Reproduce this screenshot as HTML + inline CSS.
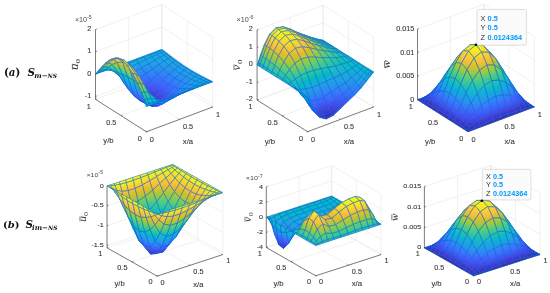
<!DOCTYPE html>
<html><head><meta charset="utf-8"><title>Displacement plots</title>
<style>html,body{margin:0;padding:0;background:#fff;width:550px;height:293px;overflow:hidden}svg{display:block;filter:blur(0.4px)}</style>
</head><body>
<svg width="550" height="293" viewBox="0 0 550 293" font-family="&apos;Liberation Sans&apos;, Arial, sans-serif">
<line x1="95.50" y1="96.50" x2="161.80" y2="71.70" stroke="#e2e2e2" stroke-width="0.5"/>
<line x1="161.80" y1="71.70" x2="212.70" y2="104.10" stroke="#e2e2e2" stroke-width="0.5"/>
<line x1="95.50" y1="74.16" x2="161.80" y2="49.36" stroke="#e2e2e2" stroke-width="0.5"/>
<line x1="161.80" y1="49.36" x2="212.70" y2="81.76" stroke="#e2e2e2" stroke-width="0.5"/>
<line x1="95.50" y1="51.83" x2="161.80" y2="27.03" stroke="#e2e2e2" stroke-width="0.5"/>
<line x1="161.80" y1="27.03" x2="212.70" y2="59.43" stroke="#e2e2e2" stroke-width="0.5"/>
<line x1="95.50" y1="29.50" x2="161.80" y2="4.70" stroke="#e2e2e2" stroke-width="0.5"/>
<line x1="161.80" y1="4.70" x2="212.70" y2="37.10" stroke="#e2e2e2" stroke-width="0.5"/>
<line x1="95.50" y1="99.40" x2="95.50" y2="29.50" stroke="#e2e2e2" stroke-width="0.5"/>
<line x1="212.70" y1="107.00" x2="212.70" y2="37.10" stroke="#e2e2e2" stroke-width="0.5"/>
<line x1="146.40" y1="131.80" x2="95.50" y2="99.40" stroke="#e2e2e2" stroke-width="0.5"/>
<line x1="146.40" y1="131.80" x2="212.70" y2="107.00" stroke="#e2e2e2" stroke-width="0.5"/>
<line x1="128.65" y1="87.00" x2="128.65" y2="17.10" stroke="#e2e2e2" stroke-width="0.5"/>
<line x1="187.25" y1="90.80" x2="187.25" y2="20.90" stroke="#e2e2e2" stroke-width="0.5"/>
<line x1="179.55" y1="119.40" x2="128.65" y2="87.00" stroke="#e2e2e2" stroke-width="0.5"/>
<line x1="120.95" y1="115.60" x2="187.25" y2="90.80" stroke="#e2e2e2" stroke-width="0.5"/>
<line x1="161.80" y1="74.60" x2="161.80" y2="4.70" stroke="#e2e2e2" stroke-width="0.5"/>
<line x1="161.80" y1="74.60" x2="161.80" y2="4.70" stroke="#e2e2e2" stroke-width="0.5"/>
<line x1="212.70" y1="107.00" x2="161.80" y2="74.60" stroke="#e2e2e2" stroke-width="0.5"/>
<line x1="95.50" y1="99.40" x2="161.80" y2="74.60" stroke="#e2e2e2" stroke-width="0.5"/>
<line x1="146.40" y1="131.80" x2="212.70" y2="107.00" stroke="#4a4a4a" stroke-width="0.7"/>
<line x1="146.40" y1="131.80" x2="95.50" y2="99.40" stroke="#4a4a4a" stroke-width="0.7"/>
<line x1="95.50" y1="99.40" x2="95.50" y2="29.50" stroke="#4a4a4a" stroke-width="0.7"/>
<line x1="146.40" y1="131.80" x2="145.38" y2="131.15" stroke="#4a4a4a" stroke-width="0.7"/>
<line x1="146.40" y1="131.80" x2="147.73" y2="131.30" stroke="#4a4a4a" stroke-width="0.7"/>
<line x1="179.55" y1="119.40" x2="178.53" y2="118.75" stroke="#4a4a4a" stroke-width="0.7"/>
<line x1="120.95" y1="115.60" x2="122.28" y2="115.10" stroke="#4a4a4a" stroke-width="0.7"/>
<line x1="212.70" y1="107.00" x2="211.68" y2="106.35" stroke="#4a4a4a" stroke-width="0.7"/>
<line x1="95.50" y1="99.40" x2="96.83" y2="98.90" stroke="#4a4a4a" stroke-width="0.7"/>
<line x1="95.50" y1="96.50" x2="96.83" y2="96.00" stroke="#4a4a4a" stroke-width="0.7"/>
<line x1="95.50" y1="74.16" x2="96.83" y2="73.67" stroke="#4a4a4a" stroke-width="0.7"/>
<line x1="95.50" y1="51.83" x2="96.83" y2="51.34" stroke="#4a4a4a" stroke-width="0.7"/>
<line x1="95.50" y1="29.50" x2="96.83" y2="29.00" stroke="#4a4a4a" stroke-width="0.7"/>
<defs><linearGradient id="a13" gradientUnits="userSpaceOnUse" x1="156.4" y1="60.4" x2="155.7" y2="54.9"><stop stop-color="#20a5e3"/><stop offset="1" stop-color="#18addb"/></linearGradient><linearGradient id="a15" gradientUnits="userSpaceOnUse" x1="163.9" y1="61.3" x2="164.3" y2="55.6"><stop stop-color="#20a5e3"/><stop offset="1" stop-color="#18addb"/></linearGradient><linearGradient id="a16" gradientUnits="userSpaceOnUse" x1="148.3" y1="59.1" x2="147.3" y2="55.7"><stop stop-color="#1ca9df"/><stop offset="1" stop-color="#12b1d6"/></linearGradient><linearGradient id="a18" gradientUnits="userSpaceOnUse" x1="159.4" y1="65" x2="159.6" y2="57.7"><stop stop-color="#259be8"/><stop offset="1" stop-color="#1ca9df"/></linearGradient><linearGradient id="a19" gradientUnits="userSpaceOnUse" x1="150.8" y1="63.6" x2="149.7" y2="57.5"><stop stop-color="#23a0e5"/><stop offset="1" stop-color="#18addb"/></linearGradient><linearGradient id="a20" gradientUnits="userSpaceOnUse" x1="171.1" y1="62.1" x2="172.3" y2="57.9"><stop stop-color="#20a5e3"/><stop offset="1" stop-color="#18addb"/></linearGradient><linearGradient id="a22" gradientUnits="userSpaceOnUse" x1="167.8" y1="65.3" x2="169.2" y2="59.1"><stop stop-color="#23a0e5"/><stop offset="1" stop-color="#1ca9df"/></linearGradient><linearGradient id="a23" gradientUnits="userSpaceOnUse" x1="141.8" y1="62.2" x2="140.6" y2="58.4"><stop stop-color="#20a5e3"/><stop offset="1" stop-color="#12b1d6"/></linearGradient><linearGradient id="a24" gradientUnits="userSpaceOnUse" x1="154" y1="69.2" x2="153.5" y2="60.7"><stop stop-color="#2b91ef"/><stop offset="1" stop-color="#20a5e3"/></linearGradient><linearGradient id="a25" gradientUnits="userSpaceOnUse" x1="144.4" y1="67.5" x2="142.9" y2="60.6"><stop stop-color="#2797eb"/><stop offset="1" stop-color="#1ca9df"/></linearGradient><linearGradient id="a26" gradientUnits="userSpaceOnUse" x1="163.2" y1="69.7" x2="164.6" y2="61.5"><stop stop-color="#2b91ef"/><stop offset="1" stop-color="#20a5e3"/></linearGradient><linearGradient id="a28" gradientUnits="userSpaceOnUse" x1="176" y1="65.7" x2="177.6" y2="61.9"><stop stop-color="#23a0e5"/><stop offset="1" stop-color="#1ca9df"/></linearGradient><linearGradient id="a29" gradientUnits="userSpaceOnUse" x1="147.7" y1="74.1" x2="146.6" y2="64.3"><stop stop-color="#2f81fa"/><stop offset="1" stop-color="#23a0e5"/></linearGradient><linearGradient id="a31" gradientUnits="userSpaceOnUse" x1="157.7" y1="74.9" x2="158.6" y2="64.9"><stop stop-color="#2f81fa"/><stop offset="1" stop-color="#259be8"/></linearGradient><linearGradient id="a32" gradientUnits="userSpaceOnUse" x1="134.7" y1="65.5" x2="133.3" y2="61.3"><stop stop-color="#20a5e3"/><stop offset="1" stop-color="#12b1d6"/></linearGradient><linearGradient id="a33" gradientUnits="userSpaceOnUse" x1="172.5" y1="69.1" x2="174.6" y2="63.3"><stop stop-color="#2797eb"/><stop offset="1" stop-color="#20a5e3"/></linearGradient><linearGradient id="a34" gradientUnits="userSpaceOnUse" x1="137.4" y1="71.5" x2="135.5" y2="64"><stop stop-color="#2d8cf3"/><stop offset="1" stop-color="#20a5e3"/></linearGradient><linearGradient id="a35" gradientUnits="userSpaceOnUse" x1="167.6" y1="74" x2="170.3" y2="66"><stop stop-color="#2e87f7"/><stop offset="1" stop-color="#23a0e5"/></linearGradient><linearGradient id="a36" gradientUnits="userSpaceOnUse" x1="151.4" y1="80.9" x2="151.7" y2="69.2"><stop stop-color="#4269fe"/><stop offset="1" stop-color="#2b91ef"/></linearGradient><linearGradient id="a37" gradientUnits="userSpaceOnUse" x1="140.8" y1="79.1" x2="139.1" y2="68.5"><stop stop-color="#3e6fff"/><stop offset="1" stop-color="#2797eb"/></linearGradient><linearGradient id="a39" gradientUnits="userSpaceOnUse" x1="162" y1="80" x2="164.4" y2="69.9"><stop stop-color="#3e6fff"/><stop offset="1" stop-color="#2b91ef"/></linearGradient><linearGradient id="a41" gradientUnits="userSpaceOnUse" x1="127.3" y1="68.6" x2="125.8" y2="64.2"><stop stop-color="#23a0e5"/><stop offset="1" stop-color="#18addb"/></linearGradient><linearGradient id="a43" gradientUnits="userSpaceOnUse" x1="144.6" y1="87" x2="144.1" y2="74.3"><stop stop-color="#4852f4"/><stop offset=".50" stop-color="#4269fe"/><stop offset="1" stop-color="#2f81fa"/></linearGradient><linearGradient id="a44" gradientUnits="userSpaceOnUse" x1="130.2" y1="75" x2="127.9" y2="67.6"><stop stop-color="#2e87f7"/><stop offset="1" stop-color="#20a5e3"/></linearGradient><linearGradient id="a45" gradientUnits="userSpaceOnUse" x1="177.9" y1="72.5" x2="180.4" y2="67.7"><stop stop-color="#2797eb"/><stop offset="1" stop-color="#23a0e5"/></linearGradient><linearGradient id="a46" gradientUnits="userSpaceOnUse" x1="155.4" y1="86.8" x2="157.7" y2="74.9"><stop stop-color="#4758f8"/><stop offset="1" stop-color="#2f81fa"/></linearGradient><linearGradient id="a47" gradientUnits="userSpaceOnUse" x1="133.8" y1="83.1" x2="131.4" y2="73"><stop stop-color="#4563fd"/><stop offset="1" stop-color="#2d8cf3"/></linearGradient><linearGradient id="a48" gradientUnits="userSpaceOnUse" x1="172.8" y1="77.5" x2="176.3" y2="70.7"><stop stop-color="#2e87f7"/><stop offset="1" stop-color="#2797eb"/></linearGradient><linearGradient id="a49" gradientUnits="userSpaceOnUse" x1="138" y1="91.6" x2="136" y2="79.8"><stop stop-color="#4741e5"/><stop offset="1" stop-color="#3e6fff"/></linearGradient><linearGradient id="a50" gradientUnits="userSpaceOnUse" x1="148.6" y1="93.8" x2="150.1" y2="80.8"><stop stop-color="#463cde"/><stop offset=".50" stop-color="#4852f4"/><stop offset="1" stop-color="#4269fe"/></linearGradient><linearGradient id="a52" gradientUnits="userSpaceOnUse" x1="120.5" y1="71.4" x2="118.5" y2="66.8"><stop stop-color="#23a0e5"/><stop offset="1" stop-color="#12b1d6"/></linearGradient><linearGradient id="a53" gradientUnits="userSpaceOnUse" x1="166.8" y1="83.6" x2="170.7" y2="75.2"><stop stop-color="#3e6fff"/><stop offset="1" stop-color="#2e87f7"/></linearGradient><linearGradient id="a55" gradientUnits="userSpaceOnUse" x1="124.3" y1="77.7" x2="119.8" y2="69.9"><stop stop-color="#2e87f7"/><stop offset="1" stop-color="#20a5e3"/></linearGradient><linearGradient id="a57" gradientUnits="userSpaceOnUse" x1="159.9" y1="90.7" x2="164.3" y2="80.7"><stop stop-color="#4852f4"/><stop offset="1" stop-color="#3e6fff"/></linearGradient><linearGradient id="a58" gradientUnits="userSpaceOnUse" x1="130" y1="84.9" x2="121.4" y2="75.5"><stop stop-color="#4563fd"/><stop offset=".50" stop-color="#327cfc"/><stop offset="1" stop-color="#2797eb"/></linearGradient><linearGradient id="a59" gradientUnits="userSpaceOnUse" x1="142.3" y1="99.2" x2="141.9" y2="87.1"><stop stop-color="#422ec0"/><stop offset="1" stop-color="#4852f4"/></linearGradient><linearGradient id="a60" gradientUnits="userSpaceOnUse" x1="183" y1="76" x2="186.5" y2="71.5"><stop stop-color="#2797eb"/><stop offset="1" stop-color="#23a0e5"/></linearGradient><linearGradient id="a62" gradientUnits="userSpaceOnUse" x1="152.8" y1="98.1" x2="157" y2="87.2"><stop stop-color="#4332cb"/><stop offset="1" stop-color="#4758f8"/></linearGradient><linearGradient id="a63" gradientUnits="userSpaceOnUse" x1="177.7" y1="80.8" x2="182.6" y2="74.6"><stop stop-color="#2e87f7"/><stop offset="1" stop-color="#2797eb"/></linearGradient><linearGradient id="a64" gradientUnits="userSpaceOnUse" x1="136.9" y1="90.4" x2="123.7" y2="84.1"><stop stop-color="#4741e5"/><stop offset=".50" stop-color="#465efb"/><stop offset="1" stop-color="#327cfc"/></linearGradient><linearGradient id="a65" gradientUnits="userSpaceOnUse" x1="115.8" y1="73.1" x2="110.6" y2="67.7"><stop stop-color="#20a5e3"/><stop offset="1" stop-color="#08b5d0"/></linearGradient><linearGradient id="a66" gradientUnits="userSpaceOnUse" x1="171.1" y1="86.7" x2="177.7" y2="79.2"><stop stop-color="#3e6fff"/><stop offset="1" stop-color="#2e87f7"/></linearGradient><linearGradient id="a67" gradientUnits="userSpaceOnUse" x1="146.3" y1="104.1" x2="148.8" y2="93.8"><stop stop-color="#3e26a8"/><stop offset="1" stop-color="#463cde"/></linearGradient><linearGradient id="a69" gradientUnits="userSpaceOnUse" x1="120.4" y1="76.1" x2="111.2" y2="69.5"><stop stop-color="#2797eb"/><stop offset=".50" stop-color="#1ca9df"/><stop offset="1" stop-color="#01b8ca"/></linearGradient><linearGradient id="a70" gradientUnits="userSpaceOnUse" x1="191.8" y1="76.1" x2="195.1" y2="72.7"><stop stop-color="#23a0e5"/><stop offset="1" stop-color="#1ca9df"/></linearGradient><linearGradient id="a71" gradientUnits="userSpaceOnUse" x1="140.3" y1="93.1" x2="130.1" y2="95.1"><stop stop-color="#422ec0"/><stop offset=".50" stop-color="#4747eb"/><stop offset="1" stop-color="#4563fd"/></linearGradient><linearGradient id="a73" gradientUnits="userSpaceOnUse" x1="163.6" y1="93.5" x2="171.8" y2="85.1"><stop stop-color="#4852f4"/><stop offset="1" stop-color="#3e6fff"/></linearGradient><linearGradient id="a74" gradientUnits="userSpaceOnUse" x1="187.4" y1="79.2" x2="193" y2="74.5"><stop stop-color="#2797eb"/><stop offset="1" stop-color="#20a5e3"/></linearGradient><linearGradient id="a75" gradientUnits="userSpaceOnUse" x1="107.1" y1="70.8" x2="106.7" y2="68.7"><stop stop-color="#08b5d0"/><stop offset="1" stop-color="#19bfb6"/></linearGradient><linearGradient id="a76" gradientUnits="userSpaceOnUse" x1="117.3" y1="80.1" x2="119.8" y2="72.2"><stop stop-color="#327cfc"/><stop offset=".50" stop-color="#20a5e3"/><stop offset="1" stop-color="#0bbdbd"/></linearGradient><linearGradient id="a77" gradientUnits="userSpaceOnUse" x1="155.7" y1="100.5" x2="165.3" y2="92"><stop stop-color="#4332cb"/><stop offset="1" stop-color="#4758f8"/></linearGradient><linearGradient id="a78" gradientUnits="userSpaceOnUse" x1="181.5" y1="83.4" x2="189.5" y2="77.7"><stop stop-color="#2e87f7"/><stop offset="1" stop-color="#23a0e5"/></linearGradient><linearGradient id="a80" gradientUnits="userSpaceOnUse" x1="141.5" y1="98.8" x2="139.4" y2="101"><stop stop-color="#3e26a8"/><stop offset=".50" stop-color="#4537d5"/><stop offset="1" stop-color="#4852f4"/></linearGradient><linearGradient id="a82" gradientUnits="userSpaceOnUse" x1="174.1" y1="87.9" x2="185.2" y2="83"><stop stop-color="#3e6fff"/><stop offset="1" stop-color="#2b91ef"/></linearGradient><linearGradient id="a84" gradientUnits="userSpaceOnUse" x1="147.1" y1="105.2" x2="159.2" y2="99.8"><stop stop-color="#3e26a8"/><stop offset="1" stop-color="#463cde"/></linearGradient><linearGradient id="a85" gradientUnits="userSpaceOnUse" x1="102.5" y1="71.3" x2="102.1" y2="69.9"><stop stop-color="#08b5d0"/><stop offset="1" stop-color="#24c1ae"/></linearGradient><linearGradient id="a86" gradientUnits="userSpaceOnUse" x1="196" y1="78.6" x2="200.9" y2="75.6"><stop stop-color="#20a5e3"/><stop offset="1" stop-color="#18addb"/></linearGradient><linearGradient id="a87" gradientUnits="userSpaceOnUse" x1="109.3" y1="71" x2="109.5" y2="67.1"><stop stop-color="#08b5d0"/><stop offset=".50" stop-color="#19bfb6"/><stop offset="1" stop-color="#3fca8e"/></linearGradient><linearGradient id="a89" gradientUnits="userSpaceOnUse" x1="120.5" y1="83.8" x2="125.4" y2="76.4"><stop stop-color="#4563fd"/><stop offset=".33" stop-color="#2d8cf3"/><stop offset=".67" stop-color="#1ca9df"/><stop offset="1" stop-color="#19bfb6"/></linearGradient><linearGradient id="a90" gradientUnits="userSpaceOnUse" x1="191.1" y1="80.6" x2="199.1" y2="77.8"><stop stop-color="#23a0e5"/><stop offset="1" stop-color="#1ca9df"/></linearGradient><linearGradient id="a91" gradientUnits="userSpaceOnUse" x1="166.5" y1="92.7" x2="179.4" y2="89.7"><stop stop-color="#4758f8"/><stop offset="1" stop-color="#2f81fa"/></linearGradient><linearGradient id="a92" gradientUnits="userSpaceOnUse" x1="99.4" y1="72.2" x2="98.9" y2="70.8"><stop stop-color="#01b8ca"/><stop offset="1" stop-color="#24c1ae"/></linearGradient><linearGradient id="a93" gradientUnits="userSpaceOnUse" x1="97.8" y1="72.8" x2="97.2" y2="71.3"><stop stop-color="#01b8ca"/><stop offset="1" stop-color="#24c1ae"/></linearGradient><linearGradient id="a94" gradientUnits="userSpaceOnUse" x1="185.3" y1="83.4" x2="195.5" y2="81.5"><stop stop-color="#2b91ef"/><stop offset="1" stop-color="#20a5e3"/></linearGradient><linearGradient id="a95" gradientUnits="userSpaceOnUse" x1="159.6" y1="97.3" x2="172" y2="97.9"><stop stop-color="#463cde"/><stop offset=".50" stop-color="#4852f4"/><stop offset="1" stop-color="#4269fe"/></linearGradient><linearGradient id="a97" gradientUnits="userSpaceOnUse" x1="105" y1="69.6" x2="104.5" y2="66.8"><stop stop-color="#19bfb6"/><stop offset="1" stop-color="#57cc7a"/></linearGradient><linearGradient id="a98" gradientUnits="userSpaceOnUse" x1="145.9" y1="103.8" x2="146.2" y2="103.3"><stop stop-color="#3e26a8"/><stop offset=".50" stop-color="#4537d5"/><stop offset="1" stop-color="#4852f4"/></linearGradient><linearGradient id="a100" gradientUnits="userSpaceOnUse" x1="124.8" y1="89.3" x2="131.4" y2="79.5"><stop stop-color="#4852f4"/><stop offset=".25" stop-color="#3875fe"/><stop offset=".50" stop-color="#2797eb"/><stop offset=".75" stop-color="#12b1d6"/><stop offset="1" stop-color="#24c1ae"/></linearGradient><linearGradient id="a101" gradientUnits="userSpaceOnUse" x1="112.2" y1="71.5" x2="113.9" y2="64.9"><stop stop-color="#01b8ca"/><stop offset=".50" stop-color="#37c897"/><stop offset="1" stop-color="#8fcb4e"/></linearGradient><linearGradient id="a102" gradientUnits="userSpaceOnUse" x1="179.5" y1="85.7" x2="189.8" y2="87.4"><stop stop-color="#2f81fa"/><stop offset="1" stop-color="#259be8"/></linearGradient><linearGradient id="a103" gradientUnits="userSpaceOnUse" x1="195.7" y1="80" x2="203.2" y2="81.6"><stop stop-color="#20a5e3"/><stop offset="1" stop-color="#18addb"/></linearGradient><linearGradient id="a104" gradientUnits="userSpaceOnUse" x1="155.6" y1="101.3" x2="161.7" y2="105.6"><stop stop-color="#422ec0"/><stop offset="1" stop-color="#4852f4"/></linearGradient><linearGradient id="a105" gradientUnits="userSpaceOnUse" x1="102" y1="69.9" x2="101.2" y2="67.4"><stop stop-color="#24c1ae"/><stop offset="1" stop-color="#57cc7a"/></linearGradient><linearGradient id="a107" gradientUnits="userSpaceOnUse" x1="100.3" y1="70.3" x2="99.6" y2="67.9"><stop stop-color="#24c1ae"/><stop offset="1" stop-color="#57cc7a"/></linearGradient><linearGradient id="a108" gradientUnits="userSpaceOnUse" x1="173.9" y1="89.9" x2="182.3" y2="93.3"><stop stop-color="#4269fe"/><stop offset="1" stop-color="#2b91ef"/></linearGradient><linearGradient id="a109" gradientUnits="userSpaceOnUse" x1="191.2" y1="82" x2="198.5" y2="84.9"><stop stop-color="#259be8"/><stop offset="1" stop-color="#1ca9df"/></linearGradient><linearGradient id="a113" gradientUnits="userSpaceOnUse" x1="130" y1="94.1" x2="137.4" y2="82.8"><stop stop-color="#4747eb"/><stop offset=".25" stop-color="#3e6fff"/><stop offset=".50" stop-color="#2797eb"/><stop offset=".75" stop-color="#12b1d6"/><stop offset="1" stop-color="#2cc4a7"/></linearGradient><linearGradient id="a114" gradientUnits="userSpaceOnUse" x1="168.6" y1="95.5" x2="173.6" y2="99"><stop stop-color="#4852f4"/><stop offset=".50" stop-color="#4269fe"/><stop offset="1" stop-color="#2f81fa"/></linearGradient><linearGradient id="a115" gradientUnits="userSpaceOnUse" x1="108.5" y1="67.2" x2="108.2" y2="62.9"><stop stop-color="#3fca8e"/><stop offset=".50" stop-color="#72cd64"/><stop offset="1" stop-color="#b9c431"/></linearGradient><linearGradient id="a116" gradientUnits="userSpaceOnUse" x1="186.9" y1="85.2" x2="191.7" y2="88.9"><stop stop-color="#2b91ef"/><stop offset="1" stop-color="#20a5e3"/></linearGradient><linearGradient id="a118" gradientUnits="userSpaceOnUse" x1="151.3" y1="106.1" x2="151.8" y2="103.6"><stop stop-color="#422ec0"/><stop offset=".50" stop-color="#4747eb"/><stop offset="1" stop-color="#4563fd"/></linearGradient><linearGradient id="a119" gradientUnits="userSpaceOnUse" x1="115.8" y1="72.3" x2="119.3" y2="63.4"><stop stop-color="#0bbdbd"/><stop offset=".33" stop-color="#3fca8e"/><stop offset=".67" stop-color="#8fcb4e"/><stop offset="1" stop-color="#dcbd29"/></linearGradient><linearGradient id="a122" gradientUnits="userSpaceOnUse" x1="197.2" y1="82.8" x2="200" y2="85.9"><stop stop-color="#20a5e3"/><stop offset="1" stop-color="#18addb"/></linearGradient><linearGradient id="a124" gradientUnits="userSpaceOnUse" x1="105.5" y1="66.5" x2="104.7" y2="63.4"><stop stop-color="#57cc7a"/><stop offset=".50" stop-color="#8fcb4e"/><stop offset="1" stop-color="#c5c22a"/></linearGradient><linearGradient id="a125" gradientUnits="userSpaceOnUse" x1="163.2" y1="101.6" x2="164.5" y2="103.4"><stop stop-color="#4741e5"/><stop offset="1" stop-color="#3e6fff"/></linearGradient><linearGradient id="a126" gradientUnits="userSpaceOnUse" x1="181.2" y1="89.8" x2="184.3" y2="92.9"><stop stop-color="#2f81fa"/><stop offset="1" stop-color="#23a0e5"/></linearGradient><linearGradient id="a128" gradientUnits="userSpaceOnUse" x1="103.9" y1="66.7" x2="103.1" y2="63.8"><stop stop-color="#57cc7a"/><stop offset=".50" stop-color="#8fcb4e"/><stop offset="1" stop-color="#c5c22a"/></linearGradient><linearGradient id="a129" gradientUnits="userSpaceOnUse" x1="192.1" y1="86.2" x2="193.8" y2="88.5"><stop stop-color="#23a0e5"/><stop offset="1" stop-color="#18addb"/></linearGradient><linearGradient id="a131" gradientUnits="userSpaceOnUse" x1="135.7" y1="98" x2="143" y2="86.2"><stop stop-color="#4747eb"/><stop offset=".25" stop-color="#3e6fff"/><stop offset=".50" stop-color="#2797eb"/><stop offset=".75" stop-color="#12b1d6"/><stop offset="1" stop-color="#2cc4a7"/></linearGradient><linearGradient id="a132" gradientUnits="userSpaceOnUse" x1="174.8" y1="95.1" x2="176.4" y2="97"><stop stop-color="#3e6fff"/><stop offset="1" stop-color="#2797eb"/></linearGradient><linearGradient id="a134" gradientUnits="userSpaceOnUse" x1="120.1" y1="73.5" x2="125.2" y2="63.4"><stop stop-color="#19bfb6"/><stop offset=".33" stop-color="#57cc7a"/><stop offset=".67" stop-color="#b9c431"/><stop offset="1" stop-color="#febe3c"/></linearGradient><linearGradient id="a135" gradientUnits="userSpaceOnUse" x1="112.6" y1="64.6" x2="112.9" y2="59.6"><stop stop-color="#8fcb4e"/><stop offset=".50" stop-color="#d1bf27"/><stop offset="1" stop-color="#fec338"/></linearGradient><linearGradient id="a136" gradientUnits="userSpaceOnUse" x1="156.6" y1="105.8" x2="156.7" y2="102.7"><stop stop-color="#4741e5"/><stop offset=".50" stop-color="#465efb"/><stop offset="1" stop-color="#327cfc"/></linearGradient><linearGradient id="a137" gradientUnits="userSpaceOnUse" x1="195.2" y1="86.9" x2="195.7" y2="88"><stop stop-color="#1ca9df"/><stop offset="1" stop-color="#12b1d6"/></linearGradient><linearGradient id="a138" gradientUnits="userSpaceOnUse" x1="185.8" y1="90" x2="186.9" y2="91.7"><stop stop-color="#2797eb"/><stop offset="1" stop-color="#1ca9df"/></linearGradient><linearGradient id="a140" gradientUnits="userSpaceOnUse" x1="168.6" y1="101.3" x2="168" y2="99.9"><stop stop-color="#4563fd"/><stop offset="1" stop-color="#2d8cf3"/></linearGradient><linearGradient id="a141" gradientUnits="userSpaceOnUse" x1="109.8" y1="62.6" x2="109.3" y2="59.8"><stop stop-color="#b9c431"/><stop offset=".50" stop-color="#e6bb2d"/><stop offset="1" stop-color="#fec934"/></linearGradient><linearGradient id="a142" gradientUnits="userSpaceOnUse" x1="141.6" y1="100.7" x2="148" y2="89.4"><stop stop-color="#4852f4"/><stop offset=".25" stop-color="#3875fe"/><stop offset=".50" stop-color="#2797eb"/><stop offset=".75" stop-color="#12b1d6"/><stop offset="1" stop-color="#24c1ae"/></linearGradient><linearGradient id="a143" gradientUnits="userSpaceOnUse" x1="108.2" y1="62.6" x2="107.6" y2="60.1"><stop stop-color="#c5c22a"/><stop offset=".50" stop-color="#f0ba36"/><stop offset="1" stop-color="#fec934"/></linearGradient><linearGradient id="a144" gradientUnits="userSpaceOnUse" x1="188.7" y1="90" x2="189" y2="90.8"><stop stop-color="#20a5e3"/><stop offset="1" stop-color="#12b1d6"/></linearGradient><linearGradient id="a145" gradientUnits="userSpaceOnUse" x1="178.5" y1="93.7" x2="179.8" y2="95.5"><stop stop-color="#2d8cf3"/><stop offset="1" stop-color="#20a5e3"/></linearGradient><linearGradient id="a146" gradientUnits="userSpaceOnUse" x1="125.2" y1="75.5" x2="130.9" y2="65.8"><stop stop-color="#24c1ae"/><stop offset=".33" stop-color="#72cd64"/><stop offset=".67" stop-color="#d1bf27"/><stop offset="1" stop-color="#fec934"/></linearGradient><linearGradient id="a148" gradientUnits="userSpaceOnUse" x1="161.3" y1="103.9" x2="161" y2="101.3"><stop stop-color="#4563fd"/><stop offset=".50" stop-color="#327cfc"/><stop offset="1" stop-color="#2797eb"/></linearGradient><linearGradient id="a149" gradientUnits="userSpaceOnUse" x1="117.4" y1="62.5" x2="118.4" y2="58.3"><stop stop-color="#dcbd29"/><stop offset=".50" stop-color="#fec338"/><stop offset="1" stop-color="#f5e327"/></linearGradient><linearGradient id="a150" gradientUnits="userSpaceOnUse" x1="172" y1="98.8" x2="171.7" y2="98"><stop stop-color="#2e87f7"/><stop offset="1" stop-color="#20a5e3"/></linearGradient><linearGradient id="a151" gradientUnits="userSpaceOnUse" x1="181.8" y1="93.9" x2="181.5" y2="93.3"><stop stop-color="#20a5e3"/><stop offset="1" stop-color="#12b1d6"/></linearGradient><linearGradient id="a152" gradientUnits="userSpaceOnUse" x1="147.6" y1="102" x2="152.1" y2="92.7"><stop stop-color="#4563fd"/><stop offset=".33" stop-color="#2d8cf3"/><stop offset=".67" stop-color="#1ca9df"/><stop offset="1" stop-color="#19bfb6"/></linearGradient><linearGradient id="a154" gradientUnits="userSpaceOnUse" x1="114.7" y1="59.5" x2="114.6" y2="58.1"><stop stop-color="#fec338"/><stop offset="1" stop-color="#f6ef20"/></linearGradient><linearGradient id="a155" gradientUnits="userSpaceOnUse" x1="130.8" y1="78.5" x2="136.7" y2="69.9"><stop stop-color="#24c1ae"/><stop offset=".33" stop-color="#72cd64"/><stop offset=".67" stop-color="#d1bf27"/><stop offset="1" stop-color="#fec934"/></linearGradient><linearGradient id="a156" gradientUnits="userSpaceOnUse" x1="174.4" y1="97" x2="174.2" y2="96.4"><stop stop-color="#23a0e5"/><stop offset="1" stop-color="#18addb"/></linearGradient><linearGradient id="a157" gradientUnits="userSpaceOnUse" x1="113.1" y1="59.3" x2="113" y2="58.3"><stop stop-color="#fec934"/><stop offset="1" stop-color="#f6ef20"/></linearGradient><linearGradient id="a158" gradientUnits="userSpaceOnUse" x1="164.8" y1="101.6" x2="164.5" y2="99.9"><stop stop-color="#2e87f7"/><stop offset="1" stop-color="#20a5e3"/></linearGradient><linearGradient id="a159" gradientUnits="userSpaceOnUse" x1="153.2" y1="102.3" x2="155.5" y2="95.4"><stop stop-color="#327cfc"/><stop offset=".50" stop-color="#20a5e3"/><stop offset="1" stop-color="#0bbdbd"/></linearGradient><linearGradient id="a161" gradientUnits="userSpaceOnUse" x1="122.9" y1="62.1" x2="123.9" y2="60"><stop stop-color="#febe3c"/><stop offset=".50" stop-color="#fad62d"/><stop offset="1" stop-color="#f6ef20"/></linearGradient><linearGradient id="a162" gradientUnits="userSpaceOnUse" x1="136.7" y1="82.6" x2="142" y2="75.8"><stop stop-color="#19bfb6"/><stop offset=".33" stop-color="#57cc7a"/><stop offset=".67" stop-color="#b9c431"/><stop offset="1" stop-color="#febe3c"/></linearGradient><linearGradient id="a163" gradientUnits="userSpaceOnUse" x1="167.2" y1="99.7" x2="167" y2="98.8"><stop stop-color="#23a0e5"/><stop offset="1" stop-color="#12b1d6"/></linearGradient><linearGradient id="a164" gradientUnits="userSpaceOnUse" x1="120.3" y1="58.6" x2="120.1" y2="59.4"><stop stop-color="#f5e327"/><stop offset="1" stop-color="#f9fb15"/></linearGradient><linearGradient id="a165" gradientUnits="userSpaceOnUse" x1="158" y1="102.8" x2="158" y2="97.2"><stop stop-color="#2797eb"/><stop offset=".50" stop-color="#1ca9df"/><stop offset="1" stop-color="#01b8ca"/></linearGradient><linearGradient id="a167" gradientUnits="userSpaceOnUse" x1="118.6" y1="58.4" x2="118.5" y2="59.4"><stop stop-color="#f6ef20"/><stop offset="1" stop-color="#f9fb15"/></linearGradient><linearGradient id="a168" gradientUnits="userSpaceOnUse" x1="142.5" y1="87.6" x2="146.5" y2="82.8"><stop stop-color="#0bbdbd"/><stop offset=".33" stop-color="#3fca8e"/><stop offset=".67" stop-color="#8fcb4e"/><stop offset="1" stop-color="#dcbd29"/></linearGradient><linearGradient id="a169" gradientUnits="userSpaceOnUse" x1="128.9" y1="64.8" x2="129.2" y2="64.5"><stop stop-color="#febe3c"/><stop offset=".50" stop-color="#fad62d"/><stop offset="1" stop-color="#f6ef20"/></linearGradient><linearGradient id="a170" gradientUnits="userSpaceOnUse" x1="162.2" y1="103.4" x2="159.2" y2="98.2"><stop stop-color="#20a5e3"/><stop offset="1" stop-color="#08b5d0"/></linearGradient><linearGradient id="a171" gradientUnits="userSpaceOnUse" x1="153.5" y1="94.2" x2="141.8" y2="87.8"><stop stop-color="#01b8ca"/><stop offset=".50" stop-color="#37c897"/><stop offset="1" stop-color="#8fcb4e"/></linearGradient><linearGradient id="a173" gradientUnits="userSpaceOnUse" x1="128.4" y1="61.6" x2="123.2" y2="63.6"><stop stop-color="#f5e327"/><stop offset="1" stop-color="#f9fb15"/></linearGradient><linearGradient id="a174" gradientUnits="userSpaceOnUse" x1="136.9" y1="70.3" x2="131.9" y2="72"><stop stop-color="#dcbd29"/><stop offset=".50" stop-color="#fec338"/><stop offset="1" stop-color="#f5e327"/></linearGradient><linearGradient id="a175" gradientUnits="userSpaceOnUse" x1="155.8" y1="98.3" x2="146.6" y2="94.2"><stop stop-color="#08b5d0"/><stop offset=".50" stop-color="#19bfb6"/><stop offset="1" stop-color="#3fca8e"/></linearGradient><linearGradient id="a176" gradientUnits="userSpaceOnUse" x1="127.1" y1="62.2" x2="121.3" y2="62.8"><stop stop-color="#f6ef20"/><stop offset="1" stop-color="#f9fb15"/></linearGradient><linearGradient id="a177" gradientUnits="userSpaceOnUse" x1="156" y1="102.2" x2="152.2" y2="97.2"><stop stop-color="#08b5d0"/><stop offset="1" stop-color="#19bfb6"/></linearGradient><linearGradient id="a179" gradientUnits="userSpaceOnUse" x1="144.8" y1="80.9" x2="133.8" y2="77.7"><stop stop-color="#8fcb4e"/><stop offset=".50" stop-color="#d1bf27"/><stop offset="1" stop-color="#fec338"/></linearGradient><linearGradient id="a180" gradientUnits="userSpaceOnUse" x1="135.8" y1="72.9" x2="126.8" y2="65.9"><stop stop-color="#fec338"/><stop offset="1" stop-color="#f6ef20"/></linearGradient><linearGradient id="a181" gradientUnits="userSpaceOnUse" x1="148.3" y1="91.8" x2="139.3" y2="83.6"><stop stop-color="#3fca8e"/><stop offset=".50" stop-color="#72cd64"/><stop offset="1" stop-color="#b9c431"/></linearGradient><linearGradient id="a182" gradientUnits="userSpaceOnUse" x1="149.9" y1="99.2" x2="144.9" y2="91.3"><stop stop-color="#19bfb6"/><stop offset="1" stop-color="#57cc7a"/></linearGradient><linearGradient id="a183" gradientUnits="userSpaceOnUse" x1="133.2" y1="73.2" x2="126.2" y2="65.6"><stop stop-color="#fec934"/><stop offset="1" stop-color="#f6ef20"/></linearGradient><linearGradient id="a184" gradientUnits="userSpaceOnUse" x1="151.1" y1="103.3" x2="148.8" y2="98.4"><stop stop-color="#08b5d0"/><stop offset="1" stop-color="#24c1ae"/></linearGradient><linearGradient id="a186" gradientUnits="userSpaceOnUse" x1="139.8" y1="83.2" x2="133" y2="73.4"><stop stop-color="#b9c431"/><stop offset=".50" stop-color="#e6bb2d"/><stop offset="1" stop-color="#fec934"/></linearGradient><linearGradient id="a187" gradientUnits="userSpaceOnUse" x1="143.4" y1="92.4" x2="138.3" y2="82.9"><stop stop-color="#57cc7a"/><stop offset=".50" stop-color="#8fcb4e"/><stop offset="1" stop-color="#c5c22a"/></linearGradient><linearGradient id="a188" gradientUnits="userSpaceOnUse" x1="137.7" y1="83.2" x2="131.9" y2="73.6"><stop stop-color="#c5c22a"/><stop offset=".50" stop-color="#f0ba36"/><stop offset="1" stop-color="#fec934"/></linearGradient><linearGradient id="a189" gradientUnits="userSpaceOnUse" x1="146.1" y1="99.7" x2="142.7" y2="92.1"><stop stop-color="#24c1ae"/><stop offset="1" stop-color="#57cc7a"/></linearGradient><linearGradient id="a190" gradientUnits="userSpaceOnUse" x1="147.8" y1="104.3" x2="145.9" y2="99.5"><stop stop-color="#01b8ca"/><stop offset="1" stop-color="#24c1ae"/></linearGradient><linearGradient id="a192" gradientUnits="userSpaceOnUse" x1="141.5" y1="92.6" x2="137" y2="83.3"><stop stop-color="#57cc7a"/><stop offset=".50" stop-color="#8fcb4e"/><stop offset="1" stop-color="#c5c22a"/></linearGradient><linearGradient id="a193" gradientUnits="userSpaceOnUse" x1="144.4" y1="100.1" x2="141.2" y2="92.6"><stop stop-color="#24c1ae"/><stop offset="1" stop-color="#57cc7a"/></linearGradient><linearGradient id="a195" gradientUnits="userSpaceOnUse" x1="146.2" y1="104.8" x2="144.3" y2="100.1"><stop stop-color="#01b8ca"/><stop offset="1" stop-color="#24c1ae"/></linearGradient></defs><g stroke-width="0.65" stroke-linejoin="round"><polygon points="161.6,50.2 162.4,49.9 161.8,49.4 161,49.7" fill="#12b1d6" stroke="#0373d6"/>
<polygon points="159.2,51.1 161.6,50.2 161,49.7 158.5,50.6" fill="#12b1d6" stroke="#0373d6"/>
<polygon points="163.5,51.7 164.3,51.3 162.4,49.9 161.6,50.2" fill="#12b1d6" stroke="#0373d6"/>
<polygon points="161,52.8 163.5,51.7 161.6,50.2 159.2,51.1" fill="#12b1d6" stroke="#0373d6"/>
<polygon points="155.2,52.7 159.2,51.1 158.5,50.6 154.6,52.1" fill="#12b1d6" stroke="#0373d6"/>
<polygon points="166.5,54.1 167.4,53.6 164.3,51.3 163.5,51.7" fill="#12b1d6" stroke="#0373d6"/>
<polygon points="157.1,54.5 161,52.8 159.2,51.1 155.2,52.7" fill="#12b1d6" stroke="#0373d6"/>
<polygon points="164.1,55.3 166.5,54.1 163.5,51.7 161,52.8" fill="#18addb" stroke="#0472d7"/>
<polygon points="150,54.8 155.2,52.7 154.6,52.1 149.3,54" fill="#12b1d6" stroke="#0373d6"/>
<polygon points="160.1,57.4 164.1,55.3 161,52.8 157.1,54.5" fill="#18addb" stroke="#0472d7"/>
<polygon points="151.8,56.9 157.1,54.5 155.2,52.7 150,54.8" fill="#12b1d6" stroke="#0373d6"/>
<polygon points="170.6,57.2 171.4,56.7 167.4,53.6 166.5,54.1" fill="#18addb" stroke="#0472d7"/>
<polygon points="168.1,58.7 170.6,57.2 166.5,54.1 164.1,55.3" fill="#18addb" stroke="#0472d7"/>
<polygon points="154.9,60.3 160.1,57.4 157.1,54.5 151.8,56.9" fill="url(#a13)" stroke="#0571d8"/>
<polygon points="143.7,57.3 150,54.8 149.3,54 143,56.4" fill="#12b1d6" stroke="#0373d6"/>
<polygon points="164.1,61.1 168.1,58.7 164.1,55.3 160.1,57.4" fill="url(#a15)" stroke="#0571d8"/>
<polygon points="145.6,59.8 151.8,56.9 150,54.8 143.7,57.3" fill="url(#a16)" stroke="#0472d7"/>
<polygon points="175.4,60.9 176.2,60.3 171.4,56.7 170.6,57.2" fill="#1ca9df" stroke="#0571d8"/>
<polygon points="158.9,64.7 164.1,61.1 160.1,57.4 154.9,60.3" fill="url(#a18)" stroke="#0671d9"/>
<polygon points="148.6,63.9 154.9,60.3 151.8,56.9 145.6,59.8" fill="url(#a19)" stroke="#0671d9"/>
<polygon points="172.9,62.6 175.4,60.9 170.6,57.2 168.1,58.7" fill="url(#a20)" stroke="#0571d8"/>
<polygon points="136.7,60 143.7,57.3 143,56.4 136,59" fill="#12b1d6" stroke="#0373d6"/>
<polygon points="169,65.4 172.9,62.6 168.1,58.7 164.1,61.1" fill="url(#a22)" stroke="#0671d9"/>
<polygon points="138.5,63.1 145.6,59.8 143.7,57.3 136.7,60" fill="url(#a23)" stroke="#0472d7"/>
<polygon points="152.6,69 158.9,64.7 154.9,60.3 148.6,63.9" fill="url(#a24)" stroke="#076fda"/>
<polygon points="141.6,67.9 148.6,63.9 145.6,59.8 138.5,63.1" fill="url(#a25)" stroke="#0670d9"/>
<polygon points="163.7,69.6 169,65.4 164.1,61.1 158.9,64.7" fill="url(#a26)" stroke="#076fda"/>
<polygon points="180.8,64.7 181.6,64.1 176.2,60.3 175.4,60.9" fill="#1ca9df" stroke="#0571d8"/>
<polygon points="178.3,66.6 180.8,64.7 175.4,60.9 172.9,62.6" fill="url(#a28)" stroke="#0671d9"/>
<polygon points="145.6,74.1 152.6,69 148.6,63.9 141.6,67.9" fill="url(#a29)" stroke="#086ddb"/>
<polygon points="129.3,63 136.7,60 136,59 128.7,61.8" fill="#12b1d6" stroke="#0373d6"/>
<polygon points="157.4,74.7 163.7,69.6 158.9,64.7 152.6,69" fill="url(#a31)" stroke="#086ddb"/>
<polygon points="131.2,66.6 138.5,63.1 136.7,60 129.3,63" fill="url(#a32)" stroke="#0571d8"/>
<polygon points="174.4,69.7 178.3,66.6 172.9,62.6 169,65.4" fill="url(#a33)" stroke="#0670d9"/>
<polygon points="134.2,72.2 141.6,67.9 138.5,63.1 131.2,66.6" fill="url(#a34)" stroke="#076fda"/>
<polygon points="169.1,74.3 174.4,69.7 169,65.4 163.7,69.6" fill="url(#a35)" stroke="#076edb"/>
<polygon points="150.4,80.7 157.4,74.7 152.6,69 145.6,74.1" fill="url(#a36)" stroke="#0969de"/>
<polygon points="138.2,79.3 145.6,74.1 141.6,67.9 134.2,72.2" fill="url(#a37)" stroke="#096bdd"/>
<polygon points="186.4,68.5 187.2,67.8 181.6,64.1 180.8,64.7" fill="#1ca9df" stroke="#0571d8"/>
<polygon points="162.8,80 169.1,74.3 163.7,69.6 157.4,74.7" fill="url(#a39)" stroke="#0969de"/>
<polygon points="121.9,65.9 129.3,63 128.7,61.8 121.3,64.5" fill="#12b1d6" stroke="#0373d6"/>
<polygon points="123.8,69.8 131.2,66.6 129.3,63 121.9,65.9" fill="url(#a41)" stroke="#0571d8"/>
<polygon points="184,70.4 186.4,68.5 180.8,64.7 178.3,66.6" fill="#20a5e3" stroke="#0671d9"/>
<polygon points="143.1,86.9 150.4,80.7 145.6,74.1 138.2,79.3" fill="url(#a43)" stroke="#0d65de"/>
<polygon points="126.8,75.9 134.2,72.2 131.2,66.6 123.8,69.8" fill="url(#a44)" stroke="#076edb"/>
<polygon points="180,73.6 184,70.4 178.3,66.6 174.4,69.7" fill="url(#a45)" stroke="#076fda"/>
<polygon points="155.8,86.7 162.8,80 157.4,74.7 150.4,80.7" fill="url(#a46)" stroke="#0d65de"/>
<polygon points="130.9,83.7 138.2,79.3 134.2,72.2 126.8,75.9" fill="url(#a47)" stroke="#0968de"/>
<polygon points="174.8,78.4 180,73.6 174.4,69.7 169.1,74.3" fill="url(#a48)" stroke="#086ddb"/>
<polygon points="135.7,91.9 143.1,86.9 138.2,79.3 130.9,83.7" fill="url(#a49)" stroke="#0e61dd"/>
<polygon points="148.4,93.7 155.8,86.7 150.4,80.7 143.1,86.9" fill="url(#a50)" stroke="#0e60dc"/>
<polygon points="114.9,68.2 121.9,65.9 121.3,64.5 114.3,67.1" fill="#12b1d6" stroke="#0373d6"/>
<polygon points="116.8,71.4 123.8,69.8 121.9,65.9 114.9,68.2" fill="url(#a52)" stroke="#0571d8"/>
<polygon points="168.5,84.3 174.8,78.4 169.1,74.3 162.8,80" fill="url(#a53)" stroke="#0968de"/>
<polygon points="192.1,71.9 192.9,71.3 187.2,67.8 186.4,68.5" fill="#1ca9df" stroke="#0571d8"/>
<polygon points="119.8,76.5 126.8,75.9 123.8,69.8 116.8,71.4" fill="url(#a55)" stroke="#076fda"/>
<polygon points="189.6,73.8 192.1,71.9 186.4,68.5 184,70.4" fill="#20a5e3" stroke="#0671d9"/>
<polygon points="161.5,91.3 168.5,84.3 162.8,80 155.8,86.7" fill="url(#a57)" stroke="#0d63de"/>
<polygon points="123.8,82.8 130.9,83.7 126.8,75.9 119.8,76.5" fill="url(#a58)" stroke="#0969de"/>
<polygon points="141.1,99.1 148.4,93.7 143.1,86.9 135.7,91.9" fill="url(#a59)" stroke="#0d5cd8"/>
<polygon points="185.7,76.9 189.6,73.8 184,70.4 180,73.6" fill="url(#a60)" stroke="#076fda"/>
<polygon points="108.6,69.7 114.9,68.2 114.3,67.1 108,69.5" fill="#12b1d6" stroke="#0373d6"/>
<polygon points="154.1,98.5 161.5,91.3 155.8,86.7 148.4,93.7" fill="url(#a62)" stroke="#0e5edb"/>
<polygon points="180.4,81.5 185.7,76.9 180,73.6 174.8,78.4" fill="url(#a63)" stroke="#086ddb"/>
<polygon points="128.7,89.7 135.7,91.9 130.9,83.7 123.8,82.8" fill="url(#a64)" stroke="#0d63de"/>
<polygon points="110.5,70.2 116.8,71.4 114.9,68.2 108.6,69.7" fill="url(#a65)" stroke="#0373d6"/>
<polygon points="174.1,87.2 180.4,81.5 174.8,78.4 168.5,84.3" fill="url(#a66)" stroke="#0968de"/>
<polygon points="146.7,104.2 154.1,98.5 148.4,93.7 141.1,99.1" fill="url(#a67)" stroke="#0d59d2"/>
<polygon points="197.5,74.9 198.3,74.3 192.9,71.3 192.1,71.9" fill="#1ca9df" stroke="#0571d8"/>
<polygon points="113.5,71.2 119.8,76.5 116.8,71.4 110.5,70.2" fill="url(#a69)" stroke="#0472d7"/>
<polygon points="195,76.6 197.5,74.9 192.1,71.9 189.6,73.8" fill="url(#a70)" stroke="#0671d9"/>
<polygon points="134.1,95.9 141.1,99.1 135.7,91.9 128.7,89.7" fill="url(#a71)" stroke="#0e5edb"/>
<polygon points="103.4,70.9 108.6,69.7 108,69.5 102.7,71.5" fill="#08b5d0" stroke="#0174d5"/>
<polygon points="167.1,93.9 174.1,87.2 168.5,84.3 161.5,91.3" fill="url(#a73)" stroke="#0d63de"/>
<polygon points="191.1,79.4 195,76.6 189.6,73.8 185.7,76.9" fill="url(#a74)" stroke="#0670d9"/>
<polygon points="105.3,69.4 110.5,70.2 108.6,69.7 103.4,70.9" fill="url(#a75)" stroke="#0074d4"/>
<polygon points="117.6,72.5 123.8,82.8 119.8,76.5 113.5,71.2" fill="url(#a76)" stroke="#0671d9"/>
<polygon points="159.8,100.9 167.1,93.9 161.5,91.3 154.1,98.5" fill="url(#a77)" stroke="#0e5edb"/>
<polygon points="185.8,83.6 191.1,79.4 185.7,76.9 180.4,81.5" fill="url(#a78)" stroke="#076edb"/>
<polygon points="99.4,72.2 103.4,70.9 102.7,71.5 98.8,72.9" fill="#08b5d0" stroke="#0174d5"/>
<polygon points="139.7,100.5 146.7,104.2 141.1,99.1 134.1,95.9" fill="url(#a80)" stroke="#0d5bd6"/>
<polygon points="202.3,77.4 203.1,76.9 198.3,74.3 197.5,74.9" fill="#1ca9df" stroke="#0571d8"/>
<polygon points="179.5,88.7 185.8,83.6 180.4,81.5 174.1,87.2" fill="url(#a82)" stroke="#0969de"/>
<polygon points="97,73.1 99.4,72.2 98.8,72.9 96.3,73.9" fill="#08b5d0" stroke="#0174d5"/>
<polygon points="152.4,106.4 159.8,100.9 154.1,98.5 146.7,104.2" fill="url(#a84)" stroke="#0d59d2"/>
<polygon points="101.3,70 105.3,69.4 103.4,70.9 99.4,72.2" fill="url(#a85)" stroke="#0075d3"/>
<polygon points="199.8,78.9 202.3,77.4 197.5,74.9 195,76.6" fill="url(#a86)" stroke="#0571d8"/>
<polygon points="108.3,67.1 113.5,71.2 110.5,70.2 105.3,69.4" fill="url(#a87)" stroke="#0275d1"/>
<polygon points="96.1,73.4 97,73.1 96.3,73.9 95.5,74.2" fill="#08b5d0" stroke="#0174d5"/>
<polygon points="122.4,74.4 128.7,89.7 123.8,82.8 117.6,72.5" fill="url(#a89)" stroke="#0670d9"/>
<polygon points="195.9,81.3 199.8,78.9 195,76.6 191.1,79.4" fill="url(#a90)" stroke="#0671d9"/>
<polygon points="172.5,94.7 179.5,88.7 174.1,87.2 167.1,93.9" fill="url(#a91)" stroke="#0d65de"/>
<polygon points="98.9,70.8 101.3,70 99.4,72.2 97,73.1" fill="url(#a92)" stroke="#0275d1"/>
<polygon points="98,71 98.9,70.8 97,73.1 96.1,73.4" fill="url(#a93)" stroke="#0275d1"/>
<polygon points="190.6,84.9 195.9,81.3 191.1,79.4 185.8,83.6" fill="url(#a94)" stroke="#076fda"/>
<polygon points="165.1,100.9 172.5,94.7 167.1,93.9 159.8,100.9" fill="url(#a95)" stroke="#0e60dc"/>
<polygon points="206.3,79.4 207.1,79 203.1,76.9 202.3,77.4" fill="#18addb" stroke="#0472d7"/>
<polygon points="104.3,66.7 108.3,67.1 105.3,69.4 101.3,70" fill="url(#a97)" stroke="#0977cb"/>
<polygon points="145.4,103.1 152.4,106.4 146.7,104.2 139.7,100.5" fill="url(#a98)" stroke="#0d5bd6"/>
<polygon points="203.9,80.7 206.3,79.4 202.3,77.4 199.8,78.9" fill="#18addb" stroke="#0472d7"/>
<polygon points="127.8,76.9 134.1,95.9 128.7,89.7 122.4,74.4" fill="url(#a100)" stroke="#076fda"/>
<polygon points="112.3,64.4 117.6,72.5 113.5,71.2 108.3,67.1" fill="url(#a101)" stroke="#0977cb"/>
<polygon points="184.4,89.2 190.6,84.9 185.8,83.6 179.5,88.7" fill="url(#a102)" stroke="#086ddb"/>
<polygon points="199.9,82.7 203.9,80.7 199.8,78.9 195.9,81.3" fill="url(#a103)" stroke="#0571d8"/>
<polygon points="157.8,106 165.1,100.9 159.8,100.9 152.4,106.4" fill="url(#a104)" stroke="#0d5cd8"/>
<polygon points="101.9,67.2 104.3,66.7 101.3,70 98.9,70.8" fill="url(#a105)" stroke="#0a78ca"/>
<polygon points="209.3,80.9 210.2,80.5 207.1,79 206.3,79.4" fill="#12b1d6" stroke="#0373d6"/>
<polygon points="101.1,67.4 101.9,67.2 98.9,70.8 98,71" fill="url(#a107)" stroke="#0a78ca"/>
<polygon points="177.3,94.3 184.4,89.2 179.5,88.7 172.5,94.7" fill="url(#a108)" stroke="#0969de"/>
<polygon points="194.7,85.7 199.9,82.7 195.9,81.3 190.6,84.9" fill="url(#a109)" stroke="#0671d9"/>
<polygon points="206.9,81.9 209.3,80.9 206.3,79.4 203.9,80.7" fill="#18addb" stroke="#0472d7"/>
<polygon points="202.9,83.7 206.9,81.9 203.9,80.7 199.9,82.7" fill="#18addb" stroke="#0472d7"/>
<polygon points="211.2,81.8 212.1,81.4 210.2,80.5 209.3,80.9" fill="#12b1d6" stroke="#0373d6"/>
<polygon points="133.4,80.2 139.7,100.5 134.1,95.9 127.8,76.9" fill="url(#a113)" stroke="#076edb"/>
<polygon points="170,99.5 177.3,94.3 172.5,94.7 165.1,100.9" fill="url(#a114)" stroke="#0d65de"/>
<polygon points="108.4,62.8 112.3,64.4 108.3,67.1 104.3,66.7" fill="url(#a115)" stroke="#1679c0"/>
<polygon points="188.4,89.2 194.7,85.7 190.6,84.9 184.4,89.2" fill="url(#a116)" stroke="#076fda"/>
<polygon points="208.8,82.7 211.2,81.8 209.3,80.9 206.9,81.9" fill="#12b1d6" stroke="#0373d6"/>
<polygon points="150.8,103.7 157.8,106 152.4,106.4 145.4,103.1" fill="url(#a118)" stroke="#0e5edb"/>
<polygon points="117.1,62.3 122.4,74.4 117.6,72.5 112.3,64.4" fill="url(#a119)" stroke="#1178c4"/>
<polygon points="211.9,82.1 212.7,81.8 212.1,81.4 211.2,81.8" fill="#12b1d6" stroke="#0373d6"/>
<polygon points="209.4,83 211.9,82.1 211.2,81.8 208.8,82.7" fill="#12b1d6" stroke="#0373d6"/>
<polygon points="197.7,86.1 202.9,83.7 199.9,82.7 194.7,85.7" fill="url(#a122)" stroke="#0571d8"/>
<polygon points="204.8,84.3 208.8,82.7 206.9,81.9 202.9,83.7" fill="#12b1d6" stroke="#0373d6"/>
<polygon points="105.9,63.1 108.4,62.8 104.3,66.7 101.9,67.2" fill="url(#a124)" stroke="#1c78bb"/>
<polygon points="162.6,103.9 170,99.5 165.1,100.9 157.8,106" fill="url(#a125)" stroke="#0e61dd"/>
<polygon points="181.4,93.3 188.4,89.2 184.4,89.2 177.3,94.3" fill="url(#a126)" stroke="#086ddb"/>
<polygon points="205.5,84.5 209.4,83 208.8,82.7 204.8,84.3" fill="#12b1d6" stroke="#0373d6"/>
<polygon points="105.1,63.2 105.9,63.1 101.9,67.2 101.1,67.4" fill="url(#a128)" stroke="#1c78bb"/>
<polygon points="191.4,89 197.7,86.1 194.7,85.7 188.4,89.2" fill="url(#a129)" stroke="#0671d9"/>
<polygon points="199.6,86.3 204.8,84.3 202.9,83.7 197.7,86.1" fill="#12b1d6" stroke="#0373d6"/>
<polygon points="139.1,84.1 145.4,103.1 139.7,100.5 133.4,80.2" fill="url(#a131)" stroke="#076edb"/>
<polygon points="174,97.5 181.4,93.3 177.3,94.3 170,99.5" fill="url(#a132)" stroke="#096bdd"/>
<polygon points="200.2,86.4 205.5,84.5 204.8,84.3 199.6,86.3" fill="#12b1d6" stroke="#0373d6"/>
<polygon points="122.5,61.9 127.8,76.9 122.4,74.4 117.1,62.3" fill="url(#a134)" stroke="#1978bd"/>
<polygon points="113.2,59.5 117.1,62.3 112.3,64.4 108.4,62.8" fill="url(#a135)" stroke="#2976b3"/>
<polygon points="155.6,103 162.6,103.9 157.8,106 150.8,103.7" fill="url(#a136)" stroke="#0d63de"/>
<polygon points="193.3,88.8 199.6,86.3 197.7,86.1 191.4,89" fill="url(#a137)" stroke="#0472d7"/>
<polygon points="184.4,92.3 191.4,89 188.4,89.2 181.4,93.3" fill="url(#a138)" stroke="#0670d9"/>
<polygon points="193.9,88.8 200.2,86.4 199.6,86.3 193.3,88.8" fill="#12b1d6" stroke="#0373d6"/>
<polygon points="166.6,101.3 174,97.5 170,99.5 162.6,103.9" fill="url(#a140)" stroke="#0968de"/>
<polygon points="110.7,59.5 113.2,59.5 108.4,62.8 105.9,63.1" fill="url(#a141)" stroke="#2d75b5"/>
<polygon points="144.5,88.4 150.8,103.7 145.4,103.1 139.1,84.1" fill="url(#a142)" stroke="#076fda"/>
<polygon points="109.9,59.6 110.7,59.5 105.9,63.1 105.1,63.2" fill="url(#a143)" stroke="#2f75b6"/>
<polygon points="186.3,91.6 193.3,88.8 191.4,89 184.4,92.3" fill="url(#a144)" stroke="#0472d7"/>
<polygon points="177,95.7 184.4,92.3 181.4,93.3 174,97.5" fill="url(#a145)" stroke="#076fda"/>
<polygon points="128.2,64.1 133.4,80.2 127.8,76.9 122.5,61.9" fill="url(#a146)" stroke="#1f78b9"/>
<polygon points="186.9,91.4 193.9,88.8 193.3,88.8 186.3,91.6" fill="#12b1d6" stroke="#0373d6"/>
<polygon points="159.6,101.8 166.6,101.3 162.6,103.9 155.6,103" fill="url(#a148)" stroke="#0969de"/>
<polygon points="118.6,58.2 122.5,61.9 117.1,62.3 113.2,59.5" fill="url(#a149)" stroke="#3277b7"/>
<polygon points="169.7,99 177,95.7 174,97.5 166.6,101.3" fill="url(#a150)" stroke="#076edb"/>
<polygon points="178.9,94.6 186.3,91.6 184.4,92.3 177,95.7" fill="url(#a151)" stroke="#0571d8"/>
<polygon points="149.3,92.7 155.6,103 150.8,103.7 144.5,88.4" fill="url(#a152)" stroke="#0670d9"/>
<polygon points="179.6,94.2 186.9,91.4 186.3,91.6 178.9,94.6" fill="#12b1d6" stroke="#0373d6"/>
<polygon points="116.1,58 118.6,58.2 113.2,59.5 110.7,59.5" fill="url(#a154)" stroke="#317ab5"/>
<polygon points="133.8,69.1 139.1,84.1 133.4,80.2 128.2,64.1" fill="url(#a155)" stroke="#1f78b9"/>
<polygon points="171.5,97.4 178.9,94.6 177,95.7 169.7,99" fill="url(#a156)" stroke="#0571d8"/>
<polygon points="115.3,58 116.1,58 110.7,59.5 109.9,59.6" fill="url(#a157)" stroke="#317cb4"/>
<polygon points="162.6,100.6 169.7,99 166.6,101.3 159.6,101.8" fill="url(#a158)" stroke="#076fda"/>
<polygon points="153.3,96.5 159.6,101.8 155.6,103 149.3,92.7" fill="url(#a159)" stroke="#0671d9"/>
<polygon points="172.2,96.9 179.6,94.2 178.9,94.6 171.5,97.4" fill="#12b1d6" stroke="#0373d6"/>
<polygon points="124.2,60.1 128.2,64.1 122.5,61.9 118.6,58.2" fill="url(#a161)" stroke="#317ab5"/>
<polygon points="139.2,76.4 144.5,88.4 139.1,84.1 133.8,69.1" fill="url(#a162)" stroke="#1978bd"/>
<polygon points="164.5,99.8 171.5,97.4 169.7,99 162.6,100.6" fill="url(#a163)" stroke="#0571d8"/>
<polygon points="121.8,59.8 124.2,60.1 118.6,58.2 116.1,58" fill="url(#a164)" stroke="#317fb2"/>
<polygon points="156.4,99.4 162.6,100.6 159.6,101.8 153.3,96.5" fill="url(#a165)" stroke="#0472d7"/>
<polygon points="165.2,99.5 172.2,96.9 171.5,97.4 164.5,99.8" fill="#12b1d6" stroke="#0373d6"/>
<polygon points="121,59.8 121.8,59.8 116.1,58 115.3,58" fill="url(#a167)" stroke="#3181b1"/>
<polygon points="144.1,84.6 149.3,92.7 144.5,88.4 139.2,76.4" fill="url(#a168)" stroke="#1178c4"/>
<polygon points="129.9,65.4 133.8,69.1 128.2,64.1 124.2,60.1" fill="url(#a169)" stroke="#317ab5"/>
<polygon points="158.2,101.3 164.5,99.8 162.6,100.6 156.4,99.4" fill="url(#a170)" stroke="#0373d6"/>
<polygon points="148.1,92.4 153.3,96.5 149.3,92.7 144.1,84.6" fill="url(#a171)" stroke="#0977cb"/>
<polygon points="158.9,101.9 165.2,99.5 164.5,99.8 158.2,101.3" fill="#12b1d6" stroke="#0373d6"/>
<polygon points="127.4,65.2 129.9,65.4 124.2,60.1 121.8,59.8" fill="url(#a173)" stroke="#317fb2"/>
<polygon points="135.3,73.6 139.2,76.4 133.8,69.1 129.9,65.4" fill="url(#a174)" stroke="#3277b7"/>
<polygon points="151.1,98.6 156.4,99.4 153.3,96.5 148.1,92.4" fill="url(#a175)" stroke="#0275d1"/>
<polygon points="126.6,65.2 127.4,65.2 121.8,59.8 121,59.8" fill="url(#a176)" stroke="#3181b1"/>
<polygon points="153,102.5 158.2,101.3 156.4,99.4 151.1,98.6" fill="url(#a177)" stroke="#0074d4"/>
<polygon points="153.6,103.9 158.9,101.9 158.2,101.3 153,102.5" fill="#08b5d0" stroke="#0174d5"/>
<polygon points="140.1,83 144.1,84.6 139.2,76.4 135.3,73.6" fill="url(#a179)" stroke="#2976b3"/>
<polygon points="132.8,73.6 135.3,73.6 129.9,65.4 127.4,65.2" fill="url(#a180)" stroke="#317ab5"/>
<polygon points="144.1,92 148.1,92.4 144.1,84.6 140.1,83" fill="url(#a181)" stroke="#1679c0"/>
<polygon points="147.2,99.2 151.1,98.6 148.1,92.4 144.1,92" fill="url(#a182)" stroke="#0977cb"/>
<polygon points="132,73.6 132.8,73.6 127.4,65.2 126.6,65.2" fill="url(#a183)" stroke="#317cb4"/>
<polygon points="149,103.8 153,102.5 151.1,98.6 147.2,99.2" fill="url(#a184)" stroke="#0075d3"/>
<polygon points="149.7,105.3 153.6,103.9 153,102.5 149,103.8" fill="#08b5d0" stroke="#0174d5"/>
<polygon points="137.6,83.3 140.1,83 135.3,73.6 132.8,73.6" fill="url(#a186)" stroke="#2d75b5"/>
<polygon points="141.7,92.5 144.1,92 140.1,83 137.6,83.3" fill="url(#a187)" stroke="#1c78bb"/>
<polygon points="136.8,83.4 137.6,83.3 132.8,73.6 132,73.6" fill="url(#a188)" stroke="#2f75b6"/>
<polygon points="144.7,100 147.2,99.2 144.1,92 141.7,92.5" fill="url(#a189)" stroke="#0a78ca"/>
<polygon points="146.6,104.7 149,103.8 147.2,99.2 144.7,100" fill="url(#a190)" stroke="#0275d1"/>
<polygon points="147.2,106.3 149.7,105.3 149,103.8 146.6,104.7" fill="#08b5d0" stroke="#0174d5"/>
<polygon points="140.8,92.7 141.7,92.5 137.6,83.3 136.8,83.4" fill="url(#a192)" stroke="#1c78bb"/>
<polygon points="143.9,100.2 144.7,100 141.7,92.5 140.8,92.7" fill="url(#a193)" stroke="#0a78ca"/>
<polygon points="146.4,106.6 147.2,106.3 146.6,104.7 145.8,105" fill="#08b5d0" stroke="#0174d5"/>
<polygon points="145.8,105 146.6,104.7 144.7,100 143.9,100.2" fill="url(#a195)" stroke="#0275d1"/></g>
<text x="91.20" y="97.90" font-size="7.2" text-anchor="end" fill="#3a3a3a" stroke="#3a3a3a" stroke-width="0.12">-1</text>
<text x="91.20" y="75.56" font-size="7.2" text-anchor="end" fill="#3a3a3a" stroke="#3a3a3a" stroke-width="0.12">0</text>
<text x="91.20" y="53.23" font-size="7.2" text-anchor="end" fill="#3a3a3a" stroke="#3a3a3a" stroke-width="0.12">1</text>
<text x="91.20" y="30.90" font-size="7.2" text-anchor="end" fill="#3a3a3a" stroke="#3a3a3a" stroke-width="0.12">2</text>
<text x="141.80" y="141.10" font-size="7.3" text-anchor="end" fill="#3a3a3a" stroke="#3a3a3a" stroke-width="0.12">0</text>
<text x="116.35" y="124.90" font-size="7.3" text-anchor="end" fill="#3a3a3a" stroke="#3a3a3a" stroke-width="0.12">0.5</text>
<text x="90.90" y="108.70" font-size="7.3" text-anchor="end" fill="#3a3a3a" stroke="#3a3a3a" stroke-width="0.12">1</text>
<text x="149.80" y="141.80" font-size="7.3" text-anchor="start" fill="#3a3a3a" stroke="#3a3a3a" stroke-width="0.12">0</text>
<text x="182.95" y="129.40" font-size="7.3" text-anchor="start" fill="#3a3a3a" stroke="#3a3a3a" stroke-width="0.12">0.5</text>
<text x="216.10" y="117.00" font-size="7.3" text-anchor="start" fill="#3a3a3a" stroke="#3a3a3a" stroke-width="0.12">1</text>
<text x="108.45" y="143.40" font-size="7.7" text-anchor="middle" fill="#3a3a3a" stroke="#3a3a3a" stroke-width="0.12">y/b</text>
<text x="187.95" y="143.80" font-size="7.7" text-anchor="middle" fill="#3a3a3a" stroke="#3a3a3a" stroke-width="0.12">x/a</text>
<text transform="translate(74.90,21.90) scale(1,1.000)" fill="#4a4a4a" font-size="7.2">&#215;10<tspan font-size="5.2" dy="-3.2">-5</tspan></text>
<g transform="translate(78.40,64.45) scale(1,1.000) rotate(-90) scale(1.3,1)" fill="#333" font-family="Liberation Serif, serif"><text x="-4.25" y="0" font-size="10" font-style="italic">u</text><text x="0.75" y="1.8" font-size="7">0</text><line x1="-3.9" y1="-6.0" x2="0.4" y2="-6.0" stroke="#262626" stroke-width="0.6"/></g>
<line x1="257.10" y1="100.10" x2="323.10" y2="75.40" stroke="#e2e2e2" stroke-width="0.5"/>
<line x1="323.10" y1="75.40" x2="373.60" y2="107.00" stroke="#e2e2e2" stroke-width="0.5"/>
<line x1="257.10" y1="82.55" x2="323.10" y2="57.85" stroke="#e2e2e2" stroke-width="0.5"/>
<line x1="323.10" y1="57.85" x2="373.60" y2="89.45" stroke="#e2e2e2" stroke-width="0.5"/>
<line x1="257.10" y1="65.00" x2="323.10" y2="40.30" stroke="#e2e2e2" stroke-width="0.5"/>
<line x1="323.10" y1="40.30" x2="373.60" y2="71.90" stroke="#e2e2e2" stroke-width="0.5"/>
<line x1="257.10" y1="47.45" x2="323.10" y2="22.75" stroke="#e2e2e2" stroke-width="0.5"/>
<line x1="323.10" y1="22.75" x2="373.60" y2="54.35" stroke="#e2e2e2" stroke-width="0.5"/>
<line x1="257.10" y1="29.90" x2="323.10" y2="5.20" stroke="#e2e2e2" stroke-width="0.5"/>
<line x1="323.10" y1="5.20" x2="373.60" y2="36.80" stroke="#e2e2e2" stroke-width="0.5"/>
<line x1="257.10" y1="100.10" x2="257.10" y2="29.90" stroke="#e2e2e2" stroke-width="0.5"/>
<line x1="373.60" y1="107.00" x2="373.60" y2="36.80" stroke="#e2e2e2" stroke-width="0.5"/>
<line x1="307.60" y1="131.70" x2="257.10" y2="100.10" stroke="#e2e2e2" stroke-width="0.5"/>
<line x1="307.60" y1="131.70" x2="373.60" y2="107.00" stroke="#e2e2e2" stroke-width="0.5"/>
<line x1="290.10" y1="87.75" x2="290.10" y2="17.55" stroke="#e2e2e2" stroke-width="0.5"/>
<line x1="348.35" y1="91.20" x2="348.35" y2="21.00" stroke="#e2e2e2" stroke-width="0.5"/>
<line x1="340.60" y1="119.35" x2="290.10" y2="87.75" stroke="#e2e2e2" stroke-width="0.5"/>
<line x1="282.35" y1="115.90" x2="348.35" y2="91.20" stroke="#e2e2e2" stroke-width="0.5"/>
<line x1="323.10" y1="75.40" x2="323.10" y2="5.20" stroke="#e2e2e2" stroke-width="0.5"/>
<line x1="323.10" y1="75.40" x2="323.10" y2="5.20" stroke="#e2e2e2" stroke-width="0.5"/>
<line x1="373.60" y1="107.00" x2="323.10" y2="75.40" stroke="#e2e2e2" stroke-width="0.5"/>
<line x1="257.10" y1="100.10" x2="323.10" y2="75.40" stroke="#e2e2e2" stroke-width="0.5"/>
<line x1="307.60" y1="131.70" x2="373.60" y2="107.00" stroke="#4a4a4a" stroke-width="0.7"/>
<line x1="307.60" y1="131.70" x2="257.10" y2="100.10" stroke="#4a4a4a" stroke-width="0.7"/>
<line x1="257.10" y1="100.10" x2="257.10" y2="29.90" stroke="#4a4a4a" stroke-width="0.7"/>
<line x1="307.60" y1="131.70" x2="306.59" y2="131.07" stroke="#4a4a4a" stroke-width="0.7"/>
<line x1="307.60" y1="131.70" x2="308.92" y2="131.21" stroke="#4a4a4a" stroke-width="0.7"/>
<line x1="340.60" y1="119.35" x2="339.59" y2="118.72" stroke="#4a4a4a" stroke-width="0.7"/>
<line x1="282.35" y1="115.90" x2="283.67" y2="115.41" stroke="#4a4a4a" stroke-width="0.7"/>
<line x1="373.60" y1="107.00" x2="372.59" y2="106.37" stroke="#4a4a4a" stroke-width="0.7"/>
<line x1="257.10" y1="100.10" x2="258.42" y2="99.61" stroke="#4a4a4a" stroke-width="0.7"/>
<line x1="257.10" y1="100.10" x2="258.42" y2="99.61" stroke="#4a4a4a" stroke-width="0.7"/>
<line x1="257.10" y1="82.55" x2="258.42" y2="82.06" stroke="#4a4a4a" stroke-width="0.7"/>
<line x1="257.10" y1="65.00" x2="258.42" y2="64.51" stroke="#4a4a4a" stroke-width="0.7"/>
<line x1="257.10" y1="47.45" x2="258.42" y2="46.96" stroke="#4a4a4a" stroke-width="0.7"/>
<line x1="257.10" y1="29.90" x2="258.42" y2="29.41" stroke="#4a4a4a" stroke-width="0.7"/>
<defs><linearGradient id="b5" gradientUnits="userSpaceOnUse" x1="318.5" y1="38.8" x2="317.8" y2="40"><stop stop-color="#24c1ae"/><stop offset="1" stop-color="#37c897"/></linearGradient><linearGradient id="b7" gradientUnits="userSpaceOnUse" x1="319.8" y1="39.6" x2="319.1" y2="40.8"><stop stop-color="#24c1ae"/><stop offset="1" stop-color="#37c897"/></linearGradient><linearGradient id="b9" gradientUnits="userSpaceOnUse" x1="322.3" y1="41.1" x2="321.5" y2="42.3"><stop stop-color="#24c1ae"/><stop offset="1" stop-color="#37c897"/></linearGradient><linearGradient id="b10" gradientUnits="userSpaceOnUse" x1="314" y1="37.5" x2="313.2" y2="38.7"><stop stop-color="#37c897"/><stop offset="1" stop-color="#57cc7a"/></linearGradient><linearGradient id="b12" gradientUnits="userSpaceOnUse" x1="315.2" y1="38.3" x2="314.5" y2="39.5"><stop stop-color="#37c897"/><stop offset="1" stop-color="#57cc7a"/></linearGradient><linearGradient id="b13" gradientUnits="userSpaceOnUse" x1="325.8" y1="43.4" x2="324.9" y2="44.7"><stop stop-color="#24c1ae"/><stop offset="1" stop-color="#37c897"/></linearGradient><linearGradient id="b15" gradientUnits="userSpaceOnUse" x1="317.7" y1="39.8" x2="316.8" y2="41.1"><stop stop-color="#37c897"/><stop offset="1" stop-color="#57cc7a"/></linearGradient><linearGradient id="b17" gradientUnits="userSpaceOnUse" x1="308.3" y1="35.6" x2="307.5" y2="36.9"><stop stop-color="#57cc7a"/><stop offset="1" stop-color="#9dc943"/></linearGradient><linearGradient id="b18" gradientUnits="userSpaceOnUse" x1="309.6" y1="36.3" x2="308.7" y2="37.7"><stop stop-color="#57cc7a"/><stop offset="1" stop-color="#9dc943"/></linearGradient><linearGradient id="b19" gradientUnits="userSpaceOnUse" x1="321.3" y1="42.1" x2="320.2" y2="43.6"><stop stop-color="#31c69f"/><stop offset="1" stop-color="#57cc7a"/></linearGradient><linearGradient id="b20" gradientUnits="userSpaceOnUse" x1="330.3" y1="46.2" x2="329.1" y2="47.8"><stop stop-color="#24c1ae"/><stop offset="1" stop-color="#31c69f"/></linearGradient><linearGradient id="b22" gradientUnits="userSpaceOnUse" x1="312.1" y1="37.8" x2="311" y2="39.4"><stop stop-color="#57cc7a"/><stop offset="1" stop-color="#9dc943"/></linearGradient><linearGradient id="b24" gradientUnits="userSpaceOnUse" x1="326" y1="44.9" x2="324.3" y2="47"><stop stop-color="#31c69f"/><stop offset="1" stop-color="#57cc7a"/></linearGradient><linearGradient id="b25" gradientUnits="userSpaceOnUse" x1="301.7" y1="33.2" x2="300.8" y2="34.6"><stop stop-color="#9dc943"/><stop offset="1" stop-color="#e6bb2d"/></linearGradient><linearGradient id="b26" gradientUnits="userSpaceOnUse" x1="335.8" y1="49.5" x2="333.7" y2="51.7"><stop stop-color="#19bfb6"/><stop offset="1" stop-color="#31c69f"/></linearGradient><linearGradient id="b27" gradientUnits="userSpaceOnUse" x1="315.8" y1="40.1" x2="314.3" y2="42.1"><stop stop-color="#57cc7a"/><stop offset="1" stop-color="#9dc943"/></linearGradient><linearGradient id="b28" gradientUnits="userSpaceOnUse" x1="303" y1="33.9" x2="302" y2="35.4"><stop stop-color="#9dc943"/><stop offset="1" stop-color="#e6bb2d"/></linearGradient><linearGradient id="b31" gradientUnits="userSpaceOnUse" x1="305.6" y1="35.5" x2="304.3" y2="37.2"><stop stop-color="#9dc943"/><stop offset="1" stop-color="#dcbd29"/></linearGradient><linearGradient id="b32" gradientUnits="userSpaceOnUse" x1="331.9" y1="48.5" x2="328.3" y2="51.5"><stop stop-color="#2cc4a7"/><stop offset="1" stop-color="#4acb84"/></linearGradient><linearGradient id="b33" gradientUnits="userSpaceOnUse" x1="320.8" y1="43.1" x2="318" y2="45.8"><stop stop-color="#4acb84"/><stop offset="1" stop-color="#8fcb4e"/></linearGradient><linearGradient id="b34" gradientUnits="userSpaceOnUse" x1="342.7" y1="53.4" x2="337.1" y2="56.4"><stop stop-color="#19bfb6"/><stop offset="1" stop-color="#2cc4a7"/></linearGradient><linearGradient id="b35" gradientUnits="userSpaceOnUse" x1="309.4" y1="37.8" x2="307.4" y2="40.1"><stop stop-color="#8fcb4e"/><stop offset="1" stop-color="#dcbd29"/></linearGradient><linearGradient id="b36" gradientUnits="userSpaceOnUse" x1="294.4" y1="30.5" x2="293.8" y2="31.3"><stop stop-color="#e6bb2d"/><stop offset="1" stop-color="#fccf30"/></linearGradient><linearGradient id="b39" gradientUnits="userSpaceOnUse" x1="295.7" y1="31.2" x2="295" y2="32.2"><stop stop-color="#dcbd29"/><stop offset="1" stop-color="#fccf30"/></linearGradient><linearGradient id="b40" gradientUnits="userSpaceOnUse" x1="340" y1="54" x2="330.2" y2="55.6"><stop stop-color="#24c1ae"/><stop offset="1" stop-color="#3fca8e"/></linearGradient><linearGradient id="b41" gradientUnits="userSpaceOnUse" x1="327.5" y1="47.2" x2="321.1" y2="50.6"><stop stop-color="#3fca8e"/><stop offset="1" stop-color="#81cc59"/></linearGradient><linearGradient id="b42" gradientUnits="userSpaceOnUse" x1="348.5" y1="62.3" x2="341.9" y2="54.9"><stop stop-color="#0bbdbd"/><stop offset="1" stop-color="#24c1ae"/></linearGradient><linearGradient id="b43" gradientUnits="userSpaceOnUse" x1="298.3" y1="32.7" x2="297.2" y2="34.1"><stop stop-color="#dcbd29"/><stop offset="1" stop-color="#fccf30"/></linearGradient><linearGradient id="b44" gradientUnits="userSpaceOnUse" x1="314.7" y1="41" x2="310.8" y2="44.2"><stop stop-color="#81cc59"/><stop offset="1" stop-color="#dcbd29"/></linearGradient><linearGradient id="b46" gradientUnits="userSpaceOnUse" x1="344.1" y1="63.7" x2="337.2" y2="55.4"><stop stop-color="#0bbdbd"/><stop offset="1" stop-color="#2cc4a7"/></linearGradient><linearGradient id="b47" gradientUnits="userSpaceOnUse" x1="335.7" y1="55.7" x2="323" y2="53"><stop stop-color="#2cc4a7"/><stop offset="1" stop-color="#64cd6f"/></linearGradient><linearGradient id="b49" gradientUnits="userSpaceOnUse" x1="302.3" y1="35.1" x2="300.3" y2="37.2"><stop stop-color="#dcbd29"/><stop offset="1" stop-color="#fccf30"/></linearGradient><linearGradient id="b50" gradientUnits="userSpaceOnUse" x1="287.3" y1="27.1" x2="286.2" y2="28.8"><stop stop-color="#fccf30"/><stop offset="1" stop-color="#f7f51b"/></linearGradient><linearGradient id="b51" gradientUnits="userSpaceOnUse" x1="322.3" y1="46.1" x2="313" y2="48.9"><stop stop-color="#64cd6f"/><stop offset="1" stop-color="#c5c22a"/></linearGradient><linearGradient id="b52" gradientUnits="userSpaceOnUse" x1="351.3" y1="68.6" x2="351.4" y2="61.7"><stop stop-color="#08b5d0"/><stop offset="1" stop-color="#0bbdbd"/></linearGradient><linearGradient id="b53" gradientUnits="userSpaceOnUse" x1="288.7" y1="27.9" x2="287.3" y2="29.8"><stop stop-color="#fccf30"/><stop offset="1" stop-color="#f7f51b"/></linearGradient><linearGradient id="b54" gradientUnits="userSpaceOnUse" x1="338.8" y1="65.7" x2="331.3" y2="55.8"><stop stop-color="#0bbdbd"/><stop offset="1" stop-color="#3fca8e"/></linearGradient><linearGradient id="b55" gradientUnits="userSpaceOnUse" x1="347.8" y1="71.8" x2="346.2" y2="63"><stop stop-color="#12b1d6"/><stop offset="1" stop-color="#0bbdbd"/></linearGradient><linearGradient id="b57" gradientUnits="userSpaceOnUse" x1="307.9" y1="38.5" x2="303.3" y2="41.7"><stop stop-color="#c5c22a"/><stop offset="1" stop-color="#fec934"/></linearGradient><linearGradient id="b58" gradientUnits="userSpaceOnUse" x1="291.5" y1="29.4" x2="289.4" y2="31.8"><stop stop-color="#fccf30"/><stop offset="1" stop-color="#f6ef20"/></linearGradient><linearGradient id="b59" gradientUnits="userSpaceOnUse" x1="257.2" y1="65" x2="258.5" y2="62.9"><stop stop-color="#0bbdbd"/><stop offset="1" stop-color="#24c1ae"/></linearGradient><linearGradient id="b60" gradientUnits="userSpaceOnUse" x1="358.7" y1="68.5" x2="360.3" y2="64.7"><stop stop-color="#01b8ca"/><stop offset="1" stop-color="#0bbdbd"/></linearGradient><linearGradient id="b61" gradientUnits="userSpaceOnUse" x1="329.6" y1="56.8" x2="316.1" y2="50.7"><stop stop-color="#3fca8e"/><stop offset="1" stop-color="#9dc943"/></linearGradient><linearGradient id="b62" gradientUnits="userSpaceOnUse" x1="355.5" y1="73" x2="357.2" y2="66"><stop stop-color="#18addb"/><stop offset="1" stop-color="#02bac3"/></linearGradient><linearGradient id="b63" gradientUnits="userSpaceOnUse" x1="258.4" y1="65.8" x2="259.7" y2="63.7"><stop stop-color="#0bbdbd"/><stop offset="1" stop-color="#24c1ae"/></linearGradient><linearGradient id="b64" gradientUnits="userSpaceOnUse" x1="257.5" y1="62.3" x2="261.5" y2="55.8"><stop stop-color="#24c1ae"/><stop offset="1" stop-color="#64cd6f"/></linearGradient><linearGradient id="b66" gradientUnits="userSpaceOnUse" x1="342.8" y1="74.7" x2="339.5" y2="64.4"><stop stop-color="#18addb"/><stop offset="1" stop-color="#19bfb6"/></linearGradient><linearGradient id="b67" gradientUnits="userSpaceOnUse" x1="258.7" y1="63.1" x2="262.7" y2="56.6"><stop stop-color="#24c1ae"/><stop offset="1" stop-color="#64cd6f"/></linearGradient><linearGradient id="b68" gradientUnits="userSpaceOnUse" x1="351.6" y1="78.2" x2="352.1" y2="68.5"><stop stop-color="#23a0e5"/><stop offset="1" stop-color="#08b5d0"/></linearGradient><linearGradient id="b69" gradientUnits="userSpaceOnUse" x1="295.8" y1="31.8" x2="292" y2="35.1"><stop stop-color="#fec934"/><stop offset="1" stop-color="#f6ef20"/></linearGradient><linearGradient id="b70" gradientUnits="userSpaceOnUse" x1="283" y1="26" x2="278.7" y2="30.4"><stop stop-color="#f6ef20"/><stop offset="1" stop-color="#f9fb15"/></linearGradient><linearGradient id="b71" gradientUnits="userSpaceOnUse" x1="316" y1="44.7" x2="305" y2="46.4"><stop stop-color="#9dc943"/><stop offset=".50" stop-color="#dcbd29"/><stop offset="1" stop-color="#febe3c"/></linearGradient><linearGradient id="b72" gradientUnits="userSpaceOnUse" x1="259.7" y1="54.7" x2="265.6" y2="45.2"><stop stop-color="#64cd6f"/><stop offset=".50" stop-color="#abc739"/><stop offset="1" stop-color="#e6bb2d"/></linearGradient><linearGradient id="b73" gradientUnits="userSpaceOnUse" x1="260.9" y1="67.4" x2="262.2" y2="65.2"><stop stop-color="#0bbdbd"/><stop offset="1" stop-color="#24c1ae"/></linearGradient><linearGradient id="b74" gradientUnits="userSpaceOnUse" x1="332.9" y1="67.5" x2="324.3" y2="56"><stop stop-color="#19bfb6"/><stop offset=".50" stop-color="#37c897"/><stop offset="1" stop-color="#64cd6f"/></linearGradient><linearGradient id="b76" gradientUnits="userSpaceOnUse" x1="363" y1="71.5" x2="364.9" y2="67.7"><stop stop-color="#08b5d0"/><stop offset="1" stop-color="#0bbdbd"/></linearGradient><linearGradient id="b77" gradientUnits="userSpaceOnUse" x1="261" y1="55.6" x2="266.8" y2="46"><stop stop-color="#64cd6f"/><stop offset=".50" stop-color="#abc739"/><stop offset="1" stop-color="#e6bb2d"/></linearGradient><linearGradient id="b78" gradientUnits="userSpaceOnUse" x1="359.5" y1="76.5" x2="362" y2="69.8"><stop stop-color="#1ca9df"/><stop offset="1" stop-color="#01b8ca"/></linearGradient><linearGradient id="b79" gradientUnits="userSpaceOnUse" x1="261.2" y1="64.6" x2="265.2" y2="58.1"><stop stop-color="#24c1ae"/><stop offset="1" stop-color="#64cd6f"/></linearGradient><linearGradient id="b80" gradientUnits="userSpaceOnUse" x1="346.8" y1="83" x2="345.6" y2="72"><stop stop-color="#2797eb"/><stop offset="1" stop-color="#12b1d6"/></linearGradient><linearGradient id="b81" gradientUnits="userSpaceOnUse" x1="270.7" y1="34.8" x2="275.2" y2="27.4"><stop stop-color="#f5e327"/><stop offset="1" stop-color="#f9fb15"/></linearGradient><linearGradient id="b82" gradientUnits="userSpaceOnUse" x1="264.2" y1="44.3" x2="270.3" y2="34.5"><stop stop-color="#e6bb2d"/><stop offset=".50" stop-color="#fec338"/><stop offset="1" stop-color="#f5e327"/></linearGradient><linearGradient id="b83" gradientUnits="userSpaceOnUse" x1="287.5" y1="28.5" x2="279" y2="31.5"><stop stop-color="#f6ef20"/><stop offset="1" stop-color="#f9fb15"/></linearGradient><linearGradient id="b84" gradientUnits="userSpaceOnUse" x1="355.2" y1="82.8" x2="357.2" y2="73.3"><stop stop-color="#2797eb"/><stop offset="1" stop-color="#18addb"/></linearGradient><linearGradient id="b85" gradientUnits="userSpaceOnUse" x1="336.7" y1="77.1" x2="331.9" y2="65.7"><stop stop-color="#1ca9df"/><stop offset="1" stop-color="#24c1ae"/></linearGradient><linearGradient id="b86" gradientUnits="userSpaceOnUse" x1="302.3" y1="36.1" x2="294.1" y2="39.3"><stop stop-color="#febe3c"/><stop offset="1" stop-color="#f5e924"/></linearGradient><linearGradient id="b87" gradientUnits="userSpaceOnUse" x1="272.1" y1="35.7" x2="276.3" y2="28.1"><stop stop-color="#f5e327"/><stop offset="1" stop-color="#f9fb15"/></linearGradient><linearGradient id="b88" gradientUnits="userSpaceOnUse" x1="265.5" y1="45.2" x2="271.5" y2="35.2"><stop stop-color="#e6bb2d"/><stop offset=".50" stop-color="#fec338"/><stop offset="1" stop-color="#f5e327"/></linearGradient><linearGradient id="b89" gradientUnits="userSpaceOnUse" x1="322.7" y1="56.8" x2="308.7" y2="48.7"><stop stop-color="#64cd6f"/><stop offset=".50" stop-color="#9dc943"/><stop offset="1" stop-color="#dcbd29"/></linearGradient><linearGradient id="b90" gradientUnits="userSpaceOnUse" x1="263.4" y1="57.3" x2="269.3" y2="47.5"><stop stop-color="#64cd6f"/><stop offset=".50" stop-color="#abc739"/><stop offset="1" stop-color="#e6bb2d"/></linearGradient><linearGradient id="b91" gradientUnits="userSpaceOnUse" x1="264.4" y1="69.6" x2="265.7" y2="67.4"><stop stop-color="#0bbdbd"/><stop offset="1" stop-color="#24c1ae"/></linearGradient><linearGradient id="b93" gradientUnits="userSpaceOnUse" x1="366.5" y1="73.8" x2="368.5" y2="70.2"><stop stop-color="#08b5d0"/><stop offset="1" stop-color="#02bac3"/></linearGradient><linearGradient id="b94" gradientUnits="userSpaceOnUse" x1="350.3" y1="89" x2="350.8" y2="78.1"><stop stop-color="#2f81fa"/><stop offset="1" stop-color="#23a0e5"/></linearGradient><linearGradient id="b95" gradientUnits="userSpaceOnUse" x1="362.9" y1="79" x2="365.7" y2="72.8"><stop stop-color="#20a5e3"/><stop offset="1" stop-color="#08b5d0"/></linearGradient><linearGradient id="b96" gradientUnits="userSpaceOnUse" x1="341.1" y1="87" x2="338.3" y2="75.9"><stop stop-color="#2d8cf3"/><stop offset="1" stop-color="#18addb"/></linearGradient><linearGradient id="b97" gradientUnits="userSpaceOnUse" x1="264.7" y1="66.9" x2="268.7" y2="60.4"><stop stop-color="#24c1ae"/><stop offset="1" stop-color="#64cd6f"/></linearGradient><linearGradient id="b98" gradientUnits="userSpaceOnUse" x1="292" y1="34.7" x2="281.4" y2="31.2"><stop stop-color="#f5e924"/><stop offset="1" stop-color="#f7f51b"/></linearGradient><linearGradient id="b99" gradientUnits="userSpaceOnUse" x1="274.8" y1="37.8" x2="278.5" y2="29.6"><stop stop-color="#f7dc2a"/><stop offset="1" stop-color="#f9fb15"/></linearGradient><linearGradient id="b100" gradientUnits="userSpaceOnUse" x1="358.2" y1="85.7" x2="361.2" y2="77.1"><stop stop-color="#2b91ef"/><stop offset="1" stop-color="#1ca9df"/></linearGradient><linearGradient id="b101" gradientUnits="userSpaceOnUse" x1="268" y1="47.1" x2="273.9" y2="36.7"><stop stop-color="#e6bb2d"/><stop offset=".50" stop-color="#fec338"/><stop offset="1" stop-color="#f5e327"/></linearGradient><linearGradient id="b102" gradientUnits="userSpaceOnUse" x1="326" y1="68.7" x2="316.8" y2="55.6"><stop stop-color="#24c1ae"/><stop offset=".50" stop-color="#4acb84"/><stop offset="1" stop-color="#8fcb4e"/></linearGradient><linearGradient id="b104" gradientUnits="userSpaceOnUse" x1="368.9" y1="75.3" x2="371" y2="71.8"><stop stop-color="#08b5d0"/><stop offset="1" stop-color="#02bac3"/></linearGradient><linearGradient id="b105" gradientUnits="userSpaceOnUse" x1="310.1" y1="45.4" x2="296.1" y2="41.9"><stop stop-color="#dcbd29"/><stop offset=".50" stop-color="#febe3c"/><stop offset="1" stop-color="#f7dc2a"/></linearGradient><linearGradient id="b106" gradientUnits="userSpaceOnUse" x1="353" y1="92.7" x2="354.9" y2="82.7"><stop stop-color="#3875fe"/><stop offset="1" stop-color="#2797eb"/></linearGradient><linearGradient id="b107" gradientUnits="userSpaceOnUse" x1="344.6" y1="94.3" x2="343.4" y2="83.4"><stop stop-color="#3e6fff"/><stop offset="1" stop-color="#2797eb"/></linearGradient><linearGradient id="b108" gradientUnits="userSpaceOnUse" x1="365.2" y1="80.6" x2="368.3" y2="74.8"><stop stop-color="#20a5e3"/><stop offset="1" stop-color="#08b5d0"/></linearGradient><linearGradient id="b109" gradientUnits="userSpaceOnUse" x1="267" y1="59.9" x2="272.8" y2="49.9"><stop stop-color="#64cd6f"/><stop offset=".50" stop-color="#abc739"/><stop offset="1" stop-color="#e6bb2d"/></linearGradient><linearGradient id="b110" gradientUnits="userSpaceOnUse" x1="329.9" y1="80" x2="324.4" y2="67"><stop stop-color="#1ca9df"/><stop offset=".50" stop-color="#02bac3"/><stop offset="1" stop-color="#2cc4a7"/></linearGradient><linearGradient id="b111" gradientUnits="userSpaceOnUse" x1="360.4" y1="87.4" x2="363.9" y2="79.5"><stop stop-color="#2d8cf3"/><stop offset="1" stop-color="#20a5e3"/></linearGradient><linearGradient id="b113" gradientUnits="userSpaceOnUse" x1="370.2" y1="76.1" x2="372.3" y2="72.7"><stop stop-color="#08b5d0"/><stop offset="1" stop-color="#02bac3"/></linearGradient><linearGradient id="b114" gradientUnits="userSpaceOnUse" x1="366.4" y1="81.3" x2="369.6" y2="75.7"><stop stop-color="#20a5e3"/><stop offset="1" stop-color="#08b5d0"/></linearGradient><linearGradient id="b115" gradientUnits="userSpaceOnUse" x1="268.8" y1="72.3" x2="270.1" y2="70.2"><stop stop-color="#0bbdbd"/><stop offset="1" stop-color="#24c1ae"/></linearGradient><linearGradient id="b116" gradientUnits="userSpaceOnUse" x1="334.2" y1="91.7" x2="330.9" y2="79.1"><stop stop-color="#327cfc"/><stop offset=".50" stop-color="#2797eb"/><stop offset="1" stop-color="#1ca9df"/></linearGradient><linearGradient id="b117" gradientUnits="userSpaceOnUse" x1="278.7" y1="41.2" x2="281.7" y2="31.9"><stop stop-color="#fad62d"/><stop offset="1" stop-color="#f7f51b"/></linearGradient><linearGradient id="b118" gradientUnits="userSpaceOnUse" x1="355" y1="94.6" x2="357.9" y2="85.6"><stop stop-color="#3e6fff"/><stop offset="1" stop-color="#2b91ef"/></linearGradient><linearGradient id="b119" gradientUnits="userSpaceOnUse" x1="347.3" y1="98.8" x2="347.5" y2="88.9"><stop stop-color="#465efb"/><stop offset="1" stop-color="#2f81fa"/></linearGradient><linearGradient id="b120" gradientUnits="userSpaceOnUse" x1="361.5" y1="88" x2="365.4" y2="80.7"><stop stop-color="#2d8cf3"/><stop offset="1" stop-color="#20a5e3"/></linearGradient><linearGradient id="b121" gradientUnits="userSpaceOnUse" x1="295.1" y1="41.2" x2="287.1" y2="33.4"><stop stop-color="#f7dc2a"/><stop offset="1" stop-color="#f6ef20"/></linearGradient><linearGradient id="b122" gradientUnits="userSpaceOnUse" x1="271.6" y1="50.2" x2="277.3" y2="39"><stop stop-color="#dcbd29"/><stop offset=".50" stop-color="#fec338"/><stop offset="1" stop-color="#f7dc2a"/></linearGradient><linearGradient id="b123" gradientUnits="userSpaceOnUse" x1="269.2" y1="69.9" x2="273.1" y2="63.4"><stop stop-color="#24c1ae"/><stop offset="1" stop-color="#64cd6f"/></linearGradient><linearGradient id="b124" gradientUnits="userSpaceOnUse" x1="314.3" y1="57.7" x2="302.8" y2="46"><stop stop-color="#8fcb4e"/><stop offset=".50" stop-color="#d1bf27"/><stop offset="1" stop-color="#febe3c"/></linearGradient><linearGradient id="b125" gradientUnits="userSpaceOnUse" x1="337.7" y1="100.3" x2="336" y2="88"><stop stop-color="#4758f8"/><stop offset=".50" stop-color="#3e6fff"/><stop offset="1" stop-color="#2d8cf3"/></linearGradient><linearGradient id="b126" gradientUnits="userSpaceOnUse" x1="355.9" y1="95.3" x2="359.6" y2="87"><stop stop-color="#3e6fff"/><stop offset="1" stop-color="#2d8cf3"/></linearGradient><linearGradient id="b127" gradientUnits="userSpaceOnUse" x1="349.1" y1="101.1" x2="350.6" y2="92.2"><stop stop-color="#4758f8"/><stop offset="1" stop-color="#3875fe"/></linearGradient><linearGradient id="b128" gradientUnits="userSpaceOnUse" x1="340.4" y1="105.5" x2="340.2" y2="94.5"><stop stop-color="#4747eb"/><stop offset="1" stop-color="#3e6fff"/></linearGradient><linearGradient id="b129" gradientUnits="userSpaceOnUse" x1="271.5" y1="63.5" x2="277.1" y2="53"><stop stop-color="#57cc7a"/><stop offset=".50" stop-color="#9dc943"/><stop offset="1" stop-color="#dcbd29"/></linearGradient><linearGradient id="b130" gradientUnits="userSpaceOnUse" x1="318.2" y1="70" x2="310.2" y2="55.7"><stop stop-color="#2cc4a7"/><stop offset=".50" stop-color="#64cd6f"/><stop offset="1" stop-color="#b9c431"/></linearGradient><linearGradient id="b131" gradientUnits="userSpaceOnUse" x1="349.8" y1="101.9" x2="352.4" y2="93.7"><stop stop-color="#4758f8"/><stop offset="1" stop-color="#3e6fff"/></linearGradient><linearGradient id="b132" gradientUnits="userSpaceOnUse" x1="322.7" y1="83.4" x2="317.1" y2="68.8"><stop stop-color="#20a5e3"/><stop offset=".50" stop-color="#02bac3"/><stop offset="1" stop-color="#37c897"/></linearGradient><linearGradient id="b133" gradientUnits="userSpaceOnUse" x1="327.2" y1="96.4" x2="323.2" y2="82.3"><stop stop-color="#3e6fff"/><stop offset=".50" stop-color="#2d8cf3"/><stop offset="1" stop-color="#1ca9df"/></linearGradient><linearGradient id="b134" gradientUnits="userSpaceOnUse" x1="283.6" y1="46.3" x2="285.6" y2="35.4"><stop stop-color="#fec934"/><stop offset="1" stop-color="#f6ef20"/></linearGradient><linearGradient id="b135" gradientUnits="userSpaceOnUse" x1="299.3" y1="48.6" x2="293" y2="38.7"><stop stop-color="#febe3c"/><stop offset="1" stop-color="#f5e327"/></linearGradient><linearGradient id="b136" gradientUnits="userSpaceOnUse" x1="330.7" y1="106.1" x2="328.3" y2="93"><stop stop-color="#4747eb"/><stop offset=".50" stop-color="#4563fd"/><stop offset="1" stop-color="#327cfc"/></linearGradient><linearGradient id="b137" gradientUnits="userSpaceOnUse" x1="342.1" y1="108.2" x2="343.3" y2="98.4"><stop stop-color="#4741e5"/><stop offset="1" stop-color="#465efb"/></linearGradient><linearGradient id="b138" gradientUnits="userSpaceOnUse" x1="276.3" y1="54.6" x2="281.5" y2="42.4"><stop stop-color="#d1bf27"/><stop offset=".50" stop-color="#f8ba3d"/><stop offset="1" stop-color="#fad62d"/></linearGradient><linearGradient id="b139" gradientUnits="userSpaceOnUse" x1="273.9" y1="75.5" x2="275.1" y2="73.5"><stop stop-color="#0bbdbd"/><stop offset="1" stop-color="#24c1ae"/></linearGradient><linearGradient id="b140" gradientUnits="userSpaceOnUse" x1="342.7" y1="109.1" x2="345.2" y2="100.1"><stop stop-color="#4741e5"/><stop offset="1" stop-color="#4758f8"/></linearGradient><linearGradient id="b141" gradientUnits="userSpaceOnUse" x1="333.4" y1="111.9" x2="332.5" y2="100.8"><stop stop-color="#4332cb"/><stop offset="1" stop-color="#4758f8"/></linearGradient><linearGradient id="b142" gradientUnits="userSpaceOnUse" x1="274.4" y1="73.6" x2="278.1" y2="67"><stop stop-color="#24c1ae"/><stop offset="1" stop-color="#57cc7a"/></linearGradient><linearGradient id="b143" gradientUnits="userSpaceOnUse" x1="335.1" y1="114.9" x2="335.6" y2="105.4"><stop stop-color="#402ab4"/><stop offset="1" stop-color="#4747eb"/></linearGradient><linearGradient id="b144" gradientUnits="userSpaceOnUse" x1="304.6" y1="58.8" x2="298.7" y2="46.7"><stop stop-color="#b9c431"/><stop offset=".50" stop-color="#e6bb2d"/><stop offset="1" stop-color="#fec338"/></linearGradient><linearGradient id="b145" gradientUnits="userSpaceOnUse" x1="276.9" y1="68.3" x2="282" y2="57.2"><stop stop-color="#4acb84"/><stop offset=".50" stop-color="#8fcb4e"/><stop offset="1" stop-color="#d1bf27"/></linearGradient><linearGradient id="b146" gradientUnits="userSpaceOnUse" x1="335.7" y1="115.9" x2="337.5" y2="107.3"><stop stop-color="#402ab4"/><stop offset="1" stop-color="#4741e5"/></linearGradient><linearGradient id="b147" gradientUnits="userSpaceOnUse" x1="289.5" y1="53.4" x2="289.7" y2="40.6"><stop stop-color="#f0ba36"/><stop offset="1" stop-color="#f5e327"/></linearGradient><linearGradient id="b148" gradientUnits="userSpaceOnUse" x1="320.3" y1="99.2" x2="315.6" y2="85.9"><stop stop-color="#4269fe"/><stop offset=".50" stop-color="#2d8cf3"/><stop offset="1" stop-color="#20a5e3"/></linearGradient><linearGradient id="b149" gradientUnits="userSpaceOnUse" x1="324" y1="108.9" x2="320.6" y2="98.3"><stop stop-color="#4741e5"/><stop offset=".50" stop-color="#4758f8"/><stop offset="1" stop-color="#3e6fff"/></linearGradient><linearGradient id="b150" gradientUnits="userSpaceOnUse" x1="310.2" y1="71.8" x2="304.3" y2="57.6"><stop stop-color="#37c897"/><stop offset=".50" stop-color="#72cd64"/><stop offset="1" stop-color="#c5c22a"/></linearGradient><linearGradient id="b151" gradientUnits="userSpaceOnUse" x1="315.6" y1="86" x2="310" y2="71.4"><stop stop-color="#20a5e3"/><stop offset=".50" stop-color="#02bac3"/><stop offset="1" stop-color="#37c897"/></linearGradient><linearGradient id="b152" gradientUnits="userSpaceOnUse" x1="281.8" y1="60.9" x2="286.2" y2="47"><stop stop-color="#abc739"/><stop offset=".50" stop-color="#e6bb2d"/><stop offset="1" stop-color="#fec934"/></linearGradient><linearGradient id="b153" gradientUnits="userSpaceOnUse" x1="326.8" y1="114.8" x2="324.7" y2="107.3"><stop stop-color="#422ec0"/><stop offset="1" stop-color="#4747eb"/></linearGradient><linearGradient id="b154" gradientUnits="userSpaceOnUse" x1="328.8" y1="117.7" x2="327.7" y2="112.8"><stop stop-color="#3e26a8"/><stop offset="1" stop-color="#4332cb"/></linearGradient><linearGradient id="b155" gradientUnits="userSpaceOnUse" x1="296" y1="63" x2="294" y2="48.4"><stop stop-color="#abc739"/><stop offset=".50" stop-color="#dcbd29"/><stop offset="1" stop-color="#fec338"/></linearGradient><linearGradient id="b157" gradientUnits="userSpaceOnUse" x1="279.5" y1="79" x2="280.6" y2="77.2"><stop stop-color="#0bbdbd"/><stop offset="1" stop-color="#24c1ae"/></linearGradient><linearGradient id="b158" gradientUnits="userSpaceOnUse" x1="280.2" y1="77.8" x2="283.4" y2="71.3"><stop stop-color="#19bfb6"/><stop offset="1" stop-color="#4acb84"/></linearGradient><linearGradient id="b159" gradientUnits="userSpaceOnUse" x1="283.1" y1="74.3" x2="287" y2="62.5"><stop stop-color="#31c69f"/><stop offset=".50" stop-color="#64cd6f"/><stop offset="1" stop-color="#abc739"/></linearGradient><linearGradient id="b160" gradientUnits="userSpaceOnUse" x1="288.3" y1="69.2" x2="290.6" y2="53.5"><stop stop-color="#64cd6f"/><stop offset=".50" stop-color="#b9c431"/><stop offset="1" stop-color="#f0ba36"/></linearGradient><linearGradient id="b161" gradientUnits="userSpaceOnUse" x1="302.6" y1="74.8" x2="298.5" y2="59.6"><stop stop-color="#31c69f"/><stop offset=".50" stop-color="#72cd64"/><stop offset="1" stop-color="#c5c22a"/></linearGradient><linearGradient id="b162" gradientUnits="userSpaceOnUse" x1="315" y1="101.5" x2="307.9" y2="87.8"><stop stop-color="#4269fe"/><stop offset=".50" stop-color="#2d8cf3"/><stop offset="1" stop-color="#1ca9df"/></linearGradient><linearGradient id="b163" gradientUnits="userSpaceOnUse" x1="309.1" y1="88.6" x2="303.4" y2="73.8"><stop stop-color="#20a5e3"/><stop offset=".50" stop-color="#02bac3"/><stop offset="1" stop-color="#37c897"/></linearGradient><linearGradient id="b164" gradientUnits="userSpaceOnUse" x1="319.8" y1="110.8" x2="311.9" y2="99.7"><stop stop-color="#4741e5"/><stop offset=".50" stop-color="#465efb"/><stop offset="1" stop-color="#327cfc"/></linearGradient><linearGradient id="b165" gradientUnits="userSpaceOnUse" x1="323.6" y1="116" x2="315" y2="108.7"><stop stop-color="#422ec0"/><stop offset="1" stop-color="#4852f4"/></linearGradient><linearGradient id="b166" gradientUnits="userSpaceOnUse" x1="295.4" y1="79" x2="294.4" y2="63"><stop stop-color="#24c1ae"/><stop offset=".50" stop-color="#57cc7a"/><stop offset="1" stop-color="#abc739"/></linearGradient><linearGradient id="b167" gradientUnits="userSpaceOnUse" x1="326" y1="117.5" x2="317.4" y2="115.1"><stop stop-color="#3e26a8"/><stop offset="1" stop-color="#4741e5"/></linearGradient><linearGradient id="b168" gradientUnits="userSpaceOnUse" x1="325.7" y1="117.1" x2="320" y2="118.8"><stop stop-color="#3e26a8"/><stop offset="1" stop-color="#4537d5"/></linearGradient><linearGradient id="b169" gradientUnits="userSpaceOnUse" x1="289.9" y1="81.3" x2="291.1" y2="69.4"><stop stop-color="#19bfb6"/><stop offset=".50" stop-color="#37c897"/><stop offset="1" stop-color="#64cd6f"/></linearGradient><linearGradient id="b170" gradientUnits="userSpaceOnUse" x1="302.6" y1="90.2" x2="298.1" y2="76"><stop stop-color="#1ca9df"/><stop offset=".50" stop-color="#02bac3"/><stop offset="1" stop-color="#31c69f"/></linearGradient><linearGradient id="b171" gradientUnits="userSpaceOnUse" x1="286.5" y1="82.4" x2="288.6" y2="76.2"><stop stop-color="#0bbdbd"/><stop offset="1" stop-color="#31c69f"/></linearGradient><linearGradient id="b173" gradientUnits="userSpaceOnUse" x1="310.4" y1="101.1" x2="301.7" y2="89.3"><stop stop-color="#327cfc"/><stop offset=".50" stop-color="#2797eb"/><stop offset="1" stop-color="#18addb"/></linearGradient><linearGradient id="b174" gradientUnits="userSpaceOnUse" x1="316.2" y1="106.6" x2="304.7" y2="101"><stop stop-color="#4852f4"/><stop offset=".50" stop-color="#3e6fff"/><stop offset="1" stop-color="#2b91ef"/></linearGradient><linearGradient id="b175" gradientUnits="userSpaceOnUse" x1="298.4" y1="91.4" x2="293.7" y2="79.4"><stop stop-color="#18addb"/><stop offset="1" stop-color="#24c1ae"/></linearGradient><linearGradient id="b176" gradientUnits="userSpaceOnUse" x1="317.1" y1="109.3" x2="310.1" y2="110.2"><stop stop-color="#4741e5"/><stop offset=".50" stop-color="#4758f8"/><stop offset="1" stop-color="#3875fe"/></linearGradient><linearGradient id="b177" gradientUnits="userSpaceOnUse" x1="294.5" y1="91.2" x2="291.3" y2="81.6"><stop stop-color="#01b8ca"/><stop offset="1" stop-color="#19bfb6"/></linearGradient><linearGradient id="b178" gradientUnits="userSpaceOnUse" x1="317" y1="112.6" x2="314.8" y2="113.9"><stop stop-color="#4537d5"/><stop offset=".50" stop-color="#484df0"/><stop offset="1" stop-color="#4269fe"/></linearGradient><linearGradient id="b179" gradientUnits="userSpaceOnUse" x1="307.3" y1="94.8" x2="296.5" y2="91.9"><stop stop-color="#2b91ef"/><stop offset=".50" stop-color="#20a5e3"/><stop offset="1" stop-color="#01b8ca"/></linearGradient><linearGradient id="b180" gradientUnits="userSpaceOnUse" x1="317.4" y1="114.5" x2="316.8" y2="115"><stop stop-color="#4537d5"/><stop offset="1" stop-color="#4563fd"/></linearGradient><linearGradient id="b182" gradientUnits="userSpaceOnUse" x1="310.9" y1="101.2" x2="300.8" y2="98.5"><stop stop-color="#3875fe"/><stop offset=".50" stop-color="#2b91ef"/><stop offset="1" stop-color="#1ca9df"/></linearGradient><linearGradient id="b183" gradientUnits="userSpaceOnUse" x1="300.1" y1="97.2" x2="296.3" y2="86.9"><stop stop-color="#1ca9df"/><stop offset="1" stop-color="#02bac3"/></linearGradient><linearGradient id="b184" gradientUnits="userSpaceOnUse" x1="307.8" y1="105.5" x2="309.8" y2="103.4"><stop stop-color="#4269fe"/><stop offset=".50" stop-color="#2e87f7"/><stop offset="1" stop-color="#23a0e5"/></linearGradient><linearGradient id="b186" gradientUnits="userSpaceOnUse" x1="310.1" y1="108.6" x2="312.4" y2="105.7"><stop stop-color="#4563fd"/><stop offset=".50" stop-color="#2f81fa"/><stop offset="1" stop-color="#259be8"/></linearGradient><linearGradient id="b187" gradientUnits="userSpaceOnUse" x1="301.3" y1="96.2" x2="302.8" y2="94.4"><stop stop-color="#23a0e5"/><stop offset="1" stop-color="#02bac3"/></linearGradient><linearGradient id="b188" gradientUnits="userSpaceOnUse" x1="311.3" y1="110.1" x2="313.7" y2="106.6"><stop stop-color="#465efb"/><stop offset=".50" stop-color="#327cfc"/><stop offset="1" stop-color="#2797eb"/></linearGradient><linearGradient id="b189" gradientUnits="userSpaceOnUse" x1="300.3" y1="92.9" x2="300.7" y2="92.3"><stop stop-color="#01b8ca"/><stop offset="1" stop-color="#0bbdbd"/></linearGradient><linearGradient id="b190" gradientUnits="userSpaceOnUse" x1="304.7" y1="99.7" x2="306.5" y2="97.2"><stop stop-color="#259be8"/><stop offset="1" stop-color="#01b8ca"/></linearGradient><linearGradient id="b191" gradientUnits="userSpaceOnUse" x1="307" y1="101.9" x2="309.1" y2="99"><stop stop-color="#2797eb"/><stop offset="1" stop-color="#01b8ca"/></linearGradient><linearGradient id="b192" gradientUnits="userSpaceOnUse" x1="303.7" y1="95.4" x2="304.3" y2="94.5"><stop stop-color="#01b8ca"/><stop offset="1" stop-color="#0bbdbd"/></linearGradient><linearGradient id="b193" gradientUnits="userSpaceOnUse" x1="308.3" y1="102.9" x2="310.3" y2="99.8"><stop stop-color="#2797eb"/><stop offset="1" stop-color="#01b8ca"/></linearGradient><linearGradient id="b194" gradientUnits="userSpaceOnUse" x1="306.1" y1="97.1" x2="306.8" y2="96.1"><stop stop-color="#01b8ca"/><stop offset="1" stop-color="#0bbdbd"/></linearGradient><linearGradient id="b195" gradientUnits="userSpaceOnUse" x1="307.4" y1="97.9" x2="308" y2="96.9"><stop stop-color="#01b8ca"/><stop offset="1" stop-color="#0bbdbd"/></linearGradient></defs><g stroke-width="0.65" stroke-linejoin="round"><polygon points="322.9,40.5 323.7,40.7 323.1,40.3 322.3,40.1" fill="#0bbdbd" stroke="#0275d1"/>
<polygon points="324.8,41.7 325.6,41.9 323.7,40.7 322.9,40.5" fill="#0bbdbd" stroke="#0275d1"/>
<polygon points="320.5,40.1 322.9,40.5 322.3,40.1 319.8,39.7" fill="#19bfb6" stroke="#0476d0"/>
<polygon points="322.3,41.2 324.8,41.7 322.9,40.5 320.5,40.1" fill="#19bfb6" stroke="#0476d0"/>
<polygon points="327.8,43.6 328.6,43.7 325.6,41.9 324.8,41.7" fill="#0bbdbd" stroke="#0275d1"/>
<polygon points="316.5,39.1 320.5,40.1 319.8,39.7 315.9,38.7" fill="url(#b5)" stroke="#0877cd"/>
<polygon points="325.3,43.1 327.8,43.6 324.8,41.7 322.3,41.2" fill="#19bfb6" stroke="#0476d0"/>
<polygon points="318.4,40.3 322.3,41.2 320.5,40.1 316.5,39.1" fill="url(#b7)" stroke="#0877cd"/>
<polygon points="331.8,46.1 332.6,46.2 328.6,43.7 327.8,43.6" fill="#0bbdbd" stroke="#0275d1"/>
<polygon points="321.4,42.3 325.3,43.1 322.3,41.2 318.4,40.3" fill="url(#b9)" stroke="#0877cd"/>
<polygon points="311.3,37.5 316.5,39.1 315.9,38.7 310.7,37.1" fill="url(#b10)" stroke="#0c78c8"/>
<polygon points="329.3,45.7 331.8,46.1 327.8,43.6 325.3,43.1" fill="#19bfb6" stroke="#0476d0"/>
<polygon points="313.2,38.7 318.4,40.3 316.5,39.1 311.3,37.5" fill="url(#b12)" stroke="#0c78c8"/>
<polygon points="325.4,44.9 329.3,45.7 325.3,43.1 321.4,42.3" fill="url(#b13)" stroke="#0877cd"/>
<polygon points="336.6,49.1 337.4,49.2 332.6,46.2 331.8,46.1" fill="#0bbdbd" stroke="#0275d1"/>
<polygon points="316.2,40.7 321.4,42.3 318.4,40.3 313.2,38.7" fill="url(#b15)" stroke="#0c78c8"/>
<polygon points="334.1,48.9 336.6,49.1 331.8,46.1 329.3,45.7" fill="#19bfb6" stroke="#0476d0"/>
<polygon points="305.1,35.3 311.3,37.5 310.7,37.1 304.4,34.9" fill="url(#b17)" stroke="#1978bd"/>
<polygon points="306.9,36.6 313.2,38.7 311.3,37.5 305.1,35.3" fill="url(#b18)" stroke="#1978bd"/>
<polygon points="320.2,43.5 325.4,44.9 321.4,42.3 316.2,40.7" fill="url(#b19)" stroke="#0c78c8"/>
<polygon points="330.2,48.3 334.1,48.9 329.3,45.7 325.4,44.9" fill="url(#b20)" stroke="#0877cd"/>
<polygon points="341.9,52.6 342.7,52.6 337.4,49.2 336.6,49.1" fill="#0bbdbd" stroke="#0275d1"/>
<polygon points="309.9,38.6 316.2,40.7 313.2,38.7 306.9,36.6" fill="url(#b22)" stroke="#1978bd"/>
<polygon points="339.5,52.5 341.9,52.6 336.6,49.1 334.1,48.9" fill="#19bfb6" stroke="#0476d0"/>
<polygon points="325,47.1 330.2,48.3 325.4,44.9 320.2,43.5" fill="url(#b24)" stroke="#0c78c8"/>
<polygon points="298.1,32.8 305.1,35.3 304.4,34.9 297.4,32.4" fill="url(#b25)" stroke="#2776b4"/>
<polygon points="335.5,52.3 339.5,52.5 334.1,48.9 330.2,48.3" fill="url(#b26)" stroke="#0877cd"/>
<polygon points="313.9,41.6 320.2,43.5 316.2,40.7 309.9,38.6" fill="url(#b27)" stroke="#1679c0"/>
<polygon points="299.9,34 306.9,36.6 305.1,35.3 298.1,32.8" fill="url(#b28)" stroke="#2776b4"/>
<polygon points="347.5,56.2 348.4,56.1 342.7,52.6 341.9,52.6" fill="#0bbdbd" stroke="#0275d1"/>
<polygon points="345.1,56.6 347.5,56.2 341.9,52.6 339.5,52.5" fill="#19bfb6" stroke="#0476d0"/>
<polygon points="303,36.2 309.9,38.6 306.9,36.6 299.9,34" fill="url(#b31)" stroke="#2776b4"/>
<polygon points="330.3,51.7 335.5,52.3 330.2,48.3 325,47.1" fill="url(#b32)" stroke="#0a78ca"/>
<polygon points="318.7,45.5 325,47.1 320.2,43.5 313.9,41.6" fill="url(#b33)" stroke="#1679c0"/>
<polygon points="341.2,57.2 345.1,56.6 339.5,52.5 335.5,52.3" fill="url(#b34)" stroke="#0776ce"/>
<polygon points="307,39.3 313.9,41.6 309.9,38.6 303,36.2" fill="url(#b35)" stroke="#2477b5"/>
<polygon points="290.7,29.4 298.1,32.8 297.4,32.4 290.1,29" fill="url(#b36)" stroke="#3276b8"/>
<polygon points="353.1,60 354,59.6 348.4,56.1 347.5,56.2" fill="#0bbdbd" stroke="#0275d1"/>
<polygon points="350.7,61 353.1,60 347.5,56.2 345.1,56.6" fill="#0bbdbd" stroke="#0275d1"/>
<polygon points="292.6,30.6 299.9,34 298.1,32.8 290.7,29.4" fill="url(#b39)" stroke="#3276b8"/>
<polygon points="335.9,57.6 341.2,57.2 335.5,52.3 330.3,51.7" fill="url(#b40)" stroke="#0977cb"/>
<polygon points="324,50.8 330.3,51.7 325,47.1 318.7,45.5" fill="url(#b41)" stroke="#1178c4"/>
<polygon points="346.8,62.6 350.7,61 345.1,56.6 341.2,57.2" fill="url(#b42)" stroke="#0476d0"/>
<polygon points="295.6,32.8 303,36.2 299.9,34 292.6,30.6" fill="url(#b43)" stroke="#3276b8"/>
<polygon points="311.7,43.7 318.7,45.5 313.9,41.6 307,39.3" fill="url(#b44)" stroke="#2277b7"/>
<polygon points="358.5,63.6 359.3,63 354,59.6 353.1,60" fill="#0bbdbd" stroke="#0275d1"/>
<polygon points="341.5,64.4 346.8,62.6 341.2,57.2 335.9,57.6" fill="url(#b46)" stroke="#0476d0"/>
<polygon points="329.7,57.8 335.9,57.6 330.3,51.7 324,50.8" fill="url(#b47)" stroke="#0c78c8"/>
<polygon points="356,65.3 358.5,63.6 353.1,60 350.7,61" fill="#0bbdbd" stroke="#0275d1"/>
<polygon points="299.6,36.2 307,39.3 303,36.2 295.6,32.8" fill="url(#b49)" stroke="#3175b8"/>
<polygon points="283.4,27 290.7,29.4 290.1,29 282.8,26.6" fill="url(#b50)" stroke="#307db3"/>
<polygon points="317.1,49.6 324,50.8 318.7,45.5 311.7,43.7" fill="url(#b51)" stroke="#1f78b9"/>
<polygon points="352.1,68.1 356,65.3 350.7,61 346.8,62.6" fill="url(#b52)" stroke="#0075d3"/>
<polygon points="285.3,28.3 292.6,30.6 290.7,29.4 283.4,27" fill="url(#b53)" stroke="#307db3"/>
<polygon points="335.3,66.2 341.5,64.4 335.9,57.6 329.7,57.8" fill="url(#b54)" stroke="#0776ce"/>
<polygon points="346.9,71.5 352.1,68.1 346.8,62.6 341.5,64.4" fill="url(#b55)" stroke="#0074d4"/>
<polygon points="363.3,66.8 364.1,66 359.3,63 358.5,63.6" fill="#0bbdbd" stroke="#0275d1"/>
<polygon points="304.4,41 311.7,43.7 307,39.3 299.6,36.2" fill="url(#b57)" stroke="#2f75b6"/>
<polygon points="288.3,30.6 295.6,32.8 292.6,30.6 285.3,28.3" fill="url(#b58)" stroke="#307db3"/>
<polygon points="257.7,65.4 258.6,63 257.9,62.6 257.1,65" fill="url(#b59)" stroke="#0476d0"/>
<polygon points="360.8,69.2 363.3,66.8 358.5,63.6 356,65.3" fill="url(#b60)" stroke="#0075d3"/>
<polygon points="322.7,57.7 329.7,57.8 324,50.8 317.1,49.6" fill="url(#b61)" stroke="#1379c2"/>
<polygon points="356.9,73 360.8,69.2 356,65.3 352.1,68.1" fill="url(#b62)" stroke="#0174d5"/>
<polygon points="259.6,66.6 260.4,64.1 258.6,63 257.7,65.4" fill="url(#b63)" stroke="#0476d0"/>
<polygon points="258.6,63 261,55.5 260.4,55.1 257.9,62.6" fill="url(#b64)" stroke="#0c78c8"/>
<polygon points="276.4,28.2 283.4,27 282.8,26.6 275.8,27.8" fill="#f7f51b" stroke="#3181b1"/>
<polygon points="340.6,75 346.9,71.5 341.5,64.4 335.3,66.2" fill="url(#b66)" stroke="#0074d4"/>
<polygon points="260.4,64.1 262.9,56.7 261,55.5 258.6,63" fill="url(#b67)" stroke="#0c78c8"/>
<polygon points="351.7,77.9 356.9,73 352.1,68.1 346.9,71.5" fill="url(#b68)" stroke="#0472d7"/>
<polygon points="292.3,34.1 299.6,36.2 295.6,32.8 288.3,30.6" fill="url(#b69)" stroke="#317cb4"/>
<polygon points="278.3,29.5 285.3,28.3 283.4,27 276.4,28.2" fill="url(#b70)" stroke="#3181b1"/>
<polygon points="309.7,47.8 317.1,49.6 311.7,43.7 304.4,41" fill="url(#b71)" stroke="#2976b3"/>
<polygon points="261,55.5 264.9,44.8 264.3,44.4 260.4,55.1" fill="url(#b72)" stroke="#2277b7"/>
<polygon points="262.6,68.4 263.4,66 260.4,64.1 259.6,66.6" fill="url(#b73)" stroke="#0476d0"/>
<polygon points="328.3,67.5 335.3,66.2 329.7,57.8 322.7,57.7" fill="url(#b74)" stroke="#0977cb"/>
<polygon points="367.3,69.4 368.1,68.5 364.1,66 363.3,66.8" fill="#0bbdbd" stroke="#0275d1"/>
<polygon points="364.8,72.3 367.3,69.4 363.3,66.8 360.8,69.2" fill="url(#b76)" stroke="#0075d3"/>
<polygon points="262.9,56.7 266.8,46 264.9,44.8 261,55.5" fill="url(#b77)" stroke="#2277b7"/>
<polygon points="360.9,76.8 364.8,72.3 360.8,69.2 356.9,73" fill="url(#b78)" stroke="#0373d6"/>
<polygon points="263.4,66 265.9,58.7 262.9,56.7 260.4,64.1" fill="url(#b79)" stroke="#0c78c8"/>
<polygon points="345.4,82.9 351.7,77.9 346.9,71.5 340.6,75" fill="url(#b80)" stroke="#0671d9"/>
<polygon points="270.2,34.4 276.4,28.2 275.8,27.8 269.5,34" fill="url(#b81)" stroke="#317fb2"/>
<polygon points="264.9,44.8 270.2,34.4 269.5,34 264.3,44.4" fill="url(#b82)" stroke="#3277b7"/>
<polygon points="281.3,31.8 288.3,30.6 285.3,28.3 278.3,29.5" fill="url(#b83)" stroke="#3181b1"/>
<polygon points="355.7,82.7 360.9,76.8 356.9,73 351.7,77.9" fill="url(#b84)" stroke="#0671d9"/>
<polygon points="333.6,78.1 340.6,75 335.3,66.2 328.3,67.5" fill="url(#b85)" stroke="#0074d4"/>
<polygon points="297.1,39.3 304.4,41 299.6,36.2 292.3,34.1" fill="url(#b86)" stroke="#3279b5"/>
<polygon points="272,35.7 278.3,29.5 276.4,28.2 270.2,34.4" fill="url(#b87)" stroke="#317fb2"/>
<polygon points="266.8,46 272,35.7 270.2,34.4 264.9,44.8" fill="url(#b88)" stroke="#3277b7"/>
<polygon points="315.4,57.1 322.7,57.7 317.1,49.6 309.7,47.8" fill="url(#b89)" stroke="#1f78b9"/>
<polygon points="265.9,58.7 269.8,48.2 266.8,46 262.9,56.7" fill="url(#b90)" stroke="#2277b7"/>
<polygon points="266.6,70.9 267.4,68.6 263.4,66 262.6,68.4" fill="url(#b91)" stroke="#0476d0"/>
<polygon points="370.3,71.4 371.1,70.3 368.1,68.5 367.3,69.4" fill="#0bbdbd" stroke="#0275d1"/>
<polygon points="367.8,74.5 370.3,71.4 367.3,69.4 364.8,72.3" fill="url(#b93)" stroke="#0074d4"/>
<polygon points="349.4,88.8 355.7,82.7 351.7,77.9 345.4,82.9" fill="url(#b94)" stroke="#076edb"/>
<polygon points="363.9,79.4 367.8,74.5 364.8,72.3 360.9,76.8" fill="url(#b95)" stroke="#0472d7"/>
<polygon points="338.4,87.4 345.4,82.9 340.6,75 333.6,78.1" fill="url(#b96)" stroke="#0670d9"/>
<polygon points="267.4,68.6 269.9,61.6 265.9,58.7 263.4,66" fill="url(#b97)" stroke="#0c78c8"/>
<polygon points="285.3,35.4 292.3,34.1 288.3,30.6 281.3,31.8" fill="url(#b98)" stroke="#317fb2"/>
<polygon points="275,37.9 281.3,31.8 278.3,29.5 272,35.7" fill="url(#b99)" stroke="#317fb2"/>
<polygon points="358.7,85.8 363.9,79.4 360.9,76.8 355.7,82.7" fill="url(#b100)" stroke="#0670d9"/>
<polygon points="269.8,48.2 275,37.9 272,35.7 266.8,46" fill="url(#b101)" stroke="#3277b7"/>
<polygon points="321,68.8 328.3,67.5 322.7,57.7 315.4,57.1" fill="url(#b102)" stroke="#0e78c6"/>
<polygon points="372.1,72.6 373,71.5 371.1,70.3 370.3,71.4" fill="#0bbdbd" stroke="#0275d1"/>
<polygon points="369.7,75.8 372.1,72.6 370.3,71.4 367.8,74.5" fill="url(#b104)" stroke="#0074d4"/>
<polygon points="302.4,46.8 309.7,47.8 304.4,41 297.1,39.3" fill="url(#b105)" stroke="#3276b8"/>
<polygon points="352.4,92.5 358.7,85.8 355.7,82.7 349.4,88.8" fill="url(#b106)" stroke="#096bdd"/>
<polygon points="342.4,94.3 349.4,88.8 345.4,82.9 338.4,87.4" fill="url(#b107)" stroke="#096bdd"/>
<polygon points="365.8,80.8 369.7,75.8 367.8,74.5 363.9,79.4" fill="url(#b108)" stroke="#0472d7"/>
<polygon points="269.9,61.6 273.8,51.3 269.8,48.2 265.9,58.7" fill="url(#b109)" stroke="#2277b7"/>
<polygon points="326.3,81.2 333.6,78.1 328.3,67.5 321,68.8" fill="url(#b110)" stroke="#0074d4"/>
<polygon points="360.5,87.4 365.8,80.8 363.9,79.4 358.7,85.8" fill="url(#b111)" stroke="#076fda"/>
<polygon points="372.8,73 373.6,71.9 373,71.5 372.1,72.6" fill="#0bbdbd" stroke="#0275d1"/>
<polygon points="370.3,76.2 372.8,73 372.1,72.6 369.7,75.8" fill="url(#b113)" stroke="#0074d4"/>
<polygon points="366.4,81.3 370.3,76.2 369.7,75.8 365.8,80.8" fill="url(#b114)" stroke="#0472d7"/>
<polygon points="271.4,73.9 272.2,71.8 267.4,68.6 266.6,70.9" fill="url(#b115)" stroke="#0476d0"/>
<polygon points="331.1,92.3 338.4,87.4 333.6,78.1 326.3,81.2" fill="url(#b116)" stroke="#076edb"/>
<polygon points="279,41.4 285.3,35.4 281.3,31.8 275,37.9" fill="url(#b117)" stroke="#307eb3"/>
<polygon points="354.3,94.3 360.5,87.4 358.7,85.8 352.4,92.5" fill="url(#b118)" stroke="#0969de"/>
<polygon points="345.4,98.6 352.4,92.5 349.4,88.8 342.4,94.3" fill="url(#b119)" stroke="#0c66df"/>
<polygon points="361.2,87.9 366.4,81.3 365.8,80.8 360.5,87.4" fill="url(#b120)" stroke="#076fda"/>
<polygon points="290.1,40.7 297.1,39.3 292.3,34.1 285.3,35.4" fill="url(#b121)" stroke="#307db3"/>
<polygon points="273.8,51.3 279,41.4 275,37.9 269.8,48.2" fill="url(#b122)" stroke="#3277b7"/>
<polygon points="272.2,71.8 274.7,65.2 269.9,61.6 267.4,68.6" fill="url(#b123)" stroke="#0a78ca"/>
<polygon points="308,57.2 315.4,57.1 309.7,47.8 302.4,46.8" fill="url(#b124)" stroke="#2976b3"/>
<polygon points="335.1,100.5 342.4,94.3 338.4,87.4 331.1,92.3" fill="url(#b125)" stroke="#0b67de"/>
<polygon points="354.9,94.8 361.2,87.9 360.5,87.4 354.3,94.3" fill="url(#b126)" stroke="#0969de"/>
<polygon points="347.3,100.7 354.3,94.3 352.4,92.5 345.4,98.6" fill="url(#b127)" stroke="#0d65de"/>
<polygon points="338.1,105.4 345.4,98.6 342.4,94.3 335.1,100.5" fill="url(#b128)" stroke="#0d62de"/>
<polygon points="274.7,65.2 278.6,55.7 273.8,51.3 269.9,61.6" fill="url(#b129)" stroke="#1f78b9"/>
<polygon points="313.6,70.4 321,68.8 315.4,57.1 308,57.2" fill="url(#b130)" stroke="#1379c2"/>
<polygon points="347.9,101.3 354.9,94.8 354.3,94.3 347.3,100.7" fill="url(#b131)" stroke="#0d63de"/>
<polygon points="319,84.6 326.3,81.2 321,68.8 313.6,70.4" fill="url(#b132)" stroke="#0075d3"/>
<polygon points="323.7,97.2 331.1,92.3 326.3,81.2 319,84.6" fill="url(#b133)" stroke="#086ddb"/>
<polygon points="283.8,46.4 290.1,40.7 285.3,35.4 279,41.4" fill="url(#b134)" stroke="#317cb4"/>
<polygon points="295.4,48.3 302.4,46.8 297.1,39.3 290.1,40.7" fill="url(#b135)" stroke="#3279b5"/>
<polygon points="327.7,106.5 335.1,100.5 331.1,92.3 323.7,97.2" fill="url(#b136)" stroke="#0d63de"/>
<polygon points="340,107.8 347.3,100.7 345.4,98.6 338.1,105.4" fill="url(#b137)" stroke="#0e60dc"/>
<polygon points="278.6,55.7 283.8,46.4 279,41.4 273.8,51.3" fill="url(#b138)" stroke="#3175b8"/>
<polygon points="276.7,77.3 277.6,75.4 272.2,71.8 271.4,73.9" fill="url(#b139)" stroke="#0476d0"/>
<polygon points="340.6,108.5 347.9,101.3 347.3,100.7 340,107.8" fill="url(#b140)" stroke="#0e5fdc"/>
<polygon points="330.8,112.1 338.1,105.4 335.1,100.5 327.7,106.5" fill="url(#b141)" stroke="#0e5edb"/>
<polygon points="277.6,75.4 280,69.8 274.7,65.2 272.2,71.8" fill="url(#b142)" stroke="#0a78ca"/>
<polygon points="332.6,114.7 340,107.8 338.1,105.4 330.8,112.1" fill="url(#b143)" stroke="#0d5bd6"/>
<polygon points="301,59.1 308,57.2 302.4,46.8 295.4,48.3" fill="url(#b144)" stroke="#2d75b5"/>
<polygon points="280,69.8 283.9,61.7 278.6,55.7 274.7,65.2" fill="url(#b145)" stroke="#1978bd"/>
<polygon points="333.3,115.4 340.6,108.5 340,107.8 332.6,114.7" fill="url(#b146)" stroke="#0d5ad4"/>
<polygon points="289.2,53.5 295.4,48.3 290.1,40.7 283.8,46.4" fill="url(#b147)" stroke="#3278b6"/>
<polygon points="316.8,100.4 323.7,97.2 319,84.6 312,87.3" fill="url(#b148)" stroke="#086cdc"/>
<polygon points="320.8,109.9 327.7,106.5 323.7,97.2 316.8,100.4" fill="url(#b149)" stroke="#0e61dd"/>
<polygon points="306.7,72.7 313.6,70.4 308,57.2 301,59.1" fill="url(#b150)" stroke="#1679c0"/>
<polygon points="312,87.3 319,84.6 313.6,70.4 306.7,72.7" fill="url(#b151)" stroke="#0075d3"/>
<polygon points="283.9,61.7 289.2,53.5 283.8,46.4 278.6,55.7" fill="url(#b152)" stroke="#2d75b5"/>
<polygon points="323.8,115.6 330.8,112.1 327.7,106.5 320.8,109.9" fill="url(#b153)" stroke="#0d5bd6"/>
<polygon points="325.6,118.4 332.6,114.7 330.8,112.1 323.8,115.6" fill="url(#b154)" stroke="#0d59d2"/>
<polygon points="294.8,63.3 301,59.1 295.4,48.3 289.2,53.5" fill="url(#b155)" stroke="#2b75b4"/>
<polygon points="326.3,119.1 333.3,115.4 332.6,114.7 325.6,118.4" fill="#402ab4" stroke="#0c58d0"/>
<polygon points="282.4,80.8 283.2,79.5 277.6,75.4 276.7,77.3" fill="url(#b157)" stroke="#0476d0"/>
<polygon points="283.2,79.5 285.6,75.5 280,69.8 277.6,75.4" fill="url(#b158)" stroke="#0877cd"/>
<polygon points="285.6,75.5 289.5,69.6 283.9,61.7 280,69.8" fill="url(#b159)" stroke="#1178c4"/>
<polygon points="289.5,69.6 294.8,63.3 289.2,53.5 283.9,61.7" fill="url(#b160)" stroke="#2277b7"/>
<polygon points="300.4,75.6 306.7,72.7 301,59.1 294.8,63.3" fill="url(#b161)" stroke="#1679c0"/>
<polygon points="310.5,100.5 316.8,100.4 312,87.3 305.7,88.8" fill="url(#b162)" stroke="#086ddb"/>
<polygon points="305.7,88.8 312,87.3 306.7,72.7 300.4,75.6" fill="url(#b163)" stroke="#0075d3"/>
<polygon points="314.5,109.1 320.8,109.9 316.8,100.4 310.5,100.5" fill="url(#b164)" stroke="#0d62de"/>
<polygon points="317.5,114.4 323.8,115.6 320.8,109.9 314.5,109.1" fill="url(#b165)" stroke="#0e5dd9"/>
<polygon points="295.2,79.3 300.4,75.6 294.8,63.3 289.5,69.6" fill="url(#b166)" stroke="#0e78c6"/>
<polygon points="319.4,116.9 325.6,118.4 323.8,115.6 317.5,114.4" fill="url(#b167)" stroke="#0d5ad4"/>
<polygon points="320,117.5 326.3,119.1 325.6,118.4 319.4,116.9" fill="url(#b168)" stroke="#0d59d2"/>
<polygon points="291.2,82.1 295.2,79.3 289.5,69.6 285.6,75.5" fill="url(#b169)" stroke="#0977cb"/>
<polygon points="300.5,89.7 305.7,88.8 300.4,75.6 295.2,79.3" fill="url(#b170)" stroke="#0075d3"/>
<polygon points="288.8,83.7 291.2,82.1 285.6,75.5 283.2,79.5" fill="url(#b171)" stroke="#0776ce"/>
<polygon points="288,84.3 288.8,83.7 283.2,79.5 282.4,80.8" fill="#0bbdbd" stroke="#0275d1"/>
<polygon points="305.3,98.9 310.5,100.5 305.7,88.8 300.5,89.7" fill="url(#b173)" stroke="#076fda"/>
<polygon points="309.3,105.7 314.5,109.1 310.5,100.5 305.3,98.9" fill="url(#b174)" stroke="#0b67de"/>
<polygon points="296.6,88.8 300.5,89.7 295.2,79.3 291.2,82.1" fill="url(#b175)" stroke="#0075d3"/>
<polygon points="312.3,109.9 317.5,114.4 314.5,109.1 309.3,105.7" fill="url(#b176)" stroke="#0d62de"/>
<polygon points="294.1,87.9 296.6,88.8 291.2,82.1 288.8,83.7" fill="url(#b177)" stroke="#0275d1"/>
<polygon points="314.2,112 319.4,116.9 317.5,114.4 312.3,109.9" fill="url(#b178)" stroke="#0e60dc"/>
<polygon points="301.4,94.9 305.3,98.9 300.5,89.7 296.6,88.8" fill="url(#b179)" stroke="#0571d8"/>
<polygon points="314.8,112.6 320,117.5 319.4,116.9 314.2,112" fill="url(#b180)" stroke="#0e5fdc"/>
<polygon points="293.3,87.7 294.1,87.9 288.8,83.7 288,84.3" fill="#0bbdbd" stroke="#0275d1"/>
<polygon points="305.4,99.5 309.3,105.7 305.3,98.9 301.4,94.9" fill="url(#b182)" stroke="#076edb"/>
<polygon points="298.9,91.7 301.4,94.9 296.6,88.8 294.1,87.9" fill="url(#b183)" stroke="#0074d4"/>
<polygon points="308.4,102.5 312.3,109.9 309.3,105.7 305.4,99.5" fill="url(#b184)" stroke="#096bdd"/>
<polygon points="298.1,90.7 298.9,91.7 294.1,87.9 293.3,87.7" fill="#0bbdbd" stroke="#0275d1"/>
<polygon points="310.2,104.1 314.2,112 312.3,109.9 308.4,102.5" fill="url(#b186)" stroke="#0969de"/>
<polygon points="302.9,94.7 305.4,99.5 301.4,94.9 298.9,91.7" fill="url(#b187)" stroke="#0373d6"/>
<polygon points="310.9,104.6 314.8,112.6 314.2,112 310.2,104.1" fill="url(#b188)" stroke="#0968de"/>
<polygon points="302.1,93.2 302.9,94.7 298.9,91.7 298.1,90.7" fill="url(#b189)" stroke="#0075d3"/>
<polygon points="305.9,96.9 308.4,102.5 305.4,99.5 302.9,94.7" fill="url(#b190)" stroke="#0472d7"/>
<polygon points="307.8,98.1 310.2,104.1 308.4,102.5 305.9,96.9" fill="url(#b191)" stroke="#0571d8"/>
<polygon points="305.1,95 305.9,96.9 302.9,94.7 302.1,93.2" fill="url(#b192)" stroke="#0075d3"/>
<polygon points="308.4,98.6 310.9,104.6 310.2,104.1 307.8,98.1" fill="url(#b193)" stroke="#0571d8"/>
<polygon points="307,96.2 307.8,98.1 305.9,96.9 305.1,95" fill="url(#b194)" stroke="#0075d3"/>
<polygon points="307.6,96.6 308.4,98.6 307.8,98.1 307,96.2" fill="url(#b195)" stroke="#0075d3"/></g>
<text x="252.70" y="101.40" font-size="7.2" text-anchor="end" fill="#3a3a3a" stroke="#3a3a3a" stroke-width="0.12">-2</text>
<text x="252.70" y="83.85" font-size="7.2" text-anchor="end" fill="#3a3a3a" stroke="#3a3a3a" stroke-width="0.12">-1</text>
<text x="252.70" y="66.30" font-size="7.2" text-anchor="end" fill="#3a3a3a" stroke="#3a3a3a" stroke-width="0.12">0</text>
<text x="252.70" y="48.75" font-size="7.2" text-anchor="end" fill="#3a3a3a" stroke="#3a3a3a" stroke-width="0.12">1</text>
<text x="252.70" y="31.20" font-size="7.2" text-anchor="end" fill="#3a3a3a" stroke="#3a3a3a" stroke-width="0.12">2</text>
<text x="303.00" y="141.00" font-size="7.3" text-anchor="end" fill="#3a3a3a" stroke="#3a3a3a" stroke-width="0.12">0</text>
<text x="277.75" y="125.20" font-size="7.3" text-anchor="end" fill="#3a3a3a" stroke="#3a3a3a" stroke-width="0.12">0.5</text>
<text x="252.50" y="109.40" font-size="7.3" text-anchor="end" fill="#3a3a3a" stroke="#3a3a3a" stroke-width="0.12">1</text>
<text x="311.00" y="141.70" font-size="7.3" text-anchor="start" fill="#3a3a3a" stroke="#3a3a3a" stroke-width="0.12">0</text>
<text x="344.00" y="129.35" font-size="7.3" text-anchor="start" fill="#3a3a3a" stroke="#3a3a3a" stroke-width="0.12">0.5</text>
<text x="377.00" y="117.00" font-size="7.3" text-anchor="start" fill="#3a3a3a" stroke="#3a3a3a" stroke-width="0.12">1</text>
<text x="269.85" y="143.70" font-size="7.7" text-anchor="middle" fill="#3a3a3a" stroke="#3a3a3a" stroke-width="0.12">y/b</text>
<text x="349.00" y="143.75" font-size="7.7" text-anchor="middle" fill="#3a3a3a" stroke="#3a3a3a" stroke-width="0.12">x/a</text>
<text transform="translate(236.50,22.30) scale(1,1.000)" fill="#4a4a4a" font-size="7.2">&#215;10<tspan font-size="5.2" dy="-3.2">-6</tspan></text>
<g transform="translate(240.00,65.00) scale(1,1.000) rotate(-90) scale(1.3,1)" fill="#333" font-family="Liberation Serif, serif"><text x="-4.25" y="0" font-size="10" font-style="italic">v</text><text x="0.75" y="1.8" font-size="7">0</text><line x1="-3.9" y1="-6.0" x2="0.4" y2="-6.0" stroke="#262626" stroke-width="0.6"/></g>
<line x1="417.50" y1="99.70" x2="483.80" y2="74.90" stroke="#e2e2e2" stroke-width="0.5"/>
<line x1="483.80" y1="74.90" x2="534.30" y2="106.90" stroke="#e2e2e2" stroke-width="0.5"/>
<line x1="417.50" y1="76.17" x2="483.80" y2="51.37" stroke="#e2e2e2" stroke-width="0.5"/>
<line x1="483.80" y1="51.37" x2="534.30" y2="83.37" stroke="#e2e2e2" stroke-width="0.5"/>
<line x1="417.50" y1="52.63" x2="483.80" y2="27.83" stroke="#e2e2e2" stroke-width="0.5"/>
<line x1="483.80" y1="27.83" x2="534.30" y2="59.83" stroke="#e2e2e2" stroke-width="0.5"/>
<line x1="417.50" y1="29.10" x2="483.80" y2="4.30" stroke="#e2e2e2" stroke-width="0.5"/>
<line x1="483.80" y1="4.30" x2="534.30" y2="36.30" stroke="#e2e2e2" stroke-width="0.5"/>
<line x1="417.50" y1="99.70" x2="417.50" y2="29.10" stroke="#e2e2e2" stroke-width="0.5"/>
<line x1="534.30" y1="106.90" x2="534.30" y2="36.30" stroke="#e2e2e2" stroke-width="0.5"/>
<line x1="468.00" y1="131.70" x2="417.50" y2="99.70" stroke="#e2e2e2" stroke-width="0.5"/>
<line x1="468.00" y1="131.70" x2="534.30" y2="106.90" stroke="#e2e2e2" stroke-width="0.5"/>
<line x1="450.65" y1="87.30" x2="450.65" y2="16.70" stroke="#e2e2e2" stroke-width="0.5"/>
<line x1="509.05" y1="90.90" x2="509.05" y2="20.30" stroke="#e2e2e2" stroke-width="0.5"/>
<line x1="501.15" y1="119.30" x2="450.65" y2="87.30" stroke="#e2e2e2" stroke-width="0.5"/>
<line x1="442.75" y1="115.70" x2="509.05" y2="90.90" stroke="#e2e2e2" stroke-width="0.5"/>
<line x1="483.80" y1="74.90" x2="483.80" y2="4.30" stroke="#e2e2e2" stroke-width="0.5"/>
<line x1="483.80" y1="74.90" x2="483.80" y2="4.30" stroke="#e2e2e2" stroke-width="0.5"/>
<line x1="534.30" y1="106.90" x2="483.80" y2="74.90" stroke="#e2e2e2" stroke-width="0.5"/>
<line x1="417.50" y1="99.70" x2="483.80" y2="74.90" stroke="#e2e2e2" stroke-width="0.5"/>
<line x1="468.00" y1="131.70" x2="534.30" y2="106.90" stroke="#4a4a4a" stroke-width="0.7"/>
<line x1="468.00" y1="131.70" x2="417.50" y2="99.70" stroke="#4a4a4a" stroke-width="0.7"/>
<line x1="417.50" y1="99.70" x2="417.50" y2="29.10" stroke="#4a4a4a" stroke-width="0.7"/>
<line x1="468.00" y1="131.70" x2="466.99" y2="131.06" stroke="#4a4a4a" stroke-width="0.7"/>
<line x1="468.00" y1="131.70" x2="469.33" y2="131.20" stroke="#4a4a4a" stroke-width="0.7"/>
<line x1="501.15" y1="119.30" x2="500.14" y2="118.66" stroke="#4a4a4a" stroke-width="0.7"/>
<line x1="442.75" y1="115.70" x2="444.08" y2="115.20" stroke="#4a4a4a" stroke-width="0.7"/>
<line x1="534.30" y1="106.90" x2="533.29" y2="106.26" stroke="#4a4a4a" stroke-width="0.7"/>
<line x1="417.50" y1="99.70" x2="418.83" y2="99.20" stroke="#4a4a4a" stroke-width="0.7"/>
<line x1="417.50" y1="99.70" x2="418.83" y2="99.20" stroke="#4a4a4a" stroke-width="0.7"/>
<line x1="417.50" y1="76.17" x2="418.83" y2="75.67" stroke="#4a4a4a" stroke-width="0.7"/>
<line x1="417.50" y1="52.63" x2="418.83" y2="52.14" stroke="#4a4a4a" stroke-width="0.7"/>
<line x1="417.50" y1="29.10" x2="418.83" y2="28.60" stroke="#4a4a4a" stroke-width="0.7"/>
<defs><linearGradient id="c6" gradientUnits="userSpaceOnUse" x1="480.2" y1="77" x2="480" y2="75.6"><stop stop-color="#3e26a8"/><stop offset="1" stop-color="#4332cb"/></linearGradient><linearGradient id="c7" gradientUnits="userSpaceOnUse" x1="485.5" y1="77.7" x2="486.1" y2="75.4"><stop stop-color="#3e26a8"/><stop offset="1" stop-color="#4332cb"/></linearGradient><linearGradient id="c10" gradientUnits="userSpaceOnUse" x1="475.7" y1="77.9" x2="475.2" y2="75.8"><stop stop-color="#402ab4"/><stop offset="1" stop-color="#463cde"/></linearGradient><linearGradient id="c11" gradientUnits="userSpaceOnUse" x1="482.5" y1="76.8" x2="482.6" y2="74.5"><stop stop-color="#422ec0"/><stop offset="1" stop-color="#4747eb"/></linearGradient><linearGradient id="c12" gradientUnits="userSpaceOnUse" x1="468.6" y1="80.6" x2="468.3" y2="79.6"><stop stop-color="#3e26a8"/><stop offset="1" stop-color="#422ec0"/></linearGradient><linearGradient id="c13" gradientUnits="userSpaceOnUse" x1="489" y1="78.5" x2="489.6" y2="77"><stop stop-color="#402ab4"/><stop offset="1" stop-color="#463cde"/></linearGradient><linearGradient id="c14" gradientUnits="userSpaceOnUse" x1="495.1" y1="82.1" x2="495.5" y2="81.5"><stop stop-color="#3e26a8"/><stop offset="1" stop-color="#422ec0"/></linearGradient><linearGradient id="c15" gradientUnits="userSpaceOnUse" x1="470.2" y1="79.4" x2="469.2" y2="76.1"><stop stop-color="#402ab4"/><stop offset="1" stop-color="#484df0"/></linearGradient><linearGradient id="c16" gradientUnits="userSpaceOnUse" x1="478.1" y1="76.6" x2="477.7" y2="72.1"><stop stop-color="#4332cb"/><stop offset=".50" stop-color="#484df0"/><stop offset="1" stop-color="#4563fd"/></linearGradient><linearGradient id="c17" gradientUnits="userSpaceOnUse" x1="462.1" y1="83" x2="461.6" y2="81.7"><stop stop-color="#3e26a8"/><stop offset="1" stop-color="#422ec0"/></linearGradient><linearGradient id="c18" gradientUnits="userSpaceOnUse" x1="485.7" y1="76.9" x2="486.6" y2="72.9"><stop stop-color="#4332cb"/><stop offset=".50" stop-color="#484df0"/><stop offset="1" stop-color="#4563fd"/></linearGradient><linearGradient id="c19" gradientUnits="userSpaceOnUse" x1="493.1" y1="80.5" x2="494.4" y2="78"><stop stop-color="#402ab4"/><stop offset="1" stop-color="#484df0"/></linearGradient><linearGradient id="c20" gradientUnits="userSpaceOnUse" x1="463.7" y1="81.3" x2="462.3" y2="77.1"><stop stop-color="#422ec0"/><stop offset="1" stop-color="#4852f4"/></linearGradient><linearGradient id="c21" gradientUnits="userSpaceOnUse" x1="500.1" y1="85.2" x2="500.7" y2="84.3"><stop stop-color="#3e26a8"/><stop offset="1" stop-color="#422ec0"/></linearGradient><linearGradient id="c22" gradientUnits="userSpaceOnUse" x1="454.9" y1="85.7" x2="454.4" y2="84.3"><stop stop-color="#3e26a8"/><stop offset="1" stop-color="#422ec0"/></linearGradient><linearGradient id="c23" gradientUnits="userSpaceOnUse" x1="472.7" y1="76.6" x2="471.5" y2="70.1"><stop stop-color="#463cde"/><stop offset=".50" stop-color="#465efb"/><stop offset="1" stop-color="#327cfc"/></linearGradient><linearGradient id="c24" gradientUnits="userSpaceOnUse" x1="481.3" y1="74.8" x2="481.7" y2="67.6"><stop stop-color="#4747eb"/><stop offset=".50" stop-color="#4269fe"/><stop offset="1" stop-color="#2b91ef"/></linearGradient><linearGradient id="c25" gradientUnits="userSpaceOnUse" x1="489.6" y1="77.3" x2="491.5" y2="71.8"><stop stop-color="#463cde"/><stop offset=".50" stop-color="#465efb"/><stop offset="1" stop-color="#327cfc"/></linearGradient><linearGradient id="c26" gradientUnits="userSpaceOnUse" x1="497.9" y1="83" x2="499.7" y2="79.9"><stop stop-color="#422ec0"/><stop offset="1" stop-color="#4852f4"/></linearGradient><linearGradient id="c27" gradientUnits="userSpaceOnUse" x1="456.7" y1="83.5" x2="455.1" y2="79.1"><stop stop-color="#422ec0"/><stop offset="1" stop-color="#4758f8"/></linearGradient><linearGradient id="c28" gradientUnits="userSpaceOnUse" x1="447.5" y1="88.5" x2="447" y2="87"><stop stop-color="#3e26a8"/><stop offset="1" stop-color="#422ec0"/></linearGradient><linearGradient id="c29" gradientUnits="userSpaceOnUse" x1="505.5" y1="88.7" x2="506.2" y2="87.6"><stop stop-color="#3e26a8"/><stop offset="1" stop-color="#422ec0"/></linearGradient><linearGradient id="c30" gradientUnits="userSpaceOnUse" x1="466.5" y1="76.9" x2="464.4" y2="69.4"><stop stop-color="#484df0"/><stop offset=".50" stop-color="#3e6fff"/><stop offset="1" stop-color="#2b91ef"/></linearGradient><linearGradient id="c31" gradientUnits="userSpaceOnUse" x1="476" y1="72.4" x2="475.3" y2="62.7"><stop stop-color="#4563fd"/><stop offset=".50" stop-color="#2b91ef"/><stop offset="1" stop-color="#12b1d6"/></linearGradient><linearGradient id="c32" gradientUnits="userSpaceOnUse" x1="449.3" y1="86.2" x2="447.7" y2="82"><stop stop-color="#422ec0"/><stop offset="1" stop-color="#4758f8"/></linearGradient><linearGradient id="c33" gradientUnits="userSpaceOnUse" x1="494.2" y1="78.1" x2="497" y2="72.1"><stop stop-color="#484df0"/><stop offset=".50" stop-color="#3e6fff"/><stop offset="1" stop-color="#2b91ef"/></linearGradient><linearGradient id="c34" gradientUnits="userSpaceOnUse" x1="440.3" y1="91.2" x2="439.8" y2="89.9"><stop stop-color="#3e26a8"/><stop offset="1" stop-color="#422ec0"/></linearGradient><linearGradient id="c35" gradientUnits="userSpaceOnUse" x1="503.2" y1="85.9" x2="505.2" y2="82.7"><stop stop-color="#422ec0"/><stop offset="1" stop-color="#4758f8"/></linearGradient><linearGradient id="c36" gradientUnits="userSpaceOnUse" x1="485" y1="72.8" x2="486.9" y2="63.7"><stop stop-color="#4563fd"/><stop offset=".50" stop-color="#2b91ef"/><stop offset="1" stop-color="#12b1d6"/></linearGradient><linearGradient id="c37" gradientUnits="userSpaceOnUse" x1="459.5" y1="78" x2="457.1" y2="70.8"><stop stop-color="#4852f4"/><stop offset=".50" stop-color="#3875fe"/><stop offset="1" stop-color="#2797eb"/></linearGradient><linearGradient id="c38" gradientUnits="userSpaceOnUse" x1="511.1" y1="92.2" x2="511.8" y2="91.2"><stop stop-color="#3e26a8"/><stop offset="1" stop-color="#422ec0"/></linearGradient><linearGradient id="c39" gradientUnits="userSpaceOnUse" x1="442.1" y1="89.2" x2="440.5" y2="85.4"><stop stop-color="#422ec0"/><stop offset="1" stop-color="#4852f4"/></linearGradient><linearGradient id="c40" gradientUnits="userSpaceOnUse" x1="433.6" y1="93.7" x2="433.2" y2="92.8"><stop stop-color="#3e26a8"/><stop offset="1" stop-color="#422ec0"/></linearGradient><linearGradient id="c41" gradientUnits="userSpaceOnUse" x1="470" y1="70.4" x2="468" y2="59.9"><stop stop-color="#327cfc"/><stop offset=".33" stop-color="#259be8"/><stop offset=".67" stop-color="#12b1d6"/><stop offset="1" stop-color="#24c1ae"/></linearGradient><linearGradient id="c42" gradientUnits="userSpaceOnUse" x1="508.9" y1="89.4" x2="510.8" y2="86.4"><stop stop-color="#422ec0"/><stop offset="1" stop-color="#4758f8"/></linearGradient><linearGradient id="c43" gradientUnits="userSpaceOnUse" x1="452.3" y1="80.5" x2="449.6" y2="73.9"><stop stop-color="#4852f4"/><stop offset=".50" stop-color="#3875fe"/><stop offset="1" stop-color="#2797eb"/></linearGradient><linearGradient id="c44" gradientUnits="userSpaceOnUse" x1="499.5" y1="79.7" x2="502.6" y2="74.4"><stop stop-color="#4852f4"/><stop offset=".50" stop-color="#3875fe"/><stop offset="1" stop-color="#2797eb"/></linearGradient><linearGradient id="c45" gradientUnits="userSpaceOnUse" x1="435.2" y1="92.2" x2="434" y2="89.5"><stop stop-color="#402ab4"/><stop offset="1" stop-color="#484df0"/></linearGradient><linearGradient id="c47" gradientUnits="userSpaceOnUse" x1="489.4" y1="71.1" x2="492.6" y2="62.1"><stop stop-color="#327cfc"/><stop offset=".33" stop-color="#259be8"/><stop offset=".67" stop-color="#12b1d6"/><stop offset="1" stop-color="#24c1ae"/></linearGradient><linearGradient id="c48" gradientUnits="userSpaceOnUse" x1="516.7" y1="95.7" x2="517.2" y2="94.8"><stop stop-color="#3e26a8"/><stop offset="1" stop-color="#422ec0"/></linearGradient><linearGradient id="c49" gradientUnits="userSpaceOnUse" x1="479.8" y1="67.6" x2="480.5" y2="55.9"><stop stop-color="#2b91ef"/><stop offset=".33" stop-color="#18addb"/><stop offset=".67" stop-color="#19bfb6"/><stop offset="1" stop-color="#4acb84"/></linearGradient><linearGradient id="c50" gradientUnits="userSpaceOnUse" x1="429.2" y1="95.1" x2="428.5" y2="93.5"><stop stop-color="#402ab4"/><stop offset="1" stop-color="#463cde"/></linearGradient><linearGradient id="c52" gradientUnits="userSpaceOnUse" x1="445.1" y1="84.3" x2="442.2" y2="78.4"><stop stop-color="#484df0"/><stop offset=".50" stop-color="#3e6fff"/><stop offset="1" stop-color="#2b91ef"/></linearGradient><linearGradient id="c53" gradientUnits="userSpaceOnUse" x1="514.5" y1="93.2" x2="516.2" y2="90.7"><stop stop-color="#422ec0"/><stop offset="1" stop-color="#4852f4"/></linearGradient><linearGradient id="c55" gradientUnits="userSpaceOnUse" x1="463.2" y1="69.7" x2="460.4" y2="60.7"><stop stop-color="#2b91ef"/><stop offset=".50" stop-color="#08b5d0"/><stop offset="1" stop-color="#31c69f"/></linearGradient><linearGradient id="c56" gradientUnits="userSpaceOnUse" x1="423.1" y1="96.5" x2="426.3" y2="98.6"><stop stop-color="#3e26a8"/><stop offset="1" stop-color="#4332cb"/></linearGradient><linearGradient id="c57" gradientUnits="userSpaceOnUse" x1="505.1" y1="82.9" x2="508.2" y2="78.4"><stop stop-color="#4852f4"/><stop offset=".50" stop-color="#3875fe"/><stop offset="1" stop-color="#2797eb"/></linearGradient><linearGradient id="c58" gradientUnits="userSpaceOnUse" x1="438.2" y1="88.5" x2="435.8" y2="84.7"><stop stop-color="#463cde"/><stop offset=".50" stop-color="#465efb"/><stop offset="1" stop-color="#327cfc"/></linearGradient><linearGradient id="c61" gradientUnits="userSpaceOnUse" x1="521.8" y1="99" x2="522.2" y2="98.4"><stop stop-color="#3e26a8"/><stop offset="1" stop-color="#422ec0"/></linearGradient><linearGradient id="c63" gradientUnits="userSpaceOnUse" x1="431" y1="96.3" x2="431.8" y2="86.5"><stop stop-color="#4332cb"/><stop offset=".50" stop-color="#484df0"/><stop offset="1" stop-color="#4563fd"/></linearGradient><linearGradient id="c64" gradientUnits="userSpaceOnUse" x1="494.6" y1="70.8" x2="498.3" y2="63.9"><stop stop-color="#2b91ef"/><stop offset=".50" stop-color="#08b5d0"/><stop offset="1" stop-color="#31c69f"/></linearGradient><linearGradient id="c65" gradientUnits="userSpaceOnUse" x1="423.9" y1="96.7" x2="430.9" y2="96.8"><stop stop-color="#422ec0"/><stop offset="1" stop-color="#4747eb"/></linearGradient><linearGradient id="c66" gradientUnits="userSpaceOnUse" x1="519.8" y1="97" x2="521" y2="95.4"><stop stop-color="#402ab4"/><stop offset="1" stop-color="#484df0"/></linearGradient><linearGradient id="c67" gradientUnits="userSpaceOnUse" x1="456.2" y1="71.8" x2="452.7" y2="64.1"><stop stop-color="#2b91ef"/><stop offset=".50" stop-color="#08b5d0"/><stop offset="1" stop-color="#31c69f"/></linearGradient><linearGradient id="c68" gradientUnits="userSpaceOnUse" x1="421.9" y1="101.3" x2="426.3" y2="98.1"><stop stop-color="#3e26a8"/><stop offset="1" stop-color="#4332cb"/></linearGradient><linearGradient id="c69" gradientUnits="userSpaceOnUse" x1="473.9" y1="62.8" x2="472.9" y2="51"><stop stop-color="#12b1d6"/><stop offset=".33" stop-color="#2cc4a7"/><stop offset=".67" stop-color="#64cd6f"/><stop offset="1" stop-color="#b9c431"/></linearGradient><linearGradient id="c71" gradientUnits="userSpaceOnUse" x1="510.8" y1="87.3" x2="513.5" y2="84.1"><stop stop-color="#484df0"/><stop offset=".50" stop-color="#3e6fff"/><stop offset="1" stop-color="#2b91ef"/></linearGradient><linearGradient id="c72" gradientUnits="userSpaceOnUse" x1="484" y1="63.1" x2="486.4" y2="52.2"><stop stop-color="#12b1d6"/><stop offset=".33" stop-color="#2cc4a7"/><stop offset=".67" stop-color="#64cd6f"/><stop offset="1" stop-color="#b9c431"/></linearGradient><linearGradient id="c74" gradientUnits="userSpaceOnUse" x1="449.1" y1="76.5" x2="445.2" y2="70.5"><stop stop-color="#327cfc"/><stop offset=".33" stop-color="#259be8"/><stop offset=".67" stop-color="#12b1d6"/><stop offset="1" stop-color="#24c1ae"/></linearGradient><linearGradient id="c75" gradientUnits="userSpaceOnUse" x1="527.3" y1="103.7" x2="521.1" y2="95.6"><stop stop-color="#402ab4"/><stop offset="1" stop-color="#463cde"/></linearGradient><linearGradient id="c76" gradientUnits="userSpaceOnUse" x1="442.1" y1="83.2" x2="438.8" y2="78.6"><stop stop-color="#4563fd"/><stop offset=".50" stop-color="#2b91ef"/><stop offset="1" stop-color="#12b1d6"/></linearGradient><linearGradient id="c78" gradientUnits="userSpaceOnUse" x1="425.3" y1="103" x2="429.6" y2="98.4"><stop stop-color="#402ab4"/><stop offset="1" stop-color="#463cde"/></linearGradient><linearGradient id="c79" gradientUnits="userSpaceOnUse" x1="426.4" y1="98" x2="435.5" y2="93.5"><stop stop-color="#4332cb"/><stop offset=".50" stop-color="#484df0"/><stop offset="1" stop-color="#4563fd"/></linearGradient><linearGradient id="c80" gradientUnits="userSpaceOnUse" x1="430.9" y1="89" x2="440" y2="89.2"><stop stop-color="#4747eb"/><stop offset=".50" stop-color="#4269fe"/><stop offset="1" stop-color="#2b91ef"/></linearGradient><linearGradient id="c81" gradientUnits="userSpaceOnUse" x1="515.9" y1="93.4" x2="518.7" y2="89.6"><stop stop-color="#463cde"/><stop offset=".50" stop-color="#465efb"/><stop offset="1" stop-color="#327cfc"/></linearGradient><linearGradient id="c82" gradientUnits="userSpaceOnUse" x1="500.3" y1="73.3" x2="503.8" y2="68.6"><stop stop-color="#2b91ef"/><stop offset=".50" stop-color="#08b5d0"/><stop offset="1" stop-color="#31c69f"/></linearGradient><linearGradient id="c84" gradientUnits="userSpaceOnUse" x1="529.7" y1="103.2" x2="525.9" y2="104.5"><stop stop-color="#3e26a8"/><stop offset="1" stop-color="#4332cb"/></linearGradient><linearGradient id="c85" gradientUnits="userSpaceOnUse" x1="467.4" y1="60" x2="465" y2="50.9"><stop stop-color="#24c1ae"/><stop offset=".33" stop-color="#4acb84"/><stop offset=".67" stop-color="#9dc943"/><stop offset="1" stop-color="#dcbd29"/></linearGradient><linearGradient id="c87" gradientUnits="userSpaceOnUse" x1="524.5" y1="97.4" x2="517.6" y2="98.1"><stop stop-color="#4332cb"/><stop offset=".50" stop-color="#484df0"/><stop offset="1" stop-color="#4563fd"/></linearGradient><linearGradient id="c90" gradientUnits="userSpaceOnUse" x1="429.3" y1="107.1" x2="430.5" y2="105.2"><stop stop-color="#3e26a8"/><stop offset="1" stop-color="#422ec0"/></linearGradient><linearGradient id="c91" gradientUnits="userSpaceOnUse" x1="506.2" y1="78.6" x2="509" y2="76"><stop stop-color="#327cfc"/><stop offset=".33" stop-color="#259be8"/><stop offset=".67" stop-color="#12b1d6"/><stop offset="1" stop-color="#24c1ae"/></linearGradient><linearGradient id="c92" gradientUnits="userSpaceOnUse" x1="489" y1="60.6" x2="492.3" y2="53.4"><stop stop-color="#24c1ae"/><stop offset=".33" stop-color="#4acb84"/><stop offset=".67" stop-color="#9dc943"/><stop offset="1" stop-color="#dcbd29"/></linearGradient><linearGradient id="c93" gradientUnits="userSpaceOnUse" x1="429.5" y1="105.2" x2="434" y2="99.4"><stop stop-color="#402ab4"/><stop offset="1" stop-color="#484df0"/></linearGradient><linearGradient id="c94" gradientUnits="userSpaceOnUse" x1="528.2" y1="104.3" x2="520.4" y2="100.7"><stop stop-color="#422ec0"/><stop offset="1" stop-color="#4747eb"/></linearGradient><linearGradient id="c96" gradientUnits="userSpaceOnUse" x1="478.2" y1="55.8" x2="478.8" y2="45.5"><stop stop-color="#4acb84"/><stop offset=".33" stop-color="#9dc943"/><stop offset=".67" stop-color="#e6bb2d"/><stop offset="1" stop-color="#fccf30"/></linearGradient><linearGradient id="c97" gradientUnits="userSpaceOnUse" x1="430.5" y1="99.2" x2="439.8" y2="91.2"><stop stop-color="#463cde"/><stop offset=".50" stop-color="#465efb"/><stop offset="1" stop-color="#327cfc"/></linearGradient><linearGradient id="c98" gradientUnits="userSpaceOnUse" x1="528.7" y1="108.1" x2="525.6" y2="103.9"><stop stop-color="#3e26a8"/><stop offset="1" stop-color="#4332cb"/></linearGradient><linearGradient id="c99" gradientUnits="userSpaceOnUse" x1="460.5" y1="61.5" x2="457.1" y2="55"><stop stop-color="#24c1ae"/><stop offset=".33" stop-color="#4acb84"/><stop offset=".67" stop-color="#9dc943"/><stop offset="1" stop-color="#dcbd29"/></linearGradient><linearGradient id="c100" gradientUnits="userSpaceOnUse" x1="516.2" y1="85.2" x2="508" y2="86.1"><stop stop-color="#4563fd"/><stop offset=".50" stop-color="#2b91ef"/><stop offset="1" stop-color="#12b1d6"/></linearGradient><linearGradient id="c102" gradientUnits="userSpaceOnUse" x1="433.3" y1="88.3" x2="446.5" y2="83.4"><stop stop-color="#4563fd"/><stop offset=".50" stop-color="#2b91ef"/><stop offset="1" stop-color="#12b1d6"/></linearGradient><linearGradient id="c103" gradientUnits="userSpaceOnUse" x1="453.1" y1="67" x2="450" y2="63.6"><stop stop-color="#12b1d6"/><stop offset=".33" stop-color="#2cc4a7"/><stop offset=".67" stop-color="#64cd6f"/><stop offset="1" stop-color="#b9c431"/></linearGradient><linearGradient id="c104" gradientUnits="userSpaceOnUse" x1="440.9" y1="74.8" x2="449.9" y2="76"><stop stop-color="#2b91ef"/><stop offset=".33" stop-color="#18addb"/><stop offset=".67" stop-color="#19bfb6"/><stop offset="1" stop-color="#4acb84"/></linearGradient><linearGradient id="c105" gradientUnits="userSpaceOnUse" x1="522.2" y1="96.3" x2="510.1" y2="91.4"><stop stop-color="#4747eb"/><stop offset=".50" stop-color="#4269fe"/><stop offset="1" stop-color="#2b91ef"/></linearGradient><linearGradient id="c106" gradientUnits="userSpaceOnUse" x1="523.7" y1="105.2" x2="516" y2="96.9"><stop stop-color="#4332cb"/><stop offset=".50" stop-color="#484df0"/><stop offset="1" stop-color="#4563fd"/></linearGradient><linearGradient id="c107" gradientUnits="userSpaceOnUse" x1="434.2" y1="110.3" x2="435.6" y2="108.1"><stop stop-color="#3e26a8"/><stop offset="1" stop-color="#422ec0"/></linearGradient><linearGradient id="c108" gradientUnits="userSpaceOnUse" x1="524.1" y1="109.4" x2="521.1" y2="103.7"><stop stop-color="#402ab4"/><stop offset="1" stop-color="#463cde"/></linearGradient><linearGradient id="c110" gradientUnits="userSpaceOnUse" x1="494.9" y1="62.1" x2="497.6" y2="59.1"><stop stop-color="#24c1ae"/><stop offset=".33" stop-color="#4acb84"/><stop offset=".67" stop-color="#9dc943"/><stop offset="1" stop-color="#dcbd29"/></linearGradient><linearGradient id="c111" gradientUnits="userSpaceOnUse" x1="434.4" y1="107.8" x2="439" y2="101.3"><stop stop-color="#422ec0"/><stop offset="1" stop-color="#4852f4"/></linearGradient><linearGradient id="c112" gradientUnits="userSpaceOnUse" x1="435.7" y1="100.8" x2="444.4" y2="90.7"><stop stop-color="#484df0"/><stop offset=".50" stop-color="#3e6fff"/><stop offset="1" stop-color="#2b91ef"/></linearGradient><linearGradient id="c113" gradientUnits="userSpaceOnUse" x1="471.9" y1="51" x2="470.7" y2="44.7"><stop stop-color="#b9c431"/><stop offset=".50" stop-color="#febe3c"/><stop offset="1" stop-color="#f5e327"/></linearGradient><linearGradient id="c114" gradientUnits="userSpaceOnUse" x1="518.7" y1="112.7" x2="517.9" y2="110.5"><stop stop-color="#3e26a8"/><stop offset="1" stop-color="#422ec0"/></linearGradient><linearGradient id="c115" gradientUnits="userSpaceOnUse" x1="504.6" y1="67.7" x2="498.4" y2="69.4"><stop stop-color="#12b1d6"/><stop offset=".33" stop-color="#2cc4a7"/><stop offset=".67" stop-color="#64cd6f"/><stop offset="1" stop-color="#b9c431"/></linearGradient><linearGradient id="c116" gradientUnits="userSpaceOnUse" x1="518.5" y1="110.9" x2="515.3" y2="104.1"><stop stop-color="#402ab4"/><stop offset="1" stop-color="#484df0"/></linearGradient><linearGradient id="c117" gradientUnits="userSpaceOnUse" x1="483.1" y1="51.2" x2="484.9" y2="46.2"><stop stop-color="#b9c431"/><stop offset=".50" stop-color="#febe3c"/><stop offset="1" stop-color="#f5e327"/></linearGradient><linearGradient id="c118" gradientUnits="userSpaceOnUse" x1="517.8" y1="105.6" x2="510.8" y2="94.4"><stop stop-color="#463cde"/><stop offset=".50" stop-color="#465efb"/><stop offset="1" stop-color="#327cfc"/></linearGradient><linearGradient id="c119" gradientUnits="userSpaceOnUse" x1="516.9" y1="96" x2="504.2" y2="83.9"><stop stop-color="#4563fd"/><stop offset=".50" stop-color="#2b91ef"/><stop offset="1" stop-color="#12b1d6"/></linearGradient><linearGradient id="c120" gradientUnits="userSpaceOnUse" x1="513.8" y1="81.5" x2="498.5" y2="76.3"><stop stop-color="#2b91ef"/><stop offset=".33" stop-color="#18addb"/><stop offset=".67" stop-color="#19bfb6"/><stop offset="1" stop-color="#4acb84"/></linearGradient><linearGradient id="c121" gradientUnits="userSpaceOnUse" x1="439.7" y1="113.7" x2="441.1" y2="111.5"><stop stop-color="#3e26a8"/><stop offset="1" stop-color="#422ec0"/></linearGradient><linearGradient id="c122" gradientUnits="userSpaceOnUse" x1="438.2" y1="89.4" x2="451.4" y2="78.5"><stop stop-color="#327cfc"/><stop offset=".33" stop-color="#259be8"/><stop offset=".67" stop-color="#12b1d6"/><stop offset="1" stop-color="#24c1ae"/></linearGradient><linearGradient id="c123" gradientUnits="userSpaceOnUse" x1="439.9" y1="110.9" x2="444.3" y2="104.2"><stop stop-color="#422ec0"/><stop offset="1" stop-color="#4758f8"/></linearGradient><linearGradient id="c124" gradientUnits="userSpaceOnUse" x1="464.6" y1="51.7" x2="463.2" y2="49.7"><stop stop-color="#b9c431"/><stop offset=".50" stop-color="#febe3c"/><stop offset="1" stop-color="#f5e327"/></linearGradient><linearGradient id="c125" gradientUnits="userSpaceOnUse" x1="512.2" y1="115.2" x2="511.2" y2="112.7"><stop stop-color="#3e26a8"/><stop offset="1" stop-color="#422ec0"/></linearGradient><linearGradient id="c126" gradientUnits="userSpaceOnUse" x1="442.8" y1="73.9" x2="458.4" y2="67.9"><stop stop-color="#12b1d6"/><stop offset=".33" stop-color="#2cc4a7"/><stop offset=".67" stop-color="#64cd6f"/><stop offset="1" stop-color="#b9c431"/></linearGradient><linearGradient id="c127" gradientUnits="userSpaceOnUse" x1="511.9" y1="112.9" x2="508.7" y2="105.2"><stop stop-color="#422ec0"/><stop offset="1" stop-color="#4852f4"/></linearGradient><linearGradient id="c128" gradientUnits="userSpaceOnUse" x1="452.8" y1="58.1" x2="461" y2="60"><stop stop-color="#4acb84"/><stop offset=".33" stop-color="#9dc943"/><stop offset=".67" stop-color="#e6bb2d"/><stop offset="1" stop-color="#fccf30"/></linearGradient><linearGradient id="c129" gradientUnits="userSpaceOnUse" x1="441.6" y1="103.2" x2="449" y2="92.6"><stop stop-color="#4852f4"/><stop offset=".50" stop-color="#3875fe"/><stop offset="1" stop-color="#2797eb"/></linearGradient><linearGradient id="c130" gradientUnits="userSpaceOnUse" x1="510.9" y1="106.2" x2="504.7" y2="93.6"><stop stop-color="#484df0"/><stop offset=".50" stop-color="#3e6fff"/><stop offset="1" stop-color="#2b91ef"/></linearGradient><linearGradient id="c131" gradientUnits="userSpaceOnUse" x1="490.5" y1="51.6" x2="488.6" y2="53"><stop stop-color="#b9c431"/><stop offset=".50" stop-color="#febe3c"/><stop offset="1" stop-color="#f5e327"/></linearGradient><linearGradient id="c132" gradientUnits="userSpaceOnUse" x1="445.3" y1="117.3" x2="446.7" y2="115"><stop stop-color="#3e26a8"/><stop offset="1" stop-color="#422ec0"/></linearGradient><linearGradient id="c133" gradientUnits="userSpaceOnUse" x1="509.3" y1="95.4" x2="499.1" y2="79.6"><stop stop-color="#327cfc"/><stop offset=".33" stop-color="#259be8"/><stop offset=".67" stop-color="#12b1d6"/><stop offset="1" stop-color="#24c1ae"/></linearGradient><linearGradient id="c134" gradientUnits="userSpaceOnUse" x1="505" y1="117.9" x2="504" y2="115.3"><stop stop-color="#3e26a8"/><stop offset="1" stop-color="#422ec0"/></linearGradient><linearGradient id="c135" gradientUnits="userSpaceOnUse" x1="476.8" y1="45.3" x2="476.8" y2="44.8"><stop stop-color="#fccf30"/><stop offset="1" stop-color="#f9fb15"/></linearGradient><linearGradient id="c136" gradientUnits="userSpaceOnUse" x1="445.6" y1="114.5" x2="449.8" y2="107.7"><stop stop-color="#422ec0"/><stop offset="1" stop-color="#4758f8"/></linearGradient><linearGradient id="c137" gradientUnits="userSpaceOnUse" x1="444.9" y1="91.3" x2="455" y2="78.1"><stop stop-color="#2b91ef"/><stop offset=".50" stop-color="#08b5d0"/><stop offset="1" stop-color="#31c69f"/></linearGradient><linearGradient id="c138" gradientUnits="userSpaceOnUse" x1="502.7" y1="63.6" x2="486.7" y2="58.9"><stop stop-color="#4acb84"/><stop offset=".33" stop-color="#9dc943"/><stop offset=".67" stop-color="#e6bb2d"/><stop offset="1" stop-color="#fccf30"/></linearGradient><linearGradient id="c139" gradientUnits="userSpaceOnUse" x1="507.1" y1="81.1" x2="492.3" y2="66.4"><stop stop-color="#12b1d6"/><stop offset=".33" stop-color="#2cc4a7"/><stop offset=".67" stop-color="#64cd6f"/><stop offset="1" stop-color="#b9c431"/></linearGradient><linearGradient id="c140" gradientUnits="userSpaceOnUse" x1="504.7" y1="115.2" x2="501.7" y2="107.4"><stop stop-color="#422ec0"/><stop offset="1" stop-color="#4758f8"/></linearGradient><linearGradient id="c141" gradientUnits="userSpaceOnUse" x1="447.6" y1="107.1" x2="454.2" y2="95.7"><stop stop-color="#4852f4"/><stop offset=".50" stop-color="#3875fe"/><stop offset="1" stop-color="#2797eb"/></linearGradient><linearGradient id="c142" gradientUnits="userSpaceOnUse" x1="503.3" y1="107.5" x2="498.2" y2="95"><stop stop-color="#4852f4"/><stop offset=".50" stop-color="#3875fe"/><stop offset="1" stop-color="#2797eb"/></linearGradient><linearGradient id="c143" gradientUnits="userSpaceOnUse" x1="449.7" y1="76.7" x2="461.8" y2="63.3"><stop stop-color="#24c1ae"/><stop offset=".33" stop-color="#4acb84"/><stop offset=".67" stop-color="#9dc943"/><stop offset="1" stop-color="#dcbd29"/></linearGradient><linearGradient id="c144" gradientUnits="userSpaceOnUse" x1="497.6" y1="120.6" x2="496.6" y2="118"><stop stop-color="#3e26a8"/><stop offset="1" stop-color="#422ec0"/></linearGradient><linearGradient id="c145" gradientUnits="userSpaceOnUse" x1="464.2" y1="46.4" x2="474.7" y2="49.3"><stop stop-color="#fccf30"/><stop offset="1" stop-color="#f9fb15"/></linearGradient><linearGradient id="c146" gradientUnits="userSpaceOnUse" x1="450.8" y1="120.8" x2="452.2" y2="118.6"><stop stop-color="#3e26a8"/><stop offset="1" stop-color="#422ec0"/></linearGradient><linearGradient id="c147" gradientUnits="userSpaceOnUse" x1="455.6" y1="61.8" x2="469.1" y2="51.7"><stop stop-color="#b9c431"/><stop offset=".50" stop-color="#febe3c"/><stop offset="1" stop-color="#f5e327"/></linearGradient><linearGradient id="c148" gradientUnits="userSpaceOnUse" x1="497.3" y1="118" x2="494.4" y2="110.1"><stop stop-color="#422ec0"/><stop offset="1" stop-color="#4758f8"/></linearGradient><linearGradient id="c149" gradientUnits="userSpaceOnUse" x1="500.8" y1="95.5" x2="493.7" y2="79.7"><stop stop-color="#2b91ef"/><stop offset=".50" stop-color="#08b5d0"/><stop offset="1" stop-color="#31c69f"/></linearGradient><linearGradient id="c150" gradientUnits="userSpaceOnUse" x1="451.3" y1="118.6" x2="455.3" y2="111.5"><stop stop-color="#422ec0"/><stop offset="1" stop-color="#4852f4"/></linearGradient><linearGradient id="c151" gradientUnits="userSpaceOnUse" x1="489.3" y1="50.6" x2="475.3" y2="46.7"><stop stop-color="#fccf30"/><stop offset="1" stop-color="#f9fb15"/></linearGradient><linearGradient id="c152" gradientUnits="userSpaceOnUse" x1="451.5" y1="95.8" x2="459.5" y2="80.6"><stop stop-color="#2b91ef"/><stop offset=".50" stop-color="#08b5d0"/><stop offset="1" stop-color="#31c69f"/></linearGradient><linearGradient id="c153" gradientUnits="userSpaceOnUse" x1="495.6" y1="110.4" x2="491.2" y2="97.6"><stop stop-color="#4852f4"/><stop offset=".50" stop-color="#3875fe"/><stop offset="1" stop-color="#2797eb"/></linearGradient><linearGradient id="c154" gradientUnits="userSpaceOnUse" x1="497.2" y1="80.7" x2="488.5" y2="63.9"><stop stop-color="#24c1ae"/><stop offset=".33" stop-color="#4acb84"/><stop offset=".67" stop-color="#9dc943"/><stop offset="1" stop-color="#dcbd29"/></linearGradient><linearGradient id="c155" gradientUnits="userSpaceOnUse" x1="453.5" y1="112.6" x2="459.5" y2="99.8"><stop stop-color="#484df0"/><stop offset=".50" stop-color="#3e6fff"/><stop offset="1" stop-color="#2b91ef"/></linearGradient><linearGradient id="c156" gradientUnits="userSpaceOnUse" x1="492.8" y1="65.6" x2="482.7" y2="50.9"><stop stop-color="#b9c431"/><stop offset=".50" stop-color="#febe3c"/><stop offset="1" stop-color="#f5e327"/></linearGradient><linearGradient id="c157" gradientUnits="userSpaceOnUse" x1="490.4" y1="123.3" x2="489.5" y2="120.8"><stop stop-color="#3e26a8"/><stop offset="1" stop-color="#422ec0"/></linearGradient><linearGradient id="c158" gradientUnits="userSpaceOnUse" x1="457.3" y1="82.2" x2="465.3" y2="64.9"><stop stop-color="#24c1ae"/><stop offset=".33" stop-color="#4acb84"/><stop offset=".67" stop-color="#9dc943"/><stop offset="1" stop-color="#dcbd29"/></linearGradient><linearGradient id="c159" gradientUnits="userSpaceOnUse" x1="489.9" y1="121.1" x2="487.3" y2="113.2"><stop stop-color="#422ec0"/><stop offset="1" stop-color="#4852f4"/></linearGradient><linearGradient id="c160" gradientUnits="userSpaceOnUse" x1="456" y1="124.1" x2="457.2" y2="122.1"><stop stop-color="#3e26a8"/><stop offset="1" stop-color="#422ec0"/></linearGradient><linearGradient id="c161" gradientUnits="userSpaceOnUse" x1="492.5" y1="98.7" x2="487.3" y2="81.9"><stop stop-color="#2b91ef"/><stop offset=".50" stop-color="#08b5d0"/><stop offset="1" stop-color="#31c69f"/></linearGradient><linearGradient id="c162" gradientUnits="userSpaceOnUse" x1="474.6" y1="57.9" x2="475.4" y2="44.7"><stop stop-color="#fccf30"/><stop offset="1" stop-color="#f9fb15"/></linearGradient><linearGradient id="c163" gradientUnits="userSpaceOnUse" x1="456.7" y1="122.5" x2="460.1" y2="115.8"><stop stop-color="#402ab4"/><stop offset="1" stop-color="#484df0"/></linearGradient><linearGradient id="c164" gradientUnits="userSpaceOnUse" x1="457.9" y1="103.4" x2="464.4" y2="85"><stop stop-color="#327cfc"/><stop offset=".33" stop-color="#259be8"/><stop offset=".67" stop-color="#12b1d6"/><stop offset="1" stop-color="#24c1ae"/></linearGradient><linearGradient id="c165" gradientUnits="userSpaceOnUse" x1="488" y1="114.9" x2="484.2" y2="101.1"><stop stop-color="#484df0"/><stop offset=".50" stop-color="#3e6fff"/><stop offset="1" stop-color="#2b91ef"/></linearGradient><linearGradient id="c166" gradientUnits="userSpaceOnUse" x1="465" y1="68.7" x2="470.8" y2="51.8"><stop stop-color="#b9c431"/><stop offset=".50" stop-color="#febe3c"/><stop offset="1" stop-color="#f5e327"/></linearGradient><linearGradient id="c167" gradientUnits="userSpaceOnUse" x1="459.3" y1="118.2" x2="463.9" y2="105.5"><stop stop-color="#463cde"/><stop offset=".50" stop-color="#465efb"/><stop offset="1" stop-color="#327cfc"/></linearGradient><linearGradient id="c168" gradientUnits="userSpaceOnUse" x1="487.9" y1="84.3" x2="483" y2="65.7"><stop stop-color="#24c1ae"/><stop offset=".33" stop-color="#4acb84"/><stop offset=".67" stop-color="#9dc943"/><stop offset="1" stop-color="#dcbd29"/></linearGradient><linearGradient id="c169" gradientUnits="userSpaceOnUse" x1="483.6" y1="125.8" x2="482.9" y2="123.6"><stop stop-color="#3e26a8"/><stop offset="1" stop-color="#422ec0"/></linearGradient><linearGradient id="c170" gradientUnits="userSpaceOnUse" x1="482" y1="69.8" x2="478.9" y2="52.3"><stop stop-color="#b9c431"/><stop offset=".50" stop-color="#febe3c"/><stop offset="1" stop-color="#f5e327"/></linearGradient><linearGradient id="c171" gradientUnits="userSpaceOnUse" x1="484.5" y1="105.1" x2="480.8" y2="85.9"><stop stop-color="#327cfc"/><stop offset=".33" stop-color="#259be8"/><stop offset=".67" stop-color="#12b1d6"/><stop offset="1" stop-color="#24c1ae"/></linearGradient><linearGradient id="c172" gradientUnits="userSpaceOnUse" x1="464.3" y1="92" x2="469.3" y2="69.9"><stop stop-color="#12b1d6"/><stop offset=".33" stop-color="#2cc4a7"/><stop offset=".67" stop-color="#64cd6f"/><stop offset="1" stop-color="#b9c431"/></linearGradient><linearGradient id="c173" gradientUnits="userSpaceOnUse" x1="483" y1="124.2" x2="480.8" y2="117"><stop stop-color="#402ab4"/><stop offset="1" stop-color="#484df0"/></linearGradient><linearGradient id="c174" gradientUnits="userSpaceOnUse" x1="464.2" y1="111.4" x2="468.1" y2="92.8"><stop stop-color="#4563fd"/><stop offset=".50" stop-color="#2b91ef"/><stop offset="1" stop-color="#12b1d6"/></linearGradient><linearGradient id="c175" gradientUnits="userSpaceOnUse" x1="480.8" y1="119.6" x2="478.2" y2="106.4"><stop stop-color="#463cde"/><stop offset=".50" stop-color="#465efb"/><stop offset="1" stop-color="#327cfc"/></linearGradient><linearGradient id="c176" gradientUnits="userSpaceOnUse" x1="472.7" y1="80.2" x2="474" y2="57.8"><stop stop-color="#4acb84"/><stop offset=".33" stop-color="#9dc943"/><stop offset=".67" stop-color="#e6bb2d"/><stop offset="1" stop-color="#fccf30"/></linearGradient><linearGradient id="c177" gradientUnits="userSpaceOnUse" x1="476.8" y1="112.2" x2="475.3" y2="93.3"><stop stop-color="#4563fd"/><stop offset=".50" stop-color="#2b91ef"/><stop offset="1" stop-color="#12b1d6"/></linearGradient><linearGradient id="c178" gradientUnits="userSpaceOnUse" x1="479.3" y1="93" x2="477.3" y2="70.3"><stop stop-color="#12b1d6"/><stop offset=".33" stop-color="#2cc4a7"/><stop offset=".67" stop-color="#64cd6f"/><stop offset="1" stop-color="#b9c431"/></linearGradient><linearGradient id="c179" gradientUnits="userSpaceOnUse" x1="471.1" y1="102.6" x2="472.5" y2="80.1"><stop stop-color="#2b91ef"/><stop offset=".33" stop-color="#18addb"/><stop offset=".67" stop-color="#19bfb6"/><stop offset="1" stop-color="#4acb84"/></linearGradient><linearGradient id="c181" gradientUnits="userSpaceOnUse" x1="461.5" y1="126.1" x2="464" y2="120.2"><stop stop-color="#402ab4"/><stop offset="1" stop-color="#463cde"/></linearGradient><linearGradient id="c182" gradientUnits="userSpaceOnUse" x1="464.7" y1="123.3" x2="467.2" y2="112.1"><stop stop-color="#4332cb"/><stop offset=".50" stop-color="#484df0"/><stop offset="1" stop-color="#4563fd"/></linearGradient><linearGradient id="c183" gradientUnits="userSpaceOnUse" x1="469.9" y1="118.6" x2="470.9" y2="102.6"><stop stop-color="#4747eb"/><stop offset=".50" stop-color="#4269fe"/><stop offset="1" stop-color="#2b91ef"/></linearGradient><linearGradient id="c184" gradientUnits="userSpaceOnUse" x1="474.3" y1="123.9" x2="473.2" y2="112.5"><stop stop-color="#4332cb"/><stop offset=".50" stop-color="#484df0"/><stop offset="1" stop-color="#4563fd"/></linearGradient><linearGradient id="c185" gradientUnits="userSpaceOnUse" x1="476.9" y1="127" x2="475.4" y2="120.9"><stop stop-color="#402ab4"/><stop offset="1" stop-color="#463cde"/></linearGradient><linearGradient id="c187" gradientUnits="userSpaceOnUse" x1="469" y1="127.1" x2="469.5" y2="118.6"><stop stop-color="#422ec0"/><stop offset="1" stop-color="#4747eb"/></linearGradient><linearGradient id="c188" gradientUnits="userSpaceOnUse" x1="465.5" y1="128.9" x2="466.9" y2="124"><stop stop-color="#3e26a8"/><stop offset="1" stop-color="#4332cb"/></linearGradient><linearGradient id="c190" gradientUnits="userSpaceOnUse" x1="472" y1="129.2" x2="471.3" y2="124.4"><stop stop-color="#3e26a8"/><stop offset="1" stop-color="#4332cb"/></linearGradient></defs><g stroke-width="0.65" stroke-linejoin="round"><polygon points="483.6,75.5 484.4,75.3 483.8,74.9 483,75.2" fill="#3e26a8" stroke="#0c57cd"/>
<polygon points="481.2,76.2 483.6,75.5 483,75.2 480.5,76.1" fill="#3e26a8" stroke="#0c57cd"/>
<polygon points="485.5,76.4 486.3,76.5 484.4,75.3 483.6,75.5" fill="#3e26a8" stroke="#0c57cd"/>
<polygon points="483,76.3 485.5,76.4 483.6,75.5 481.2,76.2" fill="#402ab4" stroke="#0c58d0"/>
<polygon points="477.2,77.2 481.2,76.2 480.5,76.1 476.6,77.6" fill="#3e26a8" stroke="#0c57cd"/>
<polygon points="488.5,77.9 489.3,78.4 486.3,76.5 485.5,76.4" fill="#3e26a8" stroke="#0c57cd"/>
<polygon points="479.1,76.1 483,76.3 481.2,76.2 477.2,77.2" fill="url(#c6)" stroke="#0d59d2"/>
<polygon points="486,76.6 488.5,77.9 485.5,76.4 483,76.3" fill="url(#c7)" stroke="#0d59d2"/>
<polygon points="472,78.7 477.2,77.2 476.6,77.6 471.3,79.6" fill="#402ab4" stroke="#0c58d0"/>
<polygon points="492.5,80 493.3,80.9 489.3,78.4 488.5,77.9" fill="#402ab4" stroke="#0c58d0"/>
<polygon points="473.8,76.1 479.1,76.1 477.2,77.2 472,78.7" fill="url(#c10)" stroke="#0d5ad4"/>
<polygon points="482.1,74.5 486,76.6 483,76.3 479.1,76.1" fill="url(#c11)" stroke="#0d5bd6"/>
<polygon points="465.7,80.5 472,78.7 471.3,79.6 465,81.9" fill="url(#c12)" stroke="#0c58d0"/>
<polygon points="490,77.1 492.5,80 488.5,77.9 486,76.6" fill="url(#c13)" stroke="#0d5ad4"/>
<polygon points="497.3,82.5 498.1,84 493.3,80.9 492.5,80" fill="url(#c14)" stroke="#0c58d0"/>
<polygon points="467.5,76.5 473.8,76.1 472,78.7 465.7,80.5" fill="url(#c15)" stroke="#0d5bd6"/>
<polygon points="476.8,72.1 482.1,74.5 479.1,76.1 473.8,76.1" fill="url(#c16)" stroke="#0e5edb"/>
<polygon points="458.7,82.8 465.7,80.5 465,81.9 458,84.5" fill="url(#c17)" stroke="#0c58d0"/>
<polygon points="486.1,72.7 490,77.1 486,76.6 482.1,74.5" fill="url(#c18)" stroke="#0e5edb"/>
<polygon points="494.8,78.1 497.3,82.5 492.5,80 490,77.1" fill="url(#c19)" stroke="#0d5bd6"/>
<polygon points="460.5,77.6 467.5,76.5 465.7,80.5 458.7,82.8" fill="url(#c20)" stroke="#0d5cd8"/>
<polygon points="502.6,85.5 503.4,87.3 498.1,84 497.3,82.5" fill="url(#c21)" stroke="#0c58d0"/>
<polygon points="451.3,85.4 458.7,82.8 458,84.5 450.6,87.3" fill="url(#c22)" stroke="#0c58d0"/>
<polygon points="470.5,70.1 476.8,72.1 473.8,76.1 467.5,76.5" fill="url(#c23)" stroke="#0e61dd"/>
<polygon points="480.8,67.4 486.1,72.7 482.1,74.5 476.8,72.1" fill="url(#c24)" stroke="#0d65de"/>
<polygon points="490.9,71.4 494.8,78.1 490,77.1 486.1,72.7" fill="url(#c25)" stroke="#0e61dd"/>
<polygon points="500.1,80 502.6,85.5 497.3,82.5 494.8,78.1" fill="url(#c26)" stroke="#0d5cd8"/>
<polygon points="453.2,79.8 460.5,77.6 458.7,82.8 451.3,85.4" fill="url(#c27)" stroke="#0e5dd9"/>
<polygon points="443.9,88.3 451.3,85.4 450.6,87.3 443.3,90.1" fill="url(#c28)" stroke="#0c58d0"/>
<polygon points="508.2,88.9 509,90.9 503.4,87.3 502.6,85.5" fill="url(#c29)" stroke="#0c58d0"/>
<polygon points="463.5,69.6 470.5,70.1 467.5,76.5 460.5,77.6" fill="url(#c30)" stroke="#0d65de"/>
<polygon points="474.5,62.6 480.8,67.4 476.8,72.1 470.5,70.1" fill="url(#c31)" stroke="#086cdc"/>
<polygon points="445.8,83.1 453.2,79.8 451.3,85.4 443.9,88.3" fill="url(#c32)" stroke="#0e5dd9"/>
<polygon points="496.2,71.6 500.1,80 494.8,78.1 490.9,71.4" fill="url(#c33)" stroke="#0d65de"/>
<polygon points="436.9,91.3 443.9,88.3 443.3,90.1 436.3,92.7" fill="url(#c34)" stroke="#0c58d0"/>
<polygon points="505.8,83.1 508.2,88.9 502.6,85.5 500.1,80" fill="url(#c35)" stroke="#0e5dd9"/>
<polygon points="485.6,63.3 490.9,71.4 486.1,72.7 480.8,67.4" fill="url(#c36)" stroke="#086cdc"/>
<polygon points="456.2,71.1 463.5,69.6 460.5,77.6 453.2,79.8" fill="url(#c37)" stroke="#0b67de"/>
<polygon points="513.8,92.6 514.7,94.5 509,90.9 508.2,88.9" fill="url(#c38)" stroke="#0c58d0"/>
<polygon points="438.8,87.2 445.8,83.1 443.9,88.3 436.9,91.3" fill="url(#c39)" stroke="#0d5cd8"/>
<polygon points="430.6,94.1 436.9,91.3 436.3,92.7 430,95" fill="url(#c40)" stroke="#0c58d0"/>
<polygon points="467.5,59.9 474.5,62.6 470.5,70.1 463.5,69.6" fill="url(#c41)" stroke="#0671d9"/>
<polygon points="511.4,87.2 513.8,92.6 508.2,88.9 505.8,83.1" fill="url(#c42)" stroke="#0e5dd9"/>
<polygon points="448.8,75.1 456.2,71.1 453.2,79.8 445.8,83.1" fill="url(#c43)" stroke="#0b67de"/>
<polygon points="501.8,73.9 505.8,83.1 500.1,80 496.2,71.6" fill="url(#c44)" stroke="#0b67de"/>
<polygon points="432.5,91.6 438.8,87.2 436.9,91.3 430.6,94.1" fill="url(#c45)" stroke="#0d5bd6"/>
<polygon points="425.4,96.6 430.6,94.1 430,95 424.7,97" fill="#402ab4" stroke="#0c58d0"/>
<polygon points="491,61.3 496.2,71.6 490.9,71.4 485.6,63.3" fill="url(#c47)" stroke="#0671d9"/>
<polygon points="519.2,96.4 520,97.8 514.7,94.5 513.8,92.6" fill="url(#c48)" stroke="#0c58d0"/>
<polygon points="479.3,55.7 485.6,63.3 480.8,67.4 474.5,62.6" fill="url(#c49)" stroke="#0174d5"/>
<polygon points="427.2,95.5 432.5,91.6 430.6,94.1 425.4,96.6" fill="url(#c50)" stroke="#0d5ad4"/>
<polygon points="421.4,98.5 425.4,96.6 424.7,97 420.8,98.5" fill="#3e26a8" stroke="#0c57cd"/>
<polygon points="441.8,80.9 448.8,75.1 445.8,83.1 438.8,87.2" fill="url(#c52)" stroke="#0d65de"/>
<polygon points="516.7,92 519.2,96.4 513.8,92.6 511.4,87.2" fill="url(#c53)" stroke="#0d5cd8"/>
<polygon points="419,99.7 421.4,98.5 420.8,98.5 418.3,99.4" fill="#3e26a8" stroke="#0c57cd"/>
<polygon points="460.2,60.7 467.5,59.9 463.5,69.6 456.2,71.1" fill="url(#c55)" stroke="#0373d6"/>
<polygon points="423.3,98.7 427.2,95.5 425.4,96.6 421.4,98.5" fill="url(#c56)" stroke="#0d59d2"/>
<polygon points="507.4,78.7 511.4,87.2 505.8,83.1 501.8,73.9" fill="url(#c57)" stroke="#0b67de"/>
<polygon points="435.5,87.6 441.8,80.9 438.8,87.2 432.5,91.6" fill="url(#c58)" stroke="#0e61dd"/>
<polygon points="418.1,100.1 419,99.7 418.3,99.4 417.5,99.7" fill="#3e26a8" stroke="#0c57cd"/>
<polygon points="420.8,100.6 423.3,98.7 421.4,98.5 419,99.7" fill="#402ab4" stroke="#0c58d0"/>
<polygon points="524,99.9 524.8,100.9 520,97.8 519.2,96.4" fill="url(#c61)" stroke="#0c58d0"/>
<polygon points="420,101.3 420.8,100.6 419,99.7 418.1,100.1" fill="#3e26a8" stroke="#0c57cd"/>
<polygon points="430.2,93.9 435.5,87.6 432.5,91.6 427.2,95.5" fill="url(#c63)" stroke="#0e5edb"/>
<polygon points="496.6,62.9 501.8,73.9 496.2,71.6 491,61.3" fill="url(#c64)" stroke="#0373d6"/>
<polygon points="426.3,98.9 430.2,93.9 427.2,95.5 423.3,98.7" fill="url(#c65)" stroke="#0d5bd6"/>
<polygon points="521.5,97 524,99.9 519.2,96.4 516.7,92" fill="url(#c66)" stroke="#0d5bd6"/>
<polygon points="452.8,65.4 460.2,60.7 456.2,71.1 448.8,75.1" fill="url(#c67)" stroke="#0373d6"/>
<polygon points="423.8,102.1 426.3,98.9 423.3,98.7 420.8,100.6" fill="url(#c68)" stroke="#0d59d2"/>
<polygon points="472.3,50.9 479.3,55.7 474.5,62.6 467.5,59.9" fill="url(#c69)" stroke="#0a78ca"/>
<polygon points="423,103.2 423.8,102.1 420.8,100.6 420,101.3" fill="#3e26a8" stroke="#0c57cd"/>
<polygon points="512.8,85.3 516.7,92 511.4,87.2 507.4,78.7" fill="url(#c71)" stroke="#0d65de"/>
<polygon points="484.7,51.7 491,61.3 485.6,63.3 479.3,55.7" fill="url(#c72)" stroke="#0a78ca"/>
<polygon points="528,102.9 528.8,103.4 524.8,100.9 524,99.9" fill="#402ab4" stroke="#0c58d0"/>
<polygon points="445.8,73.4 452.8,65.4 448.8,75.1 441.8,80.9" fill="url(#c74)" stroke="#0671d9"/>
<polygon points="525.5,101.6 528,102.9 524,99.9 521.5,97" fill="url(#c75)" stroke="#0d5ad4"/>
<polygon points="439.5,82.9 445.8,73.4 441.8,80.9 435.5,87.6" fill="url(#c76)" stroke="#086cdc"/>
<polygon points="427,105.7 427.8,104.1 423.8,102.1 423,103.2" fill="#402ab4" stroke="#0c58d0"/>
<polygon points="427.8,104.1 430.3,99.4 426.3,98.9 423.8,102.1" fill="url(#c78)" stroke="#0d5ad4"/>
<polygon points="430.3,99.4 434.2,92.1 430.2,93.9 426.3,98.9" fill="url(#c79)" stroke="#0e5edb"/>
<polygon points="434.2,92.1 439.5,82.9 435.5,87.6 430.2,93.9" fill="url(#c80)" stroke="#0d65de"/>
<polygon points="517.6,92.6 521.5,97 516.7,92 512.8,85.3" fill="url(#c81)" stroke="#0e61dd"/>
<polygon points="502.2,68.5 507.4,78.7 501.8,73.9 496.6,62.9" fill="url(#c82)" stroke="#0373d6"/>
<polygon points="531,105.3 531.8,105.3 528.8,103.4 528,102.9" fill="#3e26a8" stroke="#0c57cd"/>
<polygon points="528.5,105.1 531,105.3 528,102.9 525.5,101.6" fill="url(#c84)" stroke="#0d59d2"/>
<polygon points="464.9,50.9 472.3,50.9 467.5,59.9 460.2,60.7" fill="url(#c85)" stroke="#1679c0"/>
<polygon points="532.8,106.7 533.7,106.5 531.8,105.3 531,105.3" fill="#3e26a8" stroke="#0c57cd"/>
<polygon points="521.6,99.5 525.5,101.6 521.5,97 517.6,92.6" fill="url(#c87)" stroke="#0e5edb"/>
<polygon points="530.4,107.4 532.8,106.7 531,105.3 528.5,105.1" fill="#402ab4" stroke="#0c58d0"/>
<polygon points="533.5,107.2 534.3,106.9 533.7,106.5 532.8,106.7" fill="#3e26a8" stroke="#0c57cd"/>
<polygon points="431.8,108.8 432.6,106.7 427.8,104.1 427,105.7" fill="url(#c90)" stroke="#0c58d0"/>
<polygon points="507.5,77.2 512.8,85.3 507.4,78.7 502.2,68.5" fill="url(#c91)" stroke="#0671d9"/>
<polygon points="490.3,52.5 496.6,62.9 491,61.3 484.7,51.7" fill="url(#c92)" stroke="#1679c0"/>
<polygon points="432.6,106.7 435.1,100.5 430.3,99.4 427.8,104.1" fill="url(#c93)" stroke="#0d5bd6"/>
<polygon points="524.6,105 528.5,105.1 525.5,101.6 521.6,99.5" fill="url(#c94)" stroke="#0d5bd6"/>
<polygon points="531,108.1 533.5,107.2 532.8,106.7 530.4,107.4" fill="#3e26a8" stroke="#0c57cd"/>
<polygon points="477.7,45.3 484.7,51.7 479.3,55.7 472.3,50.9" fill="url(#c96)" stroke="#2477b5"/>
<polygon points="435.1,100.5 439,90.8 434.2,92.1 430.3,99.4" fill="url(#c97)" stroke="#0e61dd"/>
<polygon points="526.4,108.4 530.4,107.4 528.5,105.1 524.6,105" fill="url(#c98)" stroke="#0d59d2"/>
<polygon points="457.6,56.4 464.9,50.9 460.2,60.7 452.8,65.4" fill="url(#c99)" stroke="#1679c0"/>
<polygon points="512.3,87.3 517.6,92.6 512.8,85.3 507.5,77.2" fill="url(#c100)" stroke="#086cdc"/>
<polygon points="527.1,109.6 531,108.1 530.4,107.4 526.4,108.4" fill="#3e26a8" stroke="#0c57cd"/>
<polygon points="439,90.8 444.3,78.7 439.5,82.9 434.2,92.1" fill="url(#c102)" stroke="#086cdc"/>
<polygon points="450.6,66.4 457.6,56.4 452.8,65.4 445.8,73.4" fill="url(#c103)" stroke="#0a78ca"/>
<polygon points="444.3,78.7 450.6,66.4 445.8,73.4 439.5,82.9" fill="url(#c104)" stroke="#0174d5"/>
<polygon points="516.3,97.1 521.6,99.5 517.6,92.6 512.3,87.3" fill="url(#c105)" stroke="#0d65de"/>
<polygon points="519.3,104.9 524.6,105 521.6,99.5 516.3,97.1" fill="url(#c106)" stroke="#0e5edb"/>
<polygon points="437.1,112.1 438,109.7 432.6,106.7 431.8,108.8" fill="url(#c107)" stroke="#0c58d0"/>
<polygon points="521.2,109.9 526.4,108.4 524.6,105 519.3,104.9" fill="url(#c108)" stroke="#0d5ad4"/>
<polygon points="521.8,111.6 527.1,109.6 526.4,108.4 521.2,109.9" fill="#402ab4" stroke="#0c58d0"/>
<polygon points="495.9,58.8 502.2,68.5 496.6,62.9 490.3,52.5" fill="url(#c110)" stroke="#1679c0"/>
<polygon points="438,109.7 440.4,102.4 435.1,100.5 432.6,106.7" fill="url(#c111)" stroke="#0d5cd8"/>
<polygon points="440.4,102.4 444.4,91 439,90.8 435.1,100.5" fill="url(#c112)" stroke="#0d65de"/>
<polygon points="470.3,44.7 477.7,45.3 472.3,50.9 464.9,50.9" fill="url(#c113)" stroke="#3175b8"/>
<polygon points="515.5,113.9 521.8,111.6 521.2,109.9 514.9,111.7" fill="url(#c114)" stroke="#0c58d0"/>
<polygon points="501.2,69.6 507.5,77.2 502.2,68.5 495.9,58.8" fill="url(#c115)" stroke="#0a78ca"/>
<polygon points="514.9,111.7 521.2,109.9 519.3,104.9 513,105.3" fill="url(#c116)" stroke="#0d5bd6"/>
<polygon points="483.3,45.5 490.3,52.5 484.7,51.7 477.7,45.3" fill="url(#c117)" stroke="#3175b8"/>
<polygon points="513,105.3 519.3,104.9 516.3,97.1 510,95.2" fill="url(#c118)" stroke="#0e61dd"/>
<polygon points="510,95.2 516.3,97.1 512.3,87.3 506,82.6" fill="url(#c119)" stroke="#086cdc"/>
<polygon points="506,82.6 512.3,87.3 507.5,77.2 501.2,69.6" fill="url(#c120)" stroke="#0174d5"/>
<polygon points="442.8,115.7 443.6,113.1 438,109.7 437.1,112.1" fill="url(#c121)" stroke="#0c58d0"/>
<polygon points="444.4,91 449.6,76.8 444.3,78.7 439,90.8" fill="url(#c122)" stroke="#0671d9"/>
<polygon points="443.6,113.1 446,105.4 440.4,102.4 438,109.7" fill="url(#c123)" stroke="#0e5dd9"/>
<polygon points="462.9,50.8 470.3,44.7 464.9,50.9 457.6,56.4" fill="url(#c124)" stroke="#3175b8"/>
<polygon points="508.5,116.5 515.5,113.9 514.9,111.7 507.9,114" fill="url(#c125)" stroke="#0c58d0"/>
<polygon points="449.6,76.8 455.9,62.4 450.6,66.4 444.3,78.7" fill="url(#c126)" stroke="#0a78ca"/>
<polygon points="507.9,114 514.9,111.7 513,105.3 506,106.4" fill="url(#c127)" stroke="#0d5cd8"/>
<polygon points="455.9,62.4 462.9,50.8 457.6,56.4 450.6,66.4" fill="url(#c128)" stroke="#2477b5"/>
<polygon points="446,105.4 450,93.3 444.4,91 440.4,102.4" fill="url(#c129)" stroke="#0b67de"/>
<polygon points="506,106.4 513,105.3 510,95.2 503,94.6" fill="url(#c130)" stroke="#0d65de"/>
<polygon points="488.9,52.4 495.9,58.8 490.3,52.5 483.3,45.5" fill="url(#c131)" stroke="#3175b8"/>
<polygon points="448.4,119.3 449.2,116.8 443.6,113.1 442.8,115.7" fill="url(#c132)" stroke="#0c58d0"/>
<polygon points="503,94.6 510,95.2 506,82.6 499,79.9" fill="url(#c133)" stroke="#0671d9"/>
<polygon points="501.1,119.3 508.5,116.5 507.9,114 500.5,116.6" fill="url(#c134)" stroke="#0c58d0"/>
<polygon points="475.9,44.8 483.3,45.5 477.7,45.3 470.3,44.7" fill="url(#c135)" stroke="#307db3"/>
<polygon points="449.2,116.8 451.7,109.5 446,105.4 443.6,113.1" fill="url(#c136)" stroke="#0e5dd9"/>
<polygon points="450,93.3 455.2,78.4 449.6,76.8 444.4,91" fill="url(#c137)" stroke="#0373d6"/>
<polygon points="494.2,64.8 501.2,69.6 495.9,58.8 488.9,52.4" fill="url(#c138)" stroke="#2477b5"/>
<polygon points="499,79.9 506,82.6 501.2,69.6 494.2,64.8" fill="url(#c139)" stroke="#0a78ca"/>
<polygon points="500.5,116.6 507.9,114 506,106.4 498.6,108.6" fill="url(#c140)" stroke="#0e5dd9"/>
<polygon points="451.7,109.5 455.6,98.1 450,93.3 446,105.4" fill="url(#c141)" stroke="#0b67de"/>
<polygon points="498.6,108.6 506,106.4 503,94.6 495.6,96.1" fill="url(#c142)" stroke="#0b67de"/>
<polygon points="455.2,78.4 461.5,63.2 455.9,62.4 449.6,76.8" fill="url(#c143)" stroke="#1679c0"/>
<polygon points="493.8,122.1 501.1,119.3 500.5,116.6 493.1,119.5" fill="url(#c144)" stroke="#0c58d0"/>
<polygon points="468.5,51.1 475.9,44.8 470.3,44.7 462.9,50.8" fill="url(#c145)" stroke="#307db3"/>
<polygon points="453.7,122.6 454.5,120.5 449.2,116.8 448.4,119.3" fill="url(#c146)" stroke="#0c58d0"/>
<polygon points="461.5,63.2 468.5,51.1 462.9,50.8 455.9,62.4" fill="url(#c147)" stroke="#3175b8"/>
<polygon points="493.1,119.5 500.5,116.6 498.6,108.6 491.3,112" fill="url(#c148)" stroke="#0e5dd9"/>
<polygon points="495.6,96.1 503,94.6 499,79.9 491.6,80.6" fill="url(#c149)" stroke="#0373d6"/>
<polygon points="454.5,120.5 457,114.4 451.7,109.5 449.2,116.8" fill="url(#c150)" stroke="#0d5cd8"/>
<polygon points="481.5,51.9 488.9,52.4 483.3,45.5 475.9,44.8" fill="url(#c151)" stroke="#307db3"/>
<polygon points="455.6,98.1 460.8,83.9 455.2,78.4 450,93.3" fill="url(#c152)" stroke="#0373d6"/>
<polygon points="491.3,112 498.6,108.6 495.6,96.1 488.3,100.1" fill="url(#c153)" stroke="#0b67de"/>
<polygon points="491.6,80.6 499,79.9 494.2,64.8 486.9,64.8" fill="url(#c154)" stroke="#1679c0"/>
<polygon points="457,114.4 460.9,104.7 455.6,98.1 451.7,109.5" fill="url(#c155)" stroke="#0d65de"/>
<polygon points="486.9,64.8 494.2,64.8 488.9,52.4 481.5,51.9" fill="url(#c156)" stroke="#3175b8"/>
<polygon points="486.8,124.7 493.8,122.1 493.1,119.5 486.1,122.5" fill="url(#c157)" stroke="#0c58d0"/>
<polygon points="460.8,83.9 467.1,69.5 461.5,63.2 455.2,78.4" fill="url(#c158)" stroke="#1679c0"/>
<polygon points="486.1,122.5 493.1,119.5 491.3,112 484.3,116.1" fill="url(#c159)" stroke="#0d5cd8"/>
<polygon points="458.5,125.7 459.3,124.1 454.5,120.5 453.7,122.6" fill="url(#c160)" stroke="#0c58d0"/>
<polygon points="488.3,100.1 495.6,96.1 491.6,80.6 484.3,85.4" fill="url(#c161)" stroke="#0373d6"/>
<polygon points="474.1,58 481.5,51.9 475.9,44.8 468.5,51.1" fill="url(#c162)" stroke="#307db3"/>
<polygon points="459.3,124.1 461.8,119.4 457,114.4 454.5,120.5" fill="url(#c163)" stroke="#0d5bd6"/>
<polygon points="460.9,104.7 466.2,92.6 460.8,83.9 455.6,98.1" fill="url(#c164)" stroke="#0671d9"/>
<polygon points="484.3,116.1 491.3,112 488.3,100.1 481.3,105.9" fill="url(#c165)" stroke="#0d65de"/>
<polygon points="467.1,69.5 474.1,58 468.5,51.1 461.5,63.2" fill="url(#c166)" stroke="#3175b8"/>
<polygon points="461.8,119.4 465.7,112 460.9,104.7 457,114.4" fill="url(#c167)" stroke="#0e61dd"/>
<polygon points="484.3,85.4 491.6,80.6 486.9,64.8 479.5,70.3" fill="url(#c168)" stroke="#1679c0"/>
<polygon points="480.5,127 486.8,124.7 486.1,122.5 479.8,125.3" fill="url(#c169)" stroke="#0c58d0"/>
<polygon points="479.5,70.3 486.9,64.8 481.5,51.9 474.1,58" fill="url(#c170)" stroke="#3175b8"/>
<polygon points="481.3,105.9 488.3,100.1 484.3,85.4 477.3,93.3" fill="url(#c171)" stroke="#0671d9"/>
<polygon points="466.2,92.6 472.5,80.3 467.1,69.5 460.8,83.9" fill="url(#c172)" stroke="#0a78ca"/>
<polygon points="479.8,125.3 486.1,122.5 484.3,116.1 478,120.4" fill="url(#c173)" stroke="#0d5bd6"/>
<polygon points="465.7,112 471,102.8 466.2,92.6 460.9,104.7" fill="url(#c174)" stroke="#086cdc"/>
<polygon points="478,120.4 484.3,116.1 481.3,105.9 475,112.6" fill="url(#c175)" stroke="#0e61dd"/>
<polygon points="472.5,80.3 479.5,70.3 474.1,58 467.1,69.5" fill="url(#c176)" stroke="#2477b5"/>
<polygon points="475,112.6 481.3,105.9 477.3,93.3 471,102.8" fill="url(#c177)" stroke="#086cdc"/>
<polygon points="477.3,93.3 484.3,85.4 479.5,70.3 472.5,80.3" fill="url(#c178)" stroke="#0a78ca"/>
<polygon points="471,102.8 477.3,93.3 472.5,80.3 466.2,92.6" fill="url(#c179)" stroke="#0174d5"/>
<polygon points="462.5,128.2 463.3,127.1 459.3,124.1 458.5,125.7" fill="#402ab4" stroke="#0c58d0"/>
<polygon points="463.3,127.1 465.8,123.9 461.8,119.4 459.3,124.1" fill="url(#c181)" stroke="#0d5ad4"/>
<polygon points="465.8,123.9 469.7,118.9 465.7,112 461.8,119.4" fill="url(#c182)" stroke="#0e5edb"/>
<polygon points="469.7,118.9 475,112.6 471,102.8 465.7,112" fill="url(#c183)" stroke="#0d65de"/>
<polygon points="472.7,124.4 478,120.4 475,112.6 469.7,118.9" fill="url(#c184)" stroke="#0e5edb"/>
<polygon points="474.6,127.8 479.8,125.3 478,120.4 472.7,124.4" fill="url(#c185)" stroke="#0d5ad4"/>
<polygon points="475.2,129 480.5,127 479.8,125.3 474.6,127.8" fill="#402ab4" stroke="#0c58d0"/>
<polygon points="468.8,127.5 472.7,124.4 469.7,118.9 465.8,123.9" fill="url(#c187)" stroke="#0d5bd6"/>
<polygon points="466.3,129.4 468.8,127.5 465.8,123.9 463.3,127.1" fill="url(#c188)" stroke="#0d59d2"/>
<polygon points="465.5,130.1 466.3,129.4 463.3,127.1 462.5,128.2" fill="#3e26a8" stroke="#0c57cd"/>
<polygon points="470.6,129.7 474.6,127.8 472.7,124.4 468.8,127.5" fill="url(#c190)" stroke="#0d59d2"/>
<polygon points="471.3,130.5 475.2,129 474.6,127.8 470.6,129.7" fill="#3e26a8" stroke="#0c57cd"/>
<polygon points="468.2,130.9 470.6,129.7 468.8,127.5 466.3,129.4" fill="#402ab4" stroke="#0c58d0"/>
<polygon points="467.4,131.3 468.2,130.9 466.3,129.4 465.5,130.1" fill="#3e26a8" stroke="#0c57cd"/>
<polygon points="468.8,131.4 471.3,130.5 470.6,129.7 468.2,130.9" fill="#3e26a8" stroke="#0c57cd"/>
<polygon points="468,131.7 468.8,131.4 468.2,130.9 467.4,131.3" fill="#3e26a8" stroke="#0c57cd"/></g>
<text x="414.30" y="101.60" font-size="7.2" text-anchor="end" fill="#3a3a3a" stroke="#3a3a3a" stroke-width="0.12">0</text>
<text x="414.30" y="78.07" font-size="7.2" text-anchor="end" fill="#3a3a3a" stroke="#3a3a3a" stroke-width="0.12">0.005</text>
<text x="414.30" y="54.53" font-size="7.2" text-anchor="end" fill="#3a3a3a" stroke="#3a3a3a" stroke-width="0.12">0.01</text>
<text x="414.30" y="31.00" font-size="7.2" text-anchor="end" fill="#3a3a3a" stroke="#3a3a3a" stroke-width="0.12">0.015</text>
<text x="463.40" y="141.00" font-size="7.3" text-anchor="end" fill="#3a3a3a" stroke="#3a3a3a" stroke-width="0.12">0</text>
<text x="438.15" y="125.00" font-size="7.3" text-anchor="end" fill="#3a3a3a" stroke="#3a3a3a" stroke-width="0.12">0.5</text>
<text x="412.90" y="109.00" font-size="7.3" text-anchor="end" fill="#3a3a3a" stroke="#3a3a3a" stroke-width="0.12">1</text>
<text x="471.40" y="141.70" font-size="7.3" text-anchor="start" fill="#3a3a3a" stroke="#3a3a3a" stroke-width="0.12">0</text>
<text x="504.55" y="129.30" font-size="7.3" text-anchor="start" fill="#3a3a3a" stroke="#3a3a3a" stroke-width="0.12">0.5</text>
<text x="537.70" y="116.90" font-size="7.3" text-anchor="start" fill="#3a3a3a" stroke="#3a3a3a" stroke-width="0.12">1</text>
<text x="430.25" y="143.50" font-size="7.7" text-anchor="middle" fill="#3a3a3a" stroke="#3a3a3a" stroke-width="0.12">y/b</text>
<text x="509.55" y="143.70" font-size="7.7" text-anchor="middle" fill="#3a3a3a" stroke="#3a3a3a" stroke-width="0.12">x/a</text>
<g transform="translate(390.30,64.40) scale(1,1.000) rotate(-90) scale(1.3,1)" fill="#333" font-family="Liberation Serif, serif"><text x="0" y="0" font-size="10" font-style="italic" text-anchor="middle">w</text><line x1="-2.6" y1="-5.6" x2="2.6" y2="-5.6" stroke="#262626" stroke-width="0.6"/></g>
<line x1="107.00" y1="245.50" x2="172.70" y2="224.00" stroke="#e2e2e2" stroke-width="0.5"/>
<line x1="172.70" y1="224.00" x2="222.80" y2="252.30" stroke="#e2e2e2" stroke-width="0.5"/>
<line x1="107.00" y1="225.63" x2="172.70" y2="204.13" stroke="#e2e2e2" stroke-width="0.5"/>
<line x1="172.70" y1="204.13" x2="222.80" y2="232.43" stroke="#e2e2e2" stroke-width="0.5"/>
<line x1="107.00" y1="205.77" x2="172.70" y2="184.27" stroke="#e2e2e2" stroke-width="0.5"/>
<line x1="172.70" y1="184.27" x2="222.80" y2="212.57" stroke="#e2e2e2" stroke-width="0.5"/>
<line x1="107.00" y1="185.90" x2="172.70" y2="164.40" stroke="#e2e2e2" stroke-width="0.5"/>
<line x1="172.70" y1="164.40" x2="222.80" y2="192.70" stroke="#e2e2e2" stroke-width="0.5"/>
<line x1="107.00" y1="247.80" x2="107.00" y2="185.90" stroke="#e2e2e2" stroke-width="0.5"/>
<line x1="222.80" y1="254.60" x2="222.80" y2="192.70" stroke="#e2e2e2" stroke-width="0.5"/>
<line x1="157.10" y1="276.10" x2="107.00" y2="247.80" stroke="#e2e2e2" stroke-width="0.5"/>
<line x1="157.10" y1="276.10" x2="222.80" y2="254.60" stroke="#e2e2e2" stroke-width="0.5"/>
<line x1="139.85" y1="237.05" x2="139.85" y2="175.15" stroke="#e2e2e2" stroke-width="0.5"/>
<line x1="197.75" y1="240.45" x2="197.75" y2="178.55" stroke="#e2e2e2" stroke-width="0.5"/>
<line x1="189.95" y1="265.35" x2="139.85" y2="237.05" stroke="#e2e2e2" stroke-width="0.5"/>
<line x1="132.05" y1="261.95" x2="197.75" y2="240.45" stroke="#e2e2e2" stroke-width="0.5"/>
<line x1="172.70" y1="226.30" x2="172.70" y2="164.40" stroke="#e2e2e2" stroke-width="0.5"/>
<line x1="172.70" y1="226.30" x2="172.70" y2="164.40" stroke="#e2e2e2" stroke-width="0.5"/>
<line x1="222.80" y1="254.60" x2="172.70" y2="226.30" stroke="#e2e2e2" stroke-width="0.5"/>
<line x1="107.00" y1="247.80" x2="172.70" y2="226.30" stroke="#e2e2e2" stroke-width="0.5"/>
<line x1="157.10" y1="276.10" x2="222.80" y2="254.60" stroke="#4a4a4a" stroke-width="0.7"/>
<line x1="157.10" y1="276.10" x2="107.00" y2="247.80" stroke="#4a4a4a" stroke-width="0.7"/>
<line x1="107.00" y1="247.80" x2="107.00" y2="185.90" stroke="#4a4a4a" stroke-width="0.7"/>
<line x1="157.10" y1="276.10" x2="156.10" y2="275.53" stroke="#4a4a4a" stroke-width="0.7"/>
<line x1="157.10" y1="276.10" x2="158.41" y2="275.67" stroke="#4a4a4a" stroke-width="0.7"/>
<line x1="189.95" y1="265.35" x2="188.95" y2="264.78" stroke="#4a4a4a" stroke-width="0.7"/>
<line x1="132.05" y1="261.95" x2="133.36" y2="261.52" stroke="#4a4a4a" stroke-width="0.7"/>
<line x1="222.80" y1="254.60" x2="221.80" y2="254.03" stroke="#4a4a4a" stroke-width="0.7"/>
<line x1="107.00" y1="247.80" x2="108.31" y2="247.37" stroke="#4a4a4a" stroke-width="0.7"/>
<line x1="107.00" y1="245.50" x2="108.31" y2="245.07" stroke="#4a4a4a" stroke-width="0.7"/>
<line x1="107.00" y1="225.63" x2="108.31" y2="225.20" stroke="#4a4a4a" stroke-width="0.7"/>
<line x1="107.00" y1="205.77" x2="108.31" y2="205.34" stroke="#4a4a4a" stroke-width="0.7"/>
<line x1="107.00" y1="185.90" x2="108.31" y2="185.47" stroke="#4a4a4a" stroke-width="0.7"/>
<defs><linearGradient id="d9" gradientUnits="userSpaceOnUse" x1="171.2" y1="173.6" x2="171.6" y2="167.9"><stop stop-color="#f5e327"/><stop offset="1" stop-color="#f7f51b"/></linearGradient><linearGradient id="d10" gradientUnits="userSpaceOnUse" x1="165" y1="172.6" x2="164.1" y2="168.1"><stop stop-color="#f5e924"/><stop offset="1" stop-color="#f9fb15"/></linearGradient><linearGradient id="d11" gradientUnits="userSpaceOnUse" x1="167.1" y1="178.2" x2="166.7" y2="170.2"><stop stop-color="#fccf30"/><stop offset="1" stop-color="#f6ef20"/></linearGradient><linearGradient id="d13" gradientUnits="userSpaceOnUse" x1="177.2" y1="172.9" x2="178.7" y2="168.9"><stop stop-color="#f5e924"/><stop offset="1" stop-color="#f9fb15"/></linearGradient><linearGradient id="d14" gradientUnits="userSpaceOnUse" x1="174" y1="178" x2="175.6" y2="170.6"><stop stop-color="#fad62d"/><stop offset="1" stop-color="#f6ef20"/></linearGradient><linearGradient id="d16" gradientUnits="userSpaceOnUse" x1="159.5" y1="175.9" x2="158.2" y2="170.4"><stop stop-color="#f7dc2a"/><stop offset="1" stop-color="#f7f51b"/></linearGradient><linearGradient id="d17" gradientUnits="userSpaceOnUse" x1="169.8" y1="184.8" x2="170.8" y2="173.7"><stop stop-color="#f8ba3d"/><stop offset="1" stop-color="#f5e327"/></linearGradient><linearGradient id="d18" gradientUnits="userSpaceOnUse" x1="162" y1="183.5" x2="160.6" y2="173.4"><stop stop-color="#febe3c"/><stop offset="1" stop-color="#f5e924"/></linearGradient><linearGradient id="d19" gradientUnits="userSpaceOnUse" x1="153.4" y1="245.5" x2="152.6" y2="224.9"><stop stop-color="#4537d5"/><stop offset=".33" stop-color="#4852f4"/><stop offset=".67" stop-color="#3e6fff"/><stop offset="1" stop-color="#2b91ef"/></linearGradient><linearGradient id="d20" gradientUnits="userSpaceOnUse" x1="159.2" y1="236.5" x2="161.3" y2="213.7"><stop stop-color="#465efb"/><stop offset=".33" stop-color="#2f81fa"/><stop offset=".67" stop-color="#23a0e5"/><stop offset="1" stop-color="#01b8ca"/></linearGradient><linearGradient id="d21" gradientUnits="userSpaceOnUse" x1="164.8" y1="192.7" x2="164.6" y2="178.3"><stop stop-color="#b9c431"/><stop offset=".50" stop-color="#f0ba36"/><stop offset="1" stop-color="#fccf30"/></linearGradient><linearGradient id="d22" gradientUnits="userSpaceOnUse" x1="155.9" y1="224.8" x2="154.8" y2="201.9"><stop stop-color="#2b91ef"/><stop offset=".33" stop-color="#18addb"/><stop offset=".67" stop-color="#19bfb6"/><stop offset="1" stop-color="#57cc7a"/></linearGradient><linearGradient id="d23" gradientUnits="userSpaceOnUse" x1="162" y1="213.8" x2="162.9" y2="192.7"><stop stop-color="#01b8ca"/><stop offset=".33" stop-color="#31c69f"/><stop offset=".67" stop-color="#64cd6f"/><stop offset="1" stop-color="#b9c431"/></linearGradient><linearGradient id="d24" gradientUnits="userSpaceOnUse" x1="149.7" y1="232.3" x2="146.5" y2="210.8"><stop stop-color="#3e6fff"/><stop offset=".33" stop-color="#2b91ef"/><stop offset=".67" stop-color="#18addb"/><stop offset="1" stop-color="#19bfb6"/></linearGradient><linearGradient id="d25" gradientUnits="userSpaceOnUse" x1="158.8" y1="201.6" x2="157.5" y2="184"><stop stop-color="#57cc7a"/><stop offset=".50" stop-color="#b9c431"/><stop offset="1" stop-color="#febe3c"/></linearGradient><linearGradient id="d26" gradientUnits="userSpaceOnUse" x1="156.8" y1="252.2" x2="160.1" y2="236.6"><stop stop-color="#3e26a8"/><stop offset=".50" stop-color="#463cde"/><stop offset="1" stop-color="#465efb"/></linearGradient><linearGradient id="d27" gradientUnits="userSpaceOnUse" x1="167.9" y1="201.9" x2="169.9" y2="184.9"><stop stop-color="#57cc7a"/><stop offset=".50" stop-color="#abc739"/><stop offset="1" stop-color="#f8ba3d"/></linearGradient><linearGradient id="d28" gradientUnits="userSpaceOnUse" x1="165.3" y1="223.3" x2="169.3" y2="202.1"><stop stop-color="#259be8"/><stop offset=".33" stop-color="#12b1d6"/><stop offset=".67" stop-color="#24c1ae"/><stop offset="1" stop-color="#57cc7a"/></linearGradient><linearGradient id="d29" gradientUnits="userSpaceOnUse" x1="155.8" y1="189.6" x2="153.6" y2="177.3"><stop stop-color="#d1bf27"/><stop offset=".50" stop-color="#febe3c"/><stop offset="1" stop-color="#f7dc2a"/></linearGradient><linearGradient id="d30" gradientUnits="userSpaceOnUse" x1="173.2" y1="191.4" x2="176" y2="178.5"><stop stop-color="#c5c22a"/><stop offset=".50" stop-color="#f8ba3d"/><stop offset="1" stop-color="#fad62d"/></linearGradient><linearGradient id="d32" gradientUnits="userSpaceOnUse" x1="181.3" y1="176.2" x2="183.3" y2="171.8"><stop stop-color="#f5e327"/><stop offset="1" stop-color="#f7f51b"/></linearGradient><linearGradient id="d33" gradientUnits="userSpaceOnUse" x1="177.7" y1="182.5" x2="180.5" y2="174.2"><stop stop-color="#fec338"/><stop offset="1" stop-color="#f5e924"/></linearGradient><linearGradient id="d34" gradientUnits="userSpaceOnUse" x1="152.5" y1="210" x2="149.7" y2="190.6"><stop stop-color="#19bfb6"/><stop offset=".33" stop-color="#3fca8e"/><stop offset=".67" stop-color="#8fcb4e"/><stop offset="1" stop-color="#d1bf27"/></linearGradient><linearGradient id="d35" gradientUnits="userSpaceOnUse" x1="148.4" y1="246.8" x2="143.4" y2="233.1"><stop stop-color="#4537d5"/><stop offset=".50" stop-color="#4852f4"/><stop offset="1" stop-color="#3875fe"/></linearGradient><linearGradient id="d36" gradientUnits="userSpaceOnUse" x1="162.7" y1="242.1" x2="168.7" y2="224.2"><stop stop-color="#4747eb"/><stop offset=".50" stop-color="#3875fe"/><stop offset="1" stop-color="#259be8"/></linearGradient><linearGradient id="d37" gradientUnits="userSpaceOnUse" x1="153.2" y1="179.9" x2="151.4" y2="173"><stop stop-color="#fccf30"/><stop offset="1" stop-color="#f7f51b"/></linearGradient><linearGradient id="d38" gradientUnits="userSpaceOnUse" x1="151.3" y1="173.7" x2="150.7" y2="171.6"><stop stop-color="#f6ef20"/><stop offset="1" stop-color="#f9fb15"/></linearGradient><linearGradient id="d39" gradientUnits="userSpaceOnUse" x1="153.4" y1="254.2" x2="149.3" y2="245.3"><stop stop-color="#3e26a8"/><stop offset="1" stop-color="#4537d5"/></linearGradient><linearGradient id="d40" gradientUnits="userSpaceOnUse" x1="171.7" y1="209.3" x2="176.1" y2="192.1"><stop stop-color="#2cc4a7"/><stop offset=".50" stop-color="#72cd64"/><stop offset="1" stop-color="#c5c22a"/></linearGradient><linearGradient id="d41" gradientUnits="userSpaceOnUse" x1="143.7" y1="233.7" x2="138.1" y2="217.6"><stop stop-color="#3e6fff"/><stop offset=".50" stop-color="#2797eb"/><stop offset="1" stop-color="#08b5d0"/></linearGradient><linearGradient id="d42" gradientUnits="userSpaceOnUse" x1="145.8" y1="215.9" x2="141.7" y2="197.1"><stop stop-color="#08b5d0"/><stop offset=".33" stop-color="#24c1ae"/><stop offset=".67" stop-color="#57cc7a"/><stop offset="1" stop-color="#9dc943"/></linearGradient><linearGradient id="d43" gradientUnits="userSpaceOnUse" x1="149.2" y1="195.5" x2="146.1" y2="181.7"><stop stop-color="#9dc943"/><stop offset=".50" stop-color="#e6bb2d"/><stop offset="1" stop-color="#fccf30"/></linearGradient><linearGradient id="d44" gradientUnits="userSpaceOnUse" x1="169.3" y1="228.1" x2="176.3" y2="210.7"><stop stop-color="#2d8cf3"/><stop offset=".50" stop-color="#18addb"/><stop offset="1" stop-color="#2cc4a7"/></linearGradient><linearGradient id="d45" gradientUnits="userSpaceOnUse" x1="177.3" y1="197" x2="181.9" y2="183.9"><stop stop-color="#9dc943"/><stop offset=".50" stop-color="#dcbd29"/><stop offset="1" stop-color="#fec338"/></linearGradient><linearGradient id="d46" gradientUnits="userSpaceOnUse" x1="146.3" y1="183.8" x2="144.1" y2="175.9"><stop stop-color="#fec338"/><stop offset="1" stop-color="#f6ef20"/></linearGradient><linearGradient id="d47" gradientUnits="userSpaceOnUse" x1="182.4" y1="186.7" x2="186" y2="178.3"><stop stop-color="#febe3c"/><stop offset="1" stop-color="#f5e327"/></linearGradient><linearGradient id="d48" gradientUnits="userSpaceOnUse" x1="186.2" y1="179.6" x2="188.6" y2="175"><stop stop-color="#f7dc2a"/><stop offset="1" stop-color="#f7f51b"/></linearGradient><linearGradient id="d49" gradientUnits="userSpaceOnUse" x1="156.7" y1="250.7" x2="171" y2="244.3"><stop stop-color="#3e26a8"/><stop offset=".50" stop-color="#463cde"/><stop offset="1" stop-color="#465efb"/></linearGradient><linearGradient id="d50" gradientUnits="userSpaceOnUse" x1="144.3" y1="176.4" x2="143.5" y2="174"><stop stop-color="#f6ef20"/><stop offset="1" stop-color="#f9fb15"/></linearGradient><linearGradient id="d52" gradientUnits="userSpaceOnUse" x1="142.1" y1="200" x2="138.4" y2="186"><stop stop-color="#81cc59"/><stop offset=".50" stop-color="#d1bf27"/><stop offset="1" stop-color="#fec338"/></linearGradient><linearGradient id="d53" gradientUnits="userSpaceOnUse" x1="139.1" y1="217.6" x2="133.9" y2="202.1"><stop stop-color="#08b5d0"/><stop offset=".50" stop-color="#31c69f"/><stop offset="1" stop-color="#81cc59"/></linearGradient><linearGradient id="d54" gradientUnits="userSpaceOnUse" x1="176.2" y1="213.3" x2="182.6" y2="198.9"><stop stop-color="#19bfb6"/><stop offset=".50" stop-color="#4acb84"/><stop offset="1" stop-color="#9dc943"/></linearGradient><linearGradient id="d55" gradientUnits="userSpaceOnUse" x1="164.6" y1="242.6" x2="177.8" y2="229.9"><stop stop-color="#4747eb"/><stop offset=".50" stop-color="#3875fe"/><stop offset="1" stop-color="#259be8"/></linearGradient><linearGradient id="d56" gradientUnits="userSpaceOnUse" x1="147.5" y1="240.5" x2="131.8" y2="235.3"><stop stop-color="#4537d5"/><stop offset=".33" stop-color="#4758f8"/><stop offset=".67" stop-color="#327cfc"/><stop offset="1" stop-color="#259be8"/></linearGradient><linearGradient id="d57" gradientUnits="userSpaceOnUse" x1="156.8" y1="252.5" x2="157" y2="253.3"><stop stop-color="#3e26a8"/><stop offset="1" stop-color="#4537d5"/></linearGradient><linearGradient id="d58" gradientUnits="userSpaceOnUse" x1="182.4" y1="200.6" x2="187.9" y2="189.2"><stop stop-color="#8fcb4e"/><stop offset=".50" stop-color="#d1bf27"/><stop offset="1" stop-color="#febe3c"/></linearGradient><linearGradient id="d59" gradientUnits="userSpaceOnUse" x1="141.9" y1="232.8" x2="127.5" y2="216.8"><stop stop-color="#3875fe"/><stop offset=".33" stop-color="#2797eb"/><stop offset=".67" stop-color="#12b1d6"/><stop offset="1" stop-color="#2cc4a7"/></linearGradient><linearGradient id="d60" gradientUnits="userSpaceOnUse" x1="139.1" y1="187.1" x2="136.6" y2="178.9"><stop stop-color="#febe3c"/><stop offset="1" stop-color="#f6ef20"/></linearGradient><linearGradient id="d61" gradientUnits="userSpaceOnUse" x1="146.4" y1="246.1" x2="143.1" y2="247.9"><stop stop-color="#402ab4"/><stop offset=".50" stop-color="#4747eb"/><stop offset="1" stop-color="#3e6fff"/></linearGradient><linearGradient id="d62" gradientUnits="userSpaceOnUse" x1="172.5" y1="229.5" x2="184.1" y2="215.5"><stop stop-color="#2d8cf3"/><stop offset=".50" stop-color="#18addb"/><stop offset="1" stop-color="#2cc4a7"/></linearGradient><linearGradient id="d63" gradientUnits="userSpaceOnUse" x1="135.1" y1="202" x2="131" y2="189.6"><stop stop-color="#81cc59"/><stop offset=".50" stop-color="#d1bf27"/><stop offset="1" stop-color="#febe3c"/></linearGradient><linearGradient id="d64" gradientUnits="userSpaceOnUse" x1="137" y1="179.1" x2="136.1" y2="176.4"><stop stop-color="#f6ef20"/><stop offset="1" stop-color="#f9fb15"/></linearGradient><linearGradient id="d65" gradientUnits="userSpaceOnUse" x1="187.7" y1="190.1" x2="191.7" y2="182.3"><stop stop-color="#f8ba3d"/><stop offset="1" stop-color="#f7dc2a"/></linearGradient><linearGradient id="d66" gradientUnits="userSpaceOnUse" x1="191.7" y1="182.8" x2="194.1" y2="178.3"><stop stop-color="#f7dc2a"/><stop offset="1" stop-color="#f7f51b"/></linearGradient><linearGradient id="d68" gradientUnits="userSpaceOnUse" x1="135.1" y1="218.8" x2="125.4" y2="201.8"><stop stop-color="#08b5d0"/><stop offset=".33" stop-color="#2cc4a7"/><stop offset=".67" stop-color="#64cd6f"/><stop offset="1" stop-color="#abc739"/></linearGradient><linearGradient id="d69" gradientUnits="userSpaceOnUse" x1="180.3" y1="215.5" x2="189.5" y2="203"><stop stop-color="#19bfb6"/><stop offset=".50" stop-color="#4acb84"/><stop offset="1" stop-color="#9dc943"/></linearGradient><linearGradient id="d70" gradientUnits="userSpaceOnUse" x1="131.9" y1="189.4" x2="129.3" y2="181.5"><stop stop-color="#febe3c"/><stop offset="1" stop-color="#f6ef20"/></linearGradient><linearGradient id="d71" gradientUnits="userSpaceOnUse" x1="129.8" y1="181.4" x2="128.9" y2="178.7"><stop stop-color="#f6ef20"/><stop offset="1" stop-color="#f9fb15"/></linearGradient><linearGradient id="d72" gradientUnits="userSpaceOnUse" x1="187.2" y1="203.3" x2="194.1" y2="192.8"><stop stop-color="#8fcb4e"/><stop offset=".50" stop-color="#d1bf27"/><stop offset="1" stop-color="#febe3c"/></linearGradient><linearGradient id="d73" gradientUnits="userSpaceOnUse" x1="129.6" y1="203.8" x2="123.7" y2="190.4"><stop stop-color="#81cc59"/><stop offset=".50" stop-color="#d1bf27"/><stop offset="1" stop-color="#fec934"/></linearGradient><linearGradient id="d74" gradientUnits="userSpaceOnUse" x1="149.3" y1="253.5" x2="151.3" y2="247"><stop stop-color="#402ab4"/><stop offset=".50" stop-color="#4747eb"/><stop offset="1" stop-color="#3e6fff"/></linearGradient><linearGradient id="d75" gradientUnits="userSpaceOnUse" x1="171.1" y1="246.7" x2="167.9" y2="241.7"><stop stop-color="#4537d5"/><stop offset=".33" stop-color="#4852f4"/><stop offset=".67" stop-color="#3e6fff"/><stop offset="1" stop-color="#2b91ef"/></linearGradient><linearGradient id="d76" gradientUnits="userSpaceOnUse" x1="170.8" y1="233.4" x2="182.2" y2="234.2"><stop stop-color="#465efb"/><stop offset=".33" stop-color="#2f81fa"/><stop offset=".67" stop-color="#23a0e5"/><stop offset="1" stop-color="#01b8ca"/></linearGradient><linearGradient id="d77" gradientUnits="userSpaceOnUse" x1="193" y1="193.1" x2="197.5" y2="185.6"><stop stop-color="#f8ba3d"/><stop offset="1" stop-color="#f7dc2a"/></linearGradient><linearGradient id="d78" gradientUnits="userSpaceOnUse" x1="197.2" y1="185.9" x2="199.7" y2="181.5"><stop stop-color="#f7dc2a"/><stop offset="1" stop-color="#f7f51b"/></linearGradient><linearGradient id="d79" gradientUnits="userSpaceOnUse" x1="125.6" y1="191.5" x2="122.7" y2="183.3"><stop stop-color="#febe3c"/><stop offset="1" stop-color="#f6ef20"/></linearGradient><linearGradient id="d81" gradientUnits="userSpaceOnUse" x1="135.2" y1="218" x2="123.1" y2="216.7"><stop stop-color="#259be8"/><stop offset=".33" stop-color="#01b8ca"/><stop offset=".67" stop-color="#3fca8e"/><stop offset="1" stop-color="#9dc943"/></linearGradient><linearGradient id="d82" gradientUnits="userSpaceOnUse" x1="175.5" y1="224.5" x2="191.4" y2="218.6"><stop stop-color="#259be8"/><stop offset=".33" stop-color="#12b1d6"/><stop offset=".67" stop-color="#24c1ae"/><stop offset="1" stop-color="#57cc7a"/></linearGradient><linearGradient id="d83" gradientUnits="userSpaceOnUse" x1="130.7" y1="230.6" x2="136.1" y2="225.9"><stop stop-color="#3e6fff"/><stop offset=".33" stop-color="#2797eb"/><stop offset=".67" stop-color="#01b8ca"/><stop offset="1" stop-color="#37c897"/></linearGradient><linearGradient id="d84" gradientUnits="userSpaceOnUse" x1="163.1" y1="251.8" x2="161.6" y2="246.7"><stop stop-color="#4537d5"/><stop offset=".50" stop-color="#4852f4"/><stop offset="1" stop-color="#3875fe"/></linearGradient><linearGradient id="d85" gradientUnits="userSpaceOnUse" x1="123.3" y1="183.5" x2="122.4" y2="180.9"><stop stop-color="#f6ef20"/><stop offset="1" stop-color="#f9fb15"/></linearGradient><linearGradient id="d86" gradientUnits="userSpaceOnUse" x1="132.2" y1="210.9" x2="117.8" y2="201.4"><stop stop-color="#2cc4a7"/><stop offset=".33" stop-color="#64cd6f"/><stop offset=".67" stop-color="#b9c431"/><stop offset="1" stop-color="#f0ba36"/></linearGradient><linearGradient id="d87" gradientUnits="userSpaceOnUse" x1="183.3" y1="214.3" x2="196.8" y2="205.1"><stop stop-color="#2cc4a7"/><stop offset=".50" stop-color="#72cd64"/><stop offset="1" stop-color="#c5c22a"/></linearGradient><linearGradient id="d88" gradientUnits="userSpaceOnUse" x1="125.4" y1="201.9" x2="117.2" y2="190.1"><stop stop-color="#abc739"/><stop offset=".50" stop-color="#f8ba3d"/><stop offset="1" stop-color="#f7dc2a"/></linearGradient><linearGradient id="d89" gradientUnits="userSpaceOnUse" x1="135.8" y1="240.4" x2="142.1" y2="231.6"><stop stop-color="#4758f8"/><stop offset=".33" stop-color="#2f81fa"/><stop offset=".67" stop-color="#20a5e3"/><stop offset="1" stop-color="#0bbdbd"/></linearGradient><linearGradient id="d90" gradientUnits="userSpaceOnUse" x1="191.2" y1="204.5" x2="200.6" y2="194.8"><stop stop-color="#9dc943"/><stop offset=".50" stop-color="#dcbd29"/><stop offset="1" stop-color="#fec338"/></linearGradient><linearGradient id="d91" gradientUnits="userSpaceOnUse" x1="120.2" y1="192" x2="116.9" y2="184.5"><stop stop-color="#fec934"/><stop offset="1" stop-color="#f7f51b"/></linearGradient><linearGradient id="d92" gradientUnits="userSpaceOnUse" x1="117.6" y1="185.1" x2="116.7" y2="182.7"><stop stop-color="#f6ef20"/><stop offset="1" stop-color="#f9fb15"/></linearGradient><linearGradient id="d93" gradientUnits="userSpaceOnUse" x1="197.8" y1="195.4" x2="203.3" y2="188"><stop stop-color="#febe3c"/><stop offset="1" stop-color="#f5e327"/></linearGradient><linearGradient id="d94" gradientUnits="userSpaceOnUse" x1="202.4" y1="188.7" x2="205.2" y2="184.4"><stop stop-color="#f7dc2a"/><stop offset="1" stop-color="#f7f51b"/></linearGradient><linearGradient id="d96" gradientUnits="userSpaceOnUse" x1="155.4" y1="253.4" x2="156.1" y2="241.3"><stop stop-color="#4537d5"/><stop offset=".33" stop-color="#4758f8"/><stop offset=".67" stop-color="#327cfc"/><stop offset="1" stop-color="#259be8"/></linearGradient><linearGradient id="d98" gradientUnits="userSpaceOnUse" x1="115.8" y1="190.9" x2="112.4" y2="185.3"><stop stop-color="#f7dc2a"/><stop offset="1" stop-color="#f7f51b"/></linearGradient><linearGradient id="d99" gradientUnits="userSpaceOnUse" x1="121.4" y1="196" x2="112.5" y2="190"><stop stop-color="#f0ba36"/><stop offset=".50" stop-color="#fccf30"/><stop offset="1" stop-color="#f5e924"/></linearGradient><linearGradient id="d100" gradientUnits="userSpaceOnUse" x1="126.4" y1="204.7" x2="114.7" y2="195.3"><stop stop-color="#9dc943"/><stop offset=".50" stop-color="#f0ba36"/><stop offset="1" stop-color="#fad62d"/></linearGradient><linearGradient id="d101" gradientUnits="userSpaceOnUse" x1="183.8" y1="229.7" x2="180.1" y2="225.6"><stop stop-color="#2b91ef"/><stop offset=".33" stop-color="#18addb"/><stop offset=".67" stop-color="#19bfb6"/><stop offset="1" stop-color="#57cc7a"/></linearGradient><linearGradient id="d102" gradientUnits="userSpaceOnUse" x1="141.8" y1="245.3" x2="147.3" y2="233.1"><stop stop-color="#4758f8"/><stop offset=".33" stop-color="#2f81fa"/><stop offset=".67" stop-color="#20a5e3"/><stop offset="1" stop-color="#0bbdbd"/></linearGradient><linearGradient id="d103" gradientUnits="userSpaceOnUse" x1="184" y1="216.5" x2="193.1" y2="218"><stop stop-color="#01b8ca"/><stop offset=".33" stop-color="#31c69f"/><stop offset=".67" stop-color="#64cd6f"/><stop offset="1" stop-color="#b9c431"/></linearGradient><linearGradient id="d105" gradientUnits="userSpaceOnUse" x1="176.7" y1="239.7" x2="172.4" y2="232.7"><stop stop-color="#3e6fff"/><stop offset=".33" stop-color="#2b91ef"/><stop offset=".67" stop-color="#18addb"/><stop offset="1" stop-color="#19bfb6"/></linearGradient><linearGradient id="d106" gradientUnits="userSpaceOnUse" x1="121.2" y1="210.2" x2="126.3" y2="204.8"><stop stop-color="#37c897"/><stop offset=".33" stop-color="#81cc59"/><stop offset=".67" stop-color="#d1bf27"/><stop offset="1" stop-color="#fec338"/></linearGradient><linearGradient id="d107" gradientUnits="userSpaceOnUse" x1="188.9" y1="208.2" x2="201" y2="207"><stop stop-color="#57cc7a"/><stop offset=".50" stop-color="#abc739"/><stop offset="1" stop-color="#f8ba3d"/></linearGradient><linearGradient id="d108" gradientUnits="userSpaceOnUse" x1="113.1" y1="189" x2="109.2" y2="186"><stop stop-color="#f5e924"/><stop offset="1" stop-color="#f9fb15"/></linearGradient><linearGradient id="d109" gradientUnits="userSpaceOnUse" x1="195.1" y1="202.7" x2="206.2" y2="196.5"><stop stop-color="#c5c22a"/><stop offset=".50" stop-color="#f8ba3d"/><stop offset="1" stop-color="#fad62d"/></linearGradient><linearGradient id="d112" gradientUnits="userSpaceOnUse" x1="207.3" y1="191" x2="210.2" y2="186.9"><stop stop-color="#f5e327"/><stop offset="1" stop-color="#f7f51b"/></linearGradient><linearGradient id="d113" gradientUnits="userSpaceOnUse" x1="202.2" y1="196.4" x2="208.6" y2="190"><stop stop-color="#fec338"/><stop offset="1" stop-color="#f5e924"/></linearGradient><linearGradient id="d115" gradientUnits="userSpaceOnUse" x1="116.8" y1="193.1" x2="110.6" y2="187.9"><stop stop-color="#fad62d"/><stop offset="1" stop-color="#f7f51b"/></linearGradient><linearGradient id="d116" gradientUnits="userSpaceOnUse" x1="125.5" y1="219.3" x2="132.1" y2="210.8"><stop stop-color="#0bbdbd"/><stop offset=".33" stop-color="#3fca8e"/><stop offset=".67" stop-color="#9dc943"/><stop offset="1" stop-color="#e6bb2d"/></linearGradient><linearGradient id="d117" gradientUnits="userSpaceOnUse" x1="168.7" y1="244.8" x2="166" y2="236.3"><stop stop-color="#3e6fff"/><stop offset=".50" stop-color="#2797eb"/><stop offset="1" stop-color="#08b5d0"/></linearGradient><linearGradient id="d119" gradientUnits="userSpaceOnUse" x1="115.2" y1="195.5" x2="117.4" y2="192.7"><stop stop-color="#fec338"/><stop offset="1" stop-color="#f7f51b"/></linearGradient><linearGradient id="d121" gradientUnits="userSpaceOnUse" x1="211.5" y1="192.6" x2="214.6" y2="189"><stop stop-color="#f5e924"/><stop offset="1" stop-color="#f9fb15"/></linearGradient><linearGradient id="d122" gradientUnits="userSpaceOnUse" x1="131.2" y1="225.8" x2="137.6" y2="215.5"><stop stop-color="#01b8ca"/><stop offset=".33" stop-color="#31c69f"/><stop offset=".67" stop-color="#72cd64"/><stop offset="1" stop-color="#d1bf27"/></linearGradient><linearGradient id="d123" gradientUnits="userSpaceOnUse" x1="205.9" y1="196.1" x2="213.3" y2="191.8"><stop stop-color="#fad62d"/><stop offset="1" stop-color="#f6ef20"/></linearGradient><linearGradient id="d124" gradientUnits="userSpaceOnUse" x1="200.2" y1="198.6" x2="209.7" y2="198.2"><stop stop-color="#f8ba3d"/><stop offset="1" stop-color="#f5e327"/></linearGradient><linearGradient id="d125" gradientUnits="userSpaceOnUse" x1="147.6" y1="245.8" x2="152.2" y2="230"><stop stop-color="#3e6fff"/><stop offset=".33" stop-color="#2797eb"/><stop offset=".67" stop-color="#01b8ca"/><stop offset="1" stop-color="#37c897"/></linearGradient><linearGradient id="d126" gradientUnits="userSpaceOnUse" x1="114.5" y1="191.4" x2="115.1" y2="190.5"><stop stop-color="#f6ef20"/><stop offset="1" stop-color="#f9fb15"/></linearGradient><linearGradient id="d127" gradientUnits="userSpaceOnUse" x1="119" y1="201.2" x2="122.3" y2="196.4"><stop stop-color="#e6bb2d"/><stop offset=".50" stop-color="#fec934"/><stop offset="1" stop-color="#f6ef20"/></linearGradient><linearGradient id="d128" gradientUnits="userSpaceOnUse" x1="195.2" y1="203.6" x2="203.5" y2="205.3"><stop stop-color="#b9c431"/><stop offset=".50" stop-color="#f0ba36"/><stop offset="1" stop-color="#fccf30"/></linearGradient><linearGradient id="d129" gradientUnits="userSpaceOnUse" x1="161.3" y1="246.6" x2="160.3" y2="232.8"><stop stop-color="#3875fe"/><stop offset=".33" stop-color="#2797eb"/><stop offset=".67" stop-color="#12b1d6"/><stop offset="1" stop-color="#2cc4a7"/></linearGradient><linearGradient id="d130" gradientUnits="userSpaceOnUse" x1="194.9" y1="214.2" x2="191.9" y2="209.9"><stop stop-color="#57cc7a"/><stop offset=".50" stop-color="#b9c431"/><stop offset="1" stop-color="#febe3c"/></linearGradient><linearGradient id="d133" gradientUnits="userSpaceOnUse" x1="188.3" y1="223" x2="184.3" y2="216.4"><stop stop-color="#19bfb6"/><stop offset=".33" stop-color="#3fca8e"/><stop offset=".67" stop-color="#8fcb4e"/><stop offset="1" stop-color="#d1bf27"/></linearGradient><linearGradient id="d134" gradientUnits="userSpaceOnUse" x1="209.6" y1="193.8" x2="216.4" y2="194.2"><stop stop-color="#f5e327"/><stop offset="1" stop-color="#f7f51b"/></linearGradient><linearGradient id="d136" gradientUnits="userSpaceOnUse" x1="123.6" y1="206.8" x2="127.8" y2="200.2"><stop stop-color="#d1bf27"/><stop offset=".50" stop-color="#fec338"/><stop offset="1" stop-color="#f5e924"/></linearGradient><linearGradient id="d137" gradientUnits="userSpaceOnUse" x1="181" y1="230.6" x2="176.9" y2="221.7"><stop stop-color="#08b5d0"/><stop offset=".33" stop-color="#24c1ae"/><stop offset=".67" stop-color="#57cc7a"/><stop offset="1" stop-color="#9dc943"/></linearGradient><linearGradient id="d138" gradientUnits="userSpaceOnUse" x1="118.7" y1="194.7" x2="119.6" y2="193"><stop stop-color="#f5e924"/><stop offset="1" stop-color="#f9fb15"/></linearGradient><linearGradient id="d139" gradientUnits="userSpaceOnUse" x1="137" y1="229.7" x2="142.9" y2="218"><stop stop-color="#01b8ca"/><stop offset=".33" stop-color="#31c69f"/><stop offset=".67" stop-color="#72cd64"/><stop offset="1" stop-color="#d1bf27"/></linearGradient><linearGradient id="d141" gradientUnits="userSpaceOnUse" x1="206.3" y1="195.9" x2="211.1" y2="198.4"><stop stop-color="#fccf30"/><stop offset="1" stop-color="#f6ef20"/></linearGradient><linearGradient id="d145" gradientUnits="userSpaceOnUse" x1="204.1" y1="203.2" x2="202.8" y2="200.4"><stop stop-color="#febe3c"/><stop offset="1" stop-color="#f5e924"/></linearGradient><linearGradient id="d146" gradientUnits="userSpaceOnUse" x1="173.2" y1="234.3" x2="170.3" y2="225.2"><stop stop-color="#08b5d0"/><stop offset=".50" stop-color="#31c69f"/><stop offset="1" stop-color="#81cc59"/></linearGradient><linearGradient id="d148" gradientUnits="userSpaceOnUse" x1="206.6" y1="195" x2="214.8" y2="197.4"><stop stop-color="#f5e924"/><stop offset="1" stop-color="#f9fb15"/></linearGradient><linearGradient id="d149" gradientUnits="userSpaceOnUse" x1="129.1" y1="211.1" x2="133.4" y2="203.8"><stop stop-color="#c5c22a"/><stop offset=".50" stop-color="#febe3c"/><stop offset="1" stop-color="#f5e327"/></linearGradient><linearGradient id="d150" gradientUnits="userSpaceOnUse" x1="197.9" y1="208.8" x2="195.8" y2="204.7"><stop stop-color="#d1bf27"/><stop offset=".50" stop-color="#febe3c"/><stop offset="1" stop-color="#f7dc2a"/></linearGradient><linearGradient id="d151" gradientUnits="userSpaceOnUse" x1="123.6" y1="198.1" x2="124.8" y2="196"><stop stop-color="#f5e327"/><stop offset="1" stop-color="#f9fb15"/></linearGradient><linearGradient id="d152" gradientUnits="userSpaceOnUse" x1="153.7" y1="241" x2="156.2" y2="225"><stop stop-color="#259be8"/><stop offset=".33" stop-color="#01b8ca"/><stop offset=".67" stop-color="#3fca8e"/><stop offset="1" stop-color="#9dc943"/></linearGradient><linearGradient id="d154" gradientUnits="userSpaceOnUse" x1="206.1" y1="200.1" x2="205.5" y2="198.7"><stop stop-color="#f7dc2a"/><stop offset="1" stop-color="#f7f51b"/></linearGradient><linearGradient id="d155" gradientUnits="userSpaceOnUse" x1="142.6" y1="231" x2="148" y2="218"><stop stop-color="#0bbdbd"/><stop offset=".33" stop-color="#3fca8e"/><stop offset=".67" stop-color="#9dc943"/><stop offset="1" stop-color="#e6bb2d"/></linearGradient><linearGradient id="d156" gradientUnits="userSpaceOnUse" x1="191.2" y1="215.2" x2="188.3" y2="208.9"><stop stop-color="#9dc943"/><stop offset=".50" stop-color="#e6bb2d"/><stop offset="1" stop-color="#fccf30"/></linearGradient><linearGradient id="d157" gradientUnits="userSpaceOnUse" x1="166.2" y1="236.2" x2="164.2" y2="223.9"><stop stop-color="#08b5d0"/><stop offset=".33" stop-color="#2cc4a7"/><stop offset=".67" stop-color="#64cd6f"/><stop offset="1" stop-color="#abc739"/></linearGradient><linearGradient id="d159" gradientUnits="userSpaceOnUse" x1="129" y1="201.5" x2="130.3" y2="199.1"><stop stop-color="#f5e327"/><stop offset="1" stop-color="#f9fb15"/></linearGradient><linearGradient id="d160" gradientUnits="userSpaceOnUse" x1="183.9" y1="220.4" x2="180.9" y2="212.8"><stop stop-color="#81cc59"/><stop offset=".50" stop-color="#d1bf27"/><stop offset="1" stop-color="#fec338"/></linearGradient><linearGradient id="d161" gradientUnits="userSpaceOnUse" x1="134.7" y1="214.5" x2="138.9" y2="206.8"><stop stop-color="#c5c22a"/><stop offset=".50" stop-color="#febe3c"/><stop offset="1" stop-color="#f5e327"/></linearGradient><linearGradient id="d162" gradientUnits="userSpaceOnUse" x1="199.8" y1="204.1" x2="198.7" y2="201.3"><stop stop-color="#fccf30"/><stop offset="1" stop-color="#f7f51b"/></linearGradient><linearGradient id="d163" gradientUnits="userSpaceOnUse" x1="200.6" y1="201" x2="200.3" y2="200.1"><stop stop-color="#f6ef20"/><stop offset="1" stop-color="#f9fb15"/></linearGradient><linearGradient id="d164" gradientUnits="userSpaceOnUse" x1="192.9" y1="208.2" x2="191.4" y2="204.2"><stop stop-color="#fec338"/><stop offset="1" stop-color="#f6ef20"/></linearGradient><linearGradient id="d165" gradientUnits="userSpaceOnUse" x1="176.4" y1="223.4" x2="174" y2="215.8"><stop stop-color="#81cc59"/><stop offset=".50" stop-color="#d1bf27"/><stop offset="1" stop-color="#febe3c"/></linearGradient><linearGradient id="d166" gradientUnits="userSpaceOnUse" x1="148.4" y1="228.9" x2="152.2" y2="216.8"><stop stop-color="#37c897"/><stop offset=".33" stop-color="#81cc59"/><stop offset=".67" stop-color="#d1bf27"/><stop offset="1" stop-color="#fec338"/></linearGradient><linearGradient id="d167" gradientUnits="userSpaceOnUse" x1="159.3" y1="232.8" x2="159.5" y2="219.6"><stop stop-color="#2cc4a7"/><stop offset=".33" stop-color="#64cd6f"/><stop offset=".67" stop-color="#b9c431"/><stop offset="1" stop-color="#f0ba36"/></linearGradient><linearGradient id="d168" gradientUnits="userSpaceOnUse" x1="134.6" y1="204.6" x2="135.9" y2="202.2"><stop stop-color="#f5e327"/><stop offset="1" stop-color="#f9fb15"/></linearGradient><linearGradient id="d169" gradientUnits="userSpaceOnUse" x1="140.2" y1="216.6" x2="144.1" y2="209"><stop stop-color="#d1bf27"/><stop offset=".50" stop-color="#fec338"/><stop offset="1" stop-color="#f5e924"/></linearGradient><linearGradient id="d170" gradientUnits="userSpaceOnUse" x1="193.5" y1="203.8" x2="193.1" y2="202.4"><stop stop-color="#f6ef20"/><stop offset="1" stop-color="#f9fb15"/></linearGradient><linearGradient id="d171" gradientUnits="userSpaceOnUse" x1="185.6" y1="211.9" x2="183.9" y2="207"><stop stop-color="#febe3c"/><stop offset="1" stop-color="#f6ef20"/></linearGradient><linearGradient id="d172" gradientUnits="userSpaceOnUse" x1="169.7" y1="225.2" x2="167.6" y2="216.3"><stop stop-color="#81cc59"/><stop offset=".50" stop-color="#d1bf27"/><stop offset="1" stop-color="#fec934"/></linearGradient><linearGradient id="d173" gradientUnits="userSpaceOnUse" x1="140" y1="207.5" x2="141.2" y2="205.2"><stop stop-color="#f5e327"/><stop offset="1" stop-color="#f9fb15"/></linearGradient><linearGradient id="d174" gradientUnits="userSpaceOnUse" x1="186.3" y1="206.4" x2="185.7" y2="204.8"><stop stop-color="#f6ef20"/><stop offset="1" stop-color="#f9fb15"/></linearGradient><linearGradient id="d175" gradientUnits="userSpaceOnUse" x1="178.4" y1="214.4" x2="176.8" y2="209.5"><stop stop-color="#febe3c"/><stop offset="1" stop-color="#f6ef20"/></linearGradient><linearGradient id="d176" gradientUnits="userSpaceOnUse" x1="153.8" y1="224.7" x2="155.7" y2="215.2"><stop stop-color="#9dc943"/><stop offset=".50" stop-color="#f0ba36"/><stop offset="1" stop-color="#fad62d"/></linearGradient><linearGradient id="d177" gradientUnits="userSpaceOnUse" x1="145.7" y1="217.1" x2="148.6" y2="210.6"><stop stop-color="#e6bb2d"/><stop offset=".50" stop-color="#fec934"/><stop offset="1" stop-color="#f6ef20"/></linearGradient><linearGradient id="d178" gradientUnits="userSpaceOnUse" x1="163.4" y1="224" x2="162.5" y2="215.2"><stop stop-color="#abc739"/><stop offset=".50" stop-color="#f8ba3d"/><stop offset="1" stop-color="#f7dc2a"/></linearGradient><linearGradient id="d179" gradientUnits="userSpaceOnUse" x1="179.1" y1="208.8" x2="178.6" y2="207.2"><stop stop-color="#f6ef20"/><stop offset="1" stop-color="#f9fb15"/></linearGradient><linearGradient id="d180" gradientUnits="userSpaceOnUse" x1="171.8" y1="216.4" x2="170.3" y2="211.3"><stop stop-color="#febe3c"/><stop offset="1" stop-color="#f6ef20"/></linearGradient><linearGradient id="d181" gradientUnits="userSpaceOnUse" x1="145.2" y1="209.7" x2="146.1" y2="208"><stop stop-color="#f5e924"/><stop offset="1" stop-color="#f9fb15"/></linearGradient><linearGradient id="d182" gradientUnits="userSpaceOnUse" x1="150.7" y1="216.4" x2="152.4" y2="211.8"><stop stop-color="#fec338"/><stop offset="1" stop-color="#f7f51b"/></linearGradient><linearGradient id="d183" gradientUnits="userSpaceOnUse" x1="158.2" y1="219.8" x2="158.4" y2="213.8"><stop stop-color="#f0ba36"/><stop offset=".50" stop-color="#fccf30"/><stop offset="1" stop-color="#f5e924"/></linearGradient><linearGradient id="d184" gradientUnits="userSpaceOnUse" x1="172.5" y1="210.9" x2="172" y2="209.3"><stop stop-color="#f6ef20"/><stop offset="1" stop-color="#f9fb15"/></linearGradient><linearGradient id="d185" gradientUnits="userSpaceOnUse" x1="165.9" y1="216.7" x2="164.9" y2="212.3"><stop stop-color="#fec934"/><stop offset="1" stop-color="#f7f51b"/></linearGradient><linearGradient id="d186" gradientUnits="userSpaceOnUse" x1="149.7" y1="211.4" x2="150.3" y2="210.3"><stop stop-color="#f6ef20"/><stop offset="1" stop-color="#f9fb15"/></linearGradient><linearGradient id="d187" gradientUnits="userSpaceOnUse" x1="154.8" y1="215.3" x2="155.4" y2="212.7"><stop stop-color="#fad62d"/><stop offset="1" stop-color="#f7f51b"/></linearGradient><linearGradient id="d188" gradientUnits="userSpaceOnUse" x1="166.8" y1="212.4" x2="166.4" y2="211.1"><stop stop-color="#f6ef20"/><stop offset="1" stop-color="#f9fb15"/></linearGradient><linearGradient id="d189" gradientUnits="userSpaceOnUse" x1="161" y1="215.7" x2="160.6" y2="212.9"><stop stop-color="#f7dc2a"/><stop offset="1" stop-color="#f7f51b"/></linearGradient><linearGradient id="d192" gradientUnits="userSpaceOnUse" x1="157.6" y1="214.5" x2="157.6" y2="213.1"><stop stop-color="#f5e924"/><stop offset="1" stop-color="#f9fb15"/></linearGradient></defs><g stroke-width="0.65" stroke-linejoin="round"><polygon points="172.5,165.1 173.3,164.8 172.7,164.4 171.9,164.7" fill="#f9fb15" stroke="#3182b0"/>
<polygon points="170.1,166 172.5,165.1 171.9,164.7 169.4,165.5" fill="#f9fb15" stroke="#3182b0"/>
<polygon points="174.4,166.3 175.2,165.8 173.3,164.8 172.5,165.1" fill="#f9fb15" stroke="#3182b0"/>
<polygon points="171.9,167.6 174.4,166.3 172.5,165.1 170.1,166" fill="#f9fb15" stroke="#3182b0"/>
<polygon points="166.2,167.5 170.1,166 169.4,165.5 165.5,166.7" fill="#f9fb15" stroke="#3182b0"/>
<polygon points="177.3,168.2 178.2,167.5 175.2,165.8 174.4,166.3" fill="#f9fb15" stroke="#3182b0"/>
<polygon points="168,169.8 171.9,167.6 170.1,166 166.2,167.5" fill="#f7f51b" stroke="#3181b1"/>
<polygon points="174.9,170.1 177.3,168.2 174.4,166.3 171.9,167.6" fill="#f7f51b" stroke="#3181b1"/>
<polygon points="161,169.6 166.2,167.5 165.5,166.7 160.3,168.4" fill="#f9fb15" stroke="#3182b0"/>
<polygon points="171,173.4 174.9,170.1 171.9,167.6 168,169.8" fill="url(#d9)" stroke="#317fb2"/>
<polygon points="162.8,172.9 168,169.8 166.2,167.5 161,169.6" fill="url(#d10)" stroke="#317fb2"/>
<polygon points="165.8,178 171,173.4 168,169.8 162.8,172.9" fill="url(#d11)" stroke="#307db3"/>
<polygon points="181.3,170.7 182.1,169.7 178.2,167.5 177.3,168.2" fill="#f9fb15" stroke="#3182b0"/>
<polygon points="178.9,173.4 181.3,170.7 177.3,168.2 174.9,170.1" fill="url(#d13)" stroke="#3181b1"/>
<polygon points="175,178 178.9,173.4 174.9,170.1 171,173.4" fill="url(#d14)" stroke="#307db3"/>
<polygon points="154.7,172 161,169.6 160.3,168.4 154.1,170.5" fill="#f7f51b" stroke="#3181b1"/>
<polygon points="156.6,176.5 162.8,172.9 161,169.6 154.7,172" fill="url(#d16)" stroke="#317fb2"/>
<polygon points="169.8,184.6 175,178 171,173.4 165.8,178" fill="url(#d17)" stroke="#3279b5"/>
<polygon points="159.6,183.6 165.8,178 162.8,172.9 156.6,176.5" fill="url(#d18)" stroke="#317ab5"/>
<polygon points="152,245.5 159.3,236.4 154,224.7 146.7,232.6" fill="url(#d19)" stroke="#0d63de"/>
<polygon points="159.3,236.4 166.6,223.4 161.3,213.6 154,224.7" fill="url(#d20)" stroke="#086ddb"/>
<polygon points="163.5,192.5 169.8,184.6 165.8,178 159.6,183.6" fill="url(#d21)" stroke="#3175b8"/>
<polygon points="154,224.7 161.3,213.6 156.6,201.6 149.3,210.3" fill="url(#d22)" stroke="#0075d3"/>
<polygon points="161.3,213.6 168.3,201.7 163.5,192.5 156.6,201.6" fill="url(#d23)" stroke="#0e78c6"/>
<polygon points="146.7,232.6 154,224.7 149.3,210.3 142,216.7" fill="url(#d24)" stroke="#0670d9"/>
<polygon points="156.6,201.6 163.5,192.5 159.6,183.6 152.6,190" fill="url(#d25)" stroke="#2477b5"/>
<polygon points="157.6,252.3 164.9,242.8 159.3,236.4 152,245.5" fill="url(#d26)" stroke="#0e5dd9"/>
<polygon points="168.3,201.7 174.5,191.5 169.8,184.6 163.5,192.5" fill="url(#d27)" stroke="#2477b5"/>
<polygon points="166.6,223.4 173.6,209.6 168.3,201.7 161.3,213.6" fill="url(#d28)" stroke="#0275d1"/>
<polygon points="152.6,190 159.6,183.6 156.6,176.5 149.6,180.7" fill="url(#d29)" stroke="#3277b7"/>
<polygon points="174.5,191.5 179.7,183 175,178 169.8,184.6" fill="url(#d30)" stroke="#3276b8"/>
<polygon points="186.1,173.6 186.9,172.4 182.1,169.7 181.3,170.7" fill="#f9fb15" stroke="#3182b0"/>
<polygon points="183.6,177.1 186.1,173.6 181.3,170.7 178.9,173.4" fill="url(#d32)" stroke="#317fb2"/>
<polygon points="179.7,183 183.6,177.1 178.9,173.4 175,178" fill="url(#d33)" stroke="#317cb4"/>
<polygon points="149.3,210.3 156.6,201.6 152.6,190 145.3,196.2" fill="url(#d34)" stroke="#1679c0"/>
<polygon points="145.1,247.2 152,245.5 146.7,232.6 139.8,234.5" fill="url(#d35)" stroke="#0e60dc"/>
<polygon points="164.9,242.8 172.2,229.1 166.6,223.4 159.3,236.4" fill="url(#d36)" stroke="#0b67de"/>
<polygon points="149.6,180.7 156.6,176.5 154.7,172 147.8,174.8" fill="url(#d37)" stroke="#307db3"/>
<polygon points="147.8,174.8 154.7,172 154.1,170.5 147.2,172.8" fill="url(#d38)" stroke="#3181b1"/>
<polygon points="150.6,254 157.6,252.3 152,245.5 145.1,247.2" fill="url(#d39)" stroke="#0d59d2"/>
<polygon points="173.6,209.6 179.8,197.7 174.5,191.5 168.3,201.7" fill="url(#d40)" stroke="#1679c0"/>
<polygon points="139.8,234.5 146.7,232.6 142,216.7 135,218.6" fill="url(#d41)" stroke="#076edb"/>
<polygon points="142,216.7 149.3,210.3 145.3,196.2 138,201" fill="url(#d42)" stroke="#0c78c8"/>
<polygon points="145.3,196.2 152.6,190 149.6,180.7 142.3,184.8" fill="url(#d43)" stroke="#2f75b6"/>
<polygon points="172.2,229.1 179.2,214.5 173.6,209.6 166.6,223.4" fill="url(#d44)" stroke="#0373d6"/>
<polygon points="179.8,197.7 185,187.7 179.7,183 174.5,191.5" fill="url(#d45)" stroke="#2d75b5"/>
<polygon points="142.3,184.8 149.6,180.7 147.8,174.8 140.5,177.6" fill="url(#d46)" stroke="#317cb4"/>
<polygon points="185,187.7 188.9,180.8 183.6,177.1 179.7,183" fill="url(#d47)" stroke="#3279b5"/>
<polygon points="188.9,180.8 191.4,176.8 186.1,173.6 183.6,177.1" fill="url(#d48)" stroke="#307eb3"/>
<polygon points="163.2,251.8 170.5,242.7 164.9,242.8 157.6,252.3" fill="url(#d49)" stroke="#0e5dd9"/>
<polygon points="140.5,177.6 147.8,174.8 147.2,172.8 139.8,175.2" fill="url(#d50)" stroke="#3181b1"/>
<polygon points="191.4,176.8 192.2,175.4 186.9,172.4 186.1,173.6" fill="#f7f51b" stroke="#3181b1"/>
<polygon points="138,201 145.3,196.2 142.3,184.8 135,188.3" fill="url(#d52)" stroke="#2976b3"/>
<polygon points="135,218.6 142,216.7 138,201 131.1,203.1" fill="url(#d53)" stroke="#0977cb"/>
<polygon points="179.2,214.5 185.4,202 179.8,197.7 173.6,209.6" fill="url(#d54)" stroke="#0e78c6"/>
<polygon points="170.5,242.7 177.8,229.7 172.2,229.1 164.9,242.8" fill="url(#d55)" stroke="#0b67de"/>
<polygon points="138.8,240.4 145.1,247.2 139.8,234.5 133.5,229.1" fill="url(#d56)" stroke="#0c66df"/>
<polygon points="156.2,253.5 163.2,251.8 157.6,252.3 150.6,254" fill="url(#d57)" stroke="#0d59d2"/>
<polygon points="185.4,202 190.6,191.5 185,187.7 179.8,197.7" fill="url(#d58)" stroke="#2976b3"/>
<polygon points="133.5,229.1 139.8,234.5 135,218.6 128.8,215.4" fill="url(#d59)" stroke="#0571d8"/>
<polygon points="135,188.3 142.3,184.8 140.5,177.6 133.2,180.3" fill="url(#d60)" stroke="#317ab5"/>
<polygon points="144.4,246.6 150.6,254 145.1,247.2 138.8,240.4" fill="url(#d61)" stroke="#0e5edb"/>
<polygon points="177.8,229.7 184.7,215.9 179.2,214.5 172.2,229.1" fill="url(#d62)" stroke="#0373d6"/>
<polygon points="131.1,203.1 138,201 135,188.3 128.1,190.5" fill="url(#d63)" stroke="#2976b3"/>
<polygon points="133.2,180.3 140.5,177.6 139.8,175.2 132.5,177.5" fill="url(#d64)" stroke="#3181b1"/>
<polygon points="190.6,191.5 194.5,184.3 188.9,180.8 185,187.7" fill="url(#d65)" stroke="#3278b6"/>
<polygon points="194.5,184.3 196.9,180 191.4,176.8 188.9,180.8" fill="url(#d66)" stroke="#307eb3"/>
<polygon points="196.9,180 197.8,178.6 192.2,175.4 191.4,176.8" fill="#f7f51b" stroke="#3181b1"/>
<polygon points="128.8,215.4 135,218.6 131.1,203.1 124.8,201.9" fill="url(#d68)" stroke="#0c78c8"/>
<polygon points="184.7,215.9 191,204 185.4,202 179.2,214.5" fill="url(#d69)" stroke="#0e78c6"/>
<polygon points="128.1,190.5 135,188.3 133.2,180.3 126.2,182.5" fill="url(#d70)" stroke="#317ab5"/>
<polygon points="126.2,182.5 133.2,180.3 132.5,177.5 125.6,179.8" fill="url(#d71)" stroke="#3181b1"/>
<polygon points="191,204 196.2,194 190.6,191.5 185.4,202" fill="url(#d72)" stroke="#2976b3"/>
<polygon points="124.8,201.9 131.1,203.1 128.1,190.5 121.8,191.1" fill="url(#d73)" stroke="#2b75b4"/>
<polygon points="150,246.7 156.2,253.5 150.6,254 144.4,246.6" fill="url(#d74)" stroke="#0e5edb"/>
<polygon points="168.5,244.9 175.8,237 170.5,242.7 163.2,251.8" fill="url(#d75)" stroke="#0d63de"/>
<polygon points="175.8,237 183.1,225.8 177.8,229.7 170.5,242.7" fill="url(#d76)" stroke="#086ddb"/>
<polygon points="196.2,194 200.1,187.1 194.5,184.3 190.6,191.5" fill="url(#d77)" stroke="#3278b6"/>
<polygon points="200.1,187.1 202.5,183.1 196.9,180 194.5,184.3" fill="url(#d78)" stroke="#307eb3"/>
<polygon points="121.8,191.1 128.1,190.5 126.2,182.5 120,184.2" fill="url(#d79)" stroke="#317ab5"/>
<polygon points="202.5,183.1 203.3,181.7 197.8,178.6 196.9,180" fill="#f7f51b" stroke="#3181b1"/>
<polygon points="128.3,217.3 133.5,229.1 128.8,215.4 123.6,207.4" fill="url(#d81)" stroke="#0877cd"/>
<polygon points="183.1,225.8 190,214 184.7,215.9 177.8,229.7" fill="url(#d82)" stroke="#0275d1"/>
<polygon points="133.6,225.7 138.8,240.4 133.5,229.1 128.3,217.3" fill="url(#d83)" stroke="#0472d7"/>
<polygon points="161.5,246.7 168.5,244.9 163.2,251.8 156.2,253.5" fill="url(#d84)" stroke="#0e60dc"/>
<polygon points="120,184.2 126.2,182.5 125.6,179.8 119.4,181.9" fill="url(#d85)" stroke="#3181b1"/>
<polygon points="123.6,207.4 128.8,215.4 124.8,201.9 119.6,197.8" fill="url(#d86)" stroke="#1f78b9"/>
<polygon points="190,214 196.3,203.8 191,204 184.7,215.9" fill="url(#d87)" stroke="#1679c0"/>
<polygon points="119.6,197.8 124.8,201.9 121.8,191.1 116.6,190.1" fill="url(#d88)" stroke="#3175b8"/>
<polygon points="139.2,230.9 144.4,246.6 138.8,240.4 133.6,225.7" fill="url(#d89)" stroke="#076edb"/>
<polygon points="196.3,203.8 201.5,195.3 196.2,194 191,204" fill="url(#d90)" stroke="#2d75b5"/>
<polygon points="116.6,190.1 121.8,191.1 120,184.2 114.8,185.2" fill="url(#d91)" stroke="#307db3"/>
<polygon points="114.8,185.2 120,184.2 119.4,181.9 114.2,183.6" fill="url(#d92)" stroke="#3181b1"/>
<polygon points="201.5,195.3 205.4,189.4 200.1,187.1 196.2,194" fill="url(#d93)" stroke="#3279b5"/>
<polygon points="205.4,189.4 207.8,185.9 202.5,183.1 200.1,187.1" fill="url(#d94)" stroke="#307eb3"/>
<polygon points="207.8,185.9 208.6,184.7 203.3,181.7 202.5,183.1" fill="#f7f51b" stroke="#3181b1"/>
<polygon points="155.3,241.4 161.5,246.7 156.2,253.5 150,246.7" fill="url(#d96)" stroke="#0c66df"/>
<polygon points="110.9,185.8 114.8,185.2 114.2,183.6 110.3,184.8" fill="#f7f51b" stroke="#3181b1"/>
<polygon points="112.7,188.7 116.6,190.1 114.8,185.2 110.9,185.8" fill="url(#d98)" stroke="#317fb2"/>
<polygon points="115.7,193.2 119.6,197.8 116.6,190.1 112.7,188.7" fill="url(#d99)" stroke="#317ab5"/>
<polygon points="119.7,199 123.6,207.4 119.6,197.8 115.7,193.2" fill="url(#d100)" stroke="#3175b8"/>
<polygon points="180.5,227.9 187.8,219.3 183.1,225.8 175.8,237" fill="url(#d101)" stroke="#0075d3"/>
<polygon points="144.8,232 150,246.7 144.4,246.6 139.2,230.9" fill="url(#d102)" stroke="#076edb"/>
<polygon points="187.8,219.3 194.8,210.1 190,214 183.1,225.8" fill="url(#d103)" stroke="#0e78c6"/>
<polygon points="108.5,186.1 110.9,185.8 110.3,184.8 107.8,185.6" fill="#f9fb15" stroke="#3182b0"/>
<polygon points="173.2,234.3 180.5,227.9 175.8,237 168.5,244.9" fill="url(#d105)" stroke="#0670d9"/>
<polygon points="124.4,205.1 128.3,217.3 123.6,207.4 119.7,199" fill="url(#d106)" stroke="#2477b5"/>
<polygon points="194.8,210.1 201,202.2 196.3,203.8 190,214" fill="url(#d107)" stroke="#2477b5"/>
<polygon points="110.3,187.6 112.7,188.7 110.9,185.8 108.5,186.1" fill="url(#d108)" stroke="#3181b1"/>
<polygon points="201,202.2 206.2,195.6 201.5,195.3 196.3,203.8" fill="url(#d109)" stroke="#3276b8"/>
<polygon points="107.6,186.3 108.5,186.1 107.8,185.6 107,185.9" fill="#f9fb15" stroke="#3182b0"/>
<polygon points="212.5,188.3 213.4,187.4 208.6,184.7 207.8,185.9" fill="#f9fb15" stroke="#3182b0"/>
<polygon points="210.1,191 212.5,188.3 207.8,185.9 205.4,189.4" fill="url(#d112)" stroke="#317fb2"/>
<polygon points="206.2,195.6 210.1,191 205.4,189.4 201.5,195.3" fill="url(#d113)" stroke="#317cb4"/>
<polygon points="109.5,187.3 110.3,187.6 108.5,186.1 107.6,186.3" fill="#f9fb15" stroke="#3182b0"/>
<polygon points="113.3,190 115.7,193.2 112.7,188.7 110.3,187.6" fill="url(#d115)" stroke="#307eb3"/>
<polygon points="129.7,210.7 133.6,225.7 128.3,217.3 124.4,205.1" fill="url(#d116)" stroke="#1679c0"/>
<polygon points="166.3,236.3 173.2,234.3 168.5,244.9 161.5,246.7" fill="url(#d117)" stroke="#076edb"/>
<polygon points="112.5,189 113.3,190 110.3,187.6 109.5,187.3" fill="#f7f51b" stroke="#3181b1"/>
<polygon points="117.3,193.1 119.7,199 115.7,193.2 113.3,190" fill="url(#d119)" stroke="#317cb4"/>
<polygon points="216.5,190.3 217.3,189.6 213.4,187.4 212.5,188.3" fill="#f9fb15" stroke="#3182b0"/>
<polygon points="214.1,192.2 216.5,190.3 212.5,188.3 210.1,191" fill="url(#d121)" stroke="#3181b1"/>
<polygon points="135.3,214.8 139.2,230.9 133.6,225.7 129.7,210.7" fill="url(#d122)" stroke="#0e78c6"/>
<polygon points="210.2,195.5 214.1,192.2 210.1,191 206.2,195.6" fill="url(#d123)" stroke="#307db3"/>
<polygon points="205,200.2 210.2,195.5 206.2,195.6 201,202.2" fill="url(#d124)" stroke="#3279b5"/>
<polygon points="150.1,229.6 155.3,241.4 150,246.7 144.8,232" fill="url(#d125)" stroke="#0472d7"/>
<polygon points="116.4,191.2 117.3,193.1 113.3,190 112.5,189" fill="url(#d126)" stroke="#3181b1"/>
<polygon points="122,196.7 124.4,205.1 119.7,199 117.3,193.1" fill="url(#d127)" stroke="#3279b5"/>
<polygon points="198.7,205.7 205,200.2 201,202.2 194.8,210.1" fill="url(#d128)" stroke="#3175b8"/>
<polygon points="160,233 166.3,236.3 161.5,246.7 155.3,241.4" fill="url(#d129)" stroke="#0571d8"/>
<polygon points="191.8,212.2 198.7,205.7 194.8,210.1 187.8,219.3" fill="url(#d130)" stroke="#2477b5"/>
<polygon points="219.5,191.8 220.3,191.3 217.3,189.6 216.5,190.3" fill="#f9fb15" stroke="#3182b0"/>
<polygon points="217.1,193.1 219.5,191.8 216.5,190.3 214.1,192.2" fill="#f7f51b" stroke="#3181b1"/>
<polygon points="184.5,218.3 191.8,212.2 187.8,219.3 180.5,227.9" fill="url(#d133)" stroke="#1679c0"/>
<polygon points="213.2,195.3 217.1,193.1 214.1,192.2 210.2,195.5" fill="url(#d134)" stroke="#317fb2"/>
<polygon points="221.3,192.7 222.2,192.3 220.3,191.3 219.5,191.8" fill="#f9fb15" stroke="#3182b0"/>
<polygon points="127.3,200.3 129.7,210.7 124.4,205.1 122,196.7" fill="url(#d136)" stroke="#3277b7"/>
<polygon points="177.2,223.1 184.5,218.3 180.5,227.9 173.2,234.3" fill="url(#d137)" stroke="#0c78c8"/>
<polygon points="121.2,193.9 122,196.7 117.3,193.1 116.4,191.2" fill="url(#d138)" stroke="#3181b1"/>
<polygon points="140.9,217 144.8,232 139.2,230.9 135.3,214.8" fill="url(#d139)" stroke="#0e78c6"/>
<polygon points="218.9,193.6 221.3,192.7 219.5,191.8 217.1,193.1" fill="#f9fb15" stroke="#3182b0"/>
<polygon points="208,198.3 213.2,195.3 210.2,195.5 205,200.2" fill="url(#d141)" stroke="#307db3"/>
<polygon points="222,193 222.8,192.7 222.2,192.3 221.3,192.7" fill="#f9fb15" stroke="#3182b0"/>
<polygon points="219.5,193.8 222,193 221.3,192.7 218.9,193.6" fill="#f9fb15" stroke="#3182b0"/>
<polygon points="215,195.1 218.9,193.6 217.1,193.1 213.2,195.3" fill="#f7f51b" stroke="#3181b1"/>
<polygon points="201.7,202 208,198.3 205,200.2 198.7,205.7" fill="url(#d145)" stroke="#317ab5"/>
<polygon points="170.2,225.2 177.2,223.1 173.2,234.3 166.3,236.3" fill="url(#d146)" stroke="#0977cb"/>
<polygon points="215.6,195 219.5,193.8 218.9,193.6 215,195.1" fill="#f9fb15" stroke="#3182b0"/>
<polygon points="209.8,197.2 215,195.1 213.2,195.3 208,198.3" fill="url(#d148)" stroke="#317fb2"/>
<polygon points="132.9,203.7 135.3,214.8 129.7,210.7 127.3,200.3" fill="url(#d149)" stroke="#3276b8"/>
<polygon points="194.8,206.2 201.7,202 198.7,205.7 191.8,212.2" fill="url(#d150)" stroke="#3277b7"/>
<polygon points="126.5,196.9 127.3,200.3 122,196.7 121.2,193.9" fill="url(#d151)" stroke="#317fb2"/>
<polygon points="154.8,225 160,233 155.3,241.4 150.1,229.6" fill="url(#d152)" stroke="#0877cd"/>
<polygon points="210.4,196.7 215.6,195 215,195.1 209.8,197.2" fill="#f9fb15" stroke="#3182b0"/>
<polygon points="203.6,199.6 209.8,197.2 208,198.3 201.7,202" fill="url(#d154)" stroke="#317fb2"/>
<polygon points="146.2,217.4 150.1,229.6 144.8,232 140.9,217" fill="url(#d155)" stroke="#1679c0"/>
<polygon points="187.5,210.3 194.8,206.2 191.8,212.2 184.5,218.3" fill="url(#d156)" stroke="#2f75b6"/>
<polygon points="164,224.1 170.2,225.2 166.3,236.3 160,233" fill="url(#d157)" stroke="#0c78c8"/>
<polygon points="204.2,198.8 210.4,196.7 209.8,197.2 203.6,199.6" fill="#f7f51b" stroke="#3181b1"/>
<polygon points="132.1,200.1 132.9,203.7 127.3,200.3 126.5,196.9" fill="url(#d159)" stroke="#317fb2"/>
<polygon points="180.2,213.8 187.5,210.3 184.5,218.3 177.2,223.1" fill="url(#d160)" stroke="#2976b3"/>
<polygon points="138.4,206.6 140.9,217 135.3,214.8 132.9,203.7" fill="url(#d161)" stroke="#3276b8"/>
<polygon points="196.6,202.4 203.6,199.6 201.7,202 194.8,206.2" fill="url(#d162)" stroke="#307db3"/>
<polygon points="197.3,201.1 204.2,198.8 203.6,199.6 196.6,202.4" fill="url(#d163)" stroke="#3181b1"/>
<polygon points="189.3,205.2 196.6,202.4 194.8,206.2 187.5,210.3" fill="url(#d164)" stroke="#317cb4"/>
<polygon points="173.2,216 180.2,213.8 177.2,223.1 170.2,225.2" fill="url(#d165)" stroke="#2976b3"/>
<polygon points="150.9,216.6 154.8,225 150.1,229.6 146.2,217.4" fill="url(#d166)" stroke="#2477b5"/>
<polygon points="158.8,219.9 164,224.1 160,233 154.8,225" fill="url(#d167)" stroke="#1f78b9"/>
<polygon points="137.6,203.2 138.4,206.6 132.9,203.7 132.1,200.1" fill="url(#d168)" stroke="#317fb2"/>
<polygon points="143.7,209 146.2,217.4 140.9,217 138.4,206.6" fill="url(#d169)" stroke="#3277b7"/>
<polygon points="189.9,203.5 197.3,201.1 196.6,202.4 189.3,205.2" fill="url(#d170)" stroke="#3181b1"/>
<polygon points="182,207.9 189.3,205.2 187.5,210.3 180.2,213.8" fill="url(#d171)" stroke="#317ab5"/>
<polygon points="167,216.6 173.2,216 170.2,225.2 164,224.1" fill="url(#d172)" stroke="#2b75b4"/>
<polygon points="142.9,206.2 143.7,209 138.4,206.6 137.6,203.2" fill="url(#d173)" stroke="#317fb2"/>
<polygon points="182.6,205.8 189.9,203.5 189.3,205.2 182,207.9" fill="url(#d174)" stroke="#3181b1"/>
<polygon points="175.1,210.1 182,207.9 180.2,213.8 173.2,216" fill="url(#d175)" stroke="#317ab5"/>
<polygon points="154.9,215.4 158.8,219.9 154.8,225 150.9,216.6" fill="url(#d176)" stroke="#3175b8"/>
<polygon points="148.5,210.8 150.9,216.6 146.2,217.4 143.7,209" fill="url(#d177)" stroke="#3279b5"/>
<polygon points="161.8,215.6 167,216.6 164,224.1 158.8,219.9" fill="url(#d178)" stroke="#3175b8"/>
<polygon points="175.7,208.1 182.6,205.8 182,207.9 175.1,210.1" fill="url(#d179)" stroke="#3181b1"/>
<polygon points="168.8,211.8 175.1,210.1 173.2,216 167,216.6" fill="url(#d180)" stroke="#317ab5"/>
<polygon points="147.7,208.9 148.5,210.8 143.7,209 142.9,206.2" fill="url(#d181)" stroke="#3181b1"/>
<polygon points="152.5,212.2 154.9,215.4 150.9,216.6 148.5,210.8" fill="url(#d182)" stroke="#317cb4"/>
<polygon points="157.9,214.2 161.8,215.6 158.8,219.9 154.9,215.4" fill="url(#d183)" stroke="#317ab5"/>
<polygon points="169.5,210.2 175.7,208.1 175.1,210.1 168.8,211.8" fill="url(#d184)" stroke="#3181b1"/>
<polygon points="163.6,212.8 168.8,211.8 167,216.6 161.8,215.6" fill="url(#d185)" stroke="#307db3"/>
<polygon points="151.6,211.1 152.5,212.2 148.5,210.8 147.7,208.9" fill="url(#d186)" stroke="#3181b1"/>
<polygon points="155.4,213.1 157.9,214.2 154.9,215.4 152.5,212.2" fill="url(#d187)" stroke="#307eb3"/>
<polygon points="164.3,211.9 169.5,210.2 168.8,211.8 163.6,212.8" fill="url(#d188)" stroke="#3181b1"/>
<polygon points="159.7,213.4 163.6,212.8 161.8,215.6 157.9,214.2" fill="url(#d189)" stroke="#317fb2"/>
<polygon points="154.6,212.8 155.4,213.1 152.5,212.2 151.6,211.1" fill="#f7f51b" stroke="#3181b1"/>
<polygon points="160.4,213.1 164.3,211.9 163.6,212.8 159.7,213.4" fill="#f7f51b" stroke="#3181b1"/>
<polygon points="157.3,213.7 159.7,213.4 157.9,214.2 155.4,213.1" fill="url(#d192)" stroke="#3181b1"/>
<polygon points="156.5,213.8 157.3,213.7 155.4,213.1 154.6,212.8" fill="#f9fb15" stroke="#3182b0"/>
<polygon points="157.9,213.9 160.4,213.1 159.7,213.4 157.3,213.7" fill="#f9fb15" stroke="#3182b0"/>
<polygon points="157.1,214.2 157.9,213.9 157.3,213.7 156.5,213.8" fill="#f9fb15" stroke="#3182b0"/></g>
<text transform="translate(103.80,247.14) scale(1,0.868)" font-size="7.2" text-anchor="end" fill="#3a3a3a" stroke="#3a3a3a" stroke-width="0.12">-1.5</text>
<text transform="translate(103.80,227.28) scale(1,0.868)" font-size="7.2" text-anchor="end" fill="#3a3a3a" stroke="#3a3a3a" stroke-width="0.12">-1</text>
<text transform="translate(103.80,207.41) scale(1,0.868)" font-size="7.2" text-anchor="end" fill="#3a3a3a" stroke="#3a3a3a" stroke-width="0.12">-0.5</text>
<text transform="translate(103.80,187.55) scale(1,0.868)" font-size="7.2" text-anchor="end" fill="#3a3a3a" stroke="#3a3a3a" stroke-width="0.12">0</text>
<text transform="translate(152.50,284.17) scale(1,0.868)" font-size="7.3" text-anchor="end" fill="#3a3a3a" stroke="#3a3a3a" stroke-width="0.12">0</text>
<text transform="translate(127.45,270.02) scale(1,0.868)" font-size="7.3" text-anchor="end" fill="#3a3a3a" stroke="#3a3a3a" stroke-width="0.12">0.5</text>
<text transform="translate(102.40,255.87) scale(1,0.868)" font-size="7.3" text-anchor="end" fill="#3a3a3a" stroke="#3a3a3a" stroke-width="0.12">1</text>
<text transform="translate(160.50,284.78) scale(1,0.868)" font-size="7.3" text-anchor="start" fill="#3a3a3a" stroke="#3a3a3a" stroke-width="0.12">0</text>
<text transform="translate(193.35,274.03) scale(1,0.868)" font-size="7.3" text-anchor="start" fill="#3a3a3a" stroke="#3a3a3a" stroke-width="0.12">0.5</text>
<text transform="translate(226.20,263.28) scale(1,0.868)" font-size="7.3" text-anchor="start" fill="#3a3a3a" stroke="#3a3a3a" stroke-width="0.12">1</text>
<text transform="translate(119.55,286.08) scale(1,0.868)" font-size="7.7" text-anchor="middle" fill="#3a3a3a" stroke="#3a3a3a" stroke-width="0.12">y/b</text>
<text transform="translate(198.35,286.53) scale(1,0.868)" font-size="7.7" text-anchor="middle" fill="#3a3a3a" stroke="#3a3a3a" stroke-width="0.12">x/a</text>
<text transform="translate(86.40,176.96) scale(1,0.868)" fill="#4a4a4a" font-size="7.2">&#215;10<tspan font-size="5.2" dy="-3.2">-5</tspan></text>
<g transform="translate(86.00,216.85) scale(1,0.868) rotate(-90) scale(1.3,1)" fill="#333" font-family="Liberation Serif, serif"><text x="-4.25" y="0" font-size="10" font-style="italic">u</text><text x="0.75" y="1.8" font-size="7">0</text><line x1="-3.9" y1="-6.0" x2="0.4" y2="-6.0" stroke="#262626" stroke-width="0.6"/></g>
<line x1="266.30" y1="247.50" x2="331.70" y2="226.30" stroke="#e2e2e2" stroke-width="0.5"/>
<line x1="331.70" y1="226.30" x2="381.10" y2="254.60" stroke="#e2e2e2" stroke-width="0.5"/>
<line x1="266.30" y1="232.35" x2="331.70" y2="211.15" stroke="#e2e2e2" stroke-width="0.5"/>
<line x1="331.70" y1="211.15" x2="381.10" y2="239.45" stroke="#e2e2e2" stroke-width="0.5"/>
<line x1="266.30" y1="217.20" x2="331.70" y2="196.00" stroke="#e2e2e2" stroke-width="0.5"/>
<line x1="331.70" y1="196.00" x2="381.10" y2="224.30" stroke="#e2e2e2" stroke-width="0.5"/>
<line x1="266.30" y1="202.05" x2="331.70" y2="180.85" stroke="#e2e2e2" stroke-width="0.5"/>
<line x1="331.70" y1="180.85" x2="381.10" y2="209.15" stroke="#e2e2e2" stroke-width="0.5"/>
<line x1="266.30" y1="186.90" x2="331.70" y2="165.70" stroke="#e2e2e2" stroke-width="0.5"/>
<line x1="331.70" y1="165.70" x2="381.10" y2="194.00" stroke="#e2e2e2" stroke-width="0.5"/>
<line x1="266.30" y1="247.50" x2="266.30" y2="186.90" stroke="#e2e2e2" stroke-width="0.5"/>
<line x1="381.10" y1="254.60" x2="381.10" y2="194.00" stroke="#e2e2e2" stroke-width="0.5"/>
<line x1="315.70" y1="275.80" x2="266.30" y2="247.50" stroke="#e2e2e2" stroke-width="0.5"/>
<line x1="315.70" y1="275.80" x2="381.10" y2="254.60" stroke="#e2e2e2" stroke-width="0.5"/>
<line x1="299.00" y1="236.90" x2="299.00" y2="176.30" stroke="#e2e2e2" stroke-width="0.5"/>
<line x1="356.40" y1="240.45" x2="356.40" y2="179.85" stroke="#e2e2e2" stroke-width="0.5"/>
<line x1="348.40" y1="265.20" x2="299.00" y2="236.90" stroke="#e2e2e2" stroke-width="0.5"/>
<line x1="291.00" y1="261.65" x2="356.40" y2="240.45" stroke="#e2e2e2" stroke-width="0.5"/>
<line x1="331.70" y1="226.30" x2="331.70" y2="165.70" stroke="#e2e2e2" stroke-width="0.5"/>
<line x1="331.70" y1="226.30" x2="331.70" y2="165.70" stroke="#e2e2e2" stroke-width="0.5"/>
<line x1="381.10" y1="254.60" x2="331.70" y2="226.30" stroke="#e2e2e2" stroke-width="0.5"/>
<line x1="266.30" y1="247.50" x2="331.70" y2="226.30" stroke="#e2e2e2" stroke-width="0.5"/>
<line x1="315.70" y1="275.80" x2="381.10" y2="254.60" stroke="#4a4a4a" stroke-width="0.7"/>
<line x1="315.70" y1="275.80" x2="266.30" y2="247.50" stroke="#4a4a4a" stroke-width="0.7"/>
<line x1="266.30" y1="247.50" x2="266.30" y2="186.90" stroke="#4a4a4a" stroke-width="0.7"/>
<line x1="315.70" y1="275.80" x2="314.71" y2="275.23" stroke="#4a4a4a" stroke-width="0.7"/>
<line x1="315.70" y1="275.80" x2="317.01" y2="275.38" stroke="#4a4a4a" stroke-width="0.7"/>
<line x1="348.40" y1="265.20" x2="347.41" y2="264.63" stroke="#4a4a4a" stroke-width="0.7"/>
<line x1="291.00" y1="261.65" x2="292.31" y2="261.23" stroke="#4a4a4a" stroke-width="0.7"/>
<line x1="381.10" y1="254.60" x2="380.11" y2="254.03" stroke="#4a4a4a" stroke-width="0.7"/>
<line x1="266.30" y1="247.50" x2="267.61" y2="247.08" stroke="#4a4a4a" stroke-width="0.7"/>
<line x1="266.30" y1="247.50" x2="267.61" y2="247.08" stroke="#4a4a4a" stroke-width="0.7"/>
<line x1="266.30" y1="232.35" x2="267.61" y2="231.93" stroke="#4a4a4a" stroke-width="0.7"/>
<line x1="266.30" y1="217.20" x2="267.61" y2="216.78" stroke="#4a4a4a" stroke-width="0.7"/>
<line x1="266.30" y1="202.05" x2="267.61" y2="201.63" stroke="#4a4a4a" stroke-width="0.7"/>
<line x1="266.30" y1="186.90" x2="267.61" y2="186.48" stroke="#4a4a4a" stroke-width="0.7"/>
<defs><linearGradient id="e7" gradientUnits="userSpaceOnUse" x1="333" y1="201.5" x2="333.9" y2="198.3"><stop stop-color="#02bac3"/><stop offset="1" stop-color="#19bfb6"/></linearGradient><linearGradient id="e9" gradientUnits="userSpaceOnUse" x1="330.4" y1="204.1" x2="330.5" y2="199.4"><stop stop-color="#01b8ca"/><stop offset="1" stop-color="#0bbdbd"/></linearGradient><linearGradient id="e12" gradientUnits="userSpaceOnUse" x1="336.2" y1="203.8" x2="337.6" y2="200.4"><stop stop-color="#01b8ca"/><stop offset="1" stop-color="#19bfb6"/></linearGradient><linearGradient id="e13" gradientUnits="userSpaceOnUse" x1="326.4" y1="205.6" x2="325.4" y2="201.4"><stop stop-color="#08b5d0"/><stop offset="1" stop-color="#02bac3"/></linearGradient><linearGradient id="e14" gradientUnits="userSpaceOnUse" x1="333.2" y1="207.3" x2="334.4" y2="201.8"><stop stop-color="#12b1d6"/><stop offset="1" stop-color="#02bac3"/></linearGradient><linearGradient id="e17" gradientUnits="userSpaceOnUse" x1="329.7" y1="209.4" x2="329" y2="204.1"><stop stop-color="#12b1d6"/><stop offset="1" stop-color="#01b8ca"/></linearGradient><linearGradient id="e18" gradientUnits="userSpaceOnUse" x1="320.8" y1="207.2" x2="319.6" y2="203.5"><stop stop-color="#08b5d0"/><stop offset="1" stop-color="#02bac3"/></linearGradient><linearGradient id="e20" gradientUnits="userSpaceOnUse" x1="340.5" y1="206.1" x2="342.1" y2="203.2"><stop stop-color="#01b8ca"/><stop offset="1" stop-color="#0bbdbd"/></linearGradient><linearGradient id="e22" gradientUnits="userSpaceOnUse" x1="337" y1="209.4" x2="339.2" y2="205.2"><stop stop-color="#12b1d6"/><stop offset="1" stop-color="#01b8ca"/></linearGradient><linearGradient id="e24" gradientUnits="userSpaceOnUse" x1="324.3" y1="211" x2="322.9" y2="206.5"><stop stop-color="#18addb"/><stop offset="1" stop-color="#08b5d0"/></linearGradient><linearGradient id="e26" gradientUnits="userSpaceOnUse" x1="314.3" y1="209.4" x2="313" y2="205.6"><stop stop-color="#08b5d0"/><stop offset="1" stop-color="#02bac3"/></linearGradient><linearGradient id="e29" gradientUnits="userSpaceOnUse" x1="344.9" y1="209.2" x2="347.3" y2="205.8"><stop stop-color="#01b8ca"/><stop offset="1" stop-color="#19bfb6"/></linearGradient><linearGradient id="e31" gradientUnits="userSpaceOnUse" x1="317.8" y1="213.1" x2="316.4" y2="208.7"><stop stop-color="#18addb"/><stop offset="1" stop-color="#08b5d0"/></linearGradient><linearGradient id="e33" gradientUnits="userSpaceOnUse" x1="339.4" y1="212.1" x2="346.1" y2="207.7"><stop stop-color="#12b1d6"/><stop offset="1" stop-color="#02bac3"/></linearGradient><linearGradient id="e34" gradientUnits="userSpaceOnUse" x1="307.2" y1="211.7" x2="306" y2="207.9"><stop stop-color="#08b5d0"/><stop offset="1" stop-color="#02bac3"/></linearGradient><linearGradient id="e35" gradientUnits="userSpaceOnUse" x1="336.7" y1="209.6" x2="340.3" y2="214.3"><stop stop-color="#18addb"/><stop offset="1" stop-color="#01b8ca"/></linearGradient><linearGradient id="e39" gradientUnits="userSpaceOnUse" x1="310.7" y1="215.4" x2="309.3" y2="211"><stop stop-color="#18addb"/><stop offset="1" stop-color="#08b5d0"/></linearGradient><linearGradient id="e41" gradientUnits="userSpaceOnUse" x1="348.1" y1="211.8" x2="353.2" y2="208.7"><stop stop-color="#02bac3"/><stop offset="1" stop-color="#19bfb6"/></linearGradient><linearGradient id="e42" gradientUnits="userSpaceOnUse" x1="332.4" y1="212.6" x2="333.4" y2="215.6"><stop stop-color="#18addb"/><stop offset="1" stop-color="#08b5d0"/></linearGradient><linearGradient id="e43" gradientUnits="userSpaceOnUse" x1="299.9" y1="214.3" x2="298.7" y2="210.2"><stop stop-color="#08b5d0"/><stop offset="1" stop-color="#02bac3"/></linearGradient><linearGradient id="e44" gradientUnits="userSpaceOnUse" x1="345.1" y1="208.6" x2="350.6" y2="212.9"><stop stop-color="#01b8ca"/><stop offset="1" stop-color="#19bfb6"/></linearGradient><linearGradient id="e47" gradientUnits="userSpaceOnUse" x1="290.3" y1="213.5" x2="289.4" y2="210.6"><stop stop-color="#02bac3"/><stop offset="1" stop-color="#0bbdbd"/></linearGradient><linearGradient id="e48" gradientUnits="userSpaceOnUse" x1="303.4" y1="218.2" x2="302.1" y2="213.2"><stop stop-color="#18addb"/><stop offset="1" stop-color="#08b5d0"/></linearGradient><linearGradient id="e49" gradientUnits="userSpaceOnUse" x1="343.4" y1="211.8" x2="344.4" y2="214.2"><stop stop-color="#08b5d0"/><stop offset="1" stop-color="#19bfb6"/></linearGradient><linearGradient id="e50" gradientUnits="userSpaceOnUse" x1="325.8" y1="214.8" x2="326.8" y2="217.8"><stop stop-color="#18addb"/><stop offset="1" stop-color="#08b5d0"/></linearGradient><linearGradient id="e51" gradientUnits="userSpaceOnUse" x1="292.8" y1="217.3" x2="291.6" y2="212.5"><stop stop-color="#12b1d6"/><stop offset="1" stop-color="#02bac3"/></linearGradient><linearGradient id="e52" gradientUnits="userSpaceOnUse" x1="358.6" y1="211.6" x2="359.3" y2="210.2"><stop stop-color="#19bfb6"/><stop offset="1" stop-color="#31c69f"/></linearGradient><linearGradient id="e54" gradientUnits="userSpaceOnUse" x1="283.8" y1="216.9" x2="282.8" y2="212.8"><stop stop-color="#08b5d0"/><stop offset="1" stop-color="#0bbdbd"/></linearGradient><linearGradient id="e55" gradientUnits="userSpaceOnUse" x1="296.1" y1="221.6" x2="295.2" y2="215.5"><stop stop-color="#1ca9df"/><stop offset="1" stop-color="#08b5d0"/></linearGradient><linearGradient id="e57" gradientUnits="userSpaceOnUse" x1="337.9" y1="214.1" x2="338.5" y2="215.9"><stop stop-color="#08b5d0"/><stop offset="1" stop-color="#19bfb6"/></linearGradient><linearGradient id="e58" gradientUnits="userSpaceOnUse" x1="356.6" y1="211.6" x2="358.3" y2="205.4"><stop stop-color="#19bfb6"/><stop offset=".50" stop-color="#4acb84"/><stop offset="1" stop-color="#8fcb4e"/></linearGradient><linearGradient id="e59" gradientUnits="userSpaceOnUse" x1="286.1" y1="222" x2="285.3" y2="214.8"><stop stop-color="#20a5e3"/><stop offset="1" stop-color="#02bac3"/></linearGradient><linearGradient id="e60" gradientUnits="userSpaceOnUse" x1="318.8" y1="217.2" x2="319.7" y2="220"><stop stop-color="#18addb"/><stop offset="1" stop-color="#08b5d0"/></linearGradient><linearGradient id="e61" gradientUnits="userSpaceOnUse" x1="276.7" y1="215.9" x2="276.1" y2="214"><stop stop-color="#02bac3"/><stop offset="1" stop-color="#19bfb6"/></linearGradient><linearGradient id="e62" gradientUnits="userSpaceOnUse" x1="278.3" y1="221.1" x2="277.1" y2="214.9"><stop stop-color="#1ca9df"/><stop offset="1" stop-color="#0bbdbd"/></linearGradient><linearGradient id="e63" gradientUnits="userSpaceOnUse" x1="277.7" y1="244.5" x2="279.8" y2="228.9"><stop stop-color="#422ec0"/><stop offset=".33" stop-color="#4747eb"/><stop offset=".67" stop-color="#4269fe"/><stop offset="1" stop-color="#2e87f7"/></linearGradient><linearGradient id="e64" gradientUnits="userSpaceOnUse" x1="280.2" y1="228.7" x2="279.8" y2="217.7"><stop stop-color="#2e87f7"/><stop offset=".50" stop-color="#23a0e5"/><stop offset="1" stop-color="#08b5d0"/></linearGradient><linearGradient id="e65" gradientUnits="userSpaceOnUse" x1="275.8" y1="235.1" x2="275.1" y2="221.7"><stop stop-color="#465efb"/><stop offset=".50" stop-color="#2e87f7"/><stop offset="1" stop-color="#1ca9df"/></linearGradient><linearGradient id="e66" gradientUnits="userSpaceOnUse" x1="288.7" y1="227.2" x2="289.3" y2="218"><stop stop-color="#2797eb"/><stop offset="1" stop-color="#12b1d6"/></linearGradient><linearGradient id="e67" gradientUnits="userSpaceOnUse" x1="282.2" y1="235.8" x2="284.3" y2="222.4"><stop stop-color="#4563fd"/><stop offset=".50" stop-color="#2e87f7"/><stop offset="1" stop-color="#20a5e3"/></linearGradient><linearGradient id="e69" gradientUnits="userSpaceOnUse" x1="273.9" y1="224.9" x2="272.3" y2="217.1"><stop stop-color="#259be8"/><stop offset=".50" stop-color="#18addb"/><stop offset="1" stop-color="#02bac3"/></linearGradient><linearGradient id="e70" gradientUnits="userSpaceOnUse" x1="331.4" y1="216.2" x2="332" y2="218.1"><stop stop-color="#08b5d0"/><stop offset="1" stop-color="#19bfb6"/></linearGradient><linearGradient id="e71" gradientUnits="userSpaceOnUse" x1="354.2" y1="211.8" x2="353.6" y2="201.7"><stop stop-color="#19bfb6"/><stop offset=".33" stop-color="#4acb84"/><stop offset=".67" stop-color="#9dc943"/><stop offset="1" stop-color="#e6bb2d"/></linearGradient><linearGradient id="e72" gradientUnits="userSpaceOnUse" x1="363.6" y1="214.3" x2="364.8" y2="212.3"><stop stop-color="#19bfb6"/><stop offset="1" stop-color="#3fca8e"/></linearGradient><linearGradient id="e73" gradientUnits="userSpaceOnUse" x1="280.7" y1="247.2" x2="285.5" y2="237.1"><stop stop-color="#3e26a8"/><stop offset=".50" stop-color="#4741e5"/><stop offset="1" stop-color="#4563fd"/></linearGradient><linearGradient id="e74" gradientUnits="userSpaceOnUse" x1="272.2" y1="217.9" x2="271.5" y2="215.5"><stop stop-color="#01b8ca"/><stop offset="1" stop-color="#19bfb6"/></linearGradient><linearGradient id="e75" gradientUnits="userSpaceOnUse" x1="311.2" y1="219.3" x2="312.7" y2="222.8"><stop stop-color="#18addb"/><stop offset="1" stop-color="#08b5d0"/></linearGradient><linearGradient id="e76" gradientUnits="userSpaceOnUse" x1="269.1" y1="230.9" x2="274.3" y2="223.3"><stop stop-color="#465efb"/><stop offset=".33" stop-color="#2f81fa"/><stop offset=".67" stop-color="#23a0e5"/><stop offset="1" stop-color="#01b8ca"/></linearGradient><linearGradient id="e77" gradientUnits="userSpaceOnUse" x1="273.1" y1="224.7" x2="268.1" y2="218.2"><stop stop-color="#259be8"/><stop offset=".50" stop-color="#12b1d6"/><stop offset="1" stop-color="#0bbdbd"/></linearGradient><linearGradient id="e78" gradientUnits="userSpaceOnUse" x1="291.6" y1="229.7" x2="295" y2="222.2"><stop stop-color="#2b91ef"/><stop offset="1" stop-color="#1ca9df"/></linearGradient><linearGradient id="e79" gradientUnits="userSpaceOnUse" x1="271.5" y1="238.7" x2="278.8" y2="229.1"><stop stop-color="#422ec0"/><stop offset=".25" stop-color="#484df0"/><stop offset=".50" stop-color="#3e6fff"/><stop offset=".75" stop-color="#2b91ef"/><stop offset="1" stop-color="#18addb"/></linearGradient><linearGradient id="e80" gradientUnits="userSpaceOnUse" x1="285.1" y1="238.2" x2="290.1" y2="228.1"><stop stop-color="#4758f8"/><stop offset=".50" stop-color="#327cfc"/><stop offset="1" stop-color="#2797eb"/></linearGradient><linearGradient id="e81" gradientUnits="userSpaceOnUse" x1="269.3" y1="218.9" x2="268.3" y2="216.6"><stop stop-color="#01b8ca"/><stop offset="1" stop-color="#19bfb6"/></linearGradient><linearGradient id="e83" gradientUnits="userSpaceOnUse" x1="350.7" y1="212.2" x2="348" y2="202.2"><stop stop-color="#19bfb6"/><stop offset=".33" stop-color="#57cc7a"/><stop offset=".67" stop-color="#b9c431"/><stop offset="1" stop-color="#f8ba3d"/></linearGradient><linearGradient id="e84" gradientUnits="userSpaceOnUse" x1="324.3" y1="218.5" x2="324.9" y2="220.4"><stop stop-color="#08b5d0"/><stop offset="1" stop-color="#19bfb6"/></linearGradient><linearGradient id="e85" gradientUnits="userSpaceOnUse" x1="361.1" y1="211.5" x2="364.3" y2="204.4"><stop stop-color="#31c69f"/><stop offset=".50" stop-color="#81cc59"/><stop offset="1" stop-color="#dcbd29"/></linearGradient><linearGradient id="e86" gradientUnits="userSpaceOnUse" x1="267.7" y1="219.6" x2="268.5" y2="218.2"><stop stop-color="#01b8ca"/><stop offset="1" stop-color="#19bfb6"/></linearGradient><linearGradient id="e87" gradientUnits="userSpaceOnUse" x1="276.5" y1="244.3" x2="283.3" y2="232.9"><stop stop-color="#3e26a8"/><stop offset=".33" stop-color="#484df0"/><stop offset=".67" stop-color="#327cfc"/><stop offset="1" stop-color="#23a0e5"/></linearGradient><linearGradient id="e88" gradientUnits="userSpaceOnUse" x1="303.1" y1="221.4" x2="306.4" y2="226"><stop stop-color="#1ca9df"/><stop offset="1" stop-color="#08b5d0"/></linearGradient><linearGradient id="e89" gradientUnits="userSpaceOnUse" x1="368.5" y1="217.1" x2="369.7" y2="215"><stop stop-color="#19bfb6"/><stop offset="1" stop-color="#3fca8e"/></linearGradient><linearGradient id="e90" gradientUnits="userSpaceOnUse" x1="269.6" y1="222.6" x2="271.2" y2="220"><stop stop-color="#18addb"/><stop offset="1" stop-color="#19bfb6"/></linearGradient><linearGradient id="e91" gradientUnits="userSpaceOnUse" x1="345.3" y1="213.7" x2="342.1" y2="204.2"><stop stop-color="#19bfb6"/><stop offset=".33" stop-color="#57cc7a"/><stop offset=".67" stop-color="#b9c431"/><stop offset="1" stop-color="#f8ba3d"/></linearGradient><linearGradient id="e92" gradientUnits="userSpaceOnUse" x1="281.6" y1="244.2" x2="293.4" y2="240.1"><stop stop-color="#3e26a8"/><stop offset=".33" stop-color="#4741e5"/><stop offset=".67" stop-color="#4563fd"/><stop offset="1" stop-color="#2e87f7"/></linearGradient><linearGradient id="e93" gradientUnits="userSpaceOnUse" x1="291.9" y1="227.7" x2="303.4" y2="227.7"><stop stop-color="#2b91ef"/><stop offset="1" stop-color="#12b1d6"/></linearGradient><linearGradient id="e94" gradientUnits="userSpaceOnUse" x1="317" y1="220.9" x2="317.6" y2="222.8"><stop stop-color="#08b5d0"/><stop offset="1" stop-color="#19bfb6"/></linearGradient><linearGradient id="e95" gradientUnits="userSpaceOnUse" x1="285.9" y1="237.3" x2="297.9" y2="231.5"><stop stop-color="#4758f8"/><stop offset=".50" stop-color="#2f81fa"/><stop offset="1" stop-color="#20a5e3"/></linearGradient><linearGradient id="e96" gradientUnits="userSpaceOnUse" x1="272.6" y1="226.4" x2="275.1" y2="222.3"><stop stop-color="#23a0e5"/><stop offset=".50" stop-color="#08b5d0"/><stop offset="1" stop-color="#19bfb6"/></linearGradient><linearGradient id="e97" gradientUnits="userSpaceOnUse" x1="372.9" y1="219.6" x2="374" y2="217.8"><stop stop-color="#19bfb6"/><stop offset="1" stop-color="#37c897"/></linearGradient><linearGradient id="e98" gradientUnits="userSpaceOnUse" x1="365.8" y1="212.9" x2="369.1" y2="207.3"><stop stop-color="#37c897"/><stop offset=".50" stop-color="#8fcb4e"/><stop offset="1" stop-color="#dcbd29"/></linearGradient><linearGradient id="e99" gradientUnits="userSpaceOnUse" x1="358.5" y1="205.9" x2="360.4" y2="197.4"><stop stop-color="#8fcb4e"/><stop offset=".33" stop-color="#dcbd29"/><stop offset=".67" stop-color="#fec338"/><stop offset="1" stop-color="#f5e924"/></linearGradient><linearGradient id="e100" gradientUnits="userSpaceOnUse" x1="338.7" y1="215.8" x2="335.6" y2="206.8"><stop stop-color="#19bfb6"/><stop offset=".33" stop-color="#57cc7a"/><stop offset=".67" stop-color="#abc739"/><stop offset="1" stop-color="#f8ba3d"/></linearGradient><linearGradient id="e101" gradientUnits="userSpaceOnUse" x1="281.2" y1="247.4" x2="287.6" y2="232.8"><stop stop-color="#3e26a8"/><stop offset=".25" stop-color="#4741e5"/><stop offset=".50" stop-color="#4269fe"/><stop offset=".75" stop-color="#2d8cf3"/><stop offset="1" stop-color="#18addb"/></linearGradient><linearGradient id="e102" gradientUnits="userSpaceOnUse" x1="309.8" y1="223.3" x2="310.6" y2="225.2"><stop stop-color="#12b1d6"/><stop offset="1" stop-color="#19bfb6"/></linearGradient><linearGradient id="e103" gradientUnits="userSpaceOnUse" x1="376.5" y1="221.7" x2="377.2" y2="220.7"><stop stop-color="#19bfb6"/><stop offset="1" stop-color="#31c69f"/></linearGradient><linearGradient id="e104" gradientUnits="userSpaceOnUse" x1="277" y1="229.5" x2="279.7" y2="224.9"><stop stop-color="#23a0e5"/><stop offset=".50" stop-color="#12b1d6"/><stop offset="1" stop-color="#19bfb6"/></linearGradient><linearGradient id="e105" gradientUnits="userSpaceOnUse" x1="370.3" y1="216" x2="373.7" y2="211.5"><stop stop-color="#31c69f"/><stop offset=".50" stop-color="#81cc59"/><stop offset="1" stop-color="#d1bf27"/></linearGradient><linearGradient id="e106" gradientUnits="userSpaceOnUse" x1="331.4" y1="218.1" x2="328.5" y2="210.4"><stop stop-color="#19bfb6"/><stop offset=".33" stop-color="#4acb84"/><stop offset=".67" stop-color="#abc739"/><stop offset="1" stop-color="#f0ba36"/></linearGradient><linearGradient id="e108" gradientUnits="userSpaceOnUse" x1="374.4" y1="221.1" x2="376.4" y2="215"><stop stop-color="#24c1ae"/><stop offset=".50" stop-color="#4acb84"/><stop offset="1" stop-color="#8fcb4e"/></linearGradient><linearGradient id="e109" gradientUnits="userSpaceOnUse" x1="300.9" y1="224.8" x2="305.5" y2="228.7"><stop stop-color="#20a5e3"/><stop offset="1" stop-color="#19bfb6"/></linearGradient><linearGradient id="e111" gradientUnits="userSpaceOnUse" x1="355.1" y1="201.6" x2="354.4" y2="196.7"><stop stop-color="#e6bb2d"/><stop offset=".50" stop-color="#fad62d"/><stop offset="1" stop-color="#f9fb15"/></linearGradient><linearGradient id="e112" gradientUnits="userSpaceOnUse" x1="379" y1="223.9" x2="374.9" y2="219.8"><stop stop-color="#19bfb6"/><stop offset="1" stop-color="#3fca8e"/></linearGradient><linearGradient id="e114" gradientUnits="userSpaceOnUse" x1="363.2" y1="204" x2="365.4" y2="200.8"><stop stop-color="#d1bf27"/><stop offset=".50" stop-color="#fec338"/><stop offset="1" stop-color="#f5e924"/></linearGradient><linearGradient id="e115" gradientUnits="userSpaceOnUse" x1="298.3" y1="236" x2="297.7" y2="227.5"><stop stop-color="#2e87f7"/><stop offset=".50" stop-color="#1ca9df"/><stop offset="1" stop-color="#19bfb6"/></linearGradient><linearGradient id="e116" gradientUnits="userSpaceOnUse" x1="323.8" y1="220.6" x2="321.6" y2="215"><stop stop-color="#19bfb6"/><stop offset=".33" stop-color="#3fca8e"/><stop offset=".67" stop-color="#8fcb4e"/><stop offset="1" stop-color="#d1bf27"/></linearGradient><linearGradient id="e117" gradientUnits="userSpaceOnUse" x1="281.8" y1="232.2" x2="284.4" y2="227.5"><stop stop-color="#23a0e5"/><stop offset=".50" stop-color="#12b1d6"/><stop offset="1" stop-color="#19bfb6"/></linearGradient><linearGradient id="e118" gradientUnits="userSpaceOnUse" x1="295.4" y1="240.1" x2="292" y2="231"><stop stop-color="#465efb"/><stop offset=".33" stop-color="#2e87f7"/><stop offset=".67" stop-color="#1ca9df"/><stop offset="1" stop-color="#19bfb6"/></linearGradient><linearGradient id="e119" gradientUnits="userSpaceOnUse" x1="375.9" y1="226" x2="375.2" y2="223.8"><stop stop-color="#19bfb6"/><stop offset="1" stop-color="#2cc4a7"/></linearGradient><linearGradient id="e120" gradientUnits="userSpaceOnUse" x1="375.8" y1="224.4" x2="372.4" y2="217.8"><stop stop-color="#24c1ae"/><stop offset="1" stop-color="#72cd64"/></linearGradient><linearGradient id="e121" gradientUnits="userSpaceOnUse" x1="349.6" y1="201.8" x2="348.6" y2="198.8"><stop stop-color="#f8ba3d"/><stop offset=".50" stop-color="#f7dc2a"/><stop offset="1" stop-color="#f9fb15"/></linearGradient><linearGradient id="e122" gradientUnits="userSpaceOnUse" x1="372.1" y1="208" x2="364.2" y2="207.9"><stop stop-color="#8fcb4e"/><stop offset=".50" stop-color="#f0ba36"/><stop offset="1" stop-color="#f5e327"/></linearGradient><linearGradient id="e123" gradientUnits="userSpaceOnUse" x1="375.7" y1="218.9" x2="367.1" y2="210.8"><stop stop-color="#3fca8e"/><stop offset=".50" stop-color="#9dc943"/><stop offset="1" stop-color="#e6bb2d"/></linearGradient><linearGradient id="e124" gradientUnits="userSpaceOnUse" x1="288" y1="243" x2="291.3" y2="230.1"><stop stop-color="#465efb"/><stop offset=".33" stop-color="#2e87f7"/><stop offset=".67" stop-color="#1ca9df"/><stop offset="1" stop-color="#19bfb6"/></linearGradient><linearGradient id="e125" gradientUnits="userSpaceOnUse" x1="316.4" y1="223.2" x2="315" y2="218.4"><stop stop-color="#19bfb6"/><stop offset=".50" stop-color="#57cc7a"/><stop offset="1" stop-color="#abc739"/></linearGradient><linearGradient id="e126" gradientUnits="userSpaceOnUse" x1="371.4" y1="227.4" x2="370.7" y2="225.2"><stop stop-color="#19bfb6"/><stop offset="1" stop-color="#2cc4a7"/></linearGradient><linearGradient id="e127" gradientUnits="userSpaceOnUse" x1="371" y1="225.3" x2="368.6" y2="218.6"><stop stop-color="#2cc4a7"/><stop offset="1" stop-color="#81cc59"/></linearGradient><linearGradient id="e128" gradientUnits="userSpaceOnUse" x1="362.7" y1="197.3" x2="356.7" y2="200.4"><stop stop-color="#f5e327"/><stop offset="1" stop-color="#f9fb15"/></linearGradient><linearGradient id="e129" gradientUnits="userSpaceOnUse" x1="343" y1="204.3" x2="342" y2="202"><stop stop-color="#f0ba36"/><stop offset=".50" stop-color="#fad62d"/><stop offset="1" stop-color="#f9fb15"/></linearGradient><linearGradient id="e130" gradientUnits="userSpaceOnUse" x1="369.4" y1="219.3" x2="365.3" y2="209"><stop stop-color="#72cd64"/><stop offset=".50" stop-color="#b9c431"/><stop offset="1" stop-color="#f8ba3d"/></linearGradient><linearGradient id="e131" gradientUnits="userSpaceOnUse" x1="366.9" y1="210.5" x2="360.9" y2="199.6"><stop stop-color="#e6bb2d"/><stop offset=".50" stop-color="#fccf30"/><stop offset="1" stop-color="#f6ef20"/></linearGradient><linearGradient id="e132" gradientUnits="userSpaceOnUse" x1="287.5" y1="233.1" x2="289.1" y2="230"><stop stop-color="#18addb"/><stop offset="1" stop-color="#19bfb6"/></linearGradient><linearGradient id="e133" gradientUnits="userSpaceOnUse" x1="365.7" y1="229.3" x2="365" y2="227"><stop stop-color="#19bfb6"/><stop offset="1" stop-color="#2cc4a7"/></linearGradient><linearGradient id="e134" gradientUnits="userSpaceOnUse" x1="336" y1="208.7" x2="334.8" y2="206.1"><stop stop-color="#d1bf27"/><stop offset=".50" stop-color="#fec338"/><stop offset="1" stop-color="#f6ef20"/></linearGradient><linearGradient id="e135" gradientUnits="userSpaceOnUse" x1="365.2" y1="227" x2="363.1" y2="220.5"><stop stop-color="#2cc4a7"/><stop offset="1" stop-color="#81cc59"/></linearGradient><linearGradient id="e136" gradientUnits="userSpaceOnUse" x1="309.9" y1="225.8" x2="308.1" y2="216"><stop stop-color="#19bfb6"/><stop offset=".33" stop-color="#4acb84"/><stop offset=".67" stop-color="#abc739"/><stop offset="1" stop-color="#f0ba36"/></linearGradient><linearGradient id="e137" gradientUnits="userSpaceOnUse" x1="354.5" y1="202.7" x2="353.6" y2="196.8"><stop stop-color="#f6ef20"/><stop offset="1" stop-color="#f9fb15"/></linearGradient><linearGradient id="e138" gradientUnits="userSpaceOnUse" x1="363.3" y1="220.6" x2="360.2" y2="210.9"><stop stop-color="#81cc59"/><stop offset=".50" stop-color="#c5c22a"/><stop offset="1" stop-color="#f8ba3d"/></linearGradient><linearGradient id="e139" gradientUnits="userSpaceOnUse" x1="326.7" y1="211.6" x2="329.9" y2="214.4"><stop stop-color="#9dc943"/><stop offset=".50" stop-color="#e6bb2d"/><stop offset="1" stop-color="#fccf30"/></linearGradient><linearGradient id="e140" gradientUnits="userSpaceOnUse" x1="359.8" y1="211.3" x2="356.8" y2="201.3"><stop stop-color="#f8ba3d"/><stop offset=".50" stop-color="#fad62d"/><stop offset="1" stop-color="#f6ef20"/></linearGradient><linearGradient id="e141" gradientUnits="userSpaceOnUse" x1="359.2" y1="231.4" x2="358.5" y2="229.2"><stop stop-color="#19bfb6"/><stop offset="1" stop-color="#2cc4a7"/></linearGradient><linearGradient id="e142" gradientUnits="userSpaceOnUse" x1="358.6" y1="229.3" x2="356.5" y2="222.7"><stop stop-color="#2cc4a7"/><stop offset="1" stop-color="#81cc59"/></linearGradient><linearGradient id="e143" gradientUnits="userSpaceOnUse" x1="304.9" y1="226.6" x2="301.7" y2="219"><stop stop-color="#19bfb6"/><stop offset=".33" stop-color="#4acb84"/><stop offset=".67" stop-color="#abc739"/><stop offset="1" stop-color="#f0ba36"/></linearGradient><linearGradient id="e144" gradientUnits="userSpaceOnUse" x1="347.2" y1="206.5" x2="347.8" y2="198.9"><stop stop-color="#f5e327"/><stop offset="1" stop-color="#f9fb15"/></linearGradient><linearGradient id="e145" gradientUnits="userSpaceOnUse" x1="296.5" y1="230.9" x2="303.5" y2="220.8"><stop stop-color="#19bfb6"/><stop offset=".50" stop-color="#57cc7a"/><stop offset="1" stop-color="#c5c22a"/></linearGradient><linearGradient id="e146" gradientUnits="userSpaceOnUse" x1="294.2" y1="232.3" x2="299.2" y2="227.8"><stop stop-color="#19bfb6"/><stop offset="1" stop-color="#4acb84"/></linearGradient><linearGradient id="e147" gradientUnits="userSpaceOnUse" x1="356.6" y1="223.3" x2="353.7" y2="213.1"><stop stop-color="#72cd64"/><stop offset=".50" stop-color="#b9c431"/><stop offset="1" stop-color="#f8ba3d"/></linearGradient><linearGradient id="e149" gradientUnits="userSpaceOnUse" x1="321.2" y1="217" x2="320.9" y2="215.9"><stop stop-color="#9dc943"/><stop offset="1" stop-color="#f8ba3d"/></linearGradient><linearGradient id="e150" gradientUnits="userSpaceOnUse" x1="353.1" y1="214.6" x2="350.4" y2="203.6"><stop stop-color="#e6bb2d"/><stop offset=".50" stop-color="#fccf30"/><stop offset="1" stop-color="#f6ef20"/></linearGradient><linearGradient id="e151" gradientUnits="userSpaceOnUse" x1="339.2" y1="212" x2="341.7" y2="202.6"><stop stop-color="#fec934"/><stop offset="1" stop-color="#f6ef20"/></linearGradient><linearGradient id="e152" gradientUnits="userSpaceOnUse" x1="352" y1="233.7" x2="351.4" y2="231.6"><stop stop-color="#19bfb6"/><stop offset="1" stop-color="#2cc4a7"/></linearGradient><linearGradient id="e153" gradientUnits="userSpaceOnUse" x1="351.4" y1="231.9" x2="349.5" y2="225.3"><stop stop-color="#2cc4a7"/><stop offset="1" stop-color="#72cd64"/></linearGradient><linearGradient id="e154" gradientUnits="userSpaceOnUse" x1="349.3" y1="226.8" x2="346.7" y2="216.1"><stop stop-color="#64cd6f"/><stop offset=".50" stop-color="#abc739"/><stop offset="1" stop-color="#e6bb2d"/></linearGradient><linearGradient id="e155" gradientUnits="userSpaceOnUse" x1="331.5" y1="218.1" x2="334.8" y2="208.4"><stop stop-color="#e6bb2d"/><stop offset="1" stop-color="#fccf30"/></linearGradient><linearGradient id="e156" gradientUnits="userSpaceOnUse" x1="345.6" y1="219.3" x2="343.7" y2="206.8"><stop stop-color="#d1bf27"/><stop offset=".50" stop-color="#febe3c"/><stop offset="1" stop-color="#f5e327"/></linearGradient><linearGradient id="e157" gradientUnits="userSpaceOnUse" x1="344.7" y1="236.1" x2="344.1" y2="234.2"><stop stop-color="#19bfb6"/><stop offset="1" stop-color="#2cc4a7"/></linearGradient><linearGradient id="e158" gradientUnits="userSpaceOnUse" x1="299.1" y1="236" x2="300.2" y2="234.1"><stop stop-color="#19bfb6"/><stop offset="1" stop-color="#2cc4a7"/></linearGradient><linearGradient id="e159" gradientUnits="userSpaceOnUse" x1="344" y1="234.7" x2="342.3" y2="228.6"><stop stop-color="#24c1ae"/><stop offset="1" stop-color="#64cd6f"/></linearGradient><linearGradient id="e160" gradientUnits="userSpaceOnUse" x1="337.9" y1="224.5" x2="336.8" y2="212.1"><stop stop-color="#9dc943"/><stop offset=".50" stop-color="#e6bb2d"/><stop offset="1" stop-color="#fec934"/></linearGradient><linearGradient id="e161" gradientUnits="userSpaceOnUse" x1="314.3" y1="218.6" x2="314.8" y2="211.1"><stop stop-color="#abc739"/><stop offset=".33" stop-color="#f0ba36"/><stop offset=".67" stop-color="#fccf30"/><stop offset="1" stop-color="#f7f51b"/></linearGradient><linearGradient id="e162" gradientUnits="userSpaceOnUse" x1="341.8" y1="230.5" x2="339.7" y2="220.4"><stop stop-color="#4acb84"/><stop offset=".50" stop-color="#8fcb4e"/><stop offset="1" stop-color="#d1bf27"/></linearGradient><linearGradient id="e163" gradientUnits="userSpaceOnUse" x1="299.4" y1="234.4" x2="303.6" y2="228.6"><stop stop-color="#24c1ae"/><stop offset="1" stop-color="#72cd64"/></linearGradient><linearGradient id="e164" gradientUnits="userSpaceOnUse" x1="331.7" y1="218.5" x2="320.2" y2="215.8"><stop stop-color="#e6bb2d"/><stop offset="1" stop-color="#f8ba3d"/></linearGradient><linearGradient id="e165" gradientUnits="userSpaceOnUse" x1="300" y1="228.9" x2="309.9" y2="218.8"><stop stop-color="#4acb84"/><stop offset=".33" stop-color="#8fcb4e"/><stop offset=".67" stop-color="#dcbd29"/><stop offset="1" stop-color="#fec338"/></linearGradient><linearGradient id="e166" gradientUnits="userSpaceOnUse" x1="332" y1="226.3" x2="328.5" y2="218"><stop stop-color="#9dc943"/><stop offset="1" stop-color="#f0ba36"/></linearGradient><linearGradient id="e167" gradientUnits="userSpaceOnUse" x1="337.6" y1="238.4" x2="337.1" y2="236.8"><stop stop-color="#19bfb6"/><stop offset="1" stop-color="#2cc4a7"/></linearGradient><linearGradient id="e168" gradientUnits="userSpaceOnUse" x1="305.5" y1="215.6" x2="312.7" y2="217.5"><stop stop-color="#c5c22a"/><stop offset=".50" stop-color="#fec338"/><stop offset="1" stop-color="#f7f51b"/></linearGradient><linearGradient id="e169" gradientUnits="userSpaceOnUse" x1="336.9" y1="236.9" x2="335.3" y2="232.1"><stop stop-color="#24c1ae"/><stop offset="1" stop-color="#4acb84"/></linearGradient><linearGradient id="e170" gradientUnits="userSpaceOnUse" x1="335.1" y1="232.6" x2="332.4" y2="225.1"><stop stop-color="#4acb84"/><stop offset="1" stop-color="#abc739"/></linearGradient><linearGradient id="e171" gradientUnits="userSpaceOnUse" x1="304" y1="238.8" x2="305" y2="237"><stop stop-color="#19bfb6"/><stop offset="1" stop-color="#2cc4a7"/></linearGradient><linearGradient id="e172" gradientUnits="userSpaceOnUse" x1="304.6" y1="236.9" x2="307.7" y2="231.3"><stop stop-color="#2cc4a7"/><stop offset="1" stop-color="#72cd64"/></linearGradient><linearGradient id="e173" gradientUnits="userSpaceOnUse" x1="319" y1="216.2" x2="320" y2="214.4"><stop stop-color="#f0ba36"/><stop offset=".50" stop-color="#fccf30"/><stop offset="1" stop-color="#f7f51b"/></linearGradient><linearGradient id="e174" gradientUnits="userSpaceOnUse" x1="331.1" y1="240.5" x2="330.4" y2="238.3"><stop stop-color="#19bfb6"/><stop offset="1" stop-color="#2cc4a7"/></linearGradient><linearGradient id="e175" gradientUnits="userSpaceOnUse" x1="330.8" y1="238.9" x2="327.9" y2="231.9"><stop stop-color="#2cc4a7"/><stop offset="1" stop-color="#72cd64"/></linearGradient><linearGradient id="e176" gradientUnits="userSpaceOnUse" x1="306.4" y1="231.1" x2="312.3" y2="220"><stop stop-color="#64cd6f"/><stop offset=".50" stop-color="#c5c22a"/><stop offset="1" stop-color="#fec338"/></linearGradient><linearGradient id="e177" gradientUnits="userSpaceOnUse" x1="330.1" y1="233.9" x2="323.5" y2="223"><stop stop-color="#4acb84"/><stop offset=".50" stop-color="#abc739"/><stop offset="1" stop-color="#f0ba36"/></linearGradient><linearGradient id="e178" gradientUnits="userSpaceOnUse" x1="308.4" y1="241.3" x2="309.3" y2="239.5"><stop stop-color="#19bfb6"/><stop offset="1" stop-color="#2cc4a7"/></linearGradient><linearGradient id="e179" gradientUnits="userSpaceOnUse" x1="329.4" y1="224.6" x2="316.9" y2="217"><stop stop-color="#abc739"/><stop offset=".50" stop-color="#febe3c"/><stop offset="1" stop-color="#f5e924"/></linearGradient><linearGradient id="e180" gradientUnits="userSpaceOnUse" x1="309.2" y1="240.1" x2="311.9" y2="233.7"><stop stop-color="#24c1ae"/><stop offset="1" stop-color="#64cd6f"/></linearGradient><linearGradient id="e181" gradientUnits="userSpaceOnUse" x1="311.9" y1="221.1" x2="315.8" y2="211.6"><stop stop-color="#febe3c"/><stop offset=".50" stop-color="#fad62d"/><stop offset="1" stop-color="#f7f51b"/></linearGradient><linearGradient id="e182" gradientUnits="userSpaceOnUse" x1="325.4" y1="242.3" x2="324.7" y2="240.1"><stop stop-color="#19bfb6"/><stop offset="1" stop-color="#2cc4a7"/></linearGradient><linearGradient id="e183" gradientUnits="userSpaceOnUse" x1="324.7" y1="240.7" x2="322.9" y2="233.6"><stop stop-color="#2cc4a7"/><stop offset="1" stop-color="#72cd64"/></linearGradient><linearGradient id="e184" gradientUnits="userSpaceOnUse" x1="311.7" y1="236.3" x2="315.9" y2="222.4"><stop stop-color="#4acb84"/><stop offset=".50" stop-color="#abc739"/><stop offset="1" stop-color="#febe3c"/></linearGradient><linearGradient id="e186" gradientUnits="userSpaceOnUse" x1="313.2" y1="242.8" x2="314.8" y2="237.3"><stop stop-color="#24c1ae"/><stop offset="1" stop-color="#4acb84"/></linearGradient><linearGradient id="e187" gradientUnits="userSpaceOnUse" x1="322.3" y1="236" x2="320.5" y2="224"><stop stop-color="#57cc7a"/><stop offset=".50" stop-color="#abc739"/><stop offset="1" stop-color="#f0ba36"/></linearGradient><linearGradient id="e188" gradientUnits="userSpaceOnUse" x1="316.5" y1="240.6" x2="317.7" y2="229"><stop stop-color="#31c69f"/><stop offset=".50" stop-color="#64cd6f"/><stop offset="1" stop-color="#b9c431"/></linearGradient><linearGradient id="e189" gradientUnits="userSpaceOnUse" x1="318.1" y1="229" x2="318.1" y2="214.7"><stop stop-color="#b9c431"/><stop offset=".50" stop-color="#febe3c"/><stop offset="1" stop-color="#f5e924"/></linearGradient><linearGradient id="e190" gradientUnits="userSpaceOnUse" x1="319.6" y1="243.1" x2="318.9" y2="236.5"><stop stop-color="#24c1ae"/><stop offset="1" stop-color="#57cc7a"/></linearGradient><linearGradient id="e191" gradientUnits="userSpaceOnUse" x1="320.8" y1="243.8" x2="320.2" y2="241.9"><stop stop-color="#19bfb6"/><stop offset="1" stop-color="#2cc4a7"/></linearGradient><linearGradient id="e192" gradientUnits="userSpaceOnUse" x1="316.1" y1="244.4" x2="316.3" y2="240.8"><stop stop-color="#19bfb6"/><stop offset="1" stop-color="#31c69f"/></linearGradient></defs><g stroke-width="0.65" stroke-linejoin="round"><polygon points="331.5,196.7 332.3,196.4 331.7,196 330.9,196.3" fill="#19bfb6" stroke="#0476d0"/>
<polygon points="329.1,197.6 331.5,196.7 330.9,196.3 328.5,197" fill="#19bfb6" stroke="#0476d0"/>
<polygon points="333.3,197.8 334.1,197.4 332.3,196.4 331.5,196.7" fill="#19bfb6" stroke="#0476d0"/>
<polygon points="330.9,199.1 333.3,197.8 331.5,196.7 329.1,197.6" fill="#19bfb6" stroke="#0476d0"/>
<polygon points="325.2,199 329.1,197.6 328.5,197 324.6,198.3" fill="#19bfb6" stroke="#0476d0"/>
<polygon points="336.3,199.7 337.1,199.1 334.1,197.4 333.3,197.8" fill="#19bfb6" stroke="#0476d0"/>
<polygon points="327,200.9 330.9,199.1 329.1,197.6 325.2,199" fill="#0bbdbd" stroke="#0275d1"/>
<polygon points="333.9,201.5 336.3,199.7 333.3,197.8 330.9,199.1" fill="url(#e7)" stroke="#0275d1"/>
<polygon points="320,200.7 325.2,199 324.6,198.3 319.4,200" fill="#19bfb6" stroke="#0476d0"/>
<polygon points="330,203.9 333.9,201.5 330.9,199.1 327,200.9" fill="url(#e9)" stroke="#0075d3"/>
<polygon points="321.8,202.8 327,200.9 325.2,199 320,200.7" fill="#0bbdbd" stroke="#0275d1"/>
<polygon points="340.2,202.1 341,201.3 337.1,199.1 336.3,199.7" fill="#19bfb6" stroke="#0476d0"/>
<polygon points="337.8,204.4 340.2,202.1 336.3,199.7 333.9,201.5" fill="url(#e12)" stroke="#0275d1"/>
<polygon points="324.8,205.9 330,203.9 327,200.9 321.8,202.8" fill="url(#e13)" stroke="#0074d4"/>
<polygon points="333.9,207.3 337.8,204.4 333.9,201.5 330,203.9" fill="url(#e14)" stroke="#0074d4"/>
<polygon points="313.8,202.7 320,200.7 319.4,200 313.2,202" fill="#19bfb6" stroke="#0476d0"/>
<polygon points="315.6,204.8 321.8,202.8 320,200.7 313.8,202.7" fill="#0bbdbd" stroke="#0275d1"/>
<polygon points="328.7,209.5 333.9,207.3 330,203.9 324.8,205.9" fill="url(#e17)" stroke="#0174d5"/>
<polygon points="318.6,208 324.8,205.9 321.8,202.8 315.6,204.8" fill="url(#e18)" stroke="#0074d4"/>
<polygon points="344.9,204.8 345.7,204 341,201.3 340.2,202.1" fill="#19bfb6" stroke="#0476d0"/>
<polygon points="342.4,207.2 344.9,204.8 340.2,202.1 337.8,204.4" fill="url(#e20)" stroke="#0075d3"/>
<polygon points="306.9,205 313.8,202.7 313.2,202 306.3,204.2" fill="#19bfb6" stroke="#0476d0"/>
<polygon points="338.5,210.2 342.4,207.2 337.8,204.4 333.9,207.3" fill="url(#e22)" stroke="#0174d5"/>
<polygon points="308.7,207 315.6,204.8 313.8,202.7 306.9,205" fill="#0bbdbd" stroke="#0275d1"/>
<polygon points="322.5,211.5 328.7,209.5 324.8,205.9 318.6,208" fill="url(#e24)" stroke="#0373d6"/>
<polygon points="333.4,212.4 338.5,210.2 333.9,207.3 328.7,209.5" fill="#12b1d6" stroke="#0373d6"/>
<polygon points="311.7,210.2 318.6,208 315.6,204.8 308.7,207" fill="url(#e26)" stroke="#0074d4"/>
<polygon points="350.1,207.6 350.9,207 345.7,204 344.9,204.8" fill="#19bfb6" stroke="#0476d0"/>
<polygon points="299.6,207.3 306.9,205 306.3,204.2 299,206.6" fill="#19bfb6" stroke="#0476d0"/>
<polygon points="347.7,209.4 350.1,207.6 344.9,204.8 342.4,207.2" fill="url(#e29)" stroke="#0275d1"/>
<polygon points="301.4,209.4 308.7,207 306.9,205 299.6,207.3" fill="#0bbdbd" stroke="#0275d1"/>
<polygon points="315.6,213.8 322.5,211.5 318.6,208 311.7,210.2" fill="url(#e31)" stroke="#0373d6"/>
<polygon points="327.2,214.4 333.4,212.4 328.7,209.5 322.5,211.5" fill="#18addb" stroke="#0472d7"/>
<polygon points="343.8,211.8 347.7,209.4 342.4,207.2 338.5,210.2" fill="url(#e33)" stroke="#0074d4"/>
<polygon points="304.4,212.6 311.7,210.2 308.7,207 301.4,209.4" fill="url(#e34)" stroke="#0074d4"/>
<polygon points="338.6,213.9 343.8,211.8 338.5,210.2 333.4,212.4" fill="url(#e35)" stroke="#0373d6"/>
<polygon points="292.3,209.7 299.6,207.3 299,206.6 291.7,209" fill="#19bfb6" stroke="#0476d0"/>
<polygon points="320.3,216.7 327.2,214.4 322.5,211.5 315.6,213.8" fill="#18addb" stroke="#0472d7"/>
<polygon points="294.2,211.8 301.4,209.4 299.6,207.3 292.3,209.7" fill="#0bbdbd" stroke="#0275d1"/>
<polygon points="308.3,216.1 315.6,213.8 311.7,210.2 304.4,212.6" fill="url(#e39)" stroke="#0373d6"/>
<polygon points="355.6,210.4 356.4,210.2 350.9,207 350.1,207.6" fill="#19bfb6" stroke="#0476d0"/>
<polygon points="353.2,211.2 355.6,210.4 350.1,207.6 347.7,209.4" fill="url(#e41)" stroke="#0275d1"/>
<polygon points="332.4,215.9 338.6,213.9 333.4,212.4 327.2,214.4" fill="url(#e42)" stroke="#0373d6"/>
<polygon points="297.1,215.1 304.4,212.6 301.4,209.4 294.2,211.8" fill="url(#e43)" stroke="#0074d4"/>
<polygon points="349.3,212.5 353.2,211.2 347.7,209.4 343.8,211.8" fill="url(#e44)" stroke="#0275d1"/>
<polygon points="285.4,212 292.3,209.7 291.7,209 284.8,211.2" fill="#19bfb6" stroke="#0476d0"/>
<polygon points="313,219.1 320.3,216.7 315.6,213.8 308.3,216.1" fill="#18addb" stroke="#0472d7"/>
<polygon points="287.3,214.3 294.2,211.8 292.3,209.7 285.4,212" fill="url(#e47)" stroke="#0275d1"/>
<polygon points="301,218.7 308.3,216.1 304.4,212.6 297.1,215.1" fill="url(#e48)" stroke="#0373d6"/>
<polygon points="344.1,214.1 349.3,212.5 343.8,211.8 338.6,213.9" fill="url(#e49)" stroke="#0075d3"/>
<polygon points="325.5,218.2 332.4,215.9 327.2,214.4 320.3,216.7" fill="url(#e50)" stroke="#0373d6"/>
<polygon points="290.2,217.9 297.1,215.1 294.2,211.8 287.3,214.3" fill="url(#e51)" stroke="#0074d4"/>
<polygon points="361.1,211.3 361.9,213.3 356.4,210.2 355.6,210.4" fill="url(#e52)" stroke="#0776ce"/>
<polygon points="279.2,214.3 285.4,212 284.8,211.2 278.6,213.2" fill="#19bfb6" stroke="#0476d0"/>
<polygon points="281.1,217.4 287.3,214.3 285.4,212 279.2,214.3" fill="url(#e54)" stroke="#0075d3"/>
<polygon points="294.1,221.7 301,218.7 297.1,215.1 290.2,217.9" fill="url(#e55)" stroke="#0373d6"/>
<polygon points="305.7,221.7 313,219.1 308.3,216.1 301,218.7" fill="#18addb" stroke="#0472d7"/>
<polygon points="337.9,216.2 344.1,214.1 338.6,213.9 332.4,215.9" fill="url(#e57)" stroke="#0075d3"/>
<polygon points="358.7,205.6 361.1,211.3 355.6,210.4 353.2,211.2" fill="url(#e58)" stroke="#0a78ca"/>
<polygon points="284,222 290.2,217.9 287.3,214.3 281.1,217.4" fill="url(#e59)" stroke="#0373d6"/>
<polygon points="318.2,220.5 325.5,218.2 320.3,216.7 313,219.1" fill="url(#e60)" stroke="#0373d6"/>
<polygon points="274.1,216.6 279.2,214.3 278.6,213.2 273.4,214.9" fill="url(#e61)" stroke="#0275d1"/>
<polygon points="275.9,221.4 281.1,217.4 279.2,214.3 274.1,216.6" fill="url(#e62)" stroke="#0074d4"/>
<polygon points="278.8,244.5 282.7,235.7 278.8,228.6 274.9,235" fill="url(#e63)" stroke="#0d62de"/>
<polygon points="278.8,228.6 284,222 281.1,217.4 275.9,221.4" fill="url(#e64)" stroke="#0671d9"/>
<polygon points="274.9,235 278.8,228.6 275.9,221.4 272,225.2" fill="url(#e65)" stroke="#086cdc"/>
<polygon points="287.9,226.9 294.1,221.7 290.2,217.9 284,222" fill="url(#e66)" stroke="#0671d9"/>
<polygon points="282.7,235.7 287.9,226.9 284,222 278.8,228.6" fill="url(#e67)" stroke="#086cdc"/>
<polygon points="298.8,224.7 305.7,221.7 301,218.7 294.1,221.7" fill="#1ca9df" stroke="#0571d8"/>
<polygon points="272,225.2 275.9,221.4 274.1,216.6 270.2,218.5" fill="url(#e69)" stroke="#0373d6"/>
<polygon points="331,218.4 337.9,216.2 332.4,215.9 325.5,218.2" fill="url(#e70)" stroke="#0075d3"/>
<polygon points="354.8,201.5 358.7,205.6 353.2,211.2 349.3,212.5" fill="url(#e71)" stroke="#1178c4"/>
<polygon points="366.3,213 367.1,216.3 361.9,213.3 361.1,211.3" fill="url(#e72)" stroke="#0877cd"/>
<polygon points="283.5,248.5 287.4,239.3 282.7,235.7 278.8,244.5" fill="url(#e73)" stroke="#0e5dd9"/>
<polygon points="270.2,218.5 274.1,216.6 273.4,214.9 269.5,216.2" fill="url(#e74)" stroke="#0275d1"/>
<polygon points="310.9,223 318.2,220.5 313,219.1 305.7,221.7" fill="url(#e75)" stroke="#0373d6"/>
<polygon points="272.5,224.5 274.9,235 272,225.2 269.6,220.5" fill="url(#e76)" stroke="#076fda"/>
<polygon points="269.6,220.5 272,225.2 270.2,218.5 267.7,217.8" fill="url(#e77)" stroke="#0174d5"/>
<polygon points="292.6,230.1 298.8,224.7 294.1,221.7 287.9,226.9" fill="url(#e78)" stroke="#0670d9"/>
<polygon points="276.4,228.8 278.8,244.5 274.9,235 272.5,224.5" fill="url(#e79)" stroke="#0968de"/>
<polygon points="287.4,239.3 292.6,230.1 287.9,226.9 282.7,235.7" fill="url(#e80)" stroke="#0968de"/>
<polygon points="267.7,217.8 270.2,218.5 269.5,216.2 267.1,216.9" fill="url(#e81)" stroke="#0275d1"/>
<polygon points="266.9,217.6 267.7,217.8 267.1,216.9 266.3,217.2" fill="#19bfb6" stroke="#0476d0"/>
<polygon points="349.6,201.7 354.8,201.5 349.3,212.5 344.1,214.1" fill="url(#e83)" stroke="#1978bd"/>
<polygon points="323.7,220.7 331,218.4 325.5,218.2 318.2,220.5" fill="url(#e84)" stroke="#0075d3"/>
<polygon points="363.9,204.1 366.3,213 361.1,211.3 358.7,205.6" fill="url(#e85)" stroke="#1679c0"/>
<polygon points="268.7,218.6 269.6,220.5 267.7,217.8 266.9,217.6" fill="url(#e86)" stroke="#0275d1"/>
<polygon points="281.1,231.9 283.5,248.5 278.8,244.5 276.4,228.8" fill="url(#e87)" stroke="#0d63de"/>
<polygon points="304,225.8 310.9,223 305.7,221.7 298.8,224.7" fill="url(#e88)" stroke="#0472d7"/>
<polygon points="371,215.9 371.8,219 367.1,216.3 366.3,213" fill="url(#e89)" stroke="#0877cd"/>
<polygon points="271.7,220.3 272.5,224.5 269.6,220.5 268.7,218.6" fill="url(#e90)" stroke="#0075d3"/>
<polygon points="343.4,204 349.6,201.7 344.1,214.1 337.9,216.2" fill="url(#e91)" stroke="#1978bd"/>
<polygon points="288.7,243.2 292.6,236.7 287.4,239.3 283.5,248.5" fill="url(#e92)" stroke="#0e61dd"/>
<polygon points="297.8,230 304,225.8 298.8,224.7 292.6,230.1" fill="url(#e93)" stroke="#0671d9"/>
<polygon points="316.4,223.1 323.7,220.7 318.2,220.5 310.9,223" fill="url(#e94)" stroke="#0075d3"/>
<polygon points="292.6,236.7 297.8,230 292.6,230.1 287.4,239.3" fill="url(#e95)" stroke="#096bdd"/>
<polygon points="275.6,222.5 276.4,228.8 272.5,224.5 271.7,220.3" fill="url(#e96)" stroke="#0174d5"/>
<polygon points="374.9,219.2 375.7,221.2 371.8,219 371,215.9" fill="url(#e97)" stroke="#0877cd"/>
<polygon points="368.6,207.5 371,215.9 366.3,213 363.9,204.1" fill="url(#e98)" stroke="#1c78bb"/>
<polygon points="360,197.2 363.9,204.1 358.7,205.6 354.8,201.5" fill="url(#e99)" stroke="#2f75b6"/>
<polygon points="336.5,207.2 343.4,204 337.9,216.2 331,218.4" fill="url(#e100)" stroke="#1978bd"/>
<polygon points="286.3,232.5 288.7,243.2 283.5,248.5 281.1,231.9" fill="url(#e101)" stroke="#0b67de"/>
<polygon points="309.5,225.3 316.4,223.1 310.9,223 304,225.8" fill="url(#e102)" stroke="#0075d3"/>
<polygon points="377.8,222.1 378.7,222.9 375.7,221.2 374.9,219.2" fill="url(#e103)" stroke="#0776ce"/>
<polygon points="280.3,225.2 281.1,231.9 276.4,228.8 275.6,222.5" fill="url(#e104)" stroke="#0174d5"/>
<polygon points="372.5,213.7 374.9,219.2 371,215.9 368.6,207.5" fill="url(#e105)" stroke="#1679c0"/>
<polygon points="329.2,211.7 336.5,207.2 331,218.4 323.7,220.7" fill="url(#e106)" stroke="#1679c0"/>
<polygon points="379.7,223.9 380.5,223.9 378.7,222.9 377.8,222.1" fill="#19bfb6" stroke="#0476d0"/>
<polygon points="375.4,219.8 377.8,222.1 374.9,219.2 372.5,213.7" fill="url(#e108)" stroke="#0c78c8"/>
<polygon points="303.3,227.4 309.5,225.3 304,225.8 297.8,230" fill="url(#e109)" stroke="#0074d4"/>
<polygon points="380.3,224.6 381.1,224.3 380.5,223.9 379.7,223.9" fill="#19bfb6" stroke="#0476d0"/>
<polygon points="354.8,196.6 360,197.2 354.8,201.5 349.6,201.7" fill="url(#e111)" stroke="#3279b5"/>
<polygon points="377.2,223.9 379.7,223.9 377.8,222.1 375.4,219.8" fill="url(#e112)" stroke="#0877cd"/>
<polygon points="377.9,225.3 380.3,224.6 379.7,223.9 377.2,223.9" fill="#19bfb6" stroke="#0476d0"/>
<polygon points="364.7,201 368.6,207.5 363.9,204.1 360,197.2" fill="url(#e114)" stroke="#3277b7"/>
<polygon points="298.1,229 303.3,227.4 297.8,230 292.6,236.7" fill="url(#e115)" stroke="#0373d6"/>
<polygon points="321.9,216.8 329.2,211.7 323.7,220.7 316.4,223.1" fill="url(#e116)" stroke="#1178c4"/>
<polygon points="285.5,228.2 286.3,232.5 281.1,231.9 280.3,225.2" fill="url(#e117)" stroke="#0174d5"/>
<polygon points="294.2,230.3 298.1,229 292.6,236.7 288.7,243.2" fill="url(#e118)" stroke="#0670d9"/>
<polygon points="374,226.6 377.9,225.3 377.2,223.9 373.3,224.5" fill="url(#e119)" stroke="#0776ce"/>
<polygon points="373.3,224.5 377.2,223.9 375.4,219.8 371.5,218.5" fill="url(#e120)" stroke="#0a78ca"/>
<polygon points="348.6,199 354.8,196.6 349.6,201.7 343.4,204" fill="url(#e121)" stroke="#317ab5"/>
<polygon points="368.6,209.7 372.5,213.7 368.6,207.5 364.7,201" fill="url(#e122)" stroke="#2d75b5"/>
<polygon points="371.5,218.5 375.4,219.8 372.5,213.7 368.6,209.7" fill="url(#e123)" stroke="#1c78bb"/>
<polygon points="291.8,231.1 294.2,230.3 288.7,243.2 286.3,232.5" fill="url(#e124)" stroke="#0571d8"/>
<polygon points="315,218.3 321.9,216.8 316.4,223.1 309.5,225.3" fill="url(#e125)" stroke="#0e78c6"/>
<polygon points="368.8,228.3 374,226.6 373.3,224.5 368.2,226" fill="url(#e126)" stroke="#0776ce"/>
<polygon points="368.2,226 373.3,224.5 371.5,218.5 366.3,219.5" fill="url(#e127)" stroke="#0e78c6"/>
<polygon points="359.5,200.5 364.7,201 360,197.2 354.8,196.6" fill="url(#e128)" stroke="#317fb2"/>
<polygon points="341.7,202.7 348.6,199 343.4,204 336.5,207.2" fill="url(#e129)" stroke="#3279b5"/>
<polygon points="366.3,219.5 371.5,218.5 368.6,209.7 363.4,209.9" fill="url(#e130)" stroke="#2477b5"/>
<polygon points="363.4,209.9 368.6,209.7 364.7,201 359.5,200.5" fill="url(#e131)" stroke="#3278b6"/>
<polygon points="291,231.4 291.8,231.1 286.3,232.5 285.5,228.2" fill="url(#e132)" stroke="#0075d3"/>
<polygon points="362.6,230.3 368.8,228.3 368.2,226 362,228.1" fill="url(#e133)" stroke="#0776ce"/>
<polygon points="334.4,208.4 341.7,202.7 336.5,207.2 329.2,211.7" fill="url(#e134)" stroke="#3277b7"/>
<polygon points="362,228.1 368.2,226 366.3,219.5 360.1,221.6" fill="url(#e135)" stroke="#0e78c6"/>
<polygon points="308.8,215.6 315,218.3 309.5,225.3 303.3,227.4" fill="url(#e136)" stroke="#1379c2"/>
<polygon points="353.3,202.9 359.5,200.5 354.8,196.6 348.6,199" fill="url(#e137)" stroke="#3181b1"/>
<polygon points="360.1,221.6 366.3,219.5 363.4,209.9 357.2,212.1" fill="url(#e138)" stroke="#2776b4"/>
<polygon points="327.1,214.8 334.4,208.4 329.2,211.7 321.9,216.8" fill="url(#e139)" stroke="#2d75b5"/>
<polygon points="357.2,212.1 363.4,209.9 359.5,200.5 353.3,202.9" fill="url(#e140)" stroke="#3279b5"/>
<polygon points="355.7,232.5 362.6,230.3 362,228.1 355.1,230.4" fill="url(#e141)" stroke="#0776ce"/>
<polygon points="355.1,230.4 362,228.1 360.1,221.6 353.2,224.3" fill="url(#e142)" stroke="#0e78c6"/>
<polygon points="303.6,221 308.8,215.6 303.3,227.4 298.1,229" fill="url(#e143)" stroke="#1379c2"/>
<polygon points="346.4,206.5 353.3,202.9 348.6,199 341.7,202.7" fill="url(#e144)" stroke="#317fb2"/>
<polygon points="299.7,229.1 303.6,221 298.1,229 294.2,230.3" fill="url(#e145)" stroke="#0c78c8"/>
<polygon points="297.3,233.2 299.7,229.1 294.2,230.3 291.8,231.1" fill="url(#e146)" stroke="#0877cd"/>
<polygon points="353.2,224.3 360.1,221.6 357.2,212.1 350.3,215.3" fill="url(#e147)" stroke="#2477b5"/>
<polygon points="296.5,234.5 297.3,233.2 291.8,231.1 291,231.4" fill="#19bfb6" stroke="#0476d0"/>
<polygon points="320.2,216 327.1,214.8 321.9,216.8 315,218.3" fill="url(#e149)" stroke="#2976b3"/>
<polygon points="350.3,215.3 357.2,212.1 353.3,202.9 346.4,206.5" fill="url(#e150)" stroke="#3279b5"/>
<polygon points="339.1,212 346.4,206.5 341.7,202.7 334.4,208.4" fill="url(#e151)" stroke="#317cb4"/>
<polygon points="348.4,234.9 355.7,232.5 355.1,230.4 347.8,233.1" fill="url(#e152)" stroke="#0776ce"/>
<polygon points="347.8,233.1 355.1,230.4 353.2,224.3 346,227.7" fill="url(#e153)" stroke="#0c78c8"/>
<polygon points="346,227.7 353.2,224.3 350.3,215.3 343,219.8" fill="url(#e154)" stroke="#2277b7"/>
<polygon points="331.8,218.3 339.1,212 334.4,208.4 327.1,214.8" fill="url(#e155)" stroke="#3276b8"/>
<polygon points="343,219.8 350.3,215.3 346.4,206.5 339.1,212" fill="url(#e156)" stroke="#3276b8"/>
<polygon points="341.1,237.3 348.4,234.9 347.8,233.1 340.5,235.7" fill="url(#e157)" stroke="#0776ce"/>
<polygon points="301.7,237.5 302.5,235.6 297.3,233.2 296.5,234.5" fill="url(#e158)" stroke="#0776ce"/>
<polygon points="340.5,235.7 347.8,233.1 346,227.7 338.7,231.3" fill="url(#e159)" stroke="#0a78ca"/>
<polygon points="335.7,224.8 343,219.8 339.1,212 331.8,218.3" fill="url(#e160)" stroke="#2b75b4"/>
<polygon points="314,210.9 320.2,216 315,218.3 308.8,215.6" fill="url(#e161)" stroke="#3276b8"/>
<polygon points="338.7,231.3 346,227.7 343,219.8 335.7,224.8" fill="url(#e162)" stroke="#1978bd"/>
<polygon points="302.5,235.6 305,229.8 299.7,229.1 297.3,233.2" fill="url(#e163)" stroke="#0a78ca"/>
<polygon points="324.9,219.6 331.8,218.3 327.1,214.8 320.2,216" fill="url(#e164)" stroke="#2f75b6"/>
<polygon points="305,229.8 308.9,218.2 303.6,221 299.7,229.1" fill="url(#e165)" stroke="#2277b7"/>
<polygon points="328.8,226.4 335.7,224.8 331.8,218.3 324.9,219.6" fill="url(#e166)" stroke="#2976b3"/>
<polygon points="334.2,239.5 341.1,237.3 340.5,235.7 333.6,237.9" fill="url(#e167)" stroke="#0776ce"/>
<polygon points="308.9,218.2 314,210.9 308.8,215.6 303.6,221" fill="url(#e168)" stroke="#3276b8"/>
<polygon points="333.6,237.9 340.5,235.7 338.7,231.3 331.8,233.3" fill="url(#e169)" stroke="#0a78ca"/>
<polygon points="331.8,233.3 338.7,231.3 335.7,224.8 328.8,226.4" fill="url(#e170)" stroke="#1679c0"/>
<polygon points="306.4,240.2 307.2,238.4 302.5,235.6 301.7,237.5" fill="url(#e171)" stroke="#0776ce"/>
<polygon points="307.2,238.4 309.6,232.9 305,229.8 302.5,235.6" fill="url(#e172)" stroke="#0c78c8"/>
<polygon points="318.7,214.8 324.9,219.6 320.2,216 314,210.9" fill="url(#e173)" stroke="#3279b5"/>
<polygon points="328,241.5 334.2,239.5 333.6,237.9 327.4,239.3" fill="url(#e174)" stroke="#0776ce"/>
<polygon points="327.4,239.3 333.6,237.9 331.8,233.3 325.6,233" fill="url(#e175)" stroke="#0c78c8"/>
<polygon points="309.6,232.9 313.5,221.8 308.9,218.2 305,229.8" fill="url(#e176)" stroke="#2776b4"/>
<polygon points="325.6,233 331.8,233.3 328.8,226.4 322.6,223.8" fill="url(#e177)" stroke="#1f78b9"/>
<polygon points="310.3,242.4 311.1,241.1 307.2,238.4 306.4,240.2" fill="url(#e178)" stroke="#0776ce"/>
<polygon points="322.6,223.8 328.8,226.4 324.9,219.6 318.7,214.8" fill="url(#e179)" stroke="#3175b8"/>
<polygon points="311.1,241.1 313.5,237.1 309.6,232.9 307.2,238.4" fill="url(#e180)" stroke="#0a78ca"/>
<polygon points="313.5,221.8 318.7,214.8 314,210.9 308.9,218.2" fill="url(#e181)" stroke="#317ab5"/>
<polygon points="322.8,243.2 328,241.5 327.4,239.3 322.2,241.5" fill="url(#e182)" stroke="#0776ce"/>
<polygon points="322.2,241.5 327.4,239.3 325.6,233 320.4,236.5" fill="url(#e183)" stroke="#0c78c8"/>
<polygon points="313.5,237.1 317.4,229.1 313.5,221.8 309.6,232.9" fill="url(#e184)" stroke="#1f78b9"/>
<polygon points="313.3,244.1 314.1,243.3 311.1,241.1 310.3,242.4" fill="#19bfb6" stroke="#0476d0"/>
<polygon points="314.1,243.3 316.5,241 313.5,237.1 311.1,241.1" fill="url(#e186)" stroke="#0977cb"/>
<polygon points="320.4,236.5 325.6,233 322.6,223.8 317.4,229.1" fill="url(#e187)" stroke="#1f78b9"/>
<polygon points="316.5,241 320.4,236.5 317.4,229.1 313.5,237.1" fill="url(#e188)" stroke="#1178c4"/>
<polygon points="317.4,229.1 322.6,223.8 318.7,214.8 313.5,221.8" fill="url(#e189)" stroke="#3276b8"/>
<polygon points="318.3,243.6 322.2,241.5 320.4,236.5 316.5,241" fill="url(#e190)" stroke="#0977cb"/>
<polygon points="318.9,244.5 322.8,243.2 322.2,241.5 318.3,243.6" fill="url(#e191)" stroke="#0776ce"/>
<polygon points="315.9,244.7 318.3,243.6 316.5,241 314.1,243.3" fill="url(#e192)" stroke="#0776ce"/>
<polygon points="315.1,245.1 315.9,244.7 314.1,243.3 313.3,244.1" fill="#19bfb6" stroke="#0476d0"/>
<polygon points="316.5,245.2 318.9,244.5 318.3,243.6 315.9,244.7" fill="#19bfb6" stroke="#0476d0"/>
<polygon points="315.7,245.5 316.5,245.2 315.9,244.7 315.1,245.1" fill="#19bfb6" stroke="#0476d0"/></g>
<text transform="translate(263.10,249.15) scale(1,0.868)" font-size="7.2" text-anchor="end" fill="#3a3a3a" stroke="#3a3a3a" stroke-width="0.12">-4</text>
<text transform="translate(263.10,234.00) scale(1,0.868)" font-size="7.2" text-anchor="end" fill="#3a3a3a" stroke="#3a3a3a" stroke-width="0.12">-2</text>
<text transform="translate(263.10,218.85) scale(1,0.868)" font-size="7.2" text-anchor="end" fill="#3a3a3a" stroke="#3a3a3a" stroke-width="0.12">0</text>
<text transform="translate(263.10,203.70) scale(1,0.868)" font-size="7.2" text-anchor="end" fill="#3a3a3a" stroke="#3a3a3a" stroke-width="0.12">2</text>
<text transform="translate(263.10,188.55) scale(1,0.868)" font-size="7.2" text-anchor="end" fill="#3a3a3a" stroke="#3a3a3a" stroke-width="0.12">4</text>
<text transform="translate(311.10,283.87) scale(1,0.868)" font-size="7.3" text-anchor="end" fill="#3a3a3a" stroke="#3a3a3a" stroke-width="0.12">0</text>
<text transform="translate(286.40,269.72) scale(1,0.868)" font-size="7.3" text-anchor="end" fill="#3a3a3a" stroke="#3a3a3a" stroke-width="0.12">0.5</text>
<text transform="translate(261.70,255.57) scale(1,0.868)" font-size="7.3" text-anchor="end" fill="#3a3a3a" stroke="#3a3a3a" stroke-width="0.12">1</text>
<text transform="translate(319.10,284.48) scale(1,0.868)" font-size="7.3" text-anchor="start" fill="#3a3a3a" stroke="#3a3a3a" stroke-width="0.12">0</text>
<text transform="translate(351.80,273.88) scale(1,0.868)" font-size="7.3" text-anchor="start" fill="#3a3a3a" stroke="#3a3a3a" stroke-width="0.12">0.5</text>
<text transform="translate(384.50,263.28) scale(1,0.868)" font-size="7.3" text-anchor="start" fill="#3a3a3a" stroke="#3a3a3a" stroke-width="0.12">1</text>
<text transform="translate(278.50,285.78) scale(1,0.868)" font-size="7.7" text-anchor="middle" fill="#3a3a3a" stroke="#3a3a3a" stroke-width="0.12">y/b</text>
<text transform="translate(356.80,286.38) scale(1,0.868)" font-size="7.7" text-anchor="middle" fill="#3a3a3a" stroke="#3a3a3a" stroke-width="0.12">x/a</text>
<text transform="translate(245.70,180.30) scale(1,0.868)" fill="#4a4a4a" font-size="7.2">&#215;10<tspan font-size="5.2" dy="-3.2">-7</tspan></text>
<g transform="translate(251.00,217.20) scale(1,0.868) rotate(-90) scale(1.3,1)" fill="#333" font-family="Liberation Serif, serif"><text x="-4.25" y="0" font-size="10" font-style="italic">v</text><text x="0.75" y="1.8" font-size="7">0</text><line x1="-3.9" y1="-6.0" x2="0.4" y2="-6.0" stroke="#262626" stroke-width="0.6"/></g>
<line x1="424.40" y1="247.80" x2="490.80" y2="226.50" stroke="#e2e2e2" stroke-width="0.5"/>
<line x1="490.80" y1="226.50" x2="540.00" y2="254.50" stroke="#e2e2e2" stroke-width="0.5"/>
<line x1="424.40" y1="227.40" x2="490.80" y2="206.10" stroke="#e2e2e2" stroke-width="0.5"/>
<line x1="490.80" y1="206.10" x2="540.00" y2="234.10" stroke="#e2e2e2" stroke-width="0.5"/>
<line x1="424.40" y1="207.00" x2="490.80" y2="185.70" stroke="#e2e2e2" stroke-width="0.5"/>
<line x1="490.80" y1="185.70" x2="540.00" y2="213.70" stroke="#e2e2e2" stroke-width="0.5"/>
<line x1="424.40" y1="186.60" x2="490.80" y2="165.30" stroke="#e2e2e2" stroke-width="0.5"/>
<line x1="490.80" y1="165.30" x2="540.00" y2="193.30" stroke="#e2e2e2" stroke-width="0.5"/>
<line x1="424.40" y1="247.80" x2="424.40" y2="186.60" stroke="#e2e2e2" stroke-width="0.5"/>
<line x1="540.00" y1="254.50" x2="540.00" y2="193.30" stroke="#e2e2e2" stroke-width="0.5"/>
<line x1="473.60" y1="275.80" x2="424.40" y2="247.80" stroke="#e2e2e2" stroke-width="0.5"/>
<line x1="473.60" y1="275.80" x2="540.00" y2="254.50" stroke="#e2e2e2" stroke-width="0.5"/>
<line x1="457.60" y1="237.15" x2="457.60" y2="175.95" stroke="#e2e2e2" stroke-width="0.5"/>
<line x1="515.40" y1="240.50" x2="515.40" y2="179.30" stroke="#e2e2e2" stroke-width="0.5"/>
<line x1="506.80" y1="265.15" x2="457.60" y2="237.15" stroke="#e2e2e2" stroke-width="0.5"/>
<line x1="449.00" y1="261.80" x2="515.40" y2="240.50" stroke="#e2e2e2" stroke-width="0.5"/>
<line x1="490.80" y1="226.50" x2="490.80" y2="165.30" stroke="#e2e2e2" stroke-width="0.5"/>
<line x1="490.80" y1="226.50" x2="490.80" y2="165.30" stroke="#e2e2e2" stroke-width="0.5"/>
<line x1="540.00" y1="254.50" x2="490.80" y2="226.50" stroke="#e2e2e2" stroke-width="0.5"/>
<line x1="424.40" y1="247.80" x2="490.80" y2="226.50" stroke="#e2e2e2" stroke-width="0.5"/>
<line x1="473.60" y1="275.80" x2="540.00" y2="254.50" stroke="#4a4a4a" stroke-width="0.7"/>
<line x1="473.60" y1="275.80" x2="424.40" y2="247.80" stroke="#4a4a4a" stroke-width="0.7"/>
<line x1="424.40" y1="247.80" x2="424.40" y2="186.60" stroke="#4a4a4a" stroke-width="0.7"/>
<line x1="473.60" y1="275.80" x2="472.62" y2="275.24" stroke="#4a4a4a" stroke-width="0.7"/>
<line x1="473.60" y1="275.80" x2="474.93" y2="275.37" stroke="#4a4a4a" stroke-width="0.7"/>
<line x1="506.80" y1="265.15" x2="505.82" y2="264.59" stroke="#4a4a4a" stroke-width="0.7"/>
<line x1="449.00" y1="261.80" x2="450.33" y2="261.37" stroke="#4a4a4a" stroke-width="0.7"/>
<line x1="540.00" y1="254.50" x2="539.02" y2="253.94" stroke="#4a4a4a" stroke-width="0.7"/>
<line x1="424.40" y1="247.80" x2="425.73" y2="247.37" stroke="#4a4a4a" stroke-width="0.7"/>
<line x1="424.40" y1="247.80" x2="425.73" y2="247.37" stroke="#4a4a4a" stroke-width="0.7"/>
<line x1="424.40" y1="227.40" x2="425.73" y2="226.97" stroke="#4a4a4a" stroke-width="0.7"/>
<line x1="424.40" y1="207.00" x2="425.73" y2="206.57" stroke="#4a4a4a" stroke-width="0.7"/>
<line x1="424.40" y1="186.60" x2="425.73" y2="186.17" stroke="#4a4a4a" stroke-width="0.7"/>
<defs><linearGradient id="f6" gradientUnits="userSpaceOnUse" x1="487.1" y1="228.3" x2="487" y2="227.1"><stop stop-color="#3e26a8"/><stop offset="1" stop-color="#4332cb"/></linearGradient><linearGradient id="f7" gradientUnits="userSpaceOnUse" x1="492.5" y1="229" x2="492.9" y2="226.8"><stop stop-color="#3e26a8"/><stop offset="1" stop-color="#4332cb"/></linearGradient><linearGradient id="f10" gradientUnits="userSpaceOnUse" x1="482.6" y1="229.1" x2="482.2" y2="227.3"><stop stop-color="#402ab4"/><stop offset="1" stop-color="#463cde"/></linearGradient><linearGradient id="f11" gradientUnits="userSpaceOnUse" x1="489.4" y1="228.2" x2="489.5" y2="226.2"><stop stop-color="#422ec0"/><stop offset="1" stop-color="#4747eb"/></linearGradient><linearGradient id="f12" gradientUnits="userSpaceOnUse" x1="475.6" y1="231.4" x2="475.3" y2="230.5"><stop stop-color="#3e26a8"/><stop offset="1" stop-color="#422ec0"/></linearGradient><linearGradient id="f13" gradientUnits="userSpaceOnUse" x1="495.8" y1="229.7" x2="496.4" y2="228.3"><stop stop-color="#402ab4"/><stop offset="1" stop-color="#463cde"/></linearGradient><linearGradient id="f14" gradientUnits="userSpaceOnUse" x1="477" y1="230.4" x2="476.3" y2="227.4"><stop stop-color="#402ab4"/><stop offset="1" stop-color="#484df0"/></linearGradient><linearGradient id="f15" gradientUnits="userSpaceOnUse" x1="501.8" y1="232.8" x2="502.2" y2="232.2"><stop stop-color="#3e26a8"/><stop offset="1" stop-color="#422ec0"/></linearGradient><linearGradient id="f16" gradientUnits="userSpaceOnUse" x1="485" y1="228" x2="484.6" y2="224.1"><stop stop-color="#4332cb"/><stop offset=".50" stop-color="#484df0"/><stop offset="1" stop-color="#4563fd"/></linearGradient><linearGradient id="f17" gradientUnits="userSpaceOnUse" x1="469" y1="233.5" x2="468.6" y2="232.3"><stop stop-color="#3e26a8"/><stop offset="1" stop-color="#422ec0"/></linearGradient><linearGradient id="f18" gradientUnits="userSpaceOnUse" x1="492.5" y1="228.3" x2="493.3" y2="224.8"><stop stop-color="#4332cb"/><stop offset=".50" stop-color="#484df0"/><stop offset="1" stop-color="#4563fd"/></linearGradient><linearGradient id="f19" gradientUnits="userSpaceOnUse" x1="499.9" y1="231.4" x2="500.9" y2="229.2"><stop stop-color="#402ab4"/><stop offset="1" stop-color="#484df0"/></linearGradient><linearGradient id="f20" gradientUnits="userSpaceOnUse" x1="470.5" y1="232" x2="469.4" y2="228.3"><stop stop-color="#422ec0"/><stop offset="1" stop-color="#4852f4"/></linearGradient><linearGradient id="f21" gradientUnits="userSpaceOnUse" x1="461.8" y1="235.8" x2="461.4" y2="234.5"><stop stop-color="#3e26a8"/><stop offset="1" stop-color="#422ec0"/></linearGradient><linearGradient id="f22" gradientUnits="userSpaceOnUse" x1="506.7" y1="235.6" x2="507.2" y2="234.7"><stop stop-color="#3e26a8"/><stop offset="1" stop-color="#422ec0"/></linearGradient><linearGradient id="f23" gradientUnits="userSpaceOnUse" x1="479.5" y1="227.9" x2="478.5" y2="222.3"><stop stop-color="#463cde"/><stop offset=".50" stop-color="#465efb"/><stop offset="1" stop-color="#327cfc"/></linearGradient><linearGradient id="f24" gradientUnits="userSpaceOnUse" x1="488.1" y1="226.4" x2="488.4" y2="220.2"><stop stop-color="#4747eb"/><stop offset=".50" stop-color="#4269fe"/><stop offset="1" stop-color="#2b91ef"/></linearGradient><linearGradient id="f25" gradientUnits="userSpaceOnUse" x1="496.4" y1="228.6" x2="498" y2="223.8"><stop stop-color="#463cde"/><stop offset=".50" stop-color="#465efb"/><stop offset="1" stop-color="#327cfc"/></linearGradient><linearGradient id="f26" gradientUnits="userSpaceOnUse" x1="504.6" y1="233.6" x2="506" y2="230.8"><stop stop-color="#422ec0"/><stop offset="1" stop-color="#4852f4"/></linearGradient><linearGradient id="f27" gradientUnits="userSpaceOnUse" x1="463.4" y1="234" x2="462.2" y2="230"><stop stop-color="#422ec0"/><stop offset="1" stop-color="#4758f8"/></linearGradient><linearGradient id="f28" gradientUnits="userSpaceOnUse" x1="454.4" y1="238.2" x2="454" y2="236.9"><stop stop-color="#3e26a8"/><stop offset="1" stop-color="#422ec0"/></linearGradient><linearGradient id="f29" gradientUnits="userSpaceOnUse" x1="473.1" y1="228.3" x2="471.6" y2="221.6"><stop stop-color="#484df0"/><stop offset=".50" stop-color="#3e6fff"/><stop offset="1" stop-color="#2b91ef"/></linearGradient><linearGradient id="f30" gradientUnits="userSpaceOnUse" x1="512" y1="238.6" x2="512.5" y2="237.6"><stop stop-color="#3e26a8"/><stop offset="1" stop-color="#422ec0"/></linearGradient><linearGradient id="f31" gradientUnits="userSpaceOnUse" x1="456.1" y1="236.3" x2="454.8" y2="232.4"><stop stop-color="#422ec0"/><stop offset="1" stop-color="#4758f8"/></linearGradient><linearGradient id="f32" gradientUnits="userSpaceOnUse" x1="482.7" y1="224.4" x2="482.2" y2="215.9"><stop stop-color="#4563fd"/><stop offset=".50" stop-color="#2b91ef"/><stop offset="1" stop-color="#12b1d6"/></linearGradient><linearGradient id="f33" gradientUnits="userSpaceOnUse" x1="447.2" y1="240.5" x2="446.8" y2="239.3"><stop stop-color="#3e26a8"/><stop offset="1" stop-color="#422ec0"/></linearGradient><linearGradient id="f34" gradientUnits="userSpaceOnUse" x1="501" y1="229.4" x2="503.3" y2="224"><stop stop-color="#484df0"/><stop offset=".50" stop-color="#3e6fff"/><stop offset="1" stop-color="#2b91ef"/></linearGradient><linearGradient id="f35" gradientUnits="userSpaceOnUse" x1="491.9" y1="224.7" x2="493.3" y2="216.8"><stop stop-color="#4563fd"/><stop offset=".50" stop-color="#2b91ef"/><stop offset="1" stop-color="#12b1d6"/></linearGradient><linearGradient id="f36" gradientUnits="userSpaceOnUse" x1="509.8" y1="236.2" x2="511.4" y2="233.3"><stop stop-color="#422ec0"/><stop offset="1" stop-color="#4758f8"/></linearGradient><linearGradient id="f37" gradientUnits="userSpaceOnUse" x1="466.1" y1="229.2" x2="464.2" y2="222.8"><stop stop-color="#4852f4"/><stop offset=".50" stop-color="#3875fe"/><stop offset="1" stop-color="#2797eb"/></linearGradient><linearGradient id="f38" gradientUnits="userSpaceOnUse" x1="517.5" y1="241.7" x2="518" y2="240.7"><stop stop-color="#3e26a8"/><stop offset="1" stop-color="#422ec0"/></linearGradient><linearGradient id="f39" gradientUnits="userSpaceOnUse" x1="448.8" y1="238.9" x2="447.6" y2="235.4"><stop stop-color="#422ec0"/><stop offset="1" stop-color="#4852f4"/></linearGradient><linearGradient id="f40" gradientUnits="userSpaceOnUse" x1="440.5" y1="242.6" x2="440.2" y2="241.8"><stop stop-color="#3e26a8"/><stop offset="1" stop-color="#422ec0"/></linearGradient><linearGradient id="f41" gradientUnits="userSpaceOnUse" x1="476.5" y1="222.6" x2="475" y2="213.5"><stop stop-color="#327cfc"/><stop offset=".33" stop-color="#259be8"/><stop offset=".67" stop-color="#12b1d6"/><stop offset="1" stop-color="#24c1ae"/></linearGradient><linearGradient id="f42" gradientUnits="userSpaceOnUse" x1="458.8" y1="231.4" x2="456.7" y2="225.4"><stop stop-color="#4852f4"/><stop offset=".50" stop-color="#3875fe"/><stop offset="1" stop-color="#2797eb"/></linearGradient><linearGradient id="f43" gradientUnits="userSpaceOnUse" x1="515.3" y1="239.2" x2="516.9" y2="236.6"><stop stop-color="#422ec0"/><stop offset="1" stop-color="#4758f8"/></linearGradient><linearGradient id="f44" gradientUnits="userSpaceOnUse" x1="442" y1="241.4" x2="441" y2="239"><stop stop-color="#402ab4"/><stop offset="1" stop-color="#484df0"/></linearGradient><linearGradient id="f46" gradientUnits="userSpaceOnUse" x1="506.2" y1="230.9" x2="508.7" y2="226.1"><stop stop-color="#4852f4"/><stop offset=".50" stop-color="#3875fe"/><stop offset="1" stop-color="#2797eb"/></linearGradient><linearGradient id="f47" gradientUnits="userSpaceOnUse" x1="496.3" y1="223.3" x2="498.8" y2="215.4"><stop stop-color="#327cfc"/><stop offset=".33" stop-color="#259be8"/><stop offset=".67" stop-color="#12b1d6"/><stop offset="1" stop-color="#24c1ae"/></linearGradient><linearGradient id="f48" gradientUnits="userSpaceOnUse" x1="486.5" y1="220.2" x2="487.1" y2="210.1"><stop stop-color="#2b91ef"/><stop offset=".33" stop-color="#18addb"/><stop offset=".67" stop-color="#19bfb6"/><stop offset="1" stop-color="#4acb84"/></linearGradient><linearGradient id="f49" gradientUnits="userSpaceOnUse" x1="522.8" y1="244.7" x2="523.3" y2="243.9"><stop stop-color="#3e26a8"/><stop offset="1" stop-color="#422ec0"/></linearGradient><linearGradient id="f50" gradientUnits="userSpaceOnUse" x1="436" y1="243.9" x2="435.4" y2="242.4"><stop stop-color="#402ab4"/><stop offset="1" stop-color="#463cde"/></linearGradient><linearGradient id="f52" gradientUnits="userSpaceOnUse" x1="451.7" y1="234.7" x2="449.4" y2="229.3"><stop stop-color="#484df0"/><stop offset=".50" stop-color="#3e6fff"/><stop offset="1" stop-color="#2b91ef"/></linearGradient><linearGradient id="f54" gradientUnits="userSpaceOnUse" x1="430.1" y1="244.9" x2="433" y2="247.1"><stop stop-color="#3e26a8"/><stop offset="1" stop-color="#4332cb"/></linearGradient><linearGradient id="f55" gradientUnits="userSpaceOnUse" x1="469.6" y1="222.1" x2="467.5" y2="214"><stop stop-color="#2b91ef"/><stop offset=".50" stop-color="#08b5d0"/><stop offset="1" stop-color="#31c69f"/></linearGradient><linearGradient id="f56" gradientUnits="userSpaceOnUse" x1="520.8" y1="242.6" x2="522.2" y2="240.3"><stop stop-color="#422ec0"/><stop offset="1" stop-color="#4852f4"/></linearGradient><linearGradient id="f57" gradientUnits="userSpaceOnUse" x1="444.8" y1="238.3" x2="442.9" y2="234.7"><stop stop-color="#463cde"/><stop offset=".50" stop-color="#465efb"/><stop offset="1" stop-color="#327cfc"/></linearGradient><linearGradient id="f60" gradientUnits="userSpaceOnUse" x1="511.6" y1="233.6" x2="514.2" y2="229.6"><stop stop-color="#4852f4"/><stop offset=".50" stop-color="#3875fe"/><stop offset="1" stop-color="#2797eb"/></linearGradient><linearGradient id="f62" gradientUnits="userSpaceOnUse" x1="438.3" y1="244.5" x2="438" y2="237"><stop stop-color="#4332cb"/><stop offset=".50" stop-color="#484df0"/><stop offset="1" stop-color="#4563fd"/></linearGradient><linearGradient id="f63" gradientUnits="userSpaceOnUse" x1="527.9" y1="247.6" x2="528.2" y2="247.1"><stop stop-color="#3e26a8"/><stop offset="1" stop-color="#422ec0"/></linearGradient><linearGradient id="f64" gradientUnits="userSpaceOnUse" x1="430.8" y1="245.2" x2="437.6" y2="245.4"><stop stop-color="#422ec0"/><stop offset="1" stop-color="#4747eb"/></linearGradient><linearGradient id="f65" gradientUnits="userSpaceOnUse" x1="428.8" y1="249.4" x2="432.8" y2="246.2"><stop stop-color="#3e26a8"/><stop offset="1" stop-color="#4332cb"/></linearGradient><linearGradient id="f66" gradientUnits="userSpaceOnUse" x1="501.4" y1="223.1" x2="504.3" y2="216.9"><stop stop-color="#2b91ef"/><stop offset=".50" stop-color="#08b5d0"/><stop offset="1" stop-color="#31c69f"/></linearGradient><linearGradient id="f67" gradientUnits="userSpaceOnUse" x1="462.5" y1="223.9" x2="459.8" y2="216.9"><stop stop-color="#2b91ef"/><stop offset=".50" stop-color="#08b5d0"/><stop offset="1" stop-color="#31c69f"/></linearGradient><linearGradient id="f69" gradientUnits="userSpaceOnUse" x1="480.4" y1="216.1" x2="479.7" y2="205.7"><stop stop-color="#12b1d6"/><stop offset=".33" stop-color="#2cc4a7"/><stop offset=".67" stop-color="#64cd6f"/><stop offset="1" stop-color="#b9c431"/></linearGradient><linearGradient id="f70" gradientUnits="userSpaceOnUse" x1="525.9" y1="245.9" x2="526.9" y2="244.5"><stop stop-color="#402ab4"/><stop offset="1" stop-color="#484df0"/></linearGradient><linearGradient id="f71" gradientUnits="userSpaceOnUse" x1="517.2" y1="237.5" x2="519.4" y2="234.5"><stop stop-color="#484df0"/><stop offset=".50" stop-color="#3e6fff"/><stop offset="1" stop-color="#2b91ef"/></linearGradient><linearGradient id="f72" gradientUnits="userSpaceOnUse" x1="490.8" y1="216.4" x2="492.7" y2="206.8"><stop stop-color="#12b1d6"/><stop offset=".33" stop-color="#2cc4a7"/><stop offset=".67" stop-color="#64cd6f"/><stop offset="1" stop-color="#b9c431"/></linearGradient><linearGradient id="f74" gradientUnits="userSpaceOnUse" x1="455.5" y1="228" x2="452.3" y2="222.3"><stop stop-color="#327cfc"/><stop offset=".33" stop-color="#259be8"/><stop offset=".67" stop-color="#12b1d6"/><stop offset="1" stop-color="#24c1ae"/></linearGradient><linearGradient id="f76" gradientUnits="userSpaceOnUse" x1="448.6" y1="233.7" x2="445.9" y2="229.5"><stop stop-color="#4563fd"/><stop offset=".50" stop-color="#2b91ef"/><stop offset="1" stop-color="#12b1d6"/></linearGradient><linearGradient id="f77" gradientUnits="userSpaceOnUse" x1="432.2" y1="250.9" x2="436" y2="246.5"><stop stop-color="#402ab4"/><stop offset="1" stop-color="#463cde"/></linearGradient><linearGradient id="f78" gradientUnits="userSpaceOnUse" x1="433.3" y1="246.6" x2="441.9" y2="242.1"><stop stop-color="#4332cb"/><stop offset=".50" stop-color="#484df0"/><stop offset="1" stop-color="#4563fd"/></linearGradient><linearGradient id="f79" gradientUnits="userSpaceOnUse" x1="437.7" y1="238.5" x2="446.5" y2="238.9"><stop stop-color="#4747eb"/><stop offset=".50" stop-color="#4269fe"/><stop offset="1" stop-color="#2b91ef"/></linearGradient><linearGradient id="f80" gradientUnits="userSpaceOnUse" x1="534.1" y1="250.2" x2="525.7" y2="246.8"><stop stop-color="#402ab4"/><stop offset="1" stop-color="#463cde"/></linearGradient><linearGradient id="f81" gradientUnits="userSpaceOnUse" x1="522.1" y1="243.2" x2="524.5" y2="238.9"><stop stop-color="#463cde"/><stop offset=".50" stop-color="#465efb"/><stop offset="1" stop-color="#327cfc"/></linearGradient><linearGradient id="f82" gradientUnits="userSpaceOnUse" x1="506.8" y1="225.3" x2="509.8" y2="221"><stop stop-color="#2b91ef"/><stop offset=".50" stop-color="#08b5d0"/><stop offset="1" stop-color="#31c69f"/></linearGradient><linearGradient id="f84" gradientUnits="userSpaceOnUse" x1="473.8" y1="213.6" x2="472" y2="205.6"><stop stop-color="#24c1ae"/><stop offset=".33" stop-color="#4acb84"/><stop offset=".67" stop-color="#9dc943"/><stop offset="1" stop-color="#dcbd29"/></linearGradient><linearGradient id="f85" gradientUnits="userSpaceOnUse" x1="535.5" y1="251.2" x2="531.7" y2="252.6"><stop stop-color="#3e26a8"/><stop offset="1" stop-color="#4332cb"/></linearGradient><linearGradient id="f87" gradientUnits="userSpaceOnUse" x1="530.3" y1="246.1" x2="523.5" y2="246.9"><stop stop-color="#4332cb"/><stop offset=".50" stop-color="#484df0"/><stop offset="1" stop-color="#4563fd"/></linearGradient><linearGradient id="f88" gradientUnits="userSpaceOnUse" x1="436" y1="254.4" x2="437" y2="252.6"><stop stop-color="#3e26a8"/><stop offset="1" stop-color="#422ec0"/></linearGradient><linearGradient id="f89" gradientUnits="userSpaceOnUse" x1="436.4" y1="252.8" x2="440.2" y2="247.4"><stop stop-color="#402ab4"/><stop offset="1" stop-color="#484df0"/></linearGradient><linearGradient id="f92" gradientUnits="userSpaceOnUse" x1="512.5" y1="230" x2="514.9" y2="227.5"><stop stop-color="#327cfc"/><stop offset=".33" stop-color="#259be8"/><stop offset=".67" stop-color="#12b1d6"/><stop offset="1" stop-color="#24c1ae"/></linearGradient><linearGradient id="f93" gradientUnits="userSpaceOnUse" x1="495.8" y1="214.2" x2="498.3" y2="207.9"><stop stop-color="#24c1ae"/><stop offset=".33" stop-color="#4acb84"/><stop offset=".67" stop-color="#9dc943"/><stop offset="1" stop-color="#dcbd29"/></linearGradient><linearGradient id="f94" gradientUnits="userSpaceOnUse" x1="437.6" y1="247.9" x2="445.9" y2="240"><stop stop-color="#463cde"/><stop offset=".50" stop-color="#465efb"/><stop offset="1" stop-color="#327cfc"/></linearGradient><linearGradient id="f95" gradientUnits="userSpaceOnUse" x1="533.8" y1="252.5" x2="526.5" y2="248.5"><stop stop-color="#422ec0"/><stop offset="1" stop-color="#4747eb"/></linearGradient><linearGradient id="f97" gradientUnits="userSpaceOnUse" x1="484.8" y1="209.9" x2="485.3" y2="201"><stop stop-color="#4acb84"/><stop offset=".33" stop-color="#9dc943"/><stop offset=".67" stop-color="#e6bb2d"/><stop offset="1" stop-color="#fccf30"/></linearGradient><linearGradient id="f98" gradientUnits="userSpaceOnUse" x1="466.8" y1="215.1" x2="464.1" y2="209"><stop stop-color="#24c1ae"/><stop offset=".33" stop-color="#4acb84"/><stop offset=".67" stop-color="#9dc943"/><stop offset="1" stop-color="#dcbd29"/></linearGradient><linearGradient id="f99" gradientUnits="userSpaceOnUse" x1="534.2" y1="255.7" x2="531.7" y2="251.6"><stop stop-color="#3e26a8"/><stop offset="1" stop-color="#4332cb"/></linearGradient><linearGradient id="f100" gradientUnits="userSpaceOnUse" x1="440.2" y1="238.4" x2="452.8" y2="233.4"><stop stop-color="#4563fd"/><stop offset=".50" stop-color="#2b91ef"/><stop offset="1" stop-color="#12b1d6"/></linearGradient><linearGradient id="f101" gradientUnits="userSpaceOnUse" x1="522.3" y1="235.5" x2="514" y2="236.4"><stop stop-color="#4563fd"/><stop offset=".50" stop-color="#2b91ef"/><stop offset="1" stop-color="#12b1d6"/></linearGradient><linearGradient id="f103" gradientUnits="userSpaceOnUse" x1="447.7" y1="226.2" x2="456.3" y2="227.6"><stop stop-color="#2b91ef"/><stop offset=".33" stop-color="#18addb"/><stop offset=".67" stop-color="#19bfb6"/><stop offset="1" stop-color="#4acb84"/></linearGradient><linearGradient id="f104" gradientUnits="userSpaceOnUse" x1="459.6" y1="219.8" x2="456.9" y2="216.4"><stop stop-color="#12b1d6"/><stop offset=".33" stop-color="#2cc4a7"/><stop offset=".67" stop-color="#64cd6f"/><stop offset="1" stop-color="#b9c431"/></linearGradient><linearGradient id="f105" gradientUnits="userSpaceOnUse" x1="527.9" y1="245.8" x2="516.4" y2="240.3"><stop stop-color="#4747eb"/><stop offset=".50" stop-color="#4269fe"/><stop offset="1" stop-color="#2b91ef"/></linearGradient><linearGradient id="f106" gradientUnits="userSpaceOnUse" x1="440.8" y1="257.1" x2="442" y2="255.1"><stop stop-color="#3e26a8"/><stop offset="1" stop-color="#422ec0"/></linearGradient><linearGradient id="f107" gradientUnits="userSpaceOnUse" x1="529" y1="253.4" x2="522.5" y2="245.2"><stop stop-color="#4332cb"/><stop offset=".50" stop-color="#484df0"/><stop offset="1" stop-color="#4563fd"/></linearGradient><linearGradient id="f108" gradientUnits="userSpaceOnUse" x1="441.2" y1="255.1" x2="445.1" y2="249"><stop stop-color="#422ec0"/><stop offset="1" stop-color="#4852f4"/></linearGradient><linearGradient id="f109" gradientUnits="userSpaceOnUse" x1="529.6" y1="256.7" x2="527.2" y2="251.6"><stop stop-color="#402ab4"/><stop offset="1" stop-color="#463cde"/></linearGradient><linearGradient id="f111" gradientUnits="userSpaceOnUse" x1="501.4" y1="215.5" x2="503.6" y2="212.9"><stop stop-color="#24c1ae"/><stop offset=".33" stop-color="#4acb84"/><stop offset=".67" stop-color="#9dc943"/><stop offset="1" stop-color="#dcbd29"/></linearGradient><linearGradient id="f112" gradientUnits="userSpaceOnUse" x1="442.8" y1="249.2" x2="450.2" y2="239.7"><stop stop-color="#484df0"/><stop offset=".50" stop-color="#3e6fff"/><stop offset="1" stop-color="#2b91ef"/></linearGradient><linearGradient id="f113" gradientUnits="userSpaceOnUse" x1="478.2" y1="205.9" x2="477.4" y2="200.3"><stop stop-color="#b9c431"/><stop offset=".50" stop-color="#febe3c"/><stop offset="1" stop-color="#f5e327"/></linearGradient><linearGradient id="f114" gradientUnits="userSpaceOnUse" x1="524.3" y1="259.5" x2="523.7" y2="257.6"><stop stop-color="#3e26a8"/><stop offset="1" stop-color="#422ec0"/></linearGradient><linearGradient id="f115" gradientUnits="userSpaceOnUse" x1="510.8" y1="220.2" x2="504.4" y2="222"><stop stop-color="#12b1d6"/><stop offset=".33" stop-color="#2cc4a7"/><stop offset=".67" stop-color="#64cd6f"/><stop offset="1" stop-color="#b9c431"/></linearGradient><linearGradient id="f116" gradientUnits="userSpaceOnUse" x1="523.9" y1="258.1" x2="521.4" y2="251.9"><stop stop-color="#402ab4"/><stop offset="1" stop-color="#484df0"/></linearGradient><linearGradient id="f117" gradientUnits="userSpaceOnUse" x1="489.7" y1="206" x2="491" y2="201.6"><stop stop-color="#b9c431"/><stop offset=".50" stop-color="#febe3c"/><stop offset="1" stop-color="#f5e327"/></linearGradient><linearGradient id="f118" gradientUnits="userSpaceOnUse" x1="446.1" y1="260.1" x2="447.3" y2="258.1"><stop stop-color="#3e26a8"/><stop offset="1" stop-color="#422ec0"/></linearGradient><linearGradient id="f119" gradientUnits="userSpaceOnUse" x1="522.9" y1="253.6" x2="517.3" y2="243.2"><stop stop-color="#463cde"/><stop offset=".50" stop-color="#465efb"/><stop offset="1" stop-color="#327cfc"/></linearGradient><linearGradient id="f120" gradientUnits="userSpaceOnUse" x1="445.3" y1="239.5" x2="457.1" y2="228.9"><stop stop-color="#327cfc"/><stop offset=".33" stop-color="#259be8"/><stop offset=".67" stop-color="#12b1d6"/><stop offset="1" stop-color="#24c1ae"/></linearGradient><linearGradient id="f121" gradientUnits="userSpaceOnUse" x1="521.9" y1="245.7" x2="511.1" y2="233.6"><stop stop-color="#4563fd"/><stop offset=".50" stop-color="#2b91ef"/><stop offset="1" stop-color="#12b1d6"/></linearGradient><linearGradient id="f122" gradientUnits="userSpaceOnUse" x1="519.5" y1="233.2" x2="504.8" y2="227"><stop stop-color="#2b91ef"/><stop offset=".33" stop-color="#18addb"/><stop offset=".67" stop-color="#19bfb6"/><stop offset="1" stop-color="#4acb84"/></linearGradient><linearGradient id="f123" gradientUnits="userSpaceOnUse" x1="446.6" y1="257.8" x2="450.2" y2="251.6"><stop stop-color="#422ec0"/><stop offset="1" stop-color="#4758f8"/></linearGradient><linearGradient id="f124" gradientUnits="userSpaceOnUse" x1="471" y1="206.5" x2="469.8" y2="204.5"><stop stop-color="#b9c431"/><stop offset=".50" stop-color="#febe3c"/><stop offset="1" stop-color="#f5e327"/></linearGradient><linearGradient id="f125" gradientUnits="userSpaceOnUse" x1="449.6" y1="226" x2="464.4" y2="219.9"><stop stop-color="#12b1d6"/><stop offset=".33" stop-color="#2cc4a7"/><stop offset=".67" stop-color="#64cd6f"/><stop offset="1" stop-color="#b9c431"/></linearGradient><linearGradient id="f126" gradientUnits="userSpaceOnUse" x1="517.7" y1="261.6" x2="517" y2="259.4"><stop stop-color="#3e26a8"/><stop offset="1" stop-color="#422ec0"/></linearGradient><linearGradient id="f127" gradientUnits="userSpaceOnUse" x1="459.7" y1="211.6" x2="467.2" y2="213.9"><stop stop-color="#4acb84"/><stop offset=".33" stop-color="#9dc943"/><stop offset=".67" stop-color="#e6bb2d"/><stop offset="1" stop-color="#fccf30"/></linearGradient><linearGradient id="f128" gradientUnits="userSpaceOnUse" x1="517.3" y1="259.7" x2="514.8" y2="252.8"><stop stop-color="#422ec0"/><stop offset="1" stop-color="#4852f4"/></linearGradient><linearGradient id="f129" gradientUnits="userSpaceOnUse" x1="448.5" y1="251.3" x2="454.7" y2="241.4"><stop stop-color="#4852f4"/><stop offset=".50" stop-color="#3875fe"/><stop offset="1" stop-color="#2797eb"/></linearGradient><linearGradient id="f130" gradientUnits="userSpaceOnUse" x1="516.1" y1="254.1" x2="511.2" y2="242.6"><stop stop-color="#484df0"/><stop offset=".50" stop-color="#3e6fff"/><stop offset="1" stop-color="#2b91ef"/></linearGradient><linearGradient id="f131" gradientUnits="userSpaceOnUse" x1="496.8" y1="206.2" x2="494.8" y2="207.8"><stop stop-color="#b9c431"/><stop offset=".50" stop-color="#febe3c"/><stop offset="1" stop-color="#f5e327"/></linearGradient><linearGradient id="f132" gradientUnits="userSpaceOnUse" x1="451.6" y1="263.3" x2="452.8" y2="261.2"><stop stop-color="#3e26a8"/><stop offset="1" stop-color="#422ec0"/></linearGradient><linearGradient id="f133" gradientUnits="userSpaceOnUse" x1="514.2" y1="244.9" x2="506" y2="230.1"><stop stop-color="#327cfc"/><stop offset=".33" stop-color="#259be8"/><stop offset=".67" stop-color="#12b1d6"/><stop offset="1" stop-color="#24c1ae"/></linearGradient><linearGradient id="f134" gradientUnits="userSpaceOnUse" x1="452.1" y1="261" x2="455.6" y2="254.7"><stop stop-color="#422ec0"/><stop offset="1" stop-color="#4758f8"/></linearGradient><linearGradient id="f135" gradientUnits="userSpaceOnUse" x1="483.1" y1="200.9" x2="483.2" y2="200.5"><stop stop-color="#fccf30"/><stop offset="1" stop-color="#f9fb15"/></linearGradient><linearGradient id="f136" gradientUnits="userSpaceOnUse" x1="452" y1="241.1" x2="460.5" y2="228.7"><stop stop-color="#2b91ef"/><stop offset=".50" stop-color="#08b5d0"/><stop offset="1" stop-color="#31c69f"/></linearGradient><linearGradient id="f137" gradientUnits="userSpaceOnUse" x1="510.5" y1="263.9" x2="509.8" y2="261.6"><stop stop-color="#3e26a8"/><stop offset="1" stop-color="#422ec0"/></linearGradient><linearGradient id="f138" gradientUnits="userSpaceOnUse" x1="508.6" y1="217.6" x2="493" y2="211.9"><stop stop-color="#4acb84"/><stop offset=".33" stop-color="#9dc943"/><stop offset=".67" stop-color="#e6bb2d"/><stop offset="1" stop-color="#fccf30"/></linearGradient><linearGradient id="f139" gradientUnits="userSpaceOnUse" x1="512" y1="232.9" x2="499.4" y2="218.2"><stop stop-color="#12b1d6"/><stop offset=".33" stop-color="#2cc4a7"/><stop offset=".67" stop-color="#64cd6f"/><stop offset="1" stop-color="#b9c431"/></linearGradient><linearGradient id="f140" gradientUnits="userSpaceOnUse" x1="510.1" y1="261.7" x2="507.8" y2="254.7"><stop stop-color="#422ec0"/><stop offset="1" stop-color="#4758f8"/></linearGradient><linearGradient id="f141" gradientUnits="userSpaceOnUse" x1="454.4" y1="254.7" x2="459.8" y2="244.2"><stop stop-color="#4852f4"/><stop offset=".50" stop-color="#3875fe"/><stop offset="1" stop-color="#2797eb"/></linearGradient><linearGradient id="f142" gradientUnits="userSpaceOnUse" x1="508.5" y1="255.1" x2="504.6" y2="243.9"><stop stop-color="#4852f4"/><stop offset=".50" stop-color="#3875fe"/><stop offset="1" stop-color="#2797eb"/></linearGradient><linearGradient id="f143" gradientUnits="userSpaceOnUse" x1="456.8" y1="228.6" x2="467.3" y2="215.8"><stop stop-color="#24c1ae"/><stop offset=".33" stop-color="#4acb84"/><stop offset=".67" stop-color="#9dc943"/><stop offset="1" stop-color="#dcbd29"/></linearGradient><linearGradient id="f144" gradientUnits="userSpaceOnUse" x1="457" y1="266.3" x2="458.1" y2="264.3"><stop stop-color="#3e26a8"/><stop offset="1" stop-color="#422ec0"/></linearGradient><linearGradient id="f145" gradientUnits="userSpaceOnUse" x1="470.9" y1="201.4" x2="480.8" y2="204.8"><stop stop-color="#fccf30"/><stop offset="1" stop-color="#f9fb15"/></linearGradient><linearGradient id="f146" gradientUnits="userSpaceOnUse" x1="503.2" y1="266.3" x2="502.4" y2="264"><stop stop-color="#3e26a8"/><stop offset="1" stop-color="#422ec0"/></linearGradient><linearGradient id="f147" gradientUnits="userSpaceOnUse" x1="462.6" y1="215.8" x2="474.8" y2="205.7"><stop stop-color="#b9c431"/><stop offset=".50" stop-color="#febe3c"/><stop offset="1" stop-color="#f5e327"/></linearGradient><linearGradient id="f148" gradientUnits="userSpaceOnUse" x1="457.6" y1="264.5" x2="460.9" y2="258"><stop stop-color="#422ec0"/><stop offset="1" stop-color="#4852f4"/></linearGradient><linearGradient id="f149" gradientUnits="userSpaceOnUse" x1="502.6" y1="264.1" x2="500.5" y2="257.1"><stop stop-color="#422ec0"/><stop offset="1" stop-color="#4758f8"/></linearGradient><linearGradient id="f150" gradientUnits="userSpaceOnUse" x1="505.9" y1="244.8" x2="500.4" y2="230.5"><stop stop-color="#2b91ef"/><stop offset=".50" stop-color="#08b5d0"/><stop offset="1" stop-color="#31c69f"/></linearGradient><linearGradient id="f151" gradientUnits="userSpaceOnUse" x1="495.3" y1="206.1" x2="481.8" y2="201.4"><stop stop-color="#fccf30"/><stop offset="1" stop-color="#f9fb15"/></linearGradient><linearGradient id="f152" gradientUnits="userSpaceOnUse" x1="458.4" y1="244.9" x2="465" y2="231.1"><stop stop-color="#2b91ef"/><stop offset=".50" stop-color="#08b5d0"/><stop offset="1" stop-color="#31c69f"/></linearGradient><linearGradient id="f153" gradientUnits="userSpaceOnUse" x1="460.1" y1="259.3" x2="465" y2="247.8"><stop stop-color="#484df0"/><stop offset=".50" stop-color="#3e6fff"/><stop offset="1" stop-color="#2b91ef"/></linearGradient><linearGradient id="f154" gradientUnits="userSpaceOnUse" x1="500.8" y1="257.6" x2="497.5" y2="246.2"><stop stop-color="#4852f4"/><stop offset=".50" stop-color="#3875fe"/><stop offset="1" stop-color="#2797eb"/></linearGradient><linearGradient id="f155" gradientUnits="userSpaceOnUse" x1="502.2" y1="232.1" x2="495.4" y2="216.6"><stop stop-color="#24c1ae"/><stop offset=".33" stop-color="#4acb84"/><stop offset=".67" stop-color="#9dc943"/><stop offset="1" stop-color="#dcbd29"/></linearGradient><linearGradient id="f156" gradientUnits="userSpaceOnUse" x1="497.9" y1="219.1" x2="489.8" y2="205.2"><stop stop-color="#b9c431"/><stop offset=".50" stop-color="#febe3c"/><stop offset="1" stop-color="#f5e327"/></linearGradient><linearGradient id="f157" gradientUnits="userSpaceOnUse" x1="495.9" y1="268.6" x2="495.2" y2="266.4"><stop stop-color="#3e26a8"/><stop offset="1" stop-color="#422ec0"/></linearGradient><linearGradient id="f158" gradientUnits="userSpaceOnUse" x1="464.3" y1="233.1" x2="470.7" y2="217.5"><stop stop-color="#24c1ae"/><stop offset=".33" stop-color="#4acb84"/><stop offset=".67" stop-color="#9dc943"/><stop offset="1" stop-color="#dcbd29"/></linearGradient><linearGradient id="f159" gradientUnits="userSpaceOnUse" x1="462" y1="269.2" x2="463" y2="267.4"><stop stop-color="#3e26a8"/><stop offset="1" stop-color="#422ec0"/></linearGradient><linearGradient id="f160" gradientUnits="userSpaceOnUse" x1="495.3" y1="266.8" x2="493.3" y2="259.7"><stop stop-color="#422ec0"/><stop offset="1" stop-color="#4852f4"/></linearGradient><linearGradient id="f161" gradientUnits="userSpaceOnUse" x1="497.7" y1="247.4" x2="493.8" y2="232.5"><stop stop-color="#2b91ef"/><stop offset=".50" stop-color="#08b5d0"/><stop offset="1" stop-color="#31c69f"/></linearGradient><linearGradient id="f162" gradientUnits="userSpaceOnUse" x1="462.9" y1="267.9" x2="465.6" y2="261.8"><stop stop-color="#402ab4"/><stop offset="1" stop-color="#484df0"/></linearGradient><linearGradient id="f163" gradientUnits="userSpaceOnUse" x1="464.5" y1="251.4" x2="469.7" y2="235.1"><stop stop-color="#327cfc"/><stop offset=".33" stop-color="#259be8"/><stop offset=".67" stop-color="#12b1d6"/><stop offset="1" stop-color="#24c1ae"/></linearGradient><linearGradient id="f164" gradientUnits="userSpaceOnUse" x1="480.9" y1="211.8" x2="481.6" y2="200.3"><stop stop-color="#fccf30"/><stop offset="1" stop-color="#f9fb15"/></linearGradient><linearGradient id="f165" gradientUnits="userSpaceOnUse" x1="493.3" y1="261.4" x2="490.5" y2="249.2"><stop stop-color="#484df0"/><stop offset=".50" stop-color="#3e6fff"/><stop offset="1" stop-color="#2b91ef"/></linearGradient><linearGradient id="f166" gradientUnits="userSpaceOnUse" x1="471.8" y1="221.3" x2="476.4" y2="206.3"><stop stop-color="#b9c431"/><stop offset=".50" stop-color="#febe3c"/><stop offset="1" stop-color="#f5e327"/></linearGradient><linearGradient id="f167" gradientUnits="userSpaceOnUse" x1="465.7" y1="264.2" x2="469.3" y2="252.9"><stop stop-color="#463cde"/><stop offset=".50" stop-color="#465efb"/><stop offset="1" stop-color="#327cfc"/></linearGradient><linearGradient id="f168" gradientUnits="userSpaceOnUse" x1="493.3" y1="234.9" x2="489.6" y2="218.5"><stop stop-color="#24c1ae"/><stop offset=".33" stop-color="#4acb84"/><stop offset=".67" stop-color="#9dc943"/><stop offset="1" stop-color="#dcbd29"/></linearGradient><linearGradient id="f169" gradientUnits="userSpaceOnUse" x1="489.2" y1="270.8" x2="488.6" y2="268.8"><stop stop-color="#3e26a8"/><stop offset="1" stop-color="#422ec0"/></linearGradient><linearGradient id="f170" gradientUnits="userSpaceOnUse" x1="487.7" y1="222.2" x2="485.4" y2="206.9"><stop stop-color="#b9c431"/><stop offset=".50" stop-color="#febe3c"/><stop offset="1" stop-color="#f5e327"/></linearGradient><linearGradient id="f171" gradientUnits="userSpaceOnUse" x1="470.9" y1="241.5" x2="474.8" y2="222"><stop stop-color="#12b1d6"/><stop offset=".33" stop-color="#2cc4a7"/><stop offset=".67" stop-color="#64cd6f"/><stop offset="1" stop-color="#b9c431"/></linearGradient><linearGradient id="f172" gradientUnits="userSpaceOnUse" x1="489.9" y1="252.9" x2="487.1" y2="236"><stop stop-color="#327cfc"/><stop offset=".33" stop-color="#259be8"/><stop offset=".67" stop-color="#12b1d6"/><stop offset="1" stop-color="#24c1ae"/></linearGradient><linearGradient id="f173" gradientUnits="userSpaceOnUse" x1="470.5" y1="258.2" x2="473.6" y2="242"><stop stop-color="#4563fd"/><stop offset=".50" stop-color="#2b91ef"/><stop offset="1" stop-color="#12b1d6"/></linearGradient><linearGradient id="f174" gradientUnits="userSpaceOnUse" x1="488.4" y1="269.4" x2="486.8" y2="263"><stop stop-color="#402ab4"/><stop offset="1" stop-color="#484df0"/></linearGradient><linearGradient id="f175" gradientUnits="userSpaceOnUse" x1="486.2" y1="265.4" x2="484.3" y2="253.8"><stop stop-color="#463cde"/><stop offset=".50" stop-color="#465efb"/><stop offset="1" stop-color="#327cfc"/></linearGradient><linearGradient id="f177" gradientUnits="userSpaceOnUse" x1="478.8" y1="231.1" x2="480" y2="211.7"><stop stop-color="#4acb84"/><stop offset=".33" stop-color="#9dc943"/><stop offset=".67" stop-color="#e6bb2d"/><stop offset="1" stop-color="#fccf30"/></linearGradient><linearGradient id="f178" gradientUnits="userSpaceOnUse" x1="482.4" y1="258.9" x2="481.4" y2="242.5"><stop stop-color="#4563fd"/><stop offset=".50" stop-color="#2b91ef"/><stop offset="1" stop-color="#12b1d6"/></linearGradient><linearGradient id="f179" gradientUnits="userSpaceOnUse" x1="477.1" y1="250.5" x2="478.3" y2="231.1"><stop stop-color="#2b91ef"/><stop offset=".33" stop-color="#18addb"/><stop offset=".67" stop-color="#19bfb6"/><stop offset="1" stop-color="#4acb84"/></linearGradient><linearGradient id="f180" gradientUnits="userSpaceOnUse" x1="467.5" y1="271" x2="469.5" y2="265.7"><stop stop-color="#402ab4"/><stop offset="1" stop-color="#463cde"/></linearGradient><linearGradient id="f181" gradientUnits="userSpaceOnUse" x1="485" y1="242.2" x2="483.5" y2="222.6"><stop stop-color="#12b1d6"/><stop offset=".33" stop-color="#2cc4a7"/><stop offset=".67" stop-color="#64cd6f"/><stop offset="1" stop-color="#b9c431"/></linearGradient><linearGradient id="f182" gradientUnits="userSpaceOnUse" x1="470.7" y1="268.6" x2="472.7" y2="258.7"><stop stop-color="#4332cb"/><stop offset=".50" stop-color="#484df0"/><stop offset="1" stop-color="#4563fd"/></linearGradient><linearGradient id="f183" gradientUnits="userSpaceOnUse" x1="475.8" y1="264.4" x2="476.6" y2="250.5"><stop stop-color="#4747eb"/><stop offset=".50" stop-color="#4269fe"/><stop offset="1" stop-color="#2b91ef"/></linearGradient><linearGradient id="f184" gradientUnits="userSpaceOnUse" x1="479.9" y1="269.1" x2="479.1" y2="259.2"><stop stop-color="#4332cb"/><stop offset=".50" stop-color="#484df0"/><stop offset="1" stop-color="#4563fd"/></linearGradient><linearGradient id="f185" gradientUnits="userSpaceOnUse" x1="482.4" y1="271.8" x2="481.3" y2="266.4"><stop stop-color="#402ab4"/><stop offset="1" stop-color="#463cde"/></linearGradient><linearGradient id="f187" gradientUnits="userSpaceOnUse" x1="474.8" y1="271.8" x2="475.2" y2="264.5"><stop stop-color="#422ec0"/><stop offset="1" stop-color="#4747eb"/></linearGradient><linearGradient id="f188" gradientUnits="userSpaceOnUse" x1="471.3" y1="273.4" x2="472.4" y2="269.1"><stop stop-color="#3e26a8"/><stop offset="1" stop-color="#4332cb"/></linearGradient><linearGradient id="f190" gradientUnits="userSpaceOnUse" x1="477.5" y1="273.7" x2="477" y2="269.5"><stop stop-color="#3e26a8"/><stop offset="1" stop-color="#4332cb"/></linearGradient></defs><g stroke-width="0.65" stroke-linejoin="round"><polygon points="490.6,227 491.4,226.9 490.8,226.5 490,226.8" fill="#3e26a8" stroke="#0c57cd"/>
<polygon points="488.1,227.6 490.6,227 490,226.8 487.5,227.6" fill="#3e26a8" stroke="#0c57cd"/>
<polygon points="492.4,227.8 493.2,227.9 491.4,226.9 490.6,227" fill="#3e26a8" stroke="#0c57cd"/>
<polygon points="489.9,227.7 492.4,227.8 490.6,227 488.1,227.6" fill="#402ab4" stroke="#0c58d0"/>
<polygon points="484.2,228.5 488.1,227.6 487.5,227.6 483.6,228.8" fill="#3e26a8" stroke="#0c57cd"/>
<polygon points="495.3,229.2 496.2,229.6 493.2,227.9 492.4,227.8" fill="#3e26a8" stroke="#0c57cd"/>
<polygon points="486,227.6 489.9,227.7 488.1,227.6 484.2,228.5" fill="url(#f6)" stroke="#0d59d2"/>
<polygon points="492.9,228 495.3,229.2 492.4,227.8 489.9,227.7" fill="url(#f7)" stroke="#0d59d2"/>
<polygon points="478.9,229.7 484.2,228.5 483.6,228.8 478.3,230.5" fill="#402ab4" stroke="#0c58d0"/>
<polygon points="499.2,230.9 500.1,231.8 496.2,229.6 495.3,229.2" fill="#402ab4" stroke="#0c58d0"/>
<polygon points="480.7,227.5 486,227.6 484.2,228.5 478.9,229.7" fill="url(#f10)" stroke="#0d5ad4"/>
<polygon points="488.9,226.1 492.9,228 489.9,227.7 486,227.6" fill="url(#f11)" stroke="#0d5bd6"/>
<polygon points="472.6,231.3 478.9,229.7 478.3,230.5 472,232.5" fill="url(#f12)" stroke="#0c58d0"/>
<polygon points="496.8,228.4 499.2,230.9 495.3,229.2 492.9,228" fill="url(#f13)" stroke="#0d5ad4"/>
<polygon points="474.4,227.8 480.7,227.5 478.9,229.7 472.6,231.3" fill="url(#f14)" stroke="#0d5bd6"/>
<polygon points="503.9,233.1 504.7,234.4 500.1,231.8 499.2,230.9" fill="url(#f15)" stroke="#0c58d0"/>
<polygon points="483.7,224.1 488.9,226.1 486,227.6 480.7,227.5" fill="url(#f16)" stroke="#0e5edb"/>
<polygon points="465.6,233.3 472.6,231.3 472,232.5 465,234.8" fill="url(#f17)" stroke="#0c58d0"/>
<polygon points="492.8,224.6 496.8,228.4 492.9,228 488.9,226.1" fill="url(#f18)" stroke="#0e5edb"/>
<polygon points="501.4,229.4 503.9,233.1 499.2,230.9 496.8,228.4" fill="url(#f19)" stroke="#0d5bd6"/>
<polygon points="467.4,228.8 474.4,227.8 472.6,231.3 465.6,233.3" fill="url(#f20)" stroke="#0d5cd8"/>
<polygon points="458.2,235.5 465.6,233.3 465,234.8 457.6,237.2" fill="url(#f21)" stroke="#0c58d0"/>
<polygon points="509.1,235.8 509.9,237.4 504.7,234.4 503.9,233.1" fill="url(#f22)" stroke="#0c58d0"/>
<polygon points="477.4,222.3 483.7,224.1 480.7,227.5 474.4,227.8" fill="url(#f23)" stroke="#0e61dd"/>
<polygon points="487.6,220 492.8,224.6 488.9,226.1 483.7,224.1" fill="url(#f24)" stroke="#0d65de"/>
<polygon points="497.5,223.5 501.4,229.4 496.8,228.4 492.8,224.6" fill="url(#f25)" stroke="#0e61dd"/>
<polygon points="506.6,231.1 509.1,235.8 503.9,233.1 501.4,229.4" fill="url(#f26)" stroke="#0d5cd8"/>
<polygon points="460,230.7 467.4,228.8 465.6,233.3 458.2,235.5" fill="url(#f27)" stroke="#0e5dd9"/>
<polygon points="450.8,238 458.2,235.5 457.6,237.2 450.2,239.5" fill="url(#f28)" stroke="#0c58d0"/>
<polygon points="470.4,221.8 477.4,222.3 474.4,227.8 467.4,228.8" fill="url(#f29)" stroke="#0d65de"/>
<polygon points="514.6,238.8 515.4,240.5 509.9,237.4 509.1,235.8" fill="url(#f30)" stroke="#0c58d0"/>
<polygon points="452.6,233.5 460,230.7 458.2,235.5 450.8,238" fill="url(#f31)" stroke="#0e5dd9"/>
<polygon points="481.3,215.8 487.6,220 483.7,224.1 477.4,222.3" fill="url(#f32)" stroke="#086cdc"/>
<polygon points="443.8,240.6 450.8,238 450.2,239.5 443.2,241.8" fill="url(#f33)" stroke="#0c58d0"/>
<polygon points="502.7,223.7 506.6,231.1 501.4,229.4 497.5,223.5" fill="url(#f34)" stroke="#0d65de"/>
<polygon points="492.2,216.5 497.5,223.5 492.8,224.6 487.6,220" fill="url(#f35)" stroke="#086cdc"/>
<polygon points="512.1,233.7 514.6,238.8 509.1,235.8 506.6,231.1" fill="url(#f36)" stroke="#0e5dd9"/>
<polygon points="463,223.2 470.4,221.8 467.4,228.8 460,230.7" fill="url(#f37)" stroke="#0b67de"/>
<polygon points="520,242 520.9,243.6 515.4,240.5 514.6,238.8" fill="url(#f38)" stroke="#0c58d0"/>
<polygon points="445.6,237.1 452.6,233.5 450.8,238 443.8,240.6" fill="url(#f39)" stroke="#0d5cd8"/>
<polygon points="437.5,243 443.8,240.6 443.2,241.8 436.9,243.8" fill="url(#f40)" stroke="#0c58d0"/>
<polygon points="474.2,213.5 481.3,215.8 477.4,222.3 470.4,221.8" fill="url(#f41)" stroke="#0671d9"/>
<polygon points="455.6,226.6 463,223.2 460,230.7 452.6,233.5" fill="url(#f42)" stroke="#0b67de"/>
<polygon points="517.6,237.3 520,242 514.6,238.8 512.1,233.7" fill="url(#f43)" stroke="#0e5dd9"/>
<polygon points="439.3,240.8 445.6,237.1 443.8,240.6 437.5,243" fill="url(#f44)" stroke="#0d5bd6"/>
<polygon points="432.3,245.2 437.5,243 436.9,243.8 431.6,245.5" fill="#402ab4" stroke="#0c58d0"/>
<polygon points="508.2,225.8 512.1,233.7 506.6,231.1 502.7,223.7" fill="url(#f46)" stroke="#0b67de"/>
<polygon points="497.4,214.8 502.7,223.7 497.5,223.5 492.2,216.5" fill="url(#f47)" stroke="#0671d9"/>
<polygon points="485.9,209.9 492.2,216.5 487.6,220 481.3,215.8" fill="url(#f48)" stroke="#0174d5"/>
<polygon points="525.2,245.3 526.1,246.6 520.9,243.6 520,242" fill="url(#f49)" stroke="#0c58d0"/>
<polygon points="434.1,244.2 439.3,240.8 437.5,243 432.3,245.2" fill="url(#f50)" stroke="#0d5ad4"/>
<polygon points="428.3,246.8 432.3,245.2 431.6,245.5 427.7,246.7" fill="#3e26a8" stroke="#0c57cd"/>
<polygon points="448.6,231.6 455.6,226.6 452.6,233.5 445.6,237.1" fill="url(#f52)" stroke="#0d65de"/>
<polygon points="425.8,247.8 428.3,246.8 427.7,246.7 425.2,247.5" fill="#3e26a8" stroke="#0c57cd"/>
<polygon points="430.1,246.9 434.1,244.2 432.3,245.2 428.3,246.8" fill="url(#f54)" stroke="#0d59d2"/>
<polygon points="466.9,214.1 474.2,213.5 470.4,221.8 463,223.2" fill="url(#f55)" stroke="#0373d6"/>
<polygon points="522.8,241.5 525.2,245.3 520,242 517.6,237.3" fill="url(#f56)" stroke="#0d5cd8"/>
<polygon points="442.3,237.3 448.6,231.6 445.6,237.1 439.3,240.8" fill="url(#f57)" stroke="#0e61dd"/>
<polygon points="425,248.2 425.8,247.8 425.2,247.5 424.4,247.8" fill="#3e26a8" stroke="#0c57cd"/>
<polygon points="427.7,248.6 430.1,246.9 428.3,246.8 425.8,247.8" fill="#402ab4" stroke="#0c58d0"/>
<polygon points="513.6,229.9 517.6,237.3 512.1,233.7 508.2,225.8" fill="url(#f60)" stroke="#0b67de"/>
<polygon points="426.8,249.2 427.7,248.6 425.8,247.8 425,248.2" fill="#3e26a8" stroke="#0c57cd"/>
<polygon points="437,242.8 442.3,237.3 439.3,240.8 434.1,244.2" fill="url(#f62)" stroke="#0e5edb"/>
<polygon points="529.9,248.4 530.7,249.2 526.1,246.6 525.2,245.3" fill="url(#f63)" stroke="#0c58d0"/>
<polygon points="433.1,247.2 437,242.8 434.1,244.2 430.1,246.9" fill="url(#f64)" stroke="#0d5bd6"/>
<polygon points="430.6,249.9 433.1,247.2 430.1,246.9 427.7,248.6" fill="url(#f65)" stroke="#0d59d2"/>
<polygon points="502.9,216.2 508.2,225.8 502.7,223.7 497.4,214.8" fill="url(#f66)" stroke="#0373d6"/>
<polygon points="459.5,218.2 466.9,214.1 463,223.2 455.6,226.6" fill="url(#f67)" stroke="#0373d6"/>
<polygon points="429.8,250.9 430.6,249.9 427.7,248.6 426.8,249.2" fill="#3e26a8" stroke="#0c57cd"/>
<polygon points="478.9,205.7 485.9,209.9 481.3,215.8 474.2,213.5" fill="url(#f69)" stroke="#0a78ca"/>
<polygon points="527.5,245.9 529.9,248.4 525.2,245.3 522.8,241.5" fill="url(#f70)" stroke="#0d5bd6"/>
<polygon points="518.8,235.7 522.8,241.5 517.6,237.3 513.6,229.9" fill="url(#f71)" stroke="#0d65de"/>
<polygon points="491.1,206.4 497.4,214.8 492.2,216.5 485.9,209.9" fill="url(#f72)" stroke="#0a78ca"/>
<polygon points="533.8,251 534.6,251.4 530.7,249.2 529.9,248.4" fill="#402ab4" stroke="#0c58d0"/>
<polygon points="452.5,225.1 459.5,218.2 455.6,226.6 448.6,231.6" fill="url(#f74)" stroke="#0671d9"/>
<polygon points="433.7,253.1 434.5,251.7 430.6,249.9 429.8,250.9" fill="#402ab4" stroke="#0c58d0"/>
<polygon points="446.2,233.3 452.5,225.1 448.6,231.6 442.3,237.3" fill="url(#f76)" stroke="#086cdc"/>
<polygon points="434.5,251.7 436.9,247.6 433.1,247.2 430.6,249.9" fill="url(#f77)" stroke="#0d5ad4"/>
<polygon points="436.9,247.6 440.9,241.2 437,242.8 433.1,247.2" fill="url(#f78)" stroke="#0e5edb"/>
<polygon points="440.9,241.2 446.2,233.3 442.3,237.3 437,242.8" fill="url(#f79)" stroke="#0d65de"/>
<polygon points="531.3,249.9 533.8,251 529.9,248.4 527.5,245.9" fill="url(#f80)" stroke="#0d5ad4"/>
<polygon points="523.5,242 527.5,245.9 522.8,241.5 518.8,235.7" fill="url(#f81)" stroke="#0e61dd"/>
<polygon points="508.4,221 513.6,229.9 508.2,225.8 502.9,216.2" fill="url(#f82)" stroke="#0373d6"/>
<polygon points="536.7,253.1 537.6,253.1 534.6,251.4 533.8,251" fill="#3e26a8" stroke="#0c57cd"/>
<polygon points="471.5,205.7 478.9,205.7 474.2,213.5 466.9,214.1" fill="url(#f84)" stroke="#1679c0"/>
<polygon points="534.3,253 536.7,253.1 533.8,251 531.3,249.9" fill="url(#f85)" stroke="#0d59d2"/>
<polygon points="538.6,254.3 539.4,254.1 537.6,253.1 536.7,253.1" fill="#3e26a8" stroke="#0c57cd"/>
<polygon points="527.4,248 531.3,249.9 527.5,245.9 523.5,242" fill="url(#f87)" stroke="#0e5edb"/>
<polygon points="438.3,255.7 439.2,253.9 434.5,251.7 433.7,253.1" fill="url(#f88)" stroke="#0c58d0"/>
<polygon points="439.2,253.9 441.6,248.6 436.9,247.6 434.5,251.7" fill="url(#f89)" stroke="#0d5bd6"/>
<polygon points="536.1,254.9 538.6,254.3 536.7,253.1 534.3,253" fill="#402ab4" stroke="#0c58d0"/>
<polygon points="539.2,254.8 540,254.5 539.4,254.1 538.6,254.3" fill="#3e26a8" stroke="#0c57cd"/>
<polygon points="513.6,228.6 518.8,235.7 513.6,229.9 508.4,221" fill="url(#f92)" stroke="#0671d9"/>
<polygon points="496.6,207.1 502.9,216.2 497.4,214.8 491.1,206.4" fill="url(#f93)" stroke="#1679c0"/>
<polygon points="441.6,248.6 445.6,240.2 440.9,241.2 436.9,247.6" fill="url(#f94)" stroke="#0e61dd"/>
<polygon points="530.3,252.8 534.3,253 531.3,249.9 527.4,248" fill="url(#f95)" stroke="#0d5bd6"/>
<polygon points="536.7,255.6 539.2,254.8 538.6,254.3 536.1,254.9" fill="#3e26a8" stroke="#0c57cd"/>
<polygon points="484.1,200.9 491.1,206.4 485.9,209.9 478.9,205.7" fill="url(#f97)" stroke="#2477b5"/>
<polygon points="464.1,210.4 471.5,205.7 466.9,214.1 459.5,218.2" fill="url(#f98)" stroke="#1679c0"/>
<polygon points="532.1,255.8 536.1,254.9 534.3,253 530.3,252.8" fill="url(#f99)" stroke="#0d59d2"/>
<polygon points="445.6,240.2 450.8,229.7 446.2,233.3 440.9,241.2" fill="url(#f100)" stroke="#086cdc"/>
<polygon points="518.2,237.5 523.5,242 518.8,235.7 513.6,228.6" fill="url(#f101)" stroke="#086cdc"/>
<polygon points="532.8,256.8 536.7,255.6 536.1,254.9 532.1,255.8" fill="#3e26a8" stroke="#0c57cd"/>
<polygon points="450.8,229.7 457.1,219.1 452.5,225.1 446.2,233.3" fill="url(#f103)" stroke="#0174d5"/>
<polygon points="457.1,219.1 464.1,210.4 459.5,218.2 452.5,225.1" fill="url(#f104)" stroke="#0a78ca"/>
<polygon points="522.1,245.9 527.4,248 523.5,242 518.2,237.5" fill="url(#f105)" stroke="#0d65de"/>
<polygon points="443.5,258.7 444.4,256.5 439.2,253.9 438.3,255.7" fill="url(#f106)" stroke="#0c58d0"/>
<polygon points="525.1,252.7 530.3,252.8 527.4,248 522.1,245.9" fill="url(#f107)" stroke="#0e5edb"/>
<polygon points="444.4,256.5 446.8,250.2 441.6,248.6 439.2,253.9" fill="url(#f108)" stroke="#0d5cd8"/>
<polygon points="526.9,257 532.1,255.8 530.3,252.8 525.1,252.7" fill="url(#f109)" stroke="#0d5ad4"/>
<polygon points="527.5,258.5 532.8,256.8 532.1,255.8 526.9,257" fill="#402ab4" stroke="#0c58d0"/>
<polygon points="502.1,212.6 508.4,221 502.9,216.2 496.6,207.1" fill="url(#f111)" stroke="#1679c0"/>
<polygon points="446.8,250.2 450.8,240.3 445.6,240.2 441.6,248.6" fill="url(#f112)" stroke="#0d65de"/>
<polygon points="476.7,200.4 484.1,200.9 478.9,205.7 471.5,205.7" fill="url(#f113)" stroke="#3175b8"/>
<polygon points="521.2,260.5 527.5,258.5 526.9,257 520.6,258.6" fill="url(#f114)" stroke="#0c58d0"/>
<polygon points="507.3,222 513.6,228.6 508.4,221 502.1,212.6" fill="url(#f115)" stroke="#0a78ca"/>
<polygon points="520.6,258.6 526.9,257 525.1,252.7 518.8,253" fill="url(#f116)" stroke="#0d5bd6"/>
<polygon points="489.6,201.1 496.6,207.1 491.1,206.4 484.1,200.9" fill="url(#f117)" stroke="#3175b8"/>
<polygon points="449,261.8 449.8,259.5 444.4,256.5 443.5,258.7" fill="url(#f118)" stroke="#0c58d0"/>
<polygon points="518.8,253 525.1,252.7 522.1,245.9 515.8,244.2" fill="url(#f119)" stroke="#0e61dd"/>
<polygon points="450.8,240.3 456,228.1 450.8,229.7 445.6,240.2" fill="url(#f120)" stroke="#0671d9"/>
<polygon points="515.8,244.2 522.1,245.9 518.2,237.5 511.9,233.3" fill="url(#f121)" stroke="#086cdc"/>
<polygon points="511.9,233.3 518.2,237.5 513.6,228.6 507.3,222" fill="url(#f122)" stroke="#0174d5"/>
<polygon points="449.8,259.5 452.3,252.9 446.8,250.2 444.4,256.5" fill="url(#f123)" stroke="#0e5dd9"/>
<polygon points="469.3,205.6 476.7,200.4 471.5,205.7 464.1,210.4" fill="url(#f124)" stroke="#3175b8"/>
<polygon points="456,228.1 462.3,215.6 457.1,219.1 450.8,229.7" fill="url(#f125)" stroke="#0a78ca"/>
<polygon points="514.2,262.8 521.2,260.5 520.6,258.6 513.6,260.6" fill="url(#f126)" stroke="#0c58d0"/>
<polygon points="462.3,215.6 469.3,205.6 464.1,210.4 457.1,219.1" fill="url(#f127)" stroke="#2477b5"/>
<polygon points="513.6,260.6 520.6,258.6 518.8,253 511.8,254" fill="url(#f128)" stroke="#0d5cd8"/>
<polygon points="452.3,252.9 456.2,242.4 450.8,240.3 446.8,250.2" fill="url(#f129)" stroke="#0b67de"/>
<polygon points="511.8,254 518.8,253 515.8,244.2 508.8,243.7" fill="url(#f130)" stroke="#0d65de"/>
<polygon points="495.1,207.1 502.1,212.6 496.6,207.1 489.6,201.1" fill="url(#f131)" stroke="#3175b8"/>
<polygon points="454.5,264.9 455.3,262.8 449.8,259.5 449,261.8" fill="url(#f132)" stroke="#0c58d0"/>
<polygon points="508.8,243.7 515.8,244.2 511.9,233.3 504.9,230.9" fill="url(#f133)" stroke="#0671d9"/>
<polygon points="455.3,262.8 457.8,256.5 452.3,252.9 449.8,259.5" fill="url(#f134)" stroke="#0e5dd9"/>
<polygon points="482.2,200.4 489.6,201.1 484.1,200.9 476.7,200.4" fill="url(#f135)" stroke="#307db3"/>
<polygon points="456.2,242.4 461.5,229.5 456,228.1 450.8,240.3" fill="url(#f136)" stroke="#0373d6"/>
<polygon points="506.8,265.2 514.2,262.8 513.6,260.6 506.2,262.8" fill="url(#f137)" stroke="#0c58d0"/>
<polygon points="500.3,217.8 507.3,222 502.1,212.6 495.1,207.1" fill="url(#f138)" stroke="#2477b5"/>
<polygon points="504.9,230.9 511.9,233.3 507.3,222 500.3,217.8" fill="url(#f139)" stroke="#0a78ca"/>
<polygon points="506.2,262.8 513.6,260.6 511.8,254 504.4,255.9" fill="url(#f140)" stroke="#0e5dd9"/>
<polygon points="457.8,256.5 461.7,246.6 456.2,242.4 452.3,252.9" fill="url(#f141)" stroke="#0b67de"/>
<polygon points="504.4,255.9 511.8,254 508.8,243.7 501.4,245" fill="url(#f142)" stroke="#0b67de"/>
<polygon points="461.5,229.5 467.8,216.4 462.3,215.6 456,228.1" fill="url(#f143)" stroke="#1679c0"/>
<polygon points="459.7,267.9 460.5,266.1 455.3,262.8 454.5,264.9" fill="url(#f144)" stroke="#0c58d0"/>
<polygon points="474.8,205.8 482.2,200.4 476.7,200.4 469.3,205.6" fill="url(#f145)" stroke="#307db3"/>
<polygon points="499.4,267.5 506.8,265.2 506.2,262.8 498.8,265.3" fill="url(#f146)" stroke="#0c58d0"/>
<polygon points="467.8,216.4 474.8,205.8 469.3,205.6 462.3,215.6" fill="url(#f147)" stroke="#3175b8"/>
<polygon points="460.5,266.1 463,260.7 457.8,256.5 455.3,262.8" fill="url(#f148)" stroke="#0d5cd8"/>
<polygon points="498.8,265.3 506.2,262.8 504.4,255.9 497,258.7" fill="url(#f149)" stroke="#0e5dd9"/>
<polygon points="501.4,245 508.8,243.7 504.9,230.9 497.5,231.6" fill="url(#f150)" stroke="#0373d6"/>
<polygon points="487.7,206.6 495.1,207.1 489.6,201.1 482.2,200.4" fill="url(#f151)" stroke="#307db3"/>
<polygon points="461.7,246.6 467,234.3 461.5,229.5 456.2,242.4" fill="url(#f152)" stroke="#0373d6"/>
<polygon points="463,260.7 466.9,252.3 461.7,246.6 457.8,256.5" fill="url(#f153)" stroke="#0d65de"/>
<polygon points="497,258.7 504.4,255.9 501.4,245 494,248.4" fill="url(#f154)" stroke="#0b67de"/>
<polygon points="497.5,231.6 504.9,230.9 500.3,217.8 492.9,217.8" fill="url(#f155)" stroke="#1679c0"/>
<polygon points="492.9,217.8 500.3,217.8 495.1,207.1 487.7,206.6" fill="url(#f156)" stroke="#3175b8"/>
<polygon points="492.4,269.8 499.4,267.5 498.8,265.3 491.8,267.9" fill="url(#f157)" stroke="#0c58d0"/>
<polygon points="467,234.3 473.3,221.9 467.8,216.4 461.5,229.5" fill="url(#f158)" stroke="#1679c0"/>
<polygon points="464.3,270.5 465.2,269.1 460.5,266.1 459.7,267.9" fill="url(#f159)" stroke="#0c58d0"/>
<polygon points="491.8,267.9 498.8,265.3 497,258.7 490,262.3" fill="url(#f160)" stroke="#0d5cd8"/>
<polygon points="494,248.4 501.4,245 497.5,231.6 490.2,235.7" fill="url(#f161)" stroke="#0373d6"/>
<polygon points="465.2,269.1 467.6,265.1 463,260.7 460.5,266.1" fill="url(#f162)" stroke="#0d5bd6"/>
<polygon points="466.9,252.3 472.2,241.9 467,234.3 461.7,246.6" fill="url(#f163)" stroke="#0671d9"/>
<polygon points="480.3,211.8 487.7,206.6 482.2,200.4 474.8,205.8" fill="url(#f164)" stroke="#307db3"/>
<polygon points="490,262.3 497,258.7 494,248.4 487,253.5" fill="url(#f165)" stroke="#0d65de"/>
<polygon points="473.3,221.9 480.3,211.8 474.8,205.8 467.8,216.4" fill="url(#f166)" stroke="#3175b8"/>
<polygon points="467.6,265.1 471.6,258.7 466.9,252.3 463,260.7" fill="url(#f167)" stroke="#0e61dd"/>
<polygon points="490.2,235.7 497.5,231.6 492.9,217.8 485.5,222.6" fill="url(#f168)" stroke="#1679c0"/>
<polygon points="486.1,271.8 492.4,269.8 491.8,267.9 485.5,270.3" fill="url(#f169)" stroke="#0c58d0"/>
<polygon points="485.5,222.6 492.9,217.8 487.7,206.6 480.3,211.8" fill="url(#f170)" stroke="#3175b8"/>
<polygon points="472.2,241.9 478.5,231.2 473.3,221.9 467,234.3" fill="url(#f171)" stroke="#0a78ca"/>
<polygon points="487,253.5 494,248.4 490.2,235.7 483.1,242.5" fill="url(#f172)" stroke="#0671d9"/>
<polygon points="471.6,258.7 476.8,250.7 472.2,241.9 466.9,252.3" fill="url(#f173)" stroke="#086cdc"/>
<polygon points="485.5,270.3 491.8,267.9 490,262.3 483.7,266" fill="url(#f174)" stroke="#0d5bd6"/>
<polygon points="483.7,266 490,262.3 487,253.5 480.7,259.2" fill="url(#f175)" stroke="#0e61dd"/>
<polygon points="468.2,272.7 469.1,271.8 465.2,269.1 464.3,270.5" fill="#402ab4" stroke="#0c58d0"/>
<polygon points="478.5,231.2 485.5,222.6 480.3,211.8 473.3,221.9" fill="url(#f177)" stroke="#2477b5"/>
<polygon points="480.7,259.2 487,253.5 483.1,242.5 476.8,250.7" fill="url(#f178)" stroke="#086cdc"/>
<polygon points="476.8,250.7 483.1,242.5 478.5,231.2 472.2,241.9" fill="url(#f179)" stroke="#0174d5"/>
<polygon points="469.1,271.8 471.5,269 467.6,265.1 465.2,269.1" fill="url(#f180)" stroke="#0d5ad4"/>
<polygon points="483.1,242.5 490.2,235.7 485.5,222.6 478.5,231.2" fill="url(#f181)" stroke="#0a78ca"/>
<polygon points="471.5,269 475.5,264.7 471.6,258.7 467.6,265.1" fill="url(#f182)" stroke="#0e5edb"/>
<polygon points="475.5,264.7 480.7,259.2 476.8,250.7 471.6,258.7" fill="url(#f183)" stroke="#0d65de"/>
<polygon points="478.4,269.4 483.7,266 480.7,259.2 475.5,264.7" fill="url(#f184)" stroke="#0e5edb"/>
<polygon points="480.2,272.5 485.5,270.3 483.7,266 478.4,269.4" fill="url(#f185)" stroke="#0d5ad4"/>
<polygon points="480.8,273.5 486.1,271.8 485.5,270.3 480.2,272.5" fill="#402ab4" stroke="#0c58d0"/>
<polygon points="474.5,272.1 478.4,269.4 475.5,264.7 471.5,269" fill="url(#f187)" stroke="#0d5bd6"/>
<polygon points="472,273.8 474.5,272.1 471.5,269 469.1,271.8" fill="url(#f188)" stroke="#0d59d2"/>
<polygon points="471.2,274.4 472,273.8 469.1,271.8 468.2,272.7" fill="#3e26a8" stroke="#0c57cd"/>
<polygon points="476.3,274.1 480.2,272.5 478.4,269.4 474.5,272.1" fill="url(#f190)" stroke="#0d59d2"/>
<polygon points="476.9,274.7 480.8,273.5 480.2,272.5 476.3,274.1" fill="#3e26a8" stroke="#0c57cd"/>
<polygon points="473.8,275.1 476.3,274.1 474.5,272.1 472,273.8" fill="#402ab4" stroke="#0c58d0"/>
<polygon points="473,275.4 473.8,275.1 472,273.8 471.2,274.4" fill="#3e26a8" stroke="#0c57cd"/>
<polygon points="474.4,275.5 476.9,274.7 476.3,274.1 473.8,275.1" fill="#3e26a8" stroke="#0c57cd"/>
<polygon points="473.6,275.8 474.4,275.5 473.8,275.1 473,275.4" fill="#3e26a8" stroke="#0c57cd"/></g>
<text transform="translate(421.20,249.45) scale(1,0.868)" font-size="7.2" text-anchor="end" fill="#3a3a3a" stroke="#3a3a3a" stroke-width="0.12">0</text>
<text transform="translate(421.20,229.05) scale(1,0.868)" font-size="7.2" text-anchor="end" fill="#3a3a3a" stroke="#3a3a3a" stroke-width="0.12">0.005</text>
<text transform="translate(421.20,208.65) scale(1,0.868)" font-size="7.2" text-anchor="end" fill="#3a3a3a" stroke="#3a3a3a" stroke-width="0.12">0.01</text>
<text transform="translate(421.20,188.25) scale(1,0.868)" font-size="7.2" text-anchor="end" fill="#3a3a3a" stroke="#3a3a3a" stroke-width="0.12">0.015</text>
<text transform="translate(469.00,283.87) scale(1,0.868)" font-size="7.3" text-anchor="end" fill="#3a3a3a" stroke="#3a3a3a" stroke-width="0.12">0</text>
<text transform="translate(444.40,269.87) scale(1,0.868)" font-size="7.3" text-anchor="end" fill="#3a3a3a" stroke="#3a3a3a" stroke-width="0.12">0.5</text>
<text transform="translate(419.80,255.87) scale(1,0.868)" font-size="7.3" text-anchor="end" fill="#3a3a3a" stroke="#3a3a3a" stroke-width="0.12">1</text>
<text transform="translate(477.00,284.48) scale(1,0.868)" font-size="7.3" text-anchor="start" fill="#3a3a3a" stroke="#3a3a3a" stroke-width="0.12">0</text>
<text transform="translate(510.20,273.83) scale(1,0.868)" font-size="7.3" text-anchor="start" fill="#3a3a3a" stroke="#3a3a3a" stroke-width="0.12">0.5</text>
<text transform="translate(543.40,263.18) scale(1,0.868)" font-size="7.3" text-anchor="start" fill="#3a3a3a" stroke="#3a3a3a" stroke-width="0.12">1</text>
<text transform="translate(436.50,285.93) scale(1,0.868)" font-size="7.7" text-anchor="middle" fill="#3a3a3a" stroke="#3a3a3a" stroke-width="0.12">y/b</text>
<text transform="translate(515.20,286.33) scale(1,0.868)" font-size="7.7" text-anchor="middle" fill="#3a3a3a" stroke="#3a3a3a" stroke-width="0.12">x/a</text>
<g transform="translate(397.50,217.20) scale(1,0.868) rotate(-90) scale(1.3,1)" fill="#333" font-family="Liberation Serif, serif"><text x="0" y="0" font-size="10" font-style="italic" text-anchor="middle">w</text><line x1="-2.6" y1="-5.6" x2="2.6" y2="-5.6" stroke="#262626" stroke-width="0.6"/></g>
<g transform="translate(477.00,9.40) scale(1,1.000)"><rect x="0" y="0" width="49.4" height="35.8" rx="1.5" fill="#fbfbfb" stroke="#c9c9c9" stroke-width="0.6"/><text x="3.6" y="11.60" font-size="7.3" fill="#333">X</text><text x="10.6" y="11.60" font-size="7.3" font-weight="bold" fill="#0099ff">0.5</text><text x="3.6" y="20.95" font-size="7.3" fill="#333">Y</text><text x="10.6" y="20.95" font-size="7.3" font-weight="bold" fill="#0099ff">0.5</text><text x="3.6" y="30.30" font-size="7.3" fill="#333">Z</text><text x="10.6" y="30.30" font-size="7.3" font-weight="bold" fill="#0099ff">0.0124364</text></g><circle cx="475.90" cy="44.80" r="1.3" fill="#000"/>
<g transform="translate(482.30,169.30) scale(1,0.868)"><rect x="0" y="0" width="48.6" height="35.3" rx="1.5" fill="#fbfbfb" stroke="#c9c9c9" stroke-width="0.6"/><text x="3.6" y="11.60" font-size="7.3" fill="#333">X</text><text x="10.6" y="11.60" font-size="7.3" font-weight="bold" fill="#0099ff">0.5</text><text x="3.6" y="20.95" font-size="7.3" fill="#333">Y</text><text x="10.6" y="20.95" font-size="7.3" font-weight="bold" fill="#0099ff">0.5</text><text x="3.6" y="30.30" font-size="7.3" fill="#333">Z</text><text x="10.6" y="30.30" font-size="7.3" font-weight="bold" fill="#0099ff">0.0124364</text></g><circle cx="481.80" cy="200.80" r="1.3" fill="#000"/>
<g font-family="DejaVu Serif" font-weight="bold" fill="#111">
<text x="4.0" y="76.0" font-size="10.2">(<tspan font-style="italic">a</tspan>)</text>
<text x="27.4" y="75.6" font-size="10.3" font-style="italic">S<tspan font-size="7" dy="1.9" dx="-0.6">m&#8722;<tspan font-size="5.8">NS</tspan></tspan></text>
<text x="3.0" y="227.8" font-size="10">(<tspan font-style="italic">b</tspan>)</text>
<text x="25.6" y="228.0" font-size="10.3" font-style="italic">S<tspan font-size="7" dy="1.9" dx="-1">im&#8722;<tspan font-size="5.8">NS</tspan></tspan></text>
</g>
</svg>
</body></html>
